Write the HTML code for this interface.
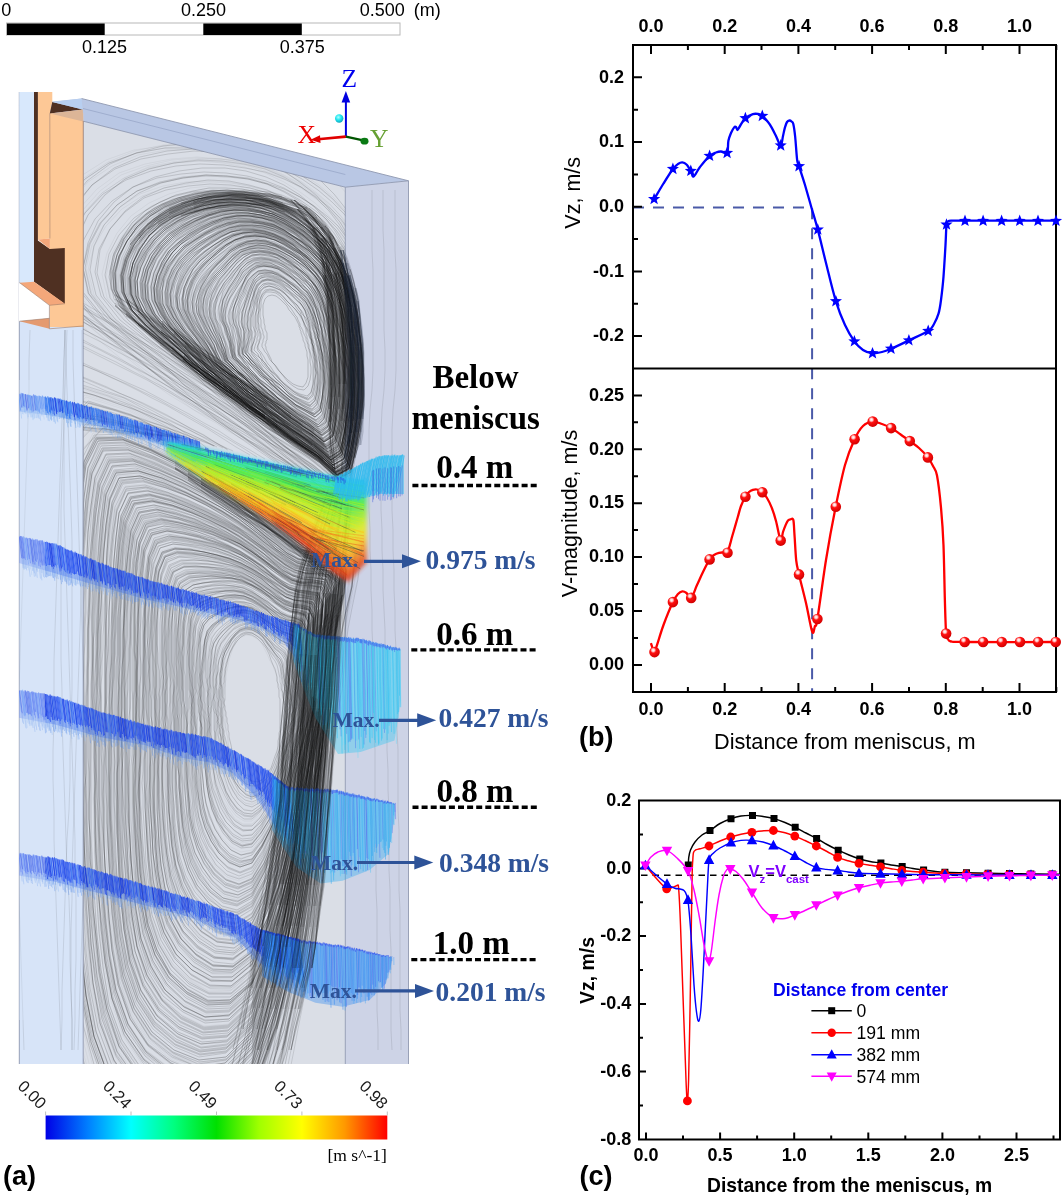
<!DOCTYPE html>
<html><head><meta charset="utf-8"><style>html,body{margin:0;padding:0;background:#fff;}svg{display:block;}</style></head><body>
<svg width="1063" height="1196" viewBox="0 0 1063 1196">
<rect x="6.5" y="23" width="393.5" height="12" fill="#fff" stroke="#b8b8b8" stroke-width="1"/>
<rect x="7" y="23.5" width="97.7" height="11.5" fill="#000"/>
<rect x="203.3" y="23.5" width="98.5" height="11.5" fill="#000"/>
<g font-family="Liberation Sans, Arial, sans-serif" font-size="18" fill="#000"><text x="1.2" y="16.3">0</text><text x="203.5" y="16.3" text-anchor="middle">0.250</text><text x="404.8" y="16.3" text-anchor="end">0.500</text><text x="413.8" y="16.3">(m)</text><text x="104.5" y="52.6" text-anchor="middle">0.125</text><text x="302.2" y="52.6" text-anchor="middle">0.375</text></g>
<rect x="19" y="300" width="64.5" height="764" fill="#d7e4f8"/>
<polygon points="83.2,121.2 345.3,187.2 345.3,1064 83.2,1064" fill="#dadee6"/>
<polygon points="345.3,187.2 408.5,180.8 408.5,1064 345.3,1064" fill="#cdd3e6"/>
<polygon points="18.5,104.9 81.5,98.5 408.5,180.8 345.3,187.2" fill="#b9c7e4"/>
<path d="M83,108.5 L345.3,174.5" stroke="#8d9cc0" stroke-width="0.6" fill="none"/>
<path d="M81.5,98.5 L408.5,180.8 L408.5,1064 M345.3,187.2 L408.5,180.8 M83.2,121.2 L345.3,187.2 L345.3,1064 M19.3,92 V1064 M83.2,121 V1064" fill="none" stroke="#9099b0" stroke-width="0.9"/>
<defs><clipPath id="cdom"><polygon points="19,328 83,328 83,121 345.3,187.2 408.5,180.8 408.5,1064 19,1064"/></clipPath><clipPath id="cface"><polygon points="83.6,121 345.3,187.2 345.3,1064 83.6,1064"/></clipPath><clipPath id="cfront"><polygon points="83.6,121 345.3,187.2 408.5,180.8 408.5,1064 83.6,1064"/></clipPath></defs>
<g clip-path="url(#cdom)">
<path d="M65,330l-1,30 -1,30 -1,30 -1,30 -1,30 -1,30 -1,30 -1,30 -1,30 -1,30 -1,30 0,30 0,30 -1,30 0,30 1,30 0,30 1,30 1,30 1,30 1,30 1,30 1,30 1,30M67,330l-1,30 -1,30 -1,30 -1,30 -1,30 -1,30 0,30 0,30 0,30 0,30 0,30 1,30 0,30 1,30 1,30 1,30 1,30 1,30 2,30 1,30 0,30 1,30 1,30 0,30M65,330l-1,30 0,30 0,30 0,30 0,30 0,30 1,30 1,30 1,30 1,30 1,30 1,30 1,30 1,30 1,30 1,30 1,30 0,30 1,30 0,30 0,30 -1,30 0,30 -1,30M73,330l0,30 1,30 1,30 1,30 1,30 1,30 1,30 1,30 1,30 1,30 1,30 1,30 0,30 0,30 1,30 -1,30 0,30 0,30 -1,30 -1,30 -1,30 -1,30 -1,30 -1,30M65,330l1,30 1,30 1,30 1,30 1,30 1,30 1,30 0,30 0,30 0,30 0,30 0,30 -1,30 -1,30 0,30 -1,30 -2,30 -1,30 -1,30 -1,30 -1,30 -1,30 0,30 -1,30M82,330l0,30 1,30 0,30 0,30 0,30 0,30 0,30 -1,30 -1,30 -1,30 -1,30 -1,30 -1,30 -1,30 -1,30 -1,30 -1,30 -1,30 0,30 -1,30 0,30 0,30 1,30 0,30M30,330l-1,30 0,30 -1,30 -1,30 -1,30 -1,30 -1,30 -1,30 -1,30 -1,30 -1,30 -1,30 -1,30 0,30 0,30 0,30 0,30 0,30 1,30 1,30 1,30 1,30 1,30 1,30M372,190l0,20 0,20 0,20 1,20 0,20 0,20 0,20 0,20 0,20 -1,20 -2,20 -1,20 0,20 0,20 0,20 0,20 1,20 0,20 1,20 0,20 1,20 0,20 1,20 0,20 0,20 1,20 0,20 1,20 0,20 0,20 0,20 1,20 0,20 0,20 0,20 1,20 0,20 0,20 0,20 0,20 0,20 1,20 0,20M383,190l0,20 0,20 1,20 0,20 0,20 0,20 0,20 1,20 0,20 -1,20 -2,20 -1,20 0,20 0,20 0,20 0,20 1,20 0,20 1,20 0,20 1,20 1,20 0,20 1,20 0,20 1,20 0,20 0,20 1,20 0,20 1,20 0,20 0,20 0,20 1,20 0,20 0,20 1,20 0,20 0,20 0,20 0,20 1,20M395,190l0,20 0,20 0,20 1,20 0,20 0,20 0,20 0,20 0,20 -1,20 -2,20 -1,20 0,20 0,20 0,20 0,20 1,20 0,20 1,20 0,20 1,20 0,20 1,20 0,20 0,20 1,20 0,20 1,20 0,20 0,20 0,20 1,20 0,20 0,20 0,20 1,20 0,20 0,20 0,20 0,20 0,20 1,20 0,20" fill="none" stroke="#222" stroke-opacity="0.22" stroke-width="0.5"/>
<path d="M83,363l15,7 15,6 15,7 16,7 15,8 15,8 15,8 15,9 15,8 15,10 16,9 15,9M83,388l12,4 13,4 12,5 13,5 12,5 13,5 12,5 13,6 12,6 13,6 12,6 13,6M83,315l19,11 20,11 19,12 19,11 20,13 19,13 19,13 20,14 19,15 19,15 20,15 19,16M83,333l18,9 17,10 18,9 17,10 18,11 17,11 18,11 18,12 17,12 18,13 17,13 18,13M83,377l12,5 12,5 12,6 12,5 12,5 12,6 12,6 12,7 13,7 12,6 12,8 12,7M83,329l18,10 17,9 18,10 17,10 18,11 17,11 18,12 17,12 18,13 18,13 17,13 18,14M83,424l8,1 9,1 8,1 9,1 8,1 9,1 8,2 9,1 8,2 9,1 8,1 9,2M83,322l19,10 19,11 20,11 19,11 19,12 19,12 20,13 19,13 19,14 19,15 20,15 19,14M83,319l19,10 19,11 20,11 19,12 19,12 19,12 20,14 19,13 19,15 19,14 20,15 19,15M83,317l18,11 19,10 18,11 18,12 19,11 18,13 19,13 18,14 18,14 19,14 18,15 18,15M83,418l8,1 8,1 9,2 8,1 8,2 8,2 8,1 8,2 9,2 8,2 8,2 8,2M83,329l19,10 19,10 18,10 19,11 19,11 19,11 18,13 19,12 19,13 19,14 18,14 19,14M83,418l8,1 9,2 8,1 8,2 8,1 9,2 8,2 8,1 9,2 8,2 8,2 8,2M83,430l7,0 8,1 7,0 8,1 7,0 8,1 7,0 8,1 7,1 7,0 8,1 7,0M83,392l11,3 11,4 11,4 11,4 11,4 10,4 11,5 11,5 11,5 11,5 11,5 11,6M83,427l8,1 8,1 8,0 8,1 8,1 8,1 8,1 8,1 8,1 8,1 8,1 8,1M83,430l8,1 8,1 8,0 8,1 8,0 8,1 8,0 8,1 8,1 8,0 8,1 8,1M83,340l17,9 16,8 17,9 16,9 17,10 16,10 17,10 16,11 17,12 16,12 17,11 16,13M83,322l18,10 18,11 18,10 18,11 18,11 18,12 18,13 18,13 19,13 18,14 18,14 18,15M83,309l20,11 19,12 20,12 20,12 20,13 19,14 20,14 20,15 20,15 19,16 20,16 20,16M83,381l12,5 11,5 12,4 12,5 11,5 12,6 11,6 12,6 12,6 11,6 12,7 12,6M83,392l11,3 11,4 11,4 12,4 11,4 11,5 11,5 11,4 11,6 11,5 11,5 12,6M83,342l17,8 17,9 17,9 18,9 17,10 17,10 17,10 17,11 17,12 17,11 18,12 17,12M83,365l14,6 14,6 14,7 14,7 13,7 14,7 14,8 14,8 14,8 14,9 14,9 14,8M83,365l15,6 14,7 15,6 14,7 15,7 14,8 15,8 14,8 15,9 14,8 15,9 14,9M83,308l21,12 21,12 21,12 21,13 21,13 21,14 21,15 21,15 21,16 21,16 21,16 21,17M83,303l21,12 21,13 21,12 21,13 21,14 22,14 21,16 21,15 21,16 21,17 21,17 21,17M83,414l8,2 8,1 9,2 8,2 8,2 8,2 9,2 8,2 8,2 8,3 9,2 8,2M83,406l10,3 9,2 10,3 9,2 10,3 10,3 9,3 10,3 10,3 9,4 10,3 9,4M83,378l12,5 12,5 12,5 12,5 12,6 12,6 12,6 12,6 12,7 12,6 12,7 12,7M83,306l20,12 20,12 19,12 20,12 20,14 20,13 20,15 19,15 20,16 20,16 20,16 20,17M83,429l7,0 7,1 7,0 7,1 7,0 7,1 7,0 7,1 7,0 7,1 7,1 7,0M83,402l11,3 11,3 11,3 11,4 11,3 11,4 11,3 11,4 11,4 11,5 11,4 11,4M83,427l7,1 8,0 7,1 8,1 7,0 7,1 8,1 7,1 8,1 7,1 7,0 8,1M83,348l16,8 16,8 16,8 16,8 16,9 16,9 16,10 16,10 16,11 16,11 16,11 16,11M83,405l9,2 10,3 9,2 9,3 10,3 9,3 10,3 9,3 9,3 10,4 9,3 9,4M83,401l11,3 11,3 11,3 11,4 10,3 11,4 11,4 11,4 11,4 11,4 11,4 11,5M83,416l8,2 8,1 8,2 8,1 8,2 8,2 8,1 8,2 8,2 8,3 9,2 8,2M83,428l7,0 7,1 7,0 7,1 7,0 7,1 6,1 7,0 7,1 7,1 7,0 7,1M83,346l16,8 17,8 16,9 16,8 17,9 16,10 17,10 16,10 16,11 17,11 16,12 16,11" fill="none" stroke="#222" stroke-opacity="0.25" stroke-width="0.5"/>
<g clip-path="url(#cfront)"><g fill="none" stroke="#111" stroke-linejoin="round"><path d="M285,708l0,2 0,3 -1,2 0,3 0,2 -1,3 0,3 -1,2 -1,3 0,4 -1,3 -1,4 -1,4 -1,5 -1,6 -2,6 -3,6 -4,7 -4,5 -5,3 -6,1 -6-3 -4-5 -4-6 -3-7 -3-6 -1-5 -2-6 -1-4 0-4 -1-4 0-3 -1-4 0-2 0-3 0-2 0-3 -1-2 0-2 0-2 0-2 -1-2 0-2 -1-2 0-3 0-2 -1-3 0-2 0-3 0-3 0-4 0-3 1-4 1-5 1-4 1-5 2-5 2-6 3-6 4-5 4-4 6-2 5,1 5,3 5,5 3,6 3,6 2,5 3,4 1,4 2,4 1,4 0,4 1,3 1,2 1,3 1,2 1,3 0,2 1,2 1,3 0,2 1,3zM283,708l0,2 0,3 -1,2 0,2 0,3 0,2 0,3 0,3 -1,3 0,4 -1,4 0,4 -1,5 -1,5 -2,5 -2,7 -3,6 -3,6 -5,5 -5,4 -6,0 -6-3 -5-5 -3-7 -3-7 -3-6 -1-6 -2-5 -1-4 0-4 -1-4 -1-3 0-3 -1-3 0-2 -1-3 0-2 -1-2 0-2 -1-3 0-2 0-2 0-2 0-2 1-3 0-2 0-2 1-3 0-2 0-3 1-3 0-3 1-3 0-5 1-4 1-5 1-6 2-6 2-6 4-7 4-5 5-3 6,0 5,2 5,4 5,5 3,5 3,5 3,4 3,4 2,4 1,5 1,4 0,4 1,4 0,3 0,3 0,3 0,3 0,3 0,3 0,2 0,3zM284,708l0,2 -1,3 -1,2 0,2 -1,2 0,3 0,2 -1,3 0,3 0,4 0,4 -1,4 0,6 -1,5 -1,7 -2,7 -2,8 -4,7 -5,7 -6,4 -6,2 -6-2 -6-5 -5-7 -3-8 -3-7 -2-7 -1-6 -1-6 0-5 0-4 -1-4 1-4 0-3 0-3 0-3 0-3 0-2 0-2 0-2 0-2 -1-2 0-2 0-2 -1-3 0-2 -1-3 0-3 0-3 -1-3 1-3 0-4 0-4 1-5 0-5 2-5 1-6 3-6 3-6 4-5 5-4 5-3 6,1 6,2 4,5 5,5 3,5 3,5 3,3 3,4 2,4 1,5 1,4 1,4 1,4 0,3 1,4 0,3 0,3 0,3 0,2 -1,3 0,3zM287,708l0,3 0,2 -1,3 0,3 0,2 0,3 0,3 -1,4 0,3 -1,4 0,4 -1,5 -1,5 -1,6 -2,7 -2,7 -3,8 -4,8 -5,7 -6,6 -7,4 -7-2 -6-6 -6-7 -4-8 -3-8 -2-8 -2-6 -1-7 -1-5 0-5 -1-5 0-4 0-3 -1-4 0-3 0-3 0-2 0-3 -1-3 0-2 0-3 0-3 0-2 0-3 0-3 1-3 0-3 0-3 0-3 0-4 1-4 0-4 1-5 1-6 1-6 2-5 3-6 4-5 4-5 5-4 6-2 6,1 6,3 5,4 4,5 4,5 3,5 3,3 4,3 2,5 0,6 1,5 0,4 1,4 0,3 0,4 1,3 0,3 0,2 0,3 1,3 0,2zM291,708l-1,3 0,3 0,3 -1,3 0,2 -1,4 0,3 -1,3 -1,3 -1,4 -1,4 -1,4 -1,5 -1,6 -2,6 -2,7 -3,8 -4,7 -5,8 -6,6 -7,4 -7-1 -7-5 -5-8 -4-8 -3-7 -3-8 -1-7 -1-6 -1-5 -1-5 -1-5 0-4 0-4 -1-3 0-3 1-3 0-3 0-3 0-3 0-2 1-3 0-2 0-3 1-2 0-3 0-2 1-3 0-3 0-3 0-4 0-4 0-5 0-5 1-6 1-6 2-6 2-6 4-5 4-6 5-4 6-3 6,1 6,3 5,4 5,5 4,4 3,5 4,3 3,3 3,5 1,6 0,5 1,5 0,4 1,3 1,4 0,3 0,3 1,3 0,3 0,3 1,3zM289,708l0,3 0,3 -1,2 0,3 -1,3 0,3 0,3 -1,3 -1,4 0,3 -1,5 -1,4 -1,6 -1,5 -1,7 -3,8 -2,8 -4,9 -5,8 -7,8 -7,5 -8-2 -6-5 -6-8 -5-8 -3-9 -2-8 -2-8 -1-6 -1-6 -1-6 0-5 0-4 0-4 -1-3 0-4 0-3 0-3 0-3 0-3 0-2 0-3 0-3 0-2 0-3 0-3 0-3 0-3 0-4 0-3 0-4 1-5 0-5 0-5 1-7 2-6 2-6 3-6 4-5 5-5 6-4 6-2 6,0 6,3 5,5 5,5 4,5 4,4 4,3 4,3 3,5 0,7 1,6 0,5 0,4 1,4 0,3 0,4 0,3 1,3 0,3 0,3 0,3zM291,708l0,3 0,3 0,3 0,3 0,3 -1,3 0,4 -1,3 -1,4 -1,4 -1,4 -1,5 -1,5 -2,6 -1,6 -3,8 -3,8 -4,9 -5,9 -6,7 -8,6 -8-1 -7-5 -6-8 -5-8 -3-9 -3-8 -2-8 -1-8 -1-6 -1-6 0-5 0-4 0-5 0-4 0-3 1-4 0-3 0-3 1-3 0-2 0-3 1-3 0-2 0-3 0-2 0-3 0-4 -1-3 0-4 -1-4 0-5 0-6 0-6 1-7 1-7 3-6 3-6 4-6 5-5 6-4 6-2 7,1 6,4 6,4 5,6 4,5 4,5 4,3 4,4 2,5 0,7 0,6 0,5 0,5 1,4 0,3 1,3 0,3 0,3 1,3 0,3 1,3zM293,708l0,3 -1,3 0,3 -1,3 -1,3 0,3 -1,3 -1,4 0,3 -1,4 -1,5 -1,5 -1,5 -1,6 -2,8 -2,8 -3,9 -4,9 -5,10 -7,9 -8,7 -8,0 -8-5 -7-9 -5-9 -4-9 -2-10 -2-8 -1-9 -1-7 0-6 0-5 0-5 0-5 0-4 0-4 0-3 0-3 0-3 0-3 0-3 0-3 0-3 -1-3 0-3 0-3 0-3 -1-4 0-4 0-4 0-5 0-5 1-5 0-6 1-7 2-7 3-6 4-5 5-5 5-4 6-3 7-1 6,1 6,3 6,5 4,5 5,5 4,4 4,3 4,2 3,6 0,6 1,6 0,6 1,4 1,4 0,3 1,4 0,3 1,4 0,3 0,3 0,3zM293,708l0,3 -1,3 0,3 -1,3 0,3 -1,4 0,3 -1,3 0,4 -1,4 -1,5 -1,5 -1,6 -1,6 -2,7 -2,8 -3,10 -5,9 -5,10 -7,10 -8,7 -9,0 -8-5 -6-9 -6-9 -4-10 -2-9 -2-9 -2-8 -1-7 0-7 -1-5 0-5 -1-5 0-4 0-4 -1-3 0-4 0-3 0-3 0-4 0-3 0-3 0-3 1-4 0-3 1-3 0-4 0-3 1-4 0-5 1-4 0-6 1-5 1-7 2-7 3-5 4-5 5-5 5-5 5-3 7-1 6,1 6,3 6,4 5,4 4,5 4,3 5,3 4,2 3,6 1,6 0,7 1,5 0,5 1,4 0,4 0,4 1,3 0,3 0,4 0,3 0,3zM292,708l0,3 -1,3 0,3 -1,3 0,3 -1,3 0,3 -1,4 0,3 -1,4 -1,5 -1,5 -1,5 -1,7 -1,7 -3,9 -3,9 -4,10 -5,10 -7,10 -8,8 -9,0 -8-5 -7-8 -5-10 -4-10 -3-9 -2-10 -1-8 -1-7 0-7 0-6 0-5 0-4 0-5 0-4 0-3 0-4 0-3 0-3 0-3 0-3 0-3 0-3 -1-3 0-4 0-3 0-4 0-4 0-4 0-5 0-5 0-6 1-7 0-7 2-7 4-7 4-5 5-5 5-5 6-3 7-1 7,1 7,3 5,5 6,5 4,5 5,4 5,3 4,2 3,6 0,8 1,6 0,6 0,5 0,5 1,4 0,3 0,4 0,3 0,4 0,3 -1,3zM292,708l0,3 -1,3 0,3 0,3 -1,3 0,3 0,4 -1,3 0,4 -1,4 -1,5 0,5 -1,6 -2,7 -1,8 -3,8 -3,10 -4,11 -5,10 -7,11 -9,8 -9,0 -9-5 -7-9 -5-9 -5-11 -3-10 -1-10 -2-8 0-8 -1-7 0-6 0-6 0-5 1-4 0-4 0-4 0-3 0-4 0-3 0-3 0-3 0-3 0-3 0-3 0-4 -1-3 0-4 0-4 0-5 0-5 0-5 0-6 1-7 1-7 2-7 3-6 5-5 5-5 5-4 7-3 6-1 7,1 6,4 6,5 5,5 5,5 4,4 5,3 4,2 3,6 0,7 0,7 0,5 1,5 0,4 1,4 0,4 0,3 0,4 0,3 0,3 0,3zM296,708l0,3 -1,3 -1,4 -1,3 -1,3 0,3 -1,3 -1,4 -1,3 -1,4 -1,5 -1,5 -1,6 -1,6 -2,8 -2,9 -3,10 -4,11 -5,12 -7,11 -9,10 -10,1 -8-5 -8-8 -6-10 -5-11 -3-10 -2-11 -1-9 -1-8 0-8 0-6 0-6 1-5 0-5 0-4 1-4 0-4 0-3 0-4 0-3 0-3 0-3 0-3 0-4 -1-3 0-4 0-4 -1-4 0-5 0-5 0-6 0-7 0-7 1-8 2-7 4-6 5-5 6-5 6-4 6-2 7-1 7,2 7,3 6,5 5,5 5,5 4,4 5,2 5,3 3,5 1,8 0,7 0,6 1,5 0,4 1,4 1,4 0,4 0,3 0,4 0,3 0,4zM294,708l-1,3 -1,3 0,3 0,3 -1,3 0,4 0,3 -1,4 0,4 -1,4 -1,5 -1,5 -1,6 -1,7 -2,8 -2,9 -3,10 -4,10 -6,12 -7,11 -9,10 -10,1 -8-5 -8-9 -6-11 -4-11 -3-10 -2-11 -1-9 -1-8 0-7 0-7 -1-5 0-5 0-5 0-4 0-4 0-4 0-3 0-3 0-4 -1-3 0-3 0-4 0-3 0-4 0-4 0-4 0-4 0-5 0-5 0-6 0-6 1-8 0-8 3-8 3-6 5-5 6-5 6-4 7-3 7-1 7,1 7,3 6,5 6,5 5,5 5,4 5,2 5,3 3,6 1,8 0,8 0,7 0,5 0,5 0,4 0,4 0,4 -1,4 0,3 0,4 0,3zM298,708l0,3 -1,4 -1,3 0,4 -1,3 -1,3 0,4 -1,4 -1,4 -1,4 -1,5 -1,5 -2,6 -1,7 -2,8 -2,9 -3,10 -5,12 -5,12 -8,12 -9,11 -10,2 -9-6 -8-9 -7-10 -5-11 -3-12 -2-11 -1-10 -1-9 0-8 0-7 1-6 0-6 1-5 1-4 1-4 0-4 1-4 0-3 0-3 0-3 0-3 0-3 -1-4 0-3 -1-4 -1-4 -1-5 0-5 -1-6 0-6 0-7 0-8 1-8 2-8 4-6 6-5 5-5 7-3 7-3 7,0 7,2 7,4 6,5 5,5 5,5 5,4 5,3 5,2 3,6 0,8 0,8 0,6 1,5 0,4 1,4 1,4 0,4 1,3 0,4 0,3 1,4zM300,708l0,4 0,3 -1,4 -1,3 0,4 -1,4 -1,4 -1,3 -1,4 -1,5 -2,4 -1,6 -1,6 -2,6 -2,8 -3,9 -3,11 -4,11 -6,13 -8,13 -9,12 -10,2 -10-5 -8-10 -7-11 -5-12 -3-12 -2-11 -1-11 0-9 -1-8 0-7 0-6 0-5 0-5 0-5 0-4 0-4 0-3 -1-4 0-3 -1-4 0-4 -1-3 0-4 0-5 -1-4 0-5 0-5 0-5 0-6 0-7 0-7 1-8 1-9 3-8 5-6 6-4 6-4 7-3 7-2 8,0 7,2 7,4 6,5 6,5 5,5 5,4 6,2 5,2 3,7 1,8 0,8 0,6 0,6 1,4 1,5 0,4 1,4 0,3 0,4 1,4 0,3zM299,708l0,3 -1,4 0,3 -1,4 -1,3 0,4 -1,4 -1,4 -1,4 0,5 -2,5 -1,5 -1,6 -2,7 -1,9 -3,9 -3,11 -5,12 -6,14 -7,13 -10,13 -11,2 -10-5 -9-9 -7-11 -5-12 -4-12 -2-12 -1-11 -1-9 0-9 -1-7 0-6 0-6 0-6 1-5 0-4 0-5 0-4 0-3 0-4 0-4 0-4 1-3 0-4 0-4 0-4 0-5 0-4 0-5 0-6 0-6 1-7 0-8 1-9 2-8 5-6 6-4 6-4 6-4 7-2 8,0 7,1 7,4 6,5 6,4 5,5 5,3 6,2 6,2 3,7 0,8 0,8 0,7 1,5 0,5 1,5 0,4 0,4 1,4 0,3 0,4 0,3zM300,708l-1,4 0,3 -1,4 -1,3 0,4 -1,3 0,4 -1,4 -1,4 -1,5 -1,5 -1,6 -1,6 -2,7 -2,9 -2,10 -4,11 -4,13 -6,14 -8,15 -10,13 -11,3 -11-4 -9-10 -7-11 -6-13 -4-13 -2-12 -1-12 -1-10 -1-8 0-8 0-7 0-6 0-6 1-5 0-5 0-4 0-4 0-4 1-4 0-4 0-4 0-4 0-4 0-4 0-4 0-5 0-5 0-5 -1-6 0-7 1-7 0-9 1-9 3-9 5-6 6-4 6-4 7-3 8-2 7,0 8,2 7,4 7,4 6,5 5,5 5,3 6,3 6,2 4,6 0,9 0,9 0,7 0,5 0,5 1,5 0,4 0,4 0,4 0,4 1,4 0,3zM300,708l0,4 -1,3 0,4 0,3 -1,4 0,4 -1,4 0,4 -1,5 -1,5 -1,5 -1,6 -2,7 -1,7 -2,9 -3,10 -3,12 -5,13 -6,15 -9,16 -10,14 -12,4 -11-5 -10-10 -7-12 -6-13 -4-14 -3-13 -1-12 -1-10 0-10 0-8 -1-7 0-6 1-6 0-5 0-5 0-5 0-4 0-5 0-4 0-4 0-4 0-4 0-4 0-5 1-4 0-5 0-5 0-6 0-6 0-7 0-8 1-8 1-10 3-9 5-6 7-3 7-4 7-2 8-2 7,0 8,2 7,4 7,5 6,5 5,5 6,3 6,2 6,2 3,7 0,9 0,9 0,7 0,5 0,5 1,5 0,4 0,5 0,3 0,4 1,4 0,3zM301,708l-1,4 0,3 -1,4 0,3 -1,4 -1,4 0,4 -1,4 -1,4 -1,5 -1,5 -1,6 -1,7 -2,8 -2,9 -2,10 -3,13 -5,13 -6,17 -8,17 -11,17 -12,4 -12-4 -10-10 -9-12 -6-14 -4-15 -3-14 -1-13 -1-11 0-9 0-9 0-7 0-7 0-6 0-6 0-5 0-5 0-5 0-4 -1-5 0-4 0-4 0-5 0-5 0-4 -1-5 0-6 0-6 0-6 0-7 0-8 0-8 1-10 1-11 4-9 6-6 7-4 8-3 8-2 8-1 9,0 8,3 8,4 7,5 6,6 6,5 6,3 7,2 6,2 3,7 1,11 -1,9 0,8 0,6 0,6 0,5 0,4 0,5 0,4 0,4 0,4 0,3zM302,708l-1,4 0,3 0,4 0,4 0,4 -1,4 0,5 -1,4 -1,5 -1,5 -1,5 -2,6 -1,7 -2,8 -2,9 -3,10 -3,13 -5,14 -6,16 -9,18 -11,17 -13,5 -12-4 -11-10 -8-13 -7-14 -4-15 -2-14 -2-14 -1-11 0-10 0-9 0-8 0-7 0-7 1-5 0-6 0-5 0-5 0-4 0-5 0-4 -1-4 0-5 0-5 0-5 0-5 -1-5 0-6 -1-7 0-7 0-8 0-9 1-10 1-11 4-11 6-6 8-3 8-3 9-2 8,0 9,0 8,4 8,5 7,5 6,6 6,5 6,4 6,2 6,3 3,7 0,10 -1,10 0,8 0,6 0,5 0,5 0,4 0,4 1,4 0,4 1,4 0,3zM302,708l0,4 -1,3 -1,4 0,4 -1,3 -1,4 0,4 -1,4 -1,5 -1,5 -1,5 -1,6 -1,7 -2,8 -2,10 -2,11 -3,12 -5,15 -6,17 -9,19 -11,18 -13,5 -12-4 -11-10 -9-13 -7-14 -4-15 -3-15 -1-14 -1-12 0-10 0-9 0-8 0-8 1-6 0-6 0-6 0-5 0-4 0-5 0-4 -1-5 0-5 0-4 0-5 -1-5 0-5 0-6 0-6 -1-7 0-7 1-8 0-9 1-10 1-11 4-10 6-5 8-3 8-3 9-2 8,0 9,1 8,3 8,4 7,5 6,6 6,4 6,4 7,1 7,2 3,8 0,10 0,9 -1,8 1,6 0,6 1,5 0,5 0,4 0,4 0,4 0,4 0,4zM303,708l-1,4 -1,3 0,4 -1,4 0,4 -1,4 0,4 -1,4 -1,5 0,5 -1,6 -1,7 -1,7 -2,8 -2,10 -2,12 -4,13 -5,16 -6,18 -9,20 -12,20 -14,6 -13-5 -12-10 -9-14 -7-15 -4-17 -3-16 -1-15 0-13 -1-10 0-10 0-8 0-8 1-6 -1-6 0-6 0-5 -1-5 -1-5 0-5 -1-5 -1-5 0-5 -1-6 0-5 0-6 -1-7 0-6 0-8 0-7 1-9 1-10 1-10 2-12 3-11 8-5 9-2 9-2 9-1 9,0 9,1 9,3 8,5 7,6 7,5 7,4 6,4 7,1 8,2 3,8 1,11 -1,10 -1,9 0,6 0,6 1,6 -1,5 0,5 0,4 0,4 -1,4 0,4zM304,708l0,4 -1,4 0,4 -1,3 0,5 -1,4 0,4 -1,5 -1,5 0,5 -1,6 -1,7 -2,7 -2,9 -2,10 -2,11 -4,14 -5,16 -7,18 -9,21 -12,20 -14,7 -14-4 -12-11 -9-14 -8-16 -4-16 -3-17 -1-15 -1-13 0-12 -1-9 0-9 0-8 1-7 0-6 0-6 -1-5 0-6 -1-5 0-5 0-5 0-5 -1-5 0-6 1-5 0-6 0-6 0-6 0-7 0-8 0-9 1-9 1-11 1-12 4-11 8-5 8-2 9-2 9-2 9,0 9,1 9,3 8,5 8,5 6,5 7,4 7,3 7,1 8,2 4,8 0,11 -1,11 0,8 0,7 0,6 0,6 0,5 0,5 -1,5 0,4 0,4 0,4zM305,708l0,4 -1,4 0,4 -1,4 0,4 -1,4 -1,5 -1,4 -1,5 -1,5 -1,6 -1,6 -2,7 -1,9 -2,9 -3,12 -3,14 -5,16 -7,19 -9,22 -12,21 -14,8 -14-4 -13-10 -10-13 -7-16 -6-17 -2-17 -2-15 -1-13 -1-12 0-10 0-9 0-8 0-7 0-7 0-6 0-6 -1-6 0-5 0-6 0-5 0-5 0-6 0-5 0-6 0-6 0-6 0-7 1-7 0-8 0-9 1-10 1-11 1-12 4-11 8-5 9-3 10-1 9-1 9,0 9,2 9,3 8,5 8,6 6,5 7,5 6,3 8,1 7,2 4,8 0,11 -1,11 0,8 0,7 0,6 0,5 0,5 0,5 0,5 0,4 0,4 0,4zM309,708l0,4 -1,4 -1,5 0,4 -1,4 -1,5 -1,4 -1,5 -1,5 -2,5 -1,6 -2,6 -1,7 -2,8 -2,10 -3,12 -4,14 -5,17 -6,19 -9,23 -13,23 -15,8 -14-4 -13-10 -11-14 -7-16 -6-17 -3-18 -1-16 -1-13 -1-12 0-11 -1-9 0-8 0-8 0-7 1-7 0-6 -1-5 0-6 0-6 0-5 0-5 0-6 0-6 1-5 0-6 0-7 0-7 0-7 0-8 1-9 0-10 1-12 1-13 4-11 9-5 9-2 10-1 10,0 9,0 9,2 9,3 8,5 8,6 7,5 6,5 7,2 8,2 7,1 4,8 0,12 0,10 -1,9 0,7 1,6 0,5 1,5 0,5 0,5 1,4 0,4 0,5zM306,708l-1,4 -1,4 -1,4 0,4 -1,4 -1,4 -1,4 -1,4 0,5 -1,5 -1,6 -1,7 -1,8 -2,8 -2,11 -2,12 -3,15 -5,17 -7,21 -9,23 -13,24 -15,9 -15-4 -13-10 -11-14 -8-17 -6-18 -3-18 -1-16 -1-14 0-13 -1-11 0-9 0-9 1-8 0-7 0-6 0-6 0-6 -1-6 0-5 0-6 -1-6 0-5 0-6 0-6 0-7 -1-6 0-8 1-7 0-9 0-9 1-11 1-11 2-13 4-11 9-5 10-2 10-1 10,0 10,1 9,2 9,4 8,5 8,6 7,5 7,4 6,3 8,1 8,2 4,8 0,11 -1,11 0,9 0,7 0,6 1,6 0,5 0,5 0,5 -1,4 0,5 0,4zM307,708l0,4 -1,4 -1,4 0,4 -1,5 0,4 -1,4 -1,5 -1,5 -1,5 -1,6 -2,7 -1,7 -2,9 -2,10 -2,13 -4,14 -5,18 -7,21 -9,24 -13,25 -16,9 -15-3 -13-10 -12-14 -8-17 -6-18 -3-18 -2-17 -1-14 -1-13 -1-11 0-10 -1-8 0-9 0-7 0-7 0-7 0-6 0-6 0-6 0-6 0-6 1-6 0-6 0-6 1-6 0-7 0-7 0-8 1-9 0-9 1-11 1-12 1-14 4-12 9-5 11-1 10-1 10,0 10,0 10,2 9,4 9,6 7,5 8,6 6,4 8,3 7,2 8,2 4,8 0,12 -1,12 -1,9 0,7 0,6 0,6 0,5 0,5 0,5 0,4 0,5 0,4zM306,708l0,4 0,4 -1,4 0,4 0,5 -1,4 0,5 -1,5 0,5 -1,6 -1,6 -2,7 -1,8 -2,9 -2,11 -3,13 -4,14 -5,18 -7,21 -10,25 -13,24 -16,9 -15-3 -14-11 -11-15 -9-17 -5-19 -3-19 -2-17 -1-15 0-13 -1-11 0-10 0-8 0-8 0-8 0-7 0-6 -1-6 0-6 0-6 -1-6 0-6 0-6 1-6 0-6 0-7 0-6 0-8 1-8 0-8 0-10 1-11 1-12 2-14 4-12 9-5 10-1 11-1 10,0 10,0 10,2 9,4 9,5 8,6 7,5 7,4 7,3 9,1 8,2 4,9 0,12 -2,12 0,9 -1,8 0,7 0,6 0,5 -1,5 0,5 0,4 0,5 0,4zM305,708l0,4 0,4 -1,4 0,4 -1,4 0,5 0,4 -1,5 -1,5 -1,6 -1,6 -1,7 -1,8 -2,9 -2,11 -2,13 -4,16 -5,18 -7,22 -9,26 -14,26 -16,10 -16-3 -14-11 -12-14 -9-18 -6-19 -4-19 -1-18 -1-16 -1-13 0-12 0-10 0-9 0-9 1-8 0-7 0-7 0-6 0-6 0-6 0-6 -1-6 0-6 0-6 0-7 0-6 -1-8 0-8 0-8 0-10 0-10 1-12 0-13 2-14 5-13 9-5 12-1 11-1 11,0 10,2 10,2 10,5 9,6 8,6 7,6 8,5 7,3 8,2 8,2 4,9 -1,13 -1,12 -2,10 0,7 0,7 -1,6 0,5 0,5 0,4 0,5 -1,4 0,4zM305,708l0,4 -1,4 0,4 0,4 0,5 0,4 0,5 -1,5 0,6 -1,5 -1,7 -1,7 -2,8 -1,9 -2,11 -3,13 -4,16 -5,19 -7,22 -10,27 -14,27 -17,10 -16-2 -15-11 -12-14 -9-18 -7-20 -3-20 -2-18 -1-16 -1-13 -1-12 0-11 0-10 0-9 0-8 0-7 0-7 0-7 0-6 0-7 0-6 0-6 0-7 1-6 0-7 0-7 0-7 0-8 0-8 0-10 1-10 0-12 1-14 2-14 5-13 9-5 12-1 11,0 11,0 11,1 10,3 10,5 9,6 8,6 8,6 7,5 7,3 8,2 8,2 4,10 -1,13 -2,12 -1,10 -1,8 0,6 0,6 -1,5 0,5 -1,5 0,4 0,4 0,4zM310,708l-1,4 0,5 0,4 0,4 -1,5 -1,5 -1,4 -1,5 -1,5 -1,6 -2,6 -2,6 -1,8 -2,9 -2,10 -3,13 -4,16 -5,19 -6,23 -10,27 -14,28 -17,11 -16-2 -15-10 -13-14 -9-18 -7-20 -3-20 -3-18 -1-16 -1-13 -1-12 0-11 -1-10 0-9 1-8 0-8 0-7 0-7 0-7 0-7 1-6 0-6 0-7 0-6 1-7 0-7 0-8 0-8 0-8 0-10 0-11 0-12 1-14 2-15 5-13 10-5 12-1 12,0 11,1 11,2 10,3 10,5 9,7 8,6 8,6 7,5 7,4 8,1 8,3 4,9 -1,13 -1,12 -2,10 0,7 0,6 0,6 0,5 1,5 0,5 0,4 1,4 0,5zM311,708l0,4 -1,5 0,4 0,5 0,5 -1,5 0,5 -1,5 -1,6 -2,6 -1,6 -2,7 -1,8 -3,9 -2,11 -3,13 -4,16 -5,19 -8,23 -10,27 -14,29 -17,11 -17-3 -15-11 -13-15 -9-19 -6-20 -4-21 -1-19 -1-16 -1-14 -1-12 0-11 0-10 0-9 -1-8 0-7 0-7 0-7 -1-7 0-6 0-7 0-7 0-6 0-7 0-7 1-7 0-7 0-9 1-8 0-10 0-11 1-12 1-13 2-15 5-13 10-5 12,0 12,0 11,1 11,2 10,3 10,4 9,6 8,6 8,5 7,5 8,3 9,1 8,2 5,8 -1,14 -1,12 -1,10 0,8 0,7 0,6 -1,6 0,5 0,5 0,5 1,4 0,5zM313,708l0,5 -1,4 0,5 0,4 -1,5 -1,5 -1,5 -1,5 -1,6 -2,5 -1,7 -2,7 -2,8 -2,9 -2,12 -3,13 -3,17 -6,20 -7,25 -10,29 -15,31 -18,13 -18-2 -16-10 -14-15 -10-19 -7-22 -4-21 -2-20 -1-18 -1-15 -1-13 0-12 0-11 1-9 0-9 1-9 0-7 0-7 0-7 0-7 0-7 0-7 0-7 0-6 0-8 0-7 0-8 0-9 0-10 0-10 0-12 0-13 1-14 2-16 5-14 12-5 13,0 12,1 12,2 12,3 11,4 10,6 9,6 9,7 7,6 8,6 7,3 9,1 8,2 4,9 0,14 -2,13 -1,10 -1,7 0,7 1,6 0,5 0,5 1,5 0,4 1,5 0,4zM310,708l0,4 -1,5 0,4 -1,4 -1,5 0,4 -1,5 -1,5 0,6 -1,6 -1,6 -2,8 -1,8 -2,10 -2,12 -3,14 -3,16 -5,21 -8,25 -10,30 -15,31 -18,12 -18-2 -16-10 -14-15 -10-20 -7-21 -4-22 -2-20 -1-18 -1-15 -1-13 0-11 0-11 0-10 0-8 0-9 -1-7 0-8 0-7 0-7 0-7 0-7 0-7 1-7 0-7 0-8 1-8 0-9 0-9 1-10 0-11 1-13 1-14 2-16 5-14 12-4 13,0 12,1 12,2 11,2 11,4 10,5 9,6 9,6 8,5 7,5 8,2 9,1 9,2 5,9 0,14 -2,13 -1,10 0,9 -1,7 0,6 0,6 0,5 0,6 -1,4 0,5 0,5zM310,708l0,4 -1,5 -1,4 0,4 -1,5 -1,4 0,5 -1,5 -1,5 -1,6 -1,7 -2,7 -1,8 -1,10 -2,12 -3,14 -3,17 -5,21 -8,26 -10,30 -15,32 -18,14 -19-2 -16-10 -14-15 -11-20 -7-22 -4-22 -2-21 -1-18 -1-15 0-14 0-12 0-10 0-10 0-9 0-9 0-7 0-8 0-7 0-7 -1-7 0-7 0-7 0-7 0-8 0-8 0-8 -1-10 0-9 1-11 0-12 1-14 1-15 2-16 6-14 11-5 14,0 13,2 12,2 12,2 11,5 11,5 10,7 8,6 8,6 8,5 8,3 9,2 9,2 5,9 -1,15 -2,13 -1,10 0,9 -1,7 0,6 0,6 0,6 0,5 -1,4 0,5 0,5zM313,708l0,5 -1,4 0,5 -1,4 -1,5 -1,4 -1,5 -1,5 -2,6 -1,5 -1,7 -2,7 -1,8 -2,9 -2,12 -3,14 -3,17 -5,21 -8,25 -10,31 -15,32 -18,14 -19-1 -16-11 -14-15 -11-19 -7-22 -4-22 -3-21 -1-17 -1-16 0-13 0-13 0-11 0-10 0-9 1-8 0-8 0-8 0-7 0-7 0-7 0-7 0-7 0-7 0-8 0-8 -1-8 0-9 0-10 0-11 0-12 1-13 1-15 2-17 6-14 12-5 13,1 13,1 13,3 11,3 12,4 10,6 9,7 9,6 8,7 7,5 8,3 9,1 9,2 4,10 -1,14 -1,13 -2,10 0,8 0,7 1,6 0,5 0,5 0,5 1,5 0,5 0,4zM313,708l0,5 0,4 0,5 0,5 -1,5 0,5 -1,5 -1,5 -1,6 -2,6 -1,7 -2,8 -2,8 -1,10 -3,12 -3,15 -3,18 -6,22 -7,27 -11,33 -16,35 -20,16 -19-1 -18-11 -15-15 -12-21 -8-23 -4-24 -3-22 -1-19 -1-17 -1-15 0-13 0-12 0-10 1-10 0-10 1-8 0-8 0-8 0-8 0-7 0-7 0-8 0-8 0-8 0-8 0-9 -1-10 0-11 0-11 0-13 1-15 1-16 2-18 6-15 13-4 15,1 14,2 14,4 12,4 12,5 11,6 10,8 9,7 8,7 7,6 8,3 9,1 9,3 4,10 -1,15 -2,13 -2,11 0,8 0,7 0,6 0,6 0,5 0,5 1,4 0,5 1,4zM314,708l0,5 -1,4 0,5 0,5 0,5 -1,5 0,5 -1,6 -1,6 -2,6 -1,7 -2,8 -2,8 -2,10 -2,12 -3,15 -4,18 -5,22 -8,29 -11,34 -16,36 -20,16 -20-1 -18-11 -16-15 -12-21 -8-24 -4-25 -2-23 -2-19 -1-17 -1-14 -1-14 0-11 0-11 -1-10 0-10 0-8 0-9 -1-8 0-8 0-8 1-8 0-8 0-8 1-9 0-8 0-10 0-9 1-11 0-12 0-13 1-15 1-17 2-18 7-16 13-4 15,1 15,3 14,3 13,4 12,5 11,6 10,7 10,7 8,7 8,5 9,3 10,1 9,3 5,10 -1,16 -3,14 -1,12 -1,9 -1,8 0,6 0,6 -1,6 0,5 0,5 0,5 0,4zM313,708l-1,5 0,4 0,5 0,4 0,5 -1,6 0,5 -1,6 0,6 -1,7 -2,7 -1,8 -2,9 -2,10 -2,13 -3,15 -4,18 -5,23 -8,28 -12,35 -16,36 -20,16 -21,0 -18-12 -16-16 -12-21 -8-25 -4-25 -3-23 -1-20 -1-17 -1-15 0-13 -1-12 0-11 -1-10 0-9 0-9 -1-8 0-9 0-8 0-8 0-8 0-8 0-9 1-8 0-9 0-9 1-10 0-11 1-12 1-13 1-14 1-17 2-18 7-16 13-4 16,2 14,3 14,3 13,4 12,5 11,7 10,7 9,6 9,6 8,5 9,3 10,1 10,2 4,10 -1,16 -2,15 -2,11 -1,9 0,8 -1,7 0,6 -1,6 0,5 0,5 0,5 0,4zM312,708l-1,4 0,5 -1,4 -1,5 -1,4 0,5 -1,5 0,5 -1,6 0,7 -1,7 -1,8 -1,10 -1,11 -2,13 -3,16 -4,19 -5,24 -8,30 -11,36 -17,38 -21,17 -21-1 -19-11 -16-16 -13-22 -8-26 -4-26 -2-24 -2-21 0-17 -1-16 0-14 0-12 0-11 0-11 0-9 0-9 0-8 -1-9 -1-8 0-8 0-8 -1-9 0-8 0-9 0-9 0-10 0-10 1-12 0-12 1-13 1-15 2-17 2-19 7-15 14-4 16,2 15,4 14,4 14,4 12,6 11,6 10,8 10,6 8,6 9,5 9,3 10,0 10,2 5,10 -1,16 -2,15 -2,11 0,10 -1,7 0,7 0,7 -1,6 -1,5 0,6 -1,5 -1,4zM315,708l-1,5 -1,4 -1,5 -1,4 0,5 -1,5 -1,5 -1,5 -1,6 -1,6 -1,7 -2,7 -1,10 -1,10 -2,13 -3,16 -3,20 -5,24 -8,31 -11,37 -17,39 -21,18 -22,1 -19-11 -17-16 -13-21 -9-26 -5-26 -2-24 -2-21 -1-18 -1-17 0-14 0-13 1-12 0-11 1-10 0-9 0-9 0-8 0-9 1-8 0-8 0-8 0-9 0-9 0-9 0-10 0-10 0-11 0-13 1-14 0-15 2-18 2-19 7-16 14-4 16,3 15,3 15,4 13,5 13,6 11,7 10,7 10,7 8,6 9,6 9,2 10,1 10,2 5,10 -1,16 -2,15 -2,11 0,10 0,7 0,7 -1,7 0,5 0,6 0,5 -1,5 0,5zM316,708l0,5 0,5 -1,4 0,5 -1,5 0,6 -1,5 -1,6 -1,6 -2,6 -1,7 -2,8 -1,9 -2,11 -3,12 -3,16 -3,19 -6,24 -8,29 -11,37 -17,39 -21,18 -21-1 -20-10 -16-17 -13-21 -9-26 -4-26 -3-24 -2-21 -1-18 -1-15 0-14 0-13 0-12 0-10 0-10 0-10 0-9 0-8 0-9 1-8 0-8 0-9 1-8 0-9 0-9 0-9 1-11 0-11 0-12 0-14 1-15 1-18 2-19 7-16 14-4 16,2 15,3 15,4 13,4 13,6 11,6 10,8 10,7 9,6 8,5 9,3 10,1 10,2 5,10 -1,17 -2,15 -2,12 0,9 -1,8 0,7 0,6 -1,6 0,5 0,5 0,5 0,5zM315,708l0,5 0,4 -1,5 0,5 0,5 -1,5 -1,6 -1,5 -1,6 -1,7 -2,7 -1,8 -2,9 -2,10 -2,13 -3,15 -3,20 -6,23 -8,31 -11,37 -17,39 -21,18 -22,1 -19-11 -17-16 -13-22 -9-25 -5-27 -2-24 -2-21 -1-18 -1-16 -1-14 0-13 0-12 0-11 0-10 0-9 0-9 0-9 0-9 1-8 0-8 0-9 1-8 0-9 0-10 0-9 0-11 0-11 1-13 0-14 1-16 1-18 2-19 7-17 14-4 17,2 15,4 15,4 14,5 12,5 12,7 11,8 9,7 9,7 8,5 9,4 10,1 10,2 5,11 -1,16 -3,15 -2,12 -1,10 0,7 0,7 -1,6 0,6 0,6 0,5 0,4 0,5zM319,708l0,5 -1,5 0,5 0,5 -1,6 0,5 -1,6 -1,6 -1,6 -2,7 -1,7 -2,8 -2,10 -2,11 -2,13 -3,17 -4,20 -6,26 -8,33 -12,40 -18,44 -23,21 -23,1 -22-11 -18-16 -15-24 -9-28 -5-29 -3-26 -2-23 -1-19 -1-18 -1-15 0-14 -1-13 0-11 0-11 0-11 0-10 -1-9 0-10 1-9 0-9 0-10 0-9 1-10 0-10 0-11 1-12 0-12 0-14 1-15 1-18 1-19 3-21 8-18 16-3 18,3 18,5 16,6 14,6 14,7 12,8 11,8 10,8 9,7 9,5 10,4 11,0 10,2 5,12 -1,18 -3,16 -2,12 -1,10 -1,8 0,7 0,7 0,6 0,5 0,6 0,5 0,5zM320,708l0,5 -1,5 0,5 -1,5 -1,6 -1,5 -1,5 -1,6 -1,6 -2,7 -1,7 -2,8 -2,9 -2,11 -2,14 -3,16 -3,21 -6,26 -8,34 -12,41 -18,44 -23,22 -24,1 -21-10 -19-17 -15-23 -9-28 -6-29 -3-27 -1-23 -2-20 -1-17 0-16 0-14 0-13 0-12 1-12 0-10 0-10 1-10 0-9 0-9 1-9 0-9 0-10 0-9 0-10 0-11 0-12 0-12 0-14 0-16 1-17 1-20 3-22 7-18 16-3 19,3 17,5 16,6 15,6 14,7 12,8 11,8 10,8 10,7 9,5 9,3 11,1 11,2 5,12 -1,17 -3,16 -2,13 -1,10 0,8 0,7 0,7 0,6 0,6 0,5 0,6 0,5zM318,708l-1,5 -1,5 -1,4 -1,5 0,5 -1,5 -1,6 -1,5 0,7 -1,7 -1,7 -1,9 -2,10 -1,11 -2,15 -3,17 -3,22 -6,27 -8,34 -12,42 -19,46 -24,22 -24,2 -22-11 -20-17 -14-24 -10-29 -6-30 -3-27 -1-24 -1-21 -1-18 0-16 0-15 0-13 0-12 0-12 0-10 0-10 0-10 0-10 0-9 0-9 0-10 0-10 1-10 0-10 0-11 0-12 0-13 0-14 1-16 1-18 2-19 3-22 7-18 17-3 19,4 18,6 16,6 15,7 14,7 12,8 11,9 10,7 10,7 9,5 9,3 11,0 11,2 6,12 -2,17 -2,16 -2,13 -1,10 0,8 -1,8 0,7 0,6 -1,6 0,6 -1,5 -1,5zM321,708l-1,5 0,5 -1,5 0,6 -1,5 -1,5 -1,6 -1,6 -1,6 -2,7 -1,8 -2,8 -1,10 -2,11 -2,14 -3,17 -4,22 -5,27 -9,36 -12,43 -19,48 -24,23 -25,2 -23-10 -20-17 -15-24 -11-30 -5-30 -4-28 -2-25 -1-21 -1-18 -1-17 0-15 0-14 0-12 0-12 0-11 0-11 0-10 0-10 0-10 1-10 0-10 0-10 1-10 0-11 0-12 0-12 0-13 1-15 0-16 1-19 2-20 3-23 8-18 17-3 20,4 19,6 17,7 15,7 14,8 13,9 11,9 11,8 9,8 9,5 10,3 11,1 11,2 5,12 -1,18 -3,17 -2,13 -1,10 -1,8 0,7 0,7 0,6 0,6 0,5 0,6 0,5zM319,708l0,5 0,5 0,5 0,6 0,5 -1,6 0,6 -1,6 -1,7 -1,7 -2,8 -1,9 -2,10 -2,12 -3,14 -3,17 -4,22 -5,28 -9,35 -13,44 -19,48 -25,24 -25,2 -23-11 -20-17 -16-25 -10-30 -6-31 -3-29 -2-25 -2-21 -1-19 0-17 -1-15 0-14 0-13 0-12 0-11 0-11 0-10 1-10 0-10 0-10 0-10 0-10 1-11 0-11 0-12 0-12 0-14 0-15 1-17 1-18 2-21 3-23 8-19 18-3 20,5 19,6 17,7 16,8 14,8 13,9 12,9 10,9 9,7 10,6 9,4 11,1 11,2 5,12 -2,19 -3,17 -3,13 -1,10 -1,8 0,8 -1,6 0,6 0,6 0,5 0,5 0,5zM319,708l-1,5 -1,5 -1,5 -1,5 0,5 -1,5 0,6 -1,6 -1,6 0,7 -1,9 -1,9 -1,11 -1,12 -2,15 -3,19 -4,23 -6,29 -8,37 -13,45 -20,50 -25,24 -26,2 -24-11 -21-18 -16-25 -11-32 -5-32 -3-30 -1-26 -1-22 -1-20 0-17 1-16 0-14 0-13 1-12 0-11 -1-11 0-10 0-10 -1-10 0-10 -1-10 0-11 0-11 -1-11 0-12 0-13 0-15 1-15 0-17 1-19 2-21 4-23 8-19 19-3 21,5 19,7 18,8 16,8 14,8 13,9 12,10 10,8 10,7 9,5 11,3 11,1 12,2 5,12 -1,18 -3,17 -2,14 -1,10 -1,9 -1,8 0,7 -1,6 -1,7 0,5 -1,6 -1,5zM320,708l0,5 -1,5 0,5 0,6 -1,5 0,6 -1,6 -1,6 0,7 -1,7 -2,8 -1,9 -2,11 -1,12 -3,15 -3,18 -4,23 -5,29 -9,37 -13,46 -20,51 -26,24 -26,3 -24-10 -21-18 -17-26 -11-31 -5-33 -3-30 -2-26 -2-23 0-20 -1-17 0-16 0-14 0-14 0-12 0-11 0-11 0-11 0-11 -1-10 0-10 0-11 0-11 0-11 0-11 0-13 0-13 0-14 1-16 1-18 1-19 1-22 4-24 8-19 20-3 21,6 20,7 18,8 16,8 15,9 13,10 12,9 11,9 9,7 10,6 10,3 12,1 11,2 5,13 -2,19 -3,17 -2,14 -2,10 0,9 -1,8 0,7 -1,6 0,6 0,5 -1,6 0,5zM321,708l0,5 -1,5 -1,5 0,6 -1,5 0,6 -1,6 0,6 -1,7 -1,8 -1,8 -1,9 -2,11 -1,13 -2,15 -3,19 -4,24 -6,30 -9,38 -13,48 -21,52 -26,26 -28,3 -25-10 -22-19 -17-26 -11-33 -6-34 -3-31 -1-27 -1-24 -1-20 0-18 0-17 0-15 0-13 1-13 -1-12 0-11 0-11 0-10 -1-11 0-11 0-10 0-11 -1-12 0-12 0-13 0-13 0-15 1-16 0-18 1-20 2-23 4-24 9-20 20-3 22,7 20,8 19,8 17,9 15,9 13,10 12,10 11,8 10,8 10,6 10,3 12,0 12,2 5,13 -2,19 -3,18 -2,14 -1,10 -1,9 -1,8 0,7 -1,7 0,6 -1,6 0,5 -1,6zM322,708l-1,5 -1,5 -1,5 -1,5 -1,6 -1,5 0,6 -1,6 -1,7 -1,7 0,8 -1,10 -2,11 -1,12 -2,16 -3,19 -3,24 -6,30 -9,39 -13,49 -21,53 -27,27 -27,3 -25-11 -23-18 -17-26 -11-33 -6-34 -3-32 -2-27 -1-24 -1-20 0-19 0-16 0-15 -1-14 0-13 0-12 0-11 -1-11 0-11 -1-11 0-11 0-11 0-11 0-12 0-12 0-13 0-14 1-15 1-16 1-18 1-20 3-22 3-24 10-20 20-2 22,7 21,8 18,10 17,9 15,9 13,10 12,9 11,9 10,7 10,5 10,3 12,0 12,1 6,12 -1,20 -3,17 -2,14 -1,11 -1,9 0,8 -1,7 0,7 -1,6 -1,7 0,5 -1,6zM323,708l0,5 -1,6 0,5 -1,5 0,6 -1,6 -1,6 -1,6 -1,7 -1,7 -1,9 -2,9 -2,10 -2,12 -2,15 -3,19 -4,24 -6,29 -8,39 -14,48 -20,53 -26,27 -28,4 -25-11 -22-18 -18-26 -11-32 -6-34 -4-31 -2-27 -1-23 -2-21 0-18 -1-17 0-15 0-14 0-13 0-12 0-12 0-11 0-11 0-11 0-11 1-11 0-11 0-12 1-12 0-12 0-14 1-15 0-16 1-18 1-20 2-22 3-25 9-21 20-2 22,6 21,8 19,9 16,9 15,9 14,9 12,10 11,8 10,8 10,6 11,3 12,0 12,2 5,13 -1,20 -4,18 -2,14 -2,11 0,9 -1,8 0,7 -1,7 0,6 0,6 -1,5 0,6zM322,708l-1,5 0,5 -1,6 -1,5 0,5 -1,6 0,6 -1,6 -1,7 -1,8 -1,8 -1,9 -2,11 -1,13 -2,15 -3,20 -4,24 -6,30 -9,40 -13,49 -21,54 -27,27 -28,4 -25-11 -23-18 -18-27 -11-33 -7-34 -3-32 -2-28 -1-23 -1-21 -1-19 0-17 0-15 0-14 0-13 0-13 0-11 0-12 0-11 0-11 0-11 0-11 0-11 0-12 1-12 0-13 0-14 1-15 0-17 1-18 1-20 2-23 3-25 10-20 20-2 23,6 20,9 19,9 17,9 15,9 14,10 12,10 11,8 10,8 10,6 11,2 12,1 12,2 6,13 -2,19 -3,18 -3,14 -1,11 -1,9 0,9 -1,7 -1,7 0,6 -1,6 0,5 -1,6zM325,708l0,5 -1,6 0,5 -1,6 0,6 -1,6 -1,6 -2,6 -1,7 -1,7 -2,8 -2,9 -2,10 -2,12 -2,15 -3,19 -4,23 -5,30 -9,40 -13,49 -21,54 -27,27 -27,5 -26-11 -23-18 -17-26 -12-33 -6-34 -3-32 -2-27 -2-24 -1-21 0-18 -1-17 0-15 0-14 0-13 0-13 0-11 0-12 0-11 0-11 0-11 0-11 0-12 0-11 0-13 0-13 0-14 0-15 0-17 0-19 1-21 2-23 4-26 9-21 21-2 23,7 21,8 19,9 18,10 15,9 14,11 12,10 11,9 11,8 10,6 10,4 12,1 12,2 5,13 -2,20 -3,18 -3,14 -1,11 -1,9 0,8 0,7 0,7 0,6 0,5 0,6 0,6zM322,708l0,5 -1,5 -1,6 0,5 -1,5 0,6 -1,6 0,7 -1,7 -1,7 -1,9 -1,9 -2,11 -2,13 -2,16 -3,19 -3,25 -6,31 -9,40 -14,51 -21,55 -27,28 -29,5 -26-11 -24-18 -18-27 -11-34 -7-36 -3-32 -2-29 -2-24 0-21 -1-19 0-18 0-15 0-15 0-13 0-13 0-12 0-11 0-12 -1-11 0-11 0-12 0-11 0-13 0-12 0-14 0-14 0-16 1-17 1-19 1-21 2-23 3-26 10-21 21-2 24,7 21,9 20,9 17,10 16,10 14,10 12,10 12,9 10,8 10,6 11,3 12,1 13,2 5,13 -2,21 -3,18 -3,15 -2,11 0,9 -1,8 -1,8 0,7 -1,6 -1,6 0,5 0,6zM323,708l0,5 0,6 -1,5 0,6 -1,5 0,6 -1,6 -1,7 -1,7 -1,7 -1,9 -1,9 -2,11 -2,13 -2,16 -3,19 -4,25 -6,31 -9,41 -14,51 -21,57 -28,29 -29,4 -26-10 -24-18 -18-28 -12-34 -7-35 -4-33 -2-29 -2-24 -1-22 -1-19 0-18 -1-16 0-14 0-14 0-13 0-13 0-12 -1-11 0-12 0-12 1-11 0-12 0-13 0-13 1-13 0-15 1-16 0-17 2-19 1-21 2-23 4-26 10-21 22-1 23,7 22,10 20,10 18,10 15,11 14,11 12,10 11,9 10,8 10,6 11,4 12,0 12,2 5,13 -2,20 -3,18 -3,14 -1,11 -1,9 0,8 -1,7 0,7 0,6 0,6 0,5 -1,6zM324,708l0,5 -1,6 -1,5 0,5 -1,6 -1,6 0,6 -1,6 -1,7 -2,8 -1,8 -1,9 -2,11 -2,13 -2,16 -3,19 -3,25 -6,31 -9,41 -14,51 -21,57 -28,29 -28,5 -27-10 -24-19 -18-27 -12-34 -7-36 -3-33 -3-28 -2-25 -1-21 -1-19 -1-18 0-15 -1-15 0-14 -1-13 0-12 -1-12 0-12 0-12 0-12 0-12 1-12 0-12 0-13 1-14 1-15 0-15 1-18 1-19 2-21 2-24 4-26 10-21 21-2 24,8 23,9 19,10 18,10 16,10 14,11 13,10 11,9 11,7 10,6 11,3 13,0 12,2 6,14 -2,20 -3,19 -3,15 -1,11 -1,10 -1,8 -1,8 0,7 -1,6 0,6 -1,6 0,6zM326,708l-1,6 0,5 -1,6 0,5 -1,6 0,6 -1,6 -1,7 -1,7 -1,8 -2,8 -1,10 -2,11 -2,13 -2,16 -3,20 -4,26 -6,31 -9,42 -14,53 -22,58 -28,30 -30,5 -28-10 -24-19 -19-28 -12-35 -7-37 -4-33 -2-30 -2-25 -1-22 -1-20 0-18 -1-16 0-15 0-15 0-13 -1-13 0-12 0-12 0-12 0-12 1-12 0-12 0-13 1-13 0-14 1-15 1-16 0-17 2-19 1-22 2-24 4-26 10-22 22-1 25,8 22,10 20,11 18,11 16,10 14,11 12,10 12,10 10,7 10,6 11,3 13,0 12,2 6,13 -2,20 -3,19 -3,14 -1,12 -1,9 0,8 0,8 -1,6 0,7 0,6 -1,6 0,5zM326,708l-1,5 0,6 -1,5 -1,6 -1,5 -1,6 -1,6 -1,6 -2,7 -1,8 -1,8 -2,9 -1,11 -2,13 -2,16 -2,20 -4,25 -6,33 -8,42 -14,54 -22,60 -29,31 -29,6 -28-10 -25-17 -20-28 -13-35 -7-37 -4-34 -3-29 -2-26 -1-23 -1-20 0-18 0-17 0-16 0-15 1-13 0-13 1-13 1-12 0-12 1-12 0-12 1-12 0-12 0-13 1-14 0-15 0-16 0-18 1-20 1-22 1-25 4-28 10-22 22-2 25,8 23,10 20,10 18,11 16,10 15,11 13,11 12,9 10,9 11,6 11,3 13,1 12,2 6,14 -2,21 -4,19 -3,15 -1,11 -1,10 -1,8 0,7 -1,7 0,7 0,6 0,6 -1,5zM325,708l-1,5 0,6 -1,5 -1,6 -1,5 0,6 -1,6 -1,7 -1,7 -1,7 -1,9 -1,10 -2,11 -1,13 -2,16 -3,21 -4,25 -6,33 -9,43 -14,53 -22,60 -29,30 -30,5 -28-10 -24-19 -19-28 -13-36 -6-37 -4-35 -2-30 -1-25 -1-23 -1-20 0-18 0-17 0-15 0-14 0-13 0-13 -1-12 0-12 0-12 -1-12 0-12 -1-13 0-13 0-13 0-15 0-15 0-17 1-18 1-20 1-22 2-25 4-27 11-23 23-1 25,9 23,10 21,11 18,11 16,11 15,11 13,11 11,10 11,8 11,6 11,3 13,1 12,2 6,13 -2,22 -4,19 -3,14 -1,12 -1,9 0,9 -1,7 0,7 -1,7 0,6 -1,6 0,5zM325,708l-1,5 -1,6 0,5 -1,6 -1,5 0,6 -1,6 -1,7 -1,7 -1,8 -1,8 -1,10 -1,11 -2,14 -2,16 -3,20 -4,26 -6,32 -9,43 -14,54 -22,60 -29,30 -30,6 -28-10 -25-19 -19-28 -13-35 -7-38 -4-34 -2-30 -2-26 -1-23 0-20 -1-18 0-17 0-15 0-15 0-13 0-13 0-13 0-12 0-12 0-12 0-12 0-13 1-12 0-14 0-14 0-15 1-16 0-18 1-20 2-23 2-24 3-28 11-22 22-2 25,9 23,10 21,11 18,10 16,11 15,11 13,10 12,10 10,8 11,6 11,3 13,0 13,2 6,14 -2,21 -4,20 -3,15 -1,11 -1,10 -1,9 -1,7 0,7 -1,7 -1,6 0,6 -1,6zM323,708l0,5 -1,6 0,5 0,5 -1,6 0,6 0,7 -1,6 -1,8 -1,8 -1,8 -1,10 -2,12 -1,13 -3,16 -2,21 -4,26 -6,32 -9,44 -15,54 -22,61 -29,31 -31,6 -28-10 -25-18 -20-29 -13-36 -7-38 -4-35 -3-30 -1-26 -2-23 -1-20 -1-19 0-16 -1-16 0-15 -1-14 0-13 0-13 0-12 0-13 0-12 1-13 0-13 1-13 0-14 1-14 0-15 1-17 1-18 1-20 2-23 2-25 4-28 10-23 23-1 26,9 23,10 21,11 19,11 16,11 15,11 13,11 12,9 11,8 11,6 11,3 13,1 13,2 6,14 -2,22 -4,20 -3,15 -2,12 -1,10 -2,9 -1,8 -1,7 0,6 -1,6 -1,6 0,6zM322,708l-1,5 0,5 -1,6 0,5 0,6 -1,5 0,7 0,6 -1,8 0,8 -1,9 -1,10 -2,12 -1,13 -2,17 -3,21 -4,26 -6,34 -9,43 -14,55 -23,61 -30,32 -30,6 -29-11 -25-18 -20-29 -13-37 -7-38 -4-35 -3-31 -1-26 -2-23 -1-21 0-18 0-17 -1-16 0-15 0-14 0-13 0-13 0-13 0-12 0-12 0-13 1-13 0-13 1-13 0-15 1-15 1-17 0-18 1-20 2-23 2-25 4-28 10-22 23-2 26,9 23,10 21,12 19,10 16,11 15,11 13,10 12,10 11,8 11,5 12,3 13,1 13,2 6,14 -2,22 -4,20 -3,15 -2,12 -1,10 -2,9 -1,8 -1,8 -1,6 -1,6 -1,6 -1,6zM327,708l-1,6 0,5 -1,6 -1,5 -1,6 0,6 -1,6 -1,7 -1,7 -1,8 -1,9 -2,10 -1,11 -2,14 -2,17 -3,20 -4,27 -5,34 -10,44 -14,56 -23,62 -30,32 -31,7 -29-10 -26-19 -20-29 -13-37 -8-38 -4-36 -2-31 -2-27 -1-24 -1-21 0-19 0-18 0-16 1-15 0-14 0-13 0-13 0-13 0-12 1-12 0-13 0-13 0-13 0-14 0-14 1-16 0-17 1-18 1-21 1-23 2-25 4-28 11-23 23-1 26,9 24,11 21,12 19,11 16,12 15,12 13,11 12,9 10,9 11,6 11,3 13,0 13,2 6,13 -2,22 -4,19 -2,15 -2,12 0,9 -1,9 0,8 -1,7 0,6 -1,7 0,6 0,5zM326,708l-1,6 0,5 -1,5 -1,6 0,6 -1,6 -1,6 -1,6 -1,7 -1,8 -1,9 -2,10 -1,11 -2,13 -2,17 -2,20 -4,27 -6,33 -9,44 -14,56 -23,63 -30,32 -31,6 -29-10 -25-18 -20-29 -13-37 -8-38 -4-36 -2-31 -2-26 -1-24 -1-20 -1-19 -1-17 0-16 -1-15 0-14 -1-13 0-13 0-13 -1-13 0-13 0-13 0-13 0-14 1-14 0-15 1-16 0-17 1-19 2-20 1-24 3-25 4-28 11-23 24-1 27,9 24,12 21,12 19,11 17,12 15,12 13,11 12,10 11,8 11,7 11,3 13,0 13,2 6,14 -2,22 -4,19 -3,16 -1,11 -1,10 -1,9 -1,8 0,7 -1,6 0,7 -1,6 0,5zM327,708l-1,6 -1,5 0,6 -1,5 -1,6 0,6 -1,6 -1,7 -1,8 0,8 -2,9 -1,10 -1,11 -2,14 -2,17 -3,21 -4,26 -6,34 -9,45 -15,56 -23,62 -30,33 -31,6 -30-10 -26-19 -20-30 -13-37 -7-39 -4-36 -2-32 -2-27 -1-23 0-21 -1-19 0-17 0-16 -1-15 0-14 0-14 0-13 0-12 -1-13 0-13 0-12 0-14 0-13 1-14 0-15 0-16 1-17 1-19 1-20 1-23 3-26 4-29 11-23 23-1 27,10 24,11 21,12 19,11 17,12 15,12 13,10 12,10 11,8 11,6 12,3 13,0 13,2 6,14 -2,22 -3,20 -3,15 -2,12 0,10 -1,9 -1,8 -1,7 0,7 -1,6 -1,7 0,5zM325,708l0,5 -1,6 -1,5 0,6 -1,6 0,6 -1,6 -1,7 0,7 -1,8 -1,9 -1,10 -2,12 -1,14 -2,17 -3,21 -4,27 -6,34 -9,45 -15,57 -23,64 -30,33 -32,6 -30-9 -26-19 -21-30 -13-37 -8-40 -4-36 -2-32 -2-27 -1-24 -1-21 -1-19 0-18 -1-16 0-16 0-14 0-14 -1-13 0-13 0-13 0-13 0-13 1-13 0-14 0-14 1-15 1-16 0-18 1-19 1-20 2-24 3-26 4-28 11-24 24,0 27,10 24,11 22,12 19,12 17,12 15,12 13,11 12,10 11,8 11,6 12,3 13,0 13,3 6,14 -2,22 -4,20 -3,15 -2,12 -1,10 -1,9 -1,8 0,7 -1,7 -1,6 -1,6 0,5zM326,708l-1,5 -1,6 -1,5 -1,6 -1,5 0,6 -1,6 -1,7 0,7 -1,8 -1,10 0,10 -2,12 -1,14 -2,18 -2,22 -4,27 -6,35 -10,46 -15,57 -23,65 -31,33 -32,7 -30-10 -27-20 -20-30 -14-38 -7-40 -4-37 -2-32 -2-28 -1-25 0-21 0-20 0-18 0-16 0-15 -1-14 0-14 0-13 0-13 -1-13 0-13 -1-13 0-13 0-14 0-15 0-15 1-17 0-17 1-19 1-22 2-23 2-27 5-28 11-24 25,0 27,10 25,12 22,13 19,12 17,12 15,13 13,11 12,10 11,8 11,6 12,3 13,0 14,2 6,14 -2,22 -4,20 -3,15 -1,12 -1,10 -1,9 -1,8 -1,7 -1,7 0,7 -1,6 -1,5zM329,708l0,6 -1,5 -1,6 0,6 -1,6 -1,6 -1,6 -1,7 -2,7 -1,8 -1,9 -2,10 -2,11 -1,14 -3,16 -2,21 -4,27 -6,34 -9,45 -15,58 -23,64 -30,34 -32,7 -30-10 -27-19 -20-29 -14-38 -7-39 -4-37 -3-31 -2-28 -2-24 -1-21 0-19 -1-18 0-17 -1-15 0-14 0-14 0-14 0-13 0-13 0-13 0-13 0-14 1-13 0-15 1-15 0-16 1-18 1-19 1-21 1-24 3-26 4-29 11-24 25,0 27,10 24,12 22,12 20,12 17,12 15,12 13,12 12,9 12,9 11,6 11,3 14,0 13,2 6,14 -2,22 -4,20 -3,16 -1,12 -1,10 -1,9 0,8 -1,7 0,7 0,6 -1,6 0,6zM328,708l-1,6 -1,5 -1,6 -1,5 -1,6 -1,6 -1,6 -1,7 -1,7 -1,7 -1,9 -1,10 -1,12 -2,14 -2,17 -2,22 -4,27 -6,35 -9,47 -15,59 -23,65 -31,35 -32,7 -31-9 -27-18 -21-30 -15-38 -7-40 -5-37 -3-33 -2-28 -1-24 -1-22 -1-20 0-19 0-17 0-15 0-15 0-15 0-13 0-14 0-13 0-13 0-14 0-13 1-14 0-15 0-16 1-16 1-18 1-19 1-22 2-24 2-26 5-29 11-24 25,0 28,11 25,12 22,13 20,13 17,13 15,12 13,12 12,10 11,9 11,6 11,3 14,0 13,2 6,14 -2,22 -4,20 -3,15 -2,12 0,10 -1,8 0,8 0,7 -1,7 0,6 -1,6 0,6zM326,708l-1,5 -1,6 0,5 -1,6 -1,6 -1,5 0,7 -1,7 0,7 -1,8 -1,10 0,10 -1,13 -2,14 -2,18 -2,22 -4,28 -6,36 -10,47 -15,59 -24,66 -31,34 -33,8 -31-10 -28-20 -21-30 -14-39 -8-41 -4-38 -2-33 -1-29 -1-25 -1-23 0-20 1-18 0-17 0-16 0-14 1-14 0-14 0-13 -1-13 0-13 0-13 0-14 -1-14 0-15 0-15 0-17 1-18 0-19 1-22 2-25 2-26 5-30 11-24 25,0 28,10 25,13 23,13 19,13 18,12 15,13 13,12 12,10 12,8 11,7 11,3 14,0 13,2 6,14 -2,23 -4,20 -3,15 -2,12 -1,10 -1,9 0,8 -1,7 -1,7 -1,7 0,6 -1,5zM327,708l0,6 -1,5 0,6 -1,6 0,6 -1,6 -1,6 -1,7 -1,7 -1,8 -1,9 -1,10 -2,12 -2,14 -2,17 -3,21 -3,28 -6,35 -10,46 -14,59 -24,66 -31,35 -33,7 -30-9 -28-19 -21-29 -14-39 -8-40 -4-38 -3-32 -2-28 -2-25 -1-22 -1-20 0-18 -1-17 0-16 0-15 0-14 0-14 0-14 0-13 0-13 0-14 0-14 0-14 1-15 0-16 0-17 1-18 1-19 1-22 2-25 2-27 5-30 11-24 26,0 28,10 25,13 23,13 20,13 18,13 15,13 14,12 12,11 11,9 11,6 11,4 13,1 13,2 6,15 -3,22 -4,21 -3,15 -2,12 -1,10 -1,9 -1,7 0,7 0,7 -1,6 0,6 0,5zM327,708l-1,6 0,5 -1,6 -1,5 0,6 -1,6 -1,7 0,6 -1,8 -1,8 -1,9 -1,11 -2,12 -1,14 -2,17 -3,22 -4,28 -6,36 -9,47 -15,60 -24,67 -32,35 -33,8 -31-9 -28-19 -21-30 -15-39 -8-41 -4-39 -3-33 -2-28 -2-25 -1-22 -1-21 0-18 -1-17 0-17 0-15 0-14 0-15 0-13 0-14 0-14 1-13 0-14 1-15 0-14 1-16 1-17 1-18 1-20 1-21 2-25 2-27 4-30 12-25 25,0 29,11 25,12 23,14 20,12 17,13 16,12 14,12 12,10 12,8 11,6 12,3 14,0 14,3 6,14 -3,23 -4,21 -3,16 -2,12 -1,11 -1,9 -1,8 -1,8 -1,7 0,6 -1,6 -1,6zM330,708l-1,6 0,6 -1,5 -1,6 -1,6 -1,6 -2,6 -1,7 -1,7 -2,8 -1,8 -1,10 -2,11 -2,14 -2,18 -2,21 -4,28 -5,36 -9,48 -15,61 -24,69 -32,36 -33,9 -32-9 -28-18 -22-30 -15-39 -8-42 -5-38 -3-33 -2-29 -2-25 -1-23 -1-21 0-19 0-17 0-17 0-15 0-15 0-14 0-14 0-14 0-14 1-14 0-14 0-14 1-16 0-16 0-17 1-18 1-21 1-22 1-26 3-28 4-31 12-24 26-1 29,12 26,13 24,13 20,14 18,13 16,13 14,12 12,11 12,9 11,7 12,3 14,1 13,2 6,15 -2,23 -4,21 -4,16 -1,12 -1,10 -1,9 0,8 -1,7 0,7 0,7 -1,6 0,6z" stroke-opacity="0.12" stroke-width="0.35"/><path d="M286,708l1,3 0,2 0,3 0,3 -1,3 0,2 0,3 -1,3 -1,4 -1,3 -1,3 -1,4 -1,4 -2,5 -2,5 -2,6 -3,7 -3,6 -5,5 -5,3 -6,1 -6-2 -5-5 -4-7 -3-6 -2-6 -2-6 -2-5 -1-4 -1-4 -1-4 -1-3 0-3 -1-3 0-3 0-3 0-2 0-3 0-2 0-3 0-2 0-2 1-2 0-2 0-2 1-2 0-3 0-2 0-3 0-3 0-3 0-3 0-4 0-5 1-5 0-5 2-6 2-6 3-6 3-6 5-5 5-2 6,0 5,3 5,4 4,6 3,5 3,6 3,4 2,4 1,4 1,5 1,4 0,4 1,3 0,3 1,3 1,2 0,3 1,2 0,3 1,2 1,2zM290,708l0,3 -1,3 0,2 0,3 -1,3 0,3 -1,3 -1,3 -1,4 -1,3 -1,4 -1,4 -1,5 -1,5 -2,6 -2,7 -3,7 -4,7 -5,7 -5,6 -7,3 -7-2 -6-5 -4-8 -4-7 -3-8 -2-7 -2-6 -1-6 -1-5 0-4 -1-4 -1-4 0-3 0-3 -1-3 0-3 0-3 0-2 0-3 -1-2 0-3 0-3 0-2 1-3 0-2 0-3 0-3 0-3 0-3 1-4 0-4 0-4 1-5 1-5 1-6 2-6 3-5 3-6 4-5 5-4 6-2 6,0 6,3 5,5 4,5 4,5 3,4 3,4 3,3 2,4 1,6 1,5 0,4 1,4 1,3 1,3 0,3 1,3 0,3 1,3 0,2 1,3zM290,708l0,3 0,3 -1,3 0,2 0,3 -1,3 0,4 -1,3 -1,3 -1,4 -1,4 -1,4 -1,5 -1,6 -2,6 -2,7 -3,7 -4,8 -5,7 -6,6 -7,3 -7-2 -6-5 -5-7 -4-8 -3-8 -2-7 -2-7 -1-6 -1-6 0-4 0-5 -1-4 0-3 0-4 1-3 0-3 0-2 0-3 0-2 0-3 0-2 0-2 0-3 0-2 0-2 0-3 0-3 0-3 0-3 -1-4 0-4 0-5 1-5 0-6 1-6 2-6 3-6 4-6 4-5 5-5 6-2 6,1 6,3 5,5 4,5 4,5 4,5 3,3 3,4 2,4 1,6 0,5 1,5 0,3 1,4 1,3 0,3 1,3 0,3 1,3 0,2 1,3zM290,708l0,3 -1,3 0,2 0,3 -1,3 0,3 0,4 -1,3 0,4 -1,4 -1,4 0,5 -2,5 -1,6 -2,7 -2,8 -3,8 -4,8 -5,8 -7,7 -7,5 -8-1 -6-6 -6-8 -4-9 -3-9 -3-8 -1-8 -1-7 -1-6 0-5 0-5 -1-4 0-4 0-3 0-3 -1-3 0-3 0-3 -1-3 0-2 0-3 0-3 0-2 0-3 0-3 0-3 0-3 0-4 1-3 0-4 0-4 1-5 0-5 1-6 2-6 2-6 3-5 4-6 5-5 5-4 6-2 6,1 6,3 5,4 5,5 4,4 4,4 4,3 4,3 2,5 1,6 1,5 0,5 1,5 1,3 0,4 0,4 0,3 0,3 0,3 0,3 0,3zM292,708l0,3 0,3 -1,3 0,3 0,3 -1,3 0,4 -1,3 -1,4 -1,4 -1,4 -1,5 -1,5 -1,6 -2,7 -3,7 -3,9 -4,9 -5,9 -6,8 -8,6 -8-1 -7-6 -6-8 -5-9 -3-9 -3-8 -2-9 -1-7 -1-6 0-6 -1-5 0-4 0-5 -1-3 0-4 0-3 0-3 0-3 0-3 0-3 -1-3 0-3 0-3 0-3 1-3 0-3 0-3 0-4 0-4 0-4 0-5 1-5 0-6 1-6 2-7 3-6 4-5 4-5 5-5 5-3 7-2 6,1 6,4 5,4 5,5 4,5 4,4 4,3 4,3 3,5 0,7 1,6 0,5 1,4 0,4 1,3 0,4 1,3 0,3 0,3 1,3 0,3zM292,708l0,3 0,3 0,3 0,3 -1,3 0,4 -1,3 0,4 -1,3 -1,4 -1,5 -1,4 -2,6 -1,6 -2,6 -2,8 -3,9 -4,9 -6,9 -6,8 -8,6 -8-1 -8-5 -6-8 -4-9 -4-10 -3-8 -1-9 -1-7 -1-7 0-6 -1-5 0-5 0-4 0-4 0-3 0-3 0-4 0-2 0-3 -1-3 0-3 0-3 0-3 0-3 0-3 0-3 0-4 -1-3 0-4 0-5 0-5 0-6 1-6 1-7 1-6 3-7 4-5 5-5 5-5 6-3 6-2 7,1 6,4 6,5 5,5 4,5 4,4 4,4 4,3 2,5 1,7 0,6 0,6 0,4 1,4 0,3 1,4 0,3 1,3 0,3 0,3 1,3zM294,708l0,3 -1,3 0,3 0,4 -1,3 0,3 -1,4 -1,3 -1,4 -1,4 -1,4 -1,4 -2,6 -1,5 -2,7 -2,8 -3,8 -4,10 -6,9 -6,9 -8,7 -8,0 -8-6 -6-8 -5-9 -4-9 -3-9 -2-8 -1-7 -1-7 -1-6 -1-5 0-5 -1-4 0-4 0-4 0-4 0-3 0-4 0-3 0-3 0-3 1-3 0-3 1-3 0-3 0-3 0-4 0-3 0-4 0-5 1-5 0-5 0-7 1-7 1-7 3-6 4-5 5-6 5-4 6-4 6-1 7,1 6,3 6,4 5,6 4,4 5,5 4,3 4,3 3,5 0,7 0,7 0,5 1,5 0,4 1,4 0,3 0,4 1,3 0,3 1,3 0,3zM298,708l0,3 -1,4 -1,3 -1,3 -1,4 -1,3 -1,3 -1,4 -1,3 -1,4 -2,4 -1,5 -1,5 -1,7 -2,7 -2,9 -3,9 -4,11 -6,11 -7,11 -8,9 -9,1 -9-5 -7-8 -6-10 -4-10 -4-10 -2-10 -1-9 -1-8 0-7 0-6 0-5 0-5 0-5 0-4 1-4 0-4 0-3 0-4 1-3 0-3 0-3 0-3 0-3 0-4 0-3 0-4 -1-4 0-5 0-5 0-5 0-6 0-7 1-8 2-7 4-6 4-5 5-5 6-4 6-3 7-1 7,1 6,4 6,5 5,5 5,4 5,4 5,2 5,3 2,5 1,7 1,7 0,6 1,5 1,4 1,4 0,4 1,3 1,4 0,4 0,3 0,4zM295,708l0,3 -1,3 0,3 -1,4 -1,3 0,3 -1,4 -1,3 -1,4 0,4 -1,5 -1,5 -1,6 -1,7 -2,8 -2,9 -3,10 -4,11 -6,12 -7,12 -9,11 -10,1 -9-5 -8-9 -6-10 -5-11 -3-11 -2-10 -1-10 -1-9 0-7 0-7 0-6 0-5 0-5 1-5 0-4 0-4 0-3 1-3 0-4 0-3 -1-3 0-4 0-3 0-4 -1-3 0-5 0-4 -1-5 0-6 0-6 0-7 0-7 1-8 3-8 4-6 5-5 6-5 6-4 7-2 7-1 7,2 7,3 6,5 5,6 5,5 5,4 5,2 5,3 3,6 0,8 0,7 0,7 1,5 0,4 1,4 0,4 0,4 0,4 0,3 0,3 0,4zM296,708l-1,3 -1,3 0,4 -1,3 0,3 -1,3 0,4 -1,4 0,4 -1,4 0,5 -1,6 -1,6 -2,8 -1,8 -3,9 -3,11 -4,11 -6,13 -8,12 -9,11 -10,2 -10-6 -8-9 -6-11 -5-12 -3-12 -2-11 -1-10 0-9 -1-8 0-7 0-6 1-5 0-5 0-4 0-4 0-4 -1-4 0-3 -1-4 0-3 0-4 -1-3 0-4 0-4 0-4 -1-4 0-5 0-5 1-6 0-6 1-6 0-8 2-8 2-8 4-5 6-5 6-4 6-3 7-3 7,0 7,1 7,4 6,5 5,5 5,4 6,3 5,3 5,2 3,6 1,8 0,7 0,7 1,5 0,5 1,4 0,4 0,4 0,4 -1,4 0,3 0,4zM296,708l-1,3 0,3 0,4 -1,3 0,4 0,3 -1,4 0,4 -1,4 -1,5 -1,4 -1,6 -1,6 -1,7 -2,8 -3,9 -3,11 -4,11 -6,13 -8,13 -9,11 -10,2 -10-5 -8-10 -7-11 -4-12 -4-11 -2-12 -1-10 -1-8 0-8 -1-7 0-5 -1-6 0-4 -1-5 0-4 -1-4 -1-4 0-4 -1-4 0-4 0-4 0-4 0-4 0-4 1-5 0-4 0-5 1-5 0-6 1-6 1-6 0-8 2-8 2-8 5-6 6-4 6-4 6-4 7-2 8-1 7,2 7,4 6,4 6,5 5,5 5,3 6,2 5,3 4,6 0,9 0,8 0,6 0,6 0,5 0,4 0,5 0,4 0,3 0,4 0,3 0,4zM299,708l-1,3 0,4 0,3 -1,4 0,4 0,4 -1,3 -1,5 -1,4 -1,4 -1,5 -1,6 -1,6 -2,7 -2,8 -3,10 -3,11 -5,12 -5,14 -8,14 -10,13 -11,3 -10-5 -9-10 -7-11 -6-13 -3-12 -2-12 -1-11 -1-10 -1-8 0-8 0-6 0-6 0-6 0-5 1-4 -1-4 0-4 0-4 0-4 0-4 0-4 0-4 -1-4 0-4 0-4 0-5 0-5 -1-6 0-6 0-7 1-7 0-9 1-9 3-9 5-6 6-4 7-4 7-3 8-2 7,0 8,2 7,4 7,5 5,6 6,5 5,3 6,3 5,2 3,7 1,9 -1,9 0,6 0,6 0,5 1,4 0,4 0,4 0,4 1,4 0,3 0,4zM299,708l-1,3 -1,4 0,3 -1,3 -1,4 -1,3 -1,4 -1,3 -1,4 -1,5 -1,4 0,6 -1,6 -2,8 -1,8 -2,11 -3,11 -4,13 -6,15 -8,15 -10,14 -11,4 -11-5 -9-9 -8-11 -6-12 -4-13 -2-13 -1-11 -1-10 -1-9 0-8 0-7 1-7 0-5 1-6 0-5 1-4 0-4 0-4 0-4 1-4 0-4 -1-4 0-4 0-4 0-4 0-5 -1-5 0-6 0-6 0-7 0-7 0-9 2-9 2-9 5-6 7-4 6-3 7-3 8-2 7,0 8,2 7,4 6,5 6,6 6,4 5,4 6,2 5,2 4,6 0,9 0,9 0,6 0,6 1,5 1,4 0,4 0,4 0,4 0,4 0,4 0,3zM300,708l0,4 0,3 -1,4 0,3 0,4 -1,4 0,4 -1,5 -1,4 -1,5 -1,5 -1,6 -2,7 -1,7 -2,9 -3,10 -4,12 -4,12 -7,15 -8,15 -10,13 -12,3 -10-5 -10-10 -7-12 -6-13 -3-14 -2-13 -1-12 -1-10 0-9 0-8 1-7 0-6 0-6 1-5 0-4 0-5 0-4 0-3 -1-4 0-4 -1-4 0-4 0-4 -1-4 0-5 -1-5 0-5 0-6 0-6 0-7 0-8 1-9 1-9 3-9 5-6 7-3 7-4 7-2 8-2 7,0 8,2 7,5 7,5 5,5 6,4 5,4 6,2 6,2 3,7 1,9 -1,8 0,7 1,6 0,5 1,4 0,4 0,4 0,4 1,4 0,4 0,3zM301,708l-1,4 0,3 -1,4 0,3 0,4 -1,4 -1,4 0,4 -1,5 -1,5 -1,5 -2,6 -1,6 -2,7 -2,9 -2,10 -4,11 -5,13 -6,15 -8,15 -10,15 -12,3 -11-5 -9-10 -8-11 -5-13 -4-14 -3-13 -1-11 -1-10 0-9 -1-8 0-7 0-7 0-5 0-6 0-5 0-4 0-5 1-4 0-4 0-4 0-4 0-4 1-4 0-4 0-5 0-4 0-5 1-6 0-6 0-6 0-8 0-9 1-9 3-9 5-6 7-4 6-4 7-3 8-2 7,0 8,2 7,4 7,4 6,5 5,5 6,3 6,2 6,2 4,6 0,10 0,8 0,8 0,5 0,6 1,4 0,5 0,4 0,4 0,4 1,4 0,3zM298,708l0,3 0,4 0,4 0,3 0,4 0,4 -1,4 0,4 -1,5 -1,5 -1,5 -2,6 -1,6 -2,8 -2,8 -2,10 -4,12 -4,13 -6,15 -9,17 -10,15 -12,4 -11-5 -10-9 -8-12 -6-14 -4-13 -2-13 -2-13 -1-10 0-9 -1-8 0-8 0-6 0-6 0-6 1-5 0-5 0-4 0-5 0-4 0-4 0-4 0-4 0-5 0-4 -1-5 0-5 0-6 0-6 -1-7 0-7 1-9 0-9 1-11 3-9 6-7 7-3 8-4 7-2 9-2 8,0 8,3 8,5 6,5 7,6 5,5 6,4 6,3 6,3 3,7 -1,10 -1,9 0,8 -1,6 0,5 0,4 0,5 0,4 1,3 0,4 0,3 1,4zM302,708l0,4 0,3 -1,4 0,4 -1,4 0,4 -1,4 -1,4 -1,5 -1,4 -2,5 -1,6 -2,6 -2,7 -2,9 -3,10 -3,11 -5,13 -6,15 -8,17 -10,16 -12,4 -11-4 -10-10 -8-12 -6-13 -4-13 -3-13 -2-12 -1-11 -1-9 -1-8 0-7 -1-6 0-6 0-6 0-5 0-5 -1-5 0-5 1-4 0-5 0-4 1-5 1-4 0-5 1-4 0-5 0-6 1-5 0-7 0-7 0-8 1-9 1-10 3-10 5-6 7-4 8-3 7-3 8-1 8,0 8,2 8,4 6,5 7,5 5,4 6,3 7,2 6,3 4,7 0,10 -1,9 0,8 0,6 0,5 1,5 0,5 0,4 0,4 0,4 1,4 0,3zM303,708l0,4 -1,4 0,3 -1,4 0,4 -1,4 -1,4 -1,4 -1,5 -1,5 -1,5 -2,6 -1,6 -2,8 -2,9 -2,10 -4,13 -5,13 -6,16 -8,17 -11,16 -12,5 -12-5 -10-10 -8-13 -6-13 -5-15 -2-14 -1-13 -1-11 0-10 0-8 0-8 0-6 0-6 1-6 0-5 0-5 -1-4 0-4 -1-5 0-4 0-4 -1-5 0-5 0-4 -1-5 0-6 0-6 0-6 0-7 0-8 1-8 1-9 1-10 4-10 6-5 7-3 8-3 8-1 8-1 8,1 8,3 7,4 7,6 6,5 5,5 6,3 6,2 7,1 3,7 0,10 0,8 0,8 0,5 1,5 1,5 0,4 1,5 0,4 1,3 0,4 0,4zM300,708l0,4 -1,3 0,4 -1,3 0,4 0,4 -1,4 -1,4 0,5 -1,5 -1,5 -1,6 -2,7 -1,7 -2,10 -3,10 -3,13 -4,14 -7,16 -8,18 -11,17 -13,5 -12-5 -10-10 -9-12 -6-14 -4-14 -3-14 -1-13 -1-12 -1-9 0-9 -1-8 0-7 0-6 1-6 0-5 0-5 0-5 0-5 -1-4 1-5 0-5 0-4 0-5 0-5 0-5 0-5 0-6 0-6 0-7 0-8 1-8 0-10 2-10 3-10 6-6 7-3 8-3 8-2 8-2 9,1 8,3 8,4 7,5 6,6 6,4 6,4 6,2 7,2 3,7 0,10 -1,10 0,8 0,6 0,5 0,5 0,5 0,4 0,4 0,4 0,4 0,3zM303,708l-1,4 -1,3 -1,4 -1,4 -1,3 0,4 -1,4 -1,4 -1,4 -1,5 -1,5 -1,6 -1,7 -1,8 -2,10 -2,11 -4,12 -4,15 -6,17 -9,18 -11,18 -13,5 -12-4 -11-10 -8-13 -7-14 -4-15 -3-15 -1-14 -1-11 0-11 0-8 0-8 1-7 0-7 0-6 0-5 0-5 0-5 0-4 -1-5 0-4 -1-5 0-4 0-5 -1-5 0-5 0-6 -1-6 0-7 0-7 0-8 1-9 1-10 1-11 4-9 6-6 8-3 9-2 8-2 8-1 9,1 8,3 8,5 7,5 6,5 6,5 6,3 7,1 7,2 3,7 1,11 -1,9 0,8 0,6 1,5 0,5 0,5 1,5 0,4 -1,4 0,4 0,4zM301,708l0,4 0,3 0,4 0,4 0,4 0,5 0,4 -1,5 0,5 -1,5 -1,6 -2,7 -1,7 -2,8 -2,9 -3,11 -4,13 -5,14 -7,17 -9,18 -11,18 -13,5 -13-5 -11-10 -9-13 -6-15 -5-15 -2-16 -1-13 -1-12 -1-11 0-9 0-8 0-7 1-7 0-6 0-5 0-5 0-5 0-5 0-4 0-5 1-5 0-4 0-5 0-5 0-5 0-5 -1-6 0-6 0-8 0-7 0-9 1-11 1-11 3-10 6-6 8-3 8-3 9-2 8-1 9,0 8,3 8,5 7,5 6,5 6,5 7,3 6,3 7,2 3,8 0,10 -1,10 -1,8 0,7 0,5 0,5 0,5 0,4 0,4 0,4 0,4 0,3zM304,708l-1,4 -1,4 0,3 -1,4 -1,4 0,4 -1,4 -1,4 -1,5 -1,5 -1,5 -1,6 -2,7 -1,8 -2,10 -3,11 -3,13 -5,15 -6,17 -9,19 -11,19 -13,6 -13-5 -11-10 -9-12 -7-15 -5-15 -2-16 -2-14 0-12 -1-10 0-10 0-8 0-7 0-7 1-6 0-6 0-5 0-5 0-5 0-4 0-5 0-5 0-4 0-5 -1-5 0-6 0-5 0-6 0-7 0-7 0-9 0-9 1-10 1-11 4-11 6-5 9-3 8-3 8-1 9-1 9,1 8,3 8,4 7,5 7,6 6,4 6,4 7,1 7,2 3,8 1,10 -1,10 0,8 0,6 0,6 1,5 0,5 0,5 0,4 0,4 0,4 0,4zM304,708l-1,4 0,4 -1,4 0,3 -1,4 0,4 -1,5 -1,4 -1,4 -2,5 -1,5 -1,6 -2,7 -1,8 -2,9 -3,11 -3,13 -5,14 -6,18 -9,19 -11,19 -13,6 -13-4 -11-9 -9-13 -7-14 -5-15 -3-15 -2-14 -1-12 -1-10 0-10 0-8 0-7 0-7 0-7 0-6 0-5 1-5 0-5 0-5 1-5 0-5 0-4 1-5 0-5 0-5 0-6 0-6 0-6 0-8 0-8 0-9 0-10 1-12 4-10 6-6 8-4 9-2 8-2 9-1 8,0 9,3 8,5 7,5 7,5 6,5 7,3 6,2 7,2 4,8 0,11 -1,10 0,8 0,7 0,5 0,5 0,5 0,5 0,4 0,4 1,4 0,4zM307,708l-1,4 0,4 0,4 0,5 -1,4 0,4 -1,5 -1,5 -1,5 -2,5 -1,6 -2,6 -1,7 -2,8 -2,10 -3,12 -4,14 -5,16 -6,20 -9,23 -13,23 -15,8 -14-3 -13-11 -11-13 -8-16 -5-17 -3-18 -2-16 -1-13 -1-12 0-11 -1-9 0-9 0-8 1-7 0-6 0-7 0-5 0-6 1-6 0-5 0-5 0-6 0-5 0-6 0-6 0-7 0-7 0-7 0-9 0-9 0-11 1-12 1-13 4-12 8-5 10-2 10-2 10-1 9,1 10,2 9,4 8,5 8,6 7,6 7,5 6,3 8,2 7,2 4,8 0,13 -2,11 -1,8 0,7 0,6 0,6 1,5 0,4 0,5 0,4 1,4 0,4zM306,708l-1,4 0,4 0,4 0,4 -1,4 0,5 -1,4 -1,5 -1,5 -1,6 -1,5 -2,7 -1,7 -2,9 -2,10 -3,12 -3,15 -5,17 -7,20 -9,24 -13,24 -15,9 -15-3 -13-11 -12-13 -8-17 -6-17 -3-18 -2-17 -1-14 -1-12 0-11 0-10 0-9 0-8 0-8 1-6 0-7 0-6 0-6 1-5 0-6 0-6 1-5 0-6 0-5 0-7 0-6 0-7 0-8 0-9 -1-9 0-11 1-13 1-13 4-12 9-6 10-2 10-2 10-1 10,1 10,1 9,4 9,5 8,6 7,6 7,5 7,3 8,2 7,2 4,9 0,13 -1,11 -2,9 0,8 0,6 0,6 0,5 -1,5 0,5 0,4 0,4 1,4zM310,708l-1,4 -1,5 0,4 -1,4 -2,4 -1,4 -1,5 -1,4 -1,5 -2,5 -1,6 -1,6 -2,7 -2,9 -1,10 -3,13 -3,15 -5,18 -6,22 -10,25 -13,26 -16,10 -15-3 -14-10 -12-14 -9-16 -6-19 -3-19 -2-17 -1-15 -1-13 -1-11 0-10 0-10 1-8 0-8 0-7 1-7 0-6 0-6 0-6 0-6 0-6 0-6 0-6 1-6 0-6 -1-7 0-8 0-8 0-9 0-10 1-11 0-13 2-14 4-12 9-6 11-1 11-1 10,0 11,1 10,3 9,4 9,6 8,5 7,6 7,5 7,3 8,1 8,2 4,8 0,13 -1,11 0,9 0,8 0,6 1,6 0,5 0,5 0,5 0,5 0,4 0,5zM311,708l-1,4 -1,5 -1,4 -1,4 -1,4 -1,5 -1,4 -1,5 -2,4 -1,6 -1,5 -2,7 -1,8 -2,8 -1,11 -3,13 -3,16 -5,19 -7,23 -9,27 -14,27 -17,12 -16-3 -15-10 -12-14 -9-17 -7-20 -3-20 -2-18 -2-15 -1-14 0-12 0-11 0-9 0-9 0-9 0-7 1-7 0-7 0-6 0-7 0-6 1-6 0-6 0-7 0-6 0-7 0-7 0-8 0-9 0-9 0-11 1-12 0-13 2-15 5-13 10-5 11-1 11,0 11,0 11,2 10,2 10,5 9,6 8,5 8,6 7,5 8,3 8,1 9,2 4,8 0,14 -1,12 -1,9 0,8 0,7 0,6 0,5 0,6 0,5 0,4 0,5 0,5zM310,708l-1,4 0,5 -1,4 -1,4 -1,4 -1,5 -1,4 -1,5 -1,5 -1,5 -1,7 -1,6 -2,8 -1,9 -2,11 -3,14 -3,16 -5,19 -7,24 -10,28 -14,29 -17,12 -17-3 -15-10 -13-14 -10-18 -6-21 -4-20 -2-19 -1-16 -1-14 -1-13 0-11 0-10 0-9 0-8 0-8 0-7 0-7 0-7 0-6 0-7 0-7 0-6 1-7 0-7 0-7 0-7 0-9 0-8 0-10 1-11 0-12 1-14 2-15 5-13 10-5 12-1 12,0 12,1 11,2 10,3 10,5 9,6 9,5 7,6 8,5 8,3 8,1 9,2 4,9 0,13 -1,13 -1,10 0,7 0,7 0,7 0,5 -1,6 0,5 0,5 0,4 0,5zM311,708l-1,4 -1,5 0,4 -1,4 -1,5 0,4 -1,5 -1,5 -1,6 -1,6 -1,6 -1,7 -1,9 -2,9 -2,12 -3,13 -4,17 -5,20 -7,24 -11,28 -14,29 -17,11 -18-2 -15-11 -13-16 -10-19 -6-21 -3-21 -2-20 -1-17 0-14 0-13 0-11 0-10 1-9 0-8 0-8 0-7 -1-7 0-6 -1-7 0-6 -1-7 0-6 -1-7 0-7 -1-8 0-8 0-8 0-10 0-10 1-11 0-12 2-14 2-15 5-13 11-5 13,0 12,1 11,2 12,2 10,4 10,5 9,6 8,7 8,5 7,5 8,3 8,1 9,2 4,8 0,14 -2,12 -1,10 0,7 1,7 0,6 0,6 0,5 0,5 0,5 0,4 0,5zM309,708l0,4 -1,4 -1,5 0,4 -1,4 -1,5 0,4 -1,5 -1,5 -1,6 -1,7 -1,7 -2,8 -1,10 -2,11 -3,14 -3,17 -5,20 -7,25 -10,29 -15,30 -18,12 -17-2 -16-10 -13-15 -11-19 -7-21 -3-21 -3-20 -1-17 -1-14 0-14 0-11 0-11 0-9 1-9 1-8 0-8 0-7 0-7 1-6 0-7 0-7 0-6 1-7 0-7 0-7 0-8 0-8 0-9 0-10 0-11 0-13 1-14 2-15 4-14 11-5 12-1 12,1 12,1 11,2 11,3 10,5 9,6 9,6 8,6 7,5 8,3 9,1 8,2 5,9 -1,14 -1,12 -1,11 -1,8 0,7 0,6 0,6 0,5 0,5 -1,5 0,4 0,5zM313,708l0,5 -1,4 -1,5 0,4 -1,5 -1,4 -1,5 -1,6 -1,5 -1,6 -2,6 -1,8 -1,8 -2,10 -2,12 -3,14 -4,17 -5,21 -7,26 -11,30 -15,33 -19,13 -18-2 -17-11 -14-15 -10-20 -7-22 -4-23 -2-20 -1-18 -1-16 0-14 0-12 0-10 0-10 0-9 0-8 0-8 -1-8 0-7 -1-7 0-7 0-7 -1-7 0-8 0-8 0-8 0-8 0-10 0-9 0-11 1-12 1-13 1-15 3-17 5-13 12-5 14,1 13,2 13,3 12,3 11,4 10,6 9,7 9,7 8,6 7,5 8,2 9,1 9,2 4,9 0,14 -2,13 -1,10 0,8 0,7 0,6 1,6 0,5 0,5 0,5 0,5 0,4zM313,708l-1,5 0,4 -1,4 -1,5 0,5 -1,4 -1,5 -1,6 -1,5 -1,6 -1,7 -2,7 -1,9 -2,10 -2,12 -3,14 -3,17 -6,22 -7,26 -11,31 -15,33 -19,14 -19-2 -16-10 -15-16 -11-20 -7-23 -4-23 -2-21 -1-19 0-15 0-14 0-13 0-11 1-10 0-9 1-9 0-8 0-7 0-7 0-7 0-7 0-7 -1-7 0-7 0-8 0-8 -1-8 0-9 -1-10 0-12 0-12 1-14 1-15 2-17 5-15 12-5 14,1 13,1 13,2 12,3 11,4 11,6 10,7 9,6 8,7 8,5 8,3 9,1 9,2 5,9 -1,15 -2,14 -1,10 0,9 0,7 0,6 0,6 -1,6 0,5 0,5 0,5 0,4zM313,708l-1,5 -1,4 0,4 -1,5 -1,4 -1,5 -1,5 -1,5 -1,5 -1,6 -1,6 -2,8 -1,8 -2,10 -2,12 -2,15 -4,17 -5,22 -7,26 -11,32 -15,33 -19,15 -19-2 -17-11 -14-15 -11-20 -7-23 -4-23 -2-21 -1-19 -1-16 0-14 0-12 0-11 0-10 0-9 0-9 0-8 0-7 -1-8 0-7 -1-7 0-7 -1-8 0-7 0-8 -1-9 0-9 0-9 0-11 0-11 1-12 1-14 1-15 3-17 6-14 12-4 15,1 13,2 13,3 12,4 12,5 10,6 9,7 9,7 8,6 7,6 8,2 9,1 9,2 5,9 -1,15 -1,13 -1,10 -1,8 1,7 0,6 0,6 0,5 0,5 0,5 0,5 0,4zM314,708l-1,5 -1,4 -1,5 -1,4 -1,5 -1,4 -1,5 -1,5 -1,5 -2,6 -1,6 -1,7 -2,8 -1,10 -2,12 -3,14 -3,18 -5,21 -7,27 -11,32 -15,33 -19,15 -19-1 -17-10 -14-15 -11-20 -8-23 -4-23 -2-21 -2-18 -1-16 0-14 0-12 0-12 0-10 0-9 0-9 0-8 0-8 0-7 0-8 0-7 0-7 0-8 0-7 0-8 0-8 0-9 0-9 0-10 0-12 0-12 1-14 1-15 2-17 6-15 12-4 14,1 14,1 13,3 12,3 11,5 11,6 10,7 8,7 9,6 7,5 8,3 10,1 9,2 4,9 0,15 -2,13 -1,11 -1,8 1,7 0,6 0,6 0,6 0,5 0,5 0,5 0,4zM309,708l0,4 -1,4 0,5 0,4 0,5 -1,5 0,5 0,5 -1,6 -1,6 -1,7 -1,8 -1,9 -2,10 -2,12 -3,15 -4,18 -5,21 -7,27 -11,32 -16,34 -19,14 -19-2 -18-11 -14-15 -11-20 -8-23 -4-24 -2-22 -1-18 -1-16 -1-14 0-13 0-11 0-11 1-9 0-9 0-8 0-8 0-7 0-8 0-7 0-7 0-8 1-7 0-8 0-8 0-8 0-9 0-11 0-11 0-12 1-14 1-15 1-18 6-15 12-5 14,1 14,1 12,2 13,3 11,4 11,6 10,6 9,6 8,7 9,5 8,3 9,1 10,2 4,11 -1,15 -2,14 -2,11 -1,9 0,7 -1,7 0,6 -1,6 -1,5 0,5 0,4 -1,5zM312,708l-1,4 0,5 -1,4 0,5 -1,4 -1,5 0,5 -1,5 -1,6 -1,6 -1,7 -2,7 -1,9 -2,10 -2,12 -2,15 -4,18 -5,22 -7,27 -11,33 -16,35 -19,15 -20-1 -17-11 -15-16 -12-20 -7-23 -5-24 -2-22 -1-19 -1-16 0-15 -1-13 0-11 0-10 1-10 0-9 0-8 0-8 -1-8 0-8 0-7 0-7 0-8 0-8 0-8 0-8 0-9 0-10 0-10 0-12 0-12 1-15 1-15 3-18 6-15 12-4 15,1 14,2 13,3 12,3 12,5 11,6 10,7 9,6 8,7 8,5 9,3 9,1 9,2 5,10 -1,15 -2,14 -1,11 -1,8 0,8 0,6 -1,6 0,6 0,5 0,5 -1,5 0,4zM313,708l-1,5 0,4 -1,5 0,4 -1,5 -1,5 0,5 -1,5 -1,6 -1,6 -1,7 -1,8 -2,9 -2,10 -2,12 -2,15 -4,18 -5,22 -8,28 -11,33 -16,35 -20,15 -19-1 -18-11 -15-16 -12-21 -7-24 -4-24 -2-22 -2-19 0-17 -1-15 0-12 0-12 0-10 0-10 1-9 -1-8 0-8 0-8 -1-7 0-8 0-8 0-7 -1-8 0-8 0-9 0-9 0-10 0-10 1-12 0-13 1-14 1-16 3-17 6-15 13-4 15,1 14,3 13,3 12,4 12,5 11,6 10,7 9,6 8,7 8,5 8,2 10,1 9,2 5,10 -1,15 -2,14 -1,11 -1,8 0,8 0,6 0,6 0,6 0,5 0,5 -1,5 0,4zM314,708l0,5 -1,4 0,5 -1,5 0,4 -1,5 -1,6 -1,5 -1,6 -1,6 -1,7 -2,8 -1,8 -2,11 -2,12 -3,16 -3,18 -6,23 -7,30 -12,35 -16,37 -20,17 -21,0 -19-11 -16-15 -12-22 -9-24 -4-26 -3-23 -1-20 -1-18 -1-15 0-14 0-12 0-11 0-11 1-9 0-9 0-9 0-8 0-8 0-8 0-8 0-8 -1-8 0-9 0-9 0-9 0-11 0-11 0-12 0-14 1-15 2-17 2-19 7-15 13-5 16,2 15,3 14,4 13,5 13,6 11,7 10,7 9,8 9,6 8,6 8,3 10,1 9,2 5,10 -1,16 -3,14 -1,12 -1,8 0,8 0,6 0,6 0,6 0,5 0,5 0,5 0,4zM315,708l0,5 0,4 -1,5 0,5 -1,5 -1,5 -1,5 -1,6 -1,5 -1,7 -2,7 -1,7 -2,9 -2,11 -2,12 -2,16 -4,19 -5,24 -8,30 -11,36 -17,39 -21,18 -21,0 -20-10 -16-16 -13-22 -9-25 -5-26 -2-23 -2-21 -1-18 -1-16 -1-14 0-13 0-12 1-10 0-11 0-9 1-9 0-8 0-9 1-8 0-8 0-8 1-9 0-8 0-9 0-10 0-10 0-11 0-13 1-14 0-15 1-18 3-19 6-16 14-4 16,2 15,3 15,4 13,4 13,6 11,7 10,7 10,8 8,6 9,6 9,3 9,1 10,2 5,11 -1,16 -3,14 -1,12 -1,9 0,8 0,6 -1,7 0,5 0,5 0,6 0,4 0,5zM313,708l0,5 -1,4 -1,5 0,4 -1,5 0,5 -1,5 -1,6 0,6 -1,6 0,8 -1,8 -2,10 -1,11 -2,14 -2,17 -4,20 -6,25 -8,31 -12,38 -17,41 -22,18 -22,1 -20-11 -18-17 -13-23 -9-26 -5-28 -2-25 -2-22 0-19 -1-16 0-15 0-13 0-12 0-11 0-10 0-10 0-9 -1-9 0-8 0-9 0-9 -1-8 0-9 0-10 1-9 0-11 0-10 0-12 1-13 1-14 1-16 2-17 2-20 8-16 15-3 17,3 16,4 14,5 14,5 13,7 11,7 10,8 10,7 8,6 9,5 9,3 10,0 10,2 5,10 -1,17 -2,15 -2,11 0,10 -1,7 0,7 0,7 -1,6 0,5 -1,6 0,5 -1,4zM318,708l0,5 0,5 -1,5 0,5 -1,5 -1,5 -1,6 -1,6 -1,6 -2,6 -1,7 -2,8 -2,9 -1,11 -3,13 -2,17 -4,20 -6,24 -8,32 -11,39 -18,42 -22,19 -23,1 -20-11 -18-16 -14-23 -9-27 -5-27 -2-26 -2-22 -1-19 -1-16 0-16 0-13 0-12 0-12 1-10 0-10 0-10 0-9 0-8 0-9 1-9 0-8 0-9 0-10 0-9 0-11 -1-11 0-12 1-13 0-15 1-16 1-18 3-21 7-16 15-4 18,3 16,5 15,5 14,6 13,6 12,8 11,8 9,8 9,7 8,6 9,3 10,0 10,2 5,11 -1,17 -3,15 -2,11 0,9 0,8 0,7 0,6 0,5 0,6 1,5 0,5 0,5zM318,708l0,5 -1,5 -1,5 -1,5 -1,4 -1,6 -1,5 -1,5 -1,6 -1,7 -2,7 -1,8 -2,9 -1,11 -2,13 -3,16 -4,21 -5,25 -8,32 -11,39 -18,42 -22,20 -23,1 -20-11 -18-16 -14-23 -9-27 -5-28 -3-25 -1-23 -1-19 -1-17 0-15 0-13 1-13 0-11 0-11 0-9 0-10 0-9 0-8 0-9 0-9 0-8 0-9 0-10 0-10 -1-10 0-11 0-13 0-13 0-15 1-17 1-19 3-20 7-17 16-4 17,3 17,4 16,5 14,6 13,6 12,8 11,8 10,8 9,6 9,6 9,3 10,1 11,2 5,11 -1,17 -3,15 -1,12 -1,10 0,8 0,7 0,6 -1,7 0,5 0,6 0,5 0,5zM316,708l0,5 0,5 0,5 0,5 -1,5 0,5 -1,6 0,6 -2,6 -1,7 -1,7 -2,8 -2,10 -2,11 -2,13 -3,16 -4,20 -5,25 -8,32 -12,39 -18,42 -22,20 -23,1 -21-11 -18-17 -13-23 -10-27 -5-28 -2-25 -2-23 -1-19 -1-17 -1-14 0-14 0-12 0-12 0-10 0-10 0-10 0-9 0-9 0-9 0-9 1-9 0-9 0-9 0-10 0-11 0-11 0-13 0-13 0-15 1-17 1-19 3-21 7-18 15-4 18,3 17,4 16,5 14,6 14,6 12,8 11,8 10,8 9,7 9,6 10,3 10,1 10,3 5,12 -2,17 -3,16 -2,13 -1,9 -1,9 0,7 -1,6 0,6 0,5 0,5 0,5 0,5zM317,708l-1,5 0,5 -1,4 -1,5 0,5 -1,5 -1,6 -1,6 0,6 -1,6 -2,8 -1,8 -1,10 -2,11 -2,14 -3,17 -3,21 -6,25 -8,33 -12,40 -18,43 -23,20 -23,1 -21-11 -18-17 -14-23 -9-28 -5-29 -3-26 -1-23 -1-19 -1-18 0-15 0-14 0-12 0-12 1-11 0-10 0-9 -1-9 0-9 0-9 0-9 0-9 0-9 0-10 0-10 0-11 0-11 0-12 0-14 0-15 1-17 2-18 3-21 7-17 16-4 18,4 17,5 16,5 14,6 13,7 12,8 11,8 10,7 9,7 8,5 10,3 10,1 11,2 5,11 -1,17 -3,15 -2,13 0,9 -1,8 0,7 0,7 -1,6 0,6 0,5 0,5 -1,5zM317,708l-1,5 0,5 0,5 -1,4 -1,6 0,5 -1,5 -1,6 -1,6 -1,7 -2,7 -1,8 -2,9 -1,11 -3,14 -2,16 -4,21 -5,25 -8,33 -12,40 -18,43 -23,21 -23,1 -21-10 -18-17 -14-23 -10-27 -5-28 -3-26 -2-23 -1-19 -1-18 0-15 0-14 0-13 0-12 1-11 0-10 1-10 0-9 1-9 0-9 0-9 1-9 0-9 0-9 0-10 0-10 0-12 0-12 0-14 0-15 0-17 1-19 3-21 7-18 15-4 18,3 17,4 16,5 14,6 14,6 12,8 11,8 10,7 9,7 9,6 10,3 10,2 11,2 5,12 -2,17 -2,16 -3,13 -1,9 0,9 -1,7 0,6 -1,6 0,6 0,5 0,5 0,5zM318,708l-1,5 0,5 -1,5 -1,4 -1,5 -1,6 0,5 -1,6 -1,6 -1,6 -2,8 -1,8 -1,10 -2,11 -2,14 -3,16 -3,21 -6,26 -8,33 -12,40 -18,44 -23,20 -23,1 -21-11 -19-17 -14-23 -9-28 -5-29 -2-26 -2-23 -1-20 0-17 0-16 0-14 0-12 0-12 1-11 0-10 0-9 -1-9 0-9 0-9 0-9 -1-9 0-9 0-10 0-10 0-11 -1-12 0-12 1-14 0-15 1-17 1-20 3-20 8-18 16-3 18,3 17,5 16,6 14,6 14,6 12,8 11,8 10,8 9,7 9,5 10,3 10,1 11,2 5,11 -1,17 -2,16 -2,12 -1,10 0,8 0,7 -1,7 0,6 0,6 -1,6 0,5 0,5zM315,708l0,5 -1,4 -1,5 0,5 -1,5 0,5 -1,5 0,6 -1,6 -1,7 -1,8 -1,8 -1,10 -2,12 -2,14 -2,17 -4,21 -5,26 -9,33 -12,41 -18,44 -23,21 -24,1 -21-10 -19-17 -14-24 -10-28 -5-29 -3-27 -2-23 -1-20 -1-17 0-16 -1-14 0-12 0-12 0-11 0-11 -1-10 0-9 0-10 0-9 0-9 1-10 0-9 0-10 1-10 0-11 1-12 0-12 1-14 0-15 1-17 2-19 3-21 7-18 16-3 19,4 17,4 16,6 14,6 14,6 12,8 11,8 10,7 10,7 9,5 10,3 11,0 10,2 6,12 -1,17 -3,16 -2,13 -1,10 -1,9 -1,8 0,6 -1,7 -1,6 -1,5 0,5 -1,5zM318,708l-1,5 0,5 -1,5 0,5 -1,5 0,5 -1,6 -1,6 0,6 -1,7 -2,8 -1,9 -1,9 -2,12 -3,14 -2,17 -4,21 -6,26 -8,33 -13,42 -18,44 -23,21 -24,2 -22-11 -19-18 -14-24 -10-28 -5-30 -2-27 -2-23 -1-20 -1-18 -1-15 0-14 0-13 -1-12 0-11 -1-10 0-10 -1-10 0-9 -1-10 0-10 0-9 0-10 1-10 0-11 0-11 1-12 0-13 1-14 1-15 1-17 2-20 3-21 8-17 17-3 19,4 17,5 17,7 14,6 14,7 12,8 11,8 10,8 9,7 9,5 10,3 11,0 11,2 5,11 -1,18 -3,16 -2,13 -1,10 0,8 -1,8 0,6 -1,7 0,5 0,6 -1,5 0,5zM319,708l0,5 -1,5 0,5 -1,5 0,5 -1,6 -1,6 -1,5 -1,7 -1,7 -1,7 -2,9 -2,9 -2,12 -2,13 -3,17 -3,22 -6,27 -8,34 -12,42 -19,47 -24,22 -24,2 -22-11 -20-17 -15-24 -10-29 -5-30 -3-27 -2-24 -2-20 -1-18 0-17 -1-14 0-13 0-13 -1-11 0-11 0-10 0-10 0-10 0-10 0-10 0-10 0-10 1-10 0-11 1-11 0-12 0-13 1-14 1-16 1-18 2-20 3-21 8-19 17-3 19,5 18,6 17,6 15,7 14,8 12,8 11,9 10,7 10,7 9,6 10,3 11,0 10,2 5,12 -1,18 -3,16 -2,13 -1,10 0,8 0,7 -1,7 0,6 0,6 0,6 0,5 -1,5zM321,708l-1,5 0,5 -1,5 0,6 -1,5 -1,5 -1,6 -1,6 -1,6 -1,7 -2,8 -1,8 -2,10 -2,12 -2,14 -3,18 -3,22 -6,27 -8,36 -13,44 -19,48 -24,24 -26,2 -23-10 -20-17 -16-25 -10-30 -6-31 -3-28 -2-25 -1-22 -1-19 0-16 0-16 0-14 0-12 0-12 1-11 0-11 0-10 0-10 0-10 0-10 0-10 0-10 0-10 0-11 0-12 0-13 0-13 0-15 0-17 1-19 2-21 3-23 8-19 18-3 20,5 19,6 17,8 16,7 14,8 13,9 12,9 10,9 9,7 10,6 10,3 11,1 11,2 5,12 -2,19 -3,16 -2,13 -1,10 -1,9 0,7 0,7 0,6 0,6 0,5 0,6 0,5zM321,708l0,5 -1,5 -1,5 -1,5 0,6 -1,5 -1,6 -1,6 -1,7 -1,7 -1,8 -1,9 -2,10 -2,12 -2,15 -2,18 -4,23 -6,28 -8,37 -13,45 -20,50 -25,24 -26,3 -24-11 -21-17 -16-26 -10-31 -6-32 -3-30 -2-25 -1-22 -1-20 -1-17 0-15 -1-14 0-13 0-12 -1-12 0-10 -1-11 0-11 -1-10 0-10 0-11 0-11 0-11 1-12 0-12 0-13 1-14 1-15 1-17 2-19 2-20 4-23 8-19 19-2 21,6 20,7 17,8 16,8 14,9 13,9 11,9 11,8 9,7 10,5 10,3 12,0 11,2 6,11 -2,19 -2,17 -2,13 -1,10 -1,9 0,7 0,7 0,7 -1,6 0,6 -1,5 0,6zM319,708l-1,5 0,5 0,5 -1,5 0,5 -1,6 0,6 -1,6 -1,7 -1,7 -1,8 -1,9 -1,11 -2,12 -2,15 -3,18 -4,23 -5,29 -9,37 -13,46 -20,51 -26,24 -26,3 -24-10 -21-18 -17-25 -10-32 -6-32 -4-30 -1-26 -2-23 -1-19 0-18 0-16 0-14 0-14 1-12 0-12 0-11 0-10 0-11 0-10 0-10 0-11 0-10 0-11 0-12 0-12 0-13 0-14 1-16 0-17 1-19 2-22 3-24 9-19 18-3 21,5 20,7 18,8 16,8 15,9 13,9 12,9 10,9 10,8 10,5 10,4 11,0 12,3 5,12 -2,19 -3,18 -3,13 -1,11 -1,8 -1,8 0,7 -1,6 0,6 0,6 -1,5 0,5zM322,708l-1,5 -1,5 -1,5 0,6 -1,5 -1,5 -1,6 0,6 -1,7 -1,7 -2,8 -1,9 -1,11 -2,12 -2,15 -3,19 -4,23 -5,29 -9,38 -13,47 -20,52 -26,25 -27,4 -24-10 -22-18 -17-26 -11-31 -6-33 -4-31 -2-26 -1-23 -1-20 -1-18 -1-16 0-15 0-13 0-13 0-12 0-11 0-11 0-11 1-11 0-11 0-10 1-11 0-11 1-12 0-12 1-13 0-15 1-15 1-17 1-20 2-21 3-24 9-19 19-3 22,6 19,8 18,8 16,8 15,9 13,9 12,9 10,9 10,7 10,5 10,3 12,0 12,2 5,12 -1,19 -3,17 -2,14 -1,10 -1,9 0,8 -1,7 0,7 -1,6 0,6 0,5 -1,6zM322,708l-1,5 0,5 -1,6 0,5 -1,5 0,6 -1,6 -1,7 -1,6 -1,8 -1,8 -1,9 -2,11 -2,12 -2,16 -3,18 -4,24 -6,29 -8,38 -14,47 -20,52 -26,26 -27,3 -25-10 -22-18 -17-27 -11-32 -6-33 -3-31 -2-27 -1-23 -1-20 -1-18 0-16 0-15 0-14 0-12 0-12 0-12 0-11 0-10 0-11 0-11 0-10 0-11 1-12 0-11 0-13 0-13 1-15 0-15 1-18 1-19 2-22 3-25 9-19 20-3 21,6 20,8 19,8 16,9 15,8 13,10 12,9 11,8 10,7 10,6 10,3 12,0 12,2 5,13 -1,19 -4,18 -2,13 -1,11 -1,9 0,8 -1,7 0,7 -1,6 0,6 -1,5 0,6zM321,708l0,5 -1,5 -1,5 0,6 -1,5 0,6 -1,6 -1,6 -1,7 -1,7 -1,8 -1,9 -1,11 -2,13 -2,15 -3,19 -4,24 -5,30 -9,39 -13,49 -21,54 -27,26 -27,4 -26-10 -22-18 -17-27 -12-33 -6-34 -3-32 -2-27 -1-24 -1-20 0-19 0-16 0-16 0-13 0-13 0-12 -1-12 0-11 0-11 0-11 -1-11 0-11 0-11 0-12 0-12 0-13 0-14 0-16 0-16 1-19 1-20 2-23 3-25 10-21 20-2 23,6 21,8 19,9 17,9 15,9 14,10 12,10 11,9 11,8 10,6 11,3 12,1 11,2 6,13 -2,20 -3,18 -3,14 -1,11 -1,10 -1,8 -1,7 0,7 -1,6 0,6 -1,5 0,6zM325,708l-1,5 0,6 -1,5 0,6 -1,5 -1,6 -1,6 -1,7 -1,6 -2,8 -1,8 -2,9 -2,10 -2,13 -2,15 -3,19 -3,24 -6,30 -9,40 -13,50 -21,55 -27,28 -28,4 -26-10 -23-18 -18-26 -12-34 -6-34 -4-32 -2-28 -1-24 -1-21 -1-19 0-18 0-15 1-15 0-13 1-13 0-11 1-12 0-11 0-11 1-11 0-11 0-11 0-12 0-12 -1-13 0-14 0-16 0-16 0-19 1-21 1-24 4-26 9-21 20-3 23,7 22,8 19,9 17,9 16,10 14,10 13,10 11,9 10,8 10,7 11,3 12,1 12,2 5,13 -2,21 -3,18 -3,14 -1,11 -1,9 0,8 -1,8 0,6 0,6 0,6 0,6 0,6zM320,708l0,5 0,5 0,5 0,6 -1,5 0,6 0,7 -1,6 0,7 -1,8 -1,9 -1,9 -2,11 -2,13 -2,16 -3,19 -4,24 -6,30 -9,40 -14,49 -21,55 -27,27 -28,4 -26-11 -23-18 -18-27 -11-33 -7-35 -3-32 -2-28 -2-24 -1-21 -1-18 0-17 -1-16 0-14 0-13 -1-13 0-12 0-11 0-12 0-11 0-11 0-12 1-11 0-12 1-13 0-13 1-14 0-15 1-16 1-19 1-20 2-23 3-26 10-21 20-2 23,7 21,8 20,9 17,9 15,10 14,10 12,9 12,9 10,8 10,6 11,3 12,0 12,3 6,13 -2,20 -4,19 -3,14 -1,12 -2,9 -1,8 -1,8 0,6 -1,6 -1,6 0,6 -1,5zM320,708l0,5 -1,5 0,5 -1,5 0,6 0,6 -1,6 0,6 -1,7 -1,8 0,8 -2,10 -1,11 -2,13 -2,16 -2,20 -4,24 -6,31 -9,41 -14,51 -21,56 -28,28 -28,5 -27-10 -23-19 -18-27 -12-34 -7-35 -4-33 -2-28 -2-24 -1-22 -1-19 -1-17 -1-16 0-14 -1-14 0-13 -1-12 0-12 -1-12 0-12 0-12 1-12 0-12 1-12 1-13 0-13 1-15 1-15 1-17 2-19 1-20 3-24 3-25 10-21 21-2 24,8 22,9 19,10 18,9 15,10 14,10 12,10 12,9 10,7 10,6 11,3 13,0 12,2 6,13 -2,21 -4,19 -3,14 -1,12 -1,9 -1,8 -1,8 -1,7 -1,6 -1,6 -1,6 0,5zM326,708l-1,5 -1,6 -1,5 0,6 -1,5 -1,6 -1,6 -1,7 -1,6 -1,8 -2,8 -1,10 -2,11 -1,13 -2,15 -3,20 -4,25 -6,32 -9,41 -13,53 -22,57 -28,30 -29,5 -27-10 -24-18 -19-28 -13-34 -6-36 -4-34 -3-29 -1-25 -2-22 0-19 -1-18 0-16 0-15 0-14 0-14 0-12 0-12 0-12 1-12 0-12 0-11 1-12 0-13 1-13 0-13 1-15 0-15 1-17 1-19 1-22 2-23 4-27 9-21 22-2 24,8 22,10 20,10 17,10 16,10 14,10 13,10 11,9 10,7 11,6 11,3 13,0 12,2 6,13 -2,20 -3,19 -3,14 -1,12 0,9 -1,8 0,8 -1,7 0,7 -1,6 0,6 -1,5zM322,708l0,5 -1,5 -1,6 0,5 0,6 -1,5 0,7 -1,6 0,8 -1,7 -1,9 -1,10 -1,12 -2,13 -2,16 -3,21 -4,25 -6,32 -9,42 -14,52 -22,58 -28,29 -30,5 -27-10 -24-19 -19-28 -12-36 -7-36 -3-34 -3-30 -1-25 -1-22 -1-20 0-17 -1-16 0-15 0-14 -1-13 0-13 -1-12 0-12 0-12 -1-12 0-12 1-12 0-13 0-13 1-14 0-15 1-16 1-17 1-20 2-21 2-24 4-27 10-21 22-1 25,8 22,10 20,10 18,10 16,11 14,10 13,11 11,9 11,7 10,6 11,3 13,0 12,2 6,13 -2,21 -3,19 -3,15 -2,11 -1,10 0,8 -1,8 -1,7 -1,6 -1,7 -1,5 0,6zM326,708l-1,5 0,6 -1,5 -1,6 0,6 -1,6 -1,6 -1,6 -2,7 -1,7 -1,9 -2,9 -2,11 -1,12 -3,16 -2,20 -4,25 -6,32 -9,41 -13,53 -22,58 -28,30 -30,6 -27-10 -24-19 -19-27 -12-35 -7-37 -4-33 -2-29 -2-25 -1-22 -1-20 0-18 0-16 0-15 -1-14 0-13 0-13 0-12 0-12 -1-12 0-12 0-12 0-12 0-13 0-13 1-14 0-15 0-17 1-17 1-20 1-22 2-25 4-27 10-22 22-1 25,8 23,10 20,10 18,11 17,11 14,11 13,10 11,10 11,8 10,6 11,3 13,1 12,2 6,14 -2,21 -4,18 -2,15 -2,11 0,10 -1,8 0,8 -1,6 0,7 0,6 -1,6 0,5zM324,708l0,5 -1,6 -1,5 -1,5 0,6 -1,6 -1,6 -1,6 0,7 -1,8 -1,9 -1,9 -2,12 -1,13 -2,17 -3,20 -4,26 -6,32 -9,43 -14,54 -22,60 -29,31 -30,5 -28-10 -25-18 -19-28 -13-36 -7-37 -4-35 -2-30 -2-26 -1-23 -1-20 0-18 0-17 0-15 0-15 0-13 0-13 0-13 1-12 0-12 0-12 0-12 0-12 1-13 0-13 0-15 0-15 1-16 0-18 1-20 1-22 2-25 4-27 10-22 23-2 25,9 22,10 21,10 18,11 16,10 15,11 13,11 12,9 10,8 11,6 11,3 13,0 13,2 6,14 -2,21 -4,19 -3,15 -1,12 -1,10 -1,8 -1,8 0,7 -1,7 -1,6 0,6 -1,6zM326,708l0,6 0,5 -1,6 -1,5 0,6 -1,6 -1,6 -1,7 -1,7 -1,8 -2,8 -1,10 -2,11 -2,14 -2,16 -3,20 -4,26 -5,33 -9,43 -15,54 -22,61 -29,31 -31,6 -28-10 -25-19 -20-28 -12-36 -7-38 -4-35 -3-30 -1-26 -1-23 -1-21 -1-18 0-17 0-16 0-14 0-14 0-13 0-12 0-13 -1-12 0-12 0-13 0-12 0-14 0-13 0-15 0-15 1-17 0-19 1-20 2-23 2-25 4-27 11-23 23-1 26,9 23,11 21,11 19,12 16,11 15,12 13,11 11,10 11,8 10,7 12,3 12,0 13,3 5,13 -2,21 -4,20 -3,14 -1,12 -1,9 0,8 -1,8 0,7 0,6 0,6 0,6 0,5zM325,708l-1,5 0,6 0,5 -1,6 0,6 -1,6 0,6 -1,7 -1,7 -2,8 -1,8 -1,10 -2,11 -2,13 -2,16 -3,21 -4,26 -5,32 -9,44 -15,54 -22,61 -29,32 -31,6 -28-10 -25-18 -20-29 -13-35 -7-38 -4-35 -3-30 -2-26 -1-23 -1-21 -1-19 0-17 0-15 0-15 0-14 0-13 0-13 0-13 0-12 0-12 1-13 0-12 0-14 0-13 0-15 1-15 0-17 1-19 0-20 2-23 2-25 4-28 10-23 23-1 26,8 24,11 21,11 19,11 16,12 15,12 13,11 12,10 11,8 10,7 11,3 13,1 12,3 6,13 -3,22 -4,19 -3,15 -2,12 -1,10 0,8 -1,7 0,7 -1,6 0,6 0,6 0,6zM326,708l-1,5 0,6 -1,5 0,6 -1,6 -1,6 0,6 -1,7 -1,7 -1,8 -1,9 -2,10 -1,11 -2,13 -2,17 -3,20 -4,27 -6,33 -9,44 -14,55 -23,62 -30,31 -30,6 -29-10 -26-18 -20-29 -12-37 -8-38 -4-35 -2-31 -2-27 -1-23 -1-20 -1-19 0-17 0-16 -1-15 0-14 0-13 -1-13 0-12 0-13 0-13 0-12 0-13 0-14 1-14 0-14 1-16 0-17 1-19 1-20 2-23 2-26 4-27 11-23 24-1 26,9 23,11 22,12 19,11 16,12 15,12 13,10 12,10 11,8 10,7 12,3 13,0 12,2 6,14 -2,22 -4,19 -3,15 -1,12 -1,10 -1,8 0,8 -1,7 -1,7 0,6 0,6 -1,5zM328,708l0,6 0,5 -1,6 -1,6 0,6 -1,6 -1,6 -2,7 -1,7 -2,8 -1,8 -2,10 -2,11 -2,13 -2,16 -3,20 -3,26 -6,34 -9,44 -14,56 -23,62 -30,33 -31,6 -29-9 -25-19 -21-28 -13-37 -7-38 -5-35 -2-31 -2-27 -2-23 -1-21 -1-19 0-17 0-16 0-16 0-14 0-13 0-13 0-13 0-13 0-13 0-12 1-13 0-14 0-14 0-15 1-16 0-17 1-18 1-21 1-23 3-26 4-29 11-23 23-1 27,10 24,11 21,12 19,12 17,11 15,13 13,11 12,10 11,9 10,6 11,4 13,0 13,2 5,14 -2,22 -4,19 -3,15 -1,12 -1,9 0,9 -1,7 0,7 0,7 0,6 0,6 0,5zM326,708l-1,5 -1,6 -1,5 -1,5 -1,6 -1,6 -1,6 -1,6 -1,7 -1,8 -1,8 0,10 -2,12 -1,14 -2,17 -2,22 -4,27 -5,34 -9,45 -15,57 -23,64 -30,33 -32,7 -29-10 -27-19 -20-29 -13-38 -8-39 -3-37 -3-32 -1-27 -1-24 -1-21 0-20 0-17 0-16 0-15 0-14 0-14 -1-13 0-12 0-13 -1-13 0-13 -1-13 0-14 0-14 0-15 0-17 1-17 0-19 1-22 2-23 3-26 4-29 11-23 25,0 26,9 25,12 22,13 19,12 17,12 15,12 13,11 12,10 11,8 11,7 12,3 13,0 13,2 6,14 -2,21 -4,20 -2,15 -2,12 0,10 -1,9 -1,8 0,7 -1,7 -1,6 -1,7 -1,5zM328,708l0,6 -1,5 0,6 -1,6 -1,6 -1,6 -1,6 -1,7 -1,7 -1,8 -1,9 -2,10 -2,11 -1,14 -2,17 -3,21 -4,27 -6,35 -9,46 -15,59 -23,65 -31,35 -32,8 -31-10 -27-18 -21-30 -14-38 -8-40 -5-37 -2-32 -3-28 -1-24 -1-22 -1-20 0-19 0-17 0-15 0-15 0-15 0-13 1-14 0-13 1-13 0-13 0-14 1-14 0-14 0-16 1-16 0-18 1-19 1-22 1-24 2-27 4-30 12-24 24-1 28,10 25,12 22,13 20,12 18,13 15,12 14,12 12,10 11,9 11,6 12,4 13,0 13,3 6,14 -2,23 -5,20 -3,16 -1,12 -1,10 -1,8 -1,8 0,7 -1,7 0,6 0,6 -1,6zM326,708l-1,6 -1,5 0,5 -1,6 -1,5 -1,6 -1,6 -1,7 0,7 -1,8 -1,9 -1,11 -1,12 -1,14 -2,18 -2,22 -4,28 -6,36 -9,47 -15,60 -24,67 -31,35 -34,8 -31-9 -27-19 -22-30 -14-39 -8-41 -5-38 -2-33 -2-29 -2-25 -1-22 0-21 -1-18 0-17 0-16 0-15 0-15 0-14 0-13 -1-14 0-14 1-13 0-14 0-15 0-15 1-15 0-17 1-18 1-20 1-22 2-25 3-27 4-30 12-24 25,0 29,11 25,13 23,13 20,13 18,13 15,13 14,11 12,11 11,8 11,6 12,3 14,1 13,2 6,14 -2,23 -4,20 -3,16 -2,12 -1,11 -1,9 0,8 -1,7 -1,7 -1,6 -1,7 -1,5zM329,708l0,6 -1,6 0,5 -1,6 0,6 -1,7 0,7 -1,7 -1,7 -1,9 -1,9 -2,11 -1,12 -2,14 -2,18 -3,22 -4,28 -7,36 -9,48 -16,60 -24,68 -32,36 -34,8 -31-10 -29-19 -22-31 -14-40 -8-42 -4-39 -3-33 -2-29 -1-26 -1-23 -1-20 0-19 0-17 0-16 0-16 -1-14 0-14 0-14 0-14 1-14 0-13 0-15 0-14 0-15 1-16 0-17 1-19 1-20 1-22 1-25 3-28 4-31 12-24 26-1 29,12 26,13 23,14 21,13 17,13 16,13 14,12 12,10 12,9 11,6 12,4 14,0 13,2 6,15 -2,23 -5,21 -3,16 -2,12 -1,11 0,9 -1,8 -1,7 0,7 -1,6 0,6 -1,6z" stroke-opacity="0.21" stroke-width="0.65"/><path d="M289,708l-1,3 0,2 0,3 -1,3 0,3 -1,2 -1,3 -1,3 0,3 -1,3 -1,4 -1,4 -1,5 -2,5 -1,6 -2,6 -3,7 -4,7 -4,6 -6,5 -6,2 -6-2 -6-5 -4-7 -4-7 -2-7 -2-6 -2-6 -1-6 -1-4 0-5 -1-3 0-4 0-3 -1-3 0-3 0-2 0-3 -1-2 0-2 0-3 0-2 0-2 0-3 0-2 -1-3 0-2 0-3 0-3 1-3 0-4 0-4 1-4 0-4 1-5 1-6 2-5 3-6 3-6 4-5 5-4 5-2 6,1 5,3 5,4 4,6 4,5 3,4 3,4 2,3 2,5 1,4 1,5 1,4 0,3 1,3 1,3 1,3 1,2 0,3 1,3 0,3 1,2zM296,708l-1,3 0,3 -1,4 0,3 0,3 -1,4 0,4 0,4 -1,4 0,5 -1,5 -1,6 -1,6 -2,7 -1,9 -3,9 -3,11 -5,12 -6,13 -7,12 -10,12 -11,1 -9-5 -9-10 -6-11 -5-12 -3-12 -2-12 -1-10 -1-10 0-8 0-6 0-7 0-5 0-5 0-4 0-5 0-3 -1-4 -1-4 0-3 -1-4 0-4 -1-4 0-4 0-4 0-4 0-5 0-4 0-6 1-5 0-6 1-7 1-7 1-9 3-7 5-6 5-4 6-3 7-4 7-2 7,0 7,2 7,4 6,4 5,5 5,5 5,3 6,2 5,3 3,6 0,8 0,7 0,7 1,5 0,5 1,4 0,4 0,4 0,3 0,4 0,3 0,4zM301,708l0,4 -1,3 -1,4 0,3 -1,4 -1,4 -1,4 -1,4 -1,4 -1,4 -1,6 -1,5 -1,7 -2,7 -2,9 -2,10 -3,11 -5,14 -6,15 -8,16 -10,15 -12,4 -11-5 -10-9 -7-12 -6-13 -4-13 -3-14 -1-12 -1-10 -1-9 0-8 0-7 0-7 -1-5 1-6 0-5 -1-5 0-4 0-4 0-5 0-4 0-4 0-5 0-4 1-4 0-5 0-5 0-5 0-6 0-6 1-7 0-8 1-9 1-10 3-9 5-5 7-4 7-3 8-3 7-2 8,0 8,3 7,4 7,4 6,5 6,5 5,3 7,2 6,2 3,6 1,10 0,9 0,7 0,6 0,5 1,5 0,4 0,5 0,4 0,4 0,4 0,3zM302,708l-1,4 0,3 -1,4 -1,4 0,3 -1,4 -1,4 -1,4 -1,4 -1,5 -1,5 -2,5 -1,7 -2,7 -1,9 -3,10 -3,12 -5,13 -6,15 -8,17 -10,16 -12,4 -11-5 -10-9 -8-12 -6-13 -4-14 -2-13 -2-13 -1-10 0-9 -1-8 0-8 0-6 0-6 0-6 0-5 0-4 -1-5 0-4 0-5 0-4 0-4 0-5 -1-4 0-5 0-5 0-5 0-6 0-6 1-7 0-7 0-8 1-9 1-11 4-9 5-6 8-3 7-3 8-2 8-2 8,1 8,2 7,5 7,5 6,5 6,5 6,3 6,2 6,2 4,7 0,10 -1,9 0,7 1,6 0,5 1,5 0,5 0,4 0,4 0,4 1,4 0,3zM301,708l-1,4 0,3 0,4 -1,4 0,3 -1,4 0,4 -1,4 -1,5 -1,4 -2,6 -1,5 -1,7 -2,7 -2,9 -2,10 -4,12 -4,14 -6,16 -8,17 -11,17 -12,5 -12-5 -10-9 -9-12 -6-13 -4-14 -3-14 -1-13 -1-11 -1-9 -1-9 0-7 0-7 1-7 0-6 0-5 1-5 0-5 0-4 0-5 0-4 0-4 0-5 0-4 0-5 0-5 0-5 0-6 -1-6 0-7 0-8 0-9 0-10 1-10 3-10 7-7 7-3 8-4 8-2 8-1 9,0 8,3 8,5 7,5 6,6 6,5 5,4 7,3 6,2 3,8 0,10 -1,9 -1,8 0,6 0,5 1,5 0,5 0,4 0,3 0,4 1,4 0,3zM302,708l0,4 0,3 0,4 -1,4 0,4 0,5 -1,4 0,5 -1,4 -1,6 -1,5 -2,6 -1,7 -2,8 -2,10 -3,11 -3,13 -5,15 -7,18 -8,20 -12,19 -14,6 -13-4 -11-10 -10-12 -7-15 -5-16 -3-16 -1-14 -1-12 -1-11 0-10 0-8 0-8 0-7 0-6 1-6 0-6 0-5 0-5 0-5 1-5 0-5 0-5 0-5 0-5 0-5 0-6 0-6 0-7 0-7 -1-9 1-10 0-10 1-12 3-11 7-6 9-3 9-3 8-2 9-1 9,1 9,3 8,5 8,6 6,5 7,5 6,4 7,2 7,3 3,8 0,11 -1,10 -1,9 -1,7 0,5 0,6 0,4 0,5 0,4 0,4 0,4 1,3zM303,708l-1,4 0,3 -1,4 0,4 -1,4 0,4 -1,4 0,5 -1,5 -1,5 -1,6 -1,6 -1,7 -2,8 -2,10 -2,12 -4,13 -5,15 -6,19 -9,20 -12,19 -14,7 -13-5 -12-10 -9-13 -7-15 -5-16 -3-16 -1-15 -1-13 0-11 -1-9 0-9 0-7 1-7 0-7 0-5 0-6 0-5 -1-5 0-5 0-5 0-5 0-5 0-5 0-5 0-6 0-6 0-6 0-7 0-8 0-8 0-10 1-10 2-12 3-10 8-6 8-3 9-2 9-1 9-1 8,1 9,3 8,5 7,5 7,6 6,4 7,4 7,1 7,2 4,8 0,11 -1,10 -1,9 0,6 0,6 0,5 0,5 0,5 0,4 0,4 0,4 0,4zM304,708l-1,4 0,4 -1,3 -1,4 -1,4 0,4 -1,4 -1,4 -1,5 -1,5 -1,6 -1,6 -1,7 -1,9 -2,9 -3,12 -3,14 -5,16 -6,18 -9,22 -12,20 -14,7 -14-3 -12-11 -9-13 -8-15 -5-16 -3-17 -1-15 -1-13 -1-11 0-10 0-9 0-8 0-7 0-6 0-6 0-6 0-5 0-6 0-5 0-5 -1-5 0-5 0-6 0-5 0-6 0-6 0-7 0-7 1-8 0-8 0-10 1-11 2-11 4-11 7-6 9-2 9-2 9-1 9,0 9,1 9,4 8,4 7,6 7,5 7,4 6,3 7,2 8,2 4,7 0,12 -1,10 0,8 0,7 0,6 0,5 0,5 0,5 0,5 0,4 0,4 -1,4zM304,708l0,4 0,4 -1,4 0,4 -1,4 0,4 -1,4 -1,5 -1,5 -1,5 -1,5 -1,7 -2,7 -2,8 -2,9 -2,12 -4,14 -4,16 -7,19 -9,21 -12,21 -14,8 -14-4 -12-10 -10-13 -8-16 -5-16 -3-17 -2-15 -1-13 0-11 -1-10 0-9 0-8 1-8 0-7 0-6 1-6 0-5 0-6 0-5 0-5 1-5 0-5 0-5 0-6 0-5 0-6 -1-7 0-7 0-8 0-9 0-11 0-11 2-13 3-11 8-6 9-3 9-2 9-1 10,0 9,1 9,4 8,5 8,5 7,6 6,5 7,3 7,2 7,3 4,8 0,11 -1,11 -1,9 0,7 0,6 0,5 0,5 0,5 0,4 0,4 0,4 0,4zM305,708l0,4 -1,4 0,4 -1,4 0,4 -1,4 -1,5 -1,4 -1,5 -1,5 -1,6 -1,6 -2,7 -1,9 -2,10 -3,11 -3,15 -5,16 -6,20 -10,22 -12,23 -15,8 -14-4 -13-10 -10-13 -8-16 -5-17 -4-17 -1-16 -1-14 -1-11 0-11 0-9 0-9 0-7 0-7 1-7 0-6 0-6 0-5 0-6 0-5 0-5 0-6 0-5 0-6 0-6 0-6 0-7 -1-8 0-8 0-9 1-11 0-11 2-13 4-12 8-5 10-3 9-1 10-1 10,1 9,1 9,4 8,6 8,5 7,6 6,5 7,4 7,1 7,3 4,8 0,11 -1,11 -1,9 0,7 0,6 0,5 0,5 0,5 0,4 1,4 0,4 0,4zM306,708l0,4 -1,4 -1,4 -1,4 -1,4 -1,4 -1,4 -1,4 -1,5 -1,4 -1,6 -2,6 -1,7 -1,9 -2,10 -2,12 -4,14 -4,17 -7,20 -9,23 -12,23 -15,9 -14-4 -13-9 -11-14 -8-15 -5-18 -3-17 -2-16 -1-13 -1-12 0-11 -1-9 0-9 1-8 0-7 0-6 0-7 0-5 0-6 0-6 0-5 0-5 0-6 0-6 0-6 0-6 0-6 0-7 -1-8 1-9 0-9 0-10 1-12 2-13 4-11 8-6 10-1 10-2 10,0 10,1 9,2 9,4 8,5 8,6 7,5 6,5 7,3 7,2 8,2 4,8 0,11 -1,11 -1,9 0,6 1,6 0,6 0,5 1,5 0,4 0,4 0,5 0,4zM305,708l0,4 0,4 0,4 0,4 -1,5 0,4 0,5 -1,5 -1,5 -1,5 -1,6 -2,7 -1,8 -2,8 -2,11 -3,12 -4,15 -5,17 -6,21 -10,24 -13,24 -16,9 -15-3 -13-10 -11-14 -9-17 -6-19 -3-18 -1-17 -1-14 -1-13 0-11 0-10 0-9 0-8 1-8 0-7 0-6 0-6 0-6 0-5 0-6 0-6 0-5 0-6 0-6 0-6 0-7 -1-8 0-8 0-9 0-10 0-11 0-13 2-14 4-12 9-6 10-2 11-1 10,0 10,0 10,2 10,5 9,5 8,6 7,6 7,5 7,4 8,2 7,2 4,9 0,13 -2,12 -1,9 -1,8 0,6 0,5 0,6 0,4 -1,5 1,4 0,4 0,4zM306,708l0,4 0,4 -1,4 0,4 -1,4 0,5 -1,5 -1,4 -1,5 -1,6 -1,6 -1,6 -2,8 -2,9 -2,10 -2,12 -4,15 -5,17 -6,21 -10,25 -13,25 -16,9 -15-3 -13-11 -12-14 -8-17 -6-18 -3-18 -2-17 -1-15 -1-12 0-11 0-10 -1-9 1-8 0-8 0-7 0-6 0-6 0-6 0-6 0-6 0-6 0-6 0-5 1-7 0-6 0-7 0-7 0-8 0-9 0-10 0-11 1-12 1-14 4-13 9-5 11-2 10-1 10-1 11,1 9,2 10,4 9,5 8,6 7,5 7,5 8,3 8,2 8,2 4,9 -1,13 -1,11 -1,10 0,8 0,6 0,6 -1,5 0,5 0,5 0,5 0,4 -1,4zM308,708l-1,4 0,4 -1,4 0,5 -1,4 -1,4 0,5 -1,4 -1,6 -2,5 -1,6 -1,7 -1,8 -2,9 -2,10 -2,13 -4,16 -5,18 -7,22 -10,25 -13,26 -16,10 -16-3 -14-11 -12-14 -9-17 -6-19 -3-20 -2-17 0-16 -1-13 0-12 0-10 0-9 1-9 0-8 1-7 0-6 0-6 0-6 0-6 0-6 -1-6 0-6 0-6 0-6 -1-7 0-7 -1-8 0-8 0-10 0-10 0-12 1-13 2-14 5-12 9-5 11-1 11-1 11,1 10,1 10,3 10,4 9,6 8,7 7,6 7,5 7,3 8,1 7,2 4,9 0,12 -1,12 -1,9 0,7 0,7 0,5 0,5 0,5 0,5 0,4 1,5 0,4zM308,708l0,4 -1,4 0,4 -1,5 -1,4 0,4 -1,5 -1,5 0,5 -1,6 -1,6 -2,7 -1,9 -2,9 -2,11 -2,13 -4,15 -5,19 -7,22 -10,26 -14,27 -16,10 -17-4 -14-10 -12-15 -9-18 -6-20 -3-19 -2-19 0-15 -1-14 0-12 0-10 1-10 0-8 0-8 1-7 0-7 0-6 0-6 -1-6 0-6 0-6 0-6 0-6 0-6 -1-7 0-7 0-8 0-9 0-9 0-10 0-12 1-13 2-14 5-12 9-6 11-1 11,0 11,0 10,2 10,2 10,5 9,5 8,6 7,5 7,5 8,3 8,1 8,2 5,9 -1,12 -1,12 -1,10 0,7 0,7 0,6 0,5 0,6 0,4 0,5 0,4 0,5zM307,708l-1,4 -1,4 -1,4 0,4 -1,4 -1,4 0,5 -1,5 -1,5 0,5 -1,6 -1,7 -2,8 -1,9 -2,11 -2,13 -4,16 -5,19 -7,22 -9,27 -14,27 -16,10 -17-2 -14-11 -12-14 -9-18 -6-19 -4-20 -2-18 -1-16 -1-13 0-12 0-10 0-10 0-9 0-7 0-8 0-7 0-6 0-7 0-6 0-6 0-6 0-6 0-7 1-6 0-7 0-7 0-8 0-8 0-9 0-11 1-11 1-13 1-15 5-12 10-6 11-1 11,0 11,0 10,1 10,2 10,4 9,5 8,6 8,5 7,5 8,3 9,1 8,2 5,9 -1,13 -1,12 -1,10 0,8 0,7 0,6 -1,6 0,5 -1,5 -1,5 0,5 -1,4zM311,708l-1,4 -1,5 -1,4 -1,4 -1,4 -1,4 -1,5 -1,4 -2,5 -1,6 -1,6 -1,6 -2,8 -1,9 -2,11 -2,13 -4,16 -5,19 -6,24 -10,27 -14,28 -17,11 -16-2 -15-11 -13-14 -9-18 -6-19 -4-21 -2-18 -1-16 0-14 0-13 0-11 0-9 1-9 0-9 1-7 0-7 0-7 0-6 0-6 0-6 0-6 0-6 0-7 0-6 -1-7 0-8 -1-8 0-9 0-9 0-11 0-12 1-14 2-15 4-13 10-5 12-1 12,0 11,1 11,1 10,3 10,5 9,6 8,6 8,6 7,5 8,3 8,1 9,2 4,9 0,13 -2,12 0,10 0,7 0,7 0,6 0,5 1,6 0,5 0,4 -1,5 0,5zM307,708l0,4 0,4 0,5 0,4 -1,4 0,5 0,5 -1,5 -1,6 -1,5 -1,7 -1,7 -2,8 -2,9 -2,12 -3,13 -3,16 -5,20 -8,23 -10,29 -14,29 -17,12 -18-2 -15-11 -13-14 -10-19 -7-20 -4-21 -2-19 -1-17 -1-14 -1-12 -1-12 0-10 0-9 0-9 0-8 0-7 0-7 -1-7 1-7 0-7 0-7 0-7 1-6 0-7 1-8 0-7 0-9 0-9 1-10 0-11 1-12 1-14 2-15 5-14 10-5 13,0 12,0 11,1 11,2 11,3 10,5 9,6 9,7 7,6 8,5 7,3 9,1 8,3 4,9 0,14 -2,13 -2,10 0,8 -1,7 0,6 0,5 -1,5 0,5 0,4 0,5 0,4zM311,708l0,4 -1,5 0,4 0,5 -1,4 -1,5 -1,5 -1,5 -1,5 -1,6 -2,6 -1,7 -2,8 -2,9 -2,11 -3,14 -3,16 -5,20 -7,25 -11,28 -14,30 -18,13 -17-2 -16-10 -13-15 -10-18 -7-21 -4-22 -2-19 -2-17 0-15 -1-13 0-11 0-11 1-10 0-8 1-9 1-7 0-7 1-7 0-7 0-6 1-6 0-7 0-6 0-7 0-7 -1-8 0-9 -1-9 0-10 0-12 0-13 1-14 1-16 5-14 11-6 12,0 13,0 11,1 12,2 11,4 10,5 9,6 9,7 8,6 7,5 8,4 9,1 8,2 4,10 -1,14 -1,13 -2,10 0,8 0,7 0,6 0,5 0,5 0,5 0,5 1,4 0,5zM308,708l0,4 0,4 0,5 0,4 0,5 -1,5 0,5 0,5 -1,6 -1,6 -1,7 -2,7 -1,9 -2,9 -2,12 -3,14 -4,17 -5,20 -8,25 -10,30 -15,31 -18,13 -18-2 -17-11 -13-15 -11-19 -7-22 -4-22 -2-20 -1-17 -1-15 -1-14 0-12 -1-10 0-10 1-9 0-8 0-8 0-8 0-7 0-7 1-7 0-7 1-7 0-7 0-7 1-7 0-8 0-9 0-9 0-11 0-11 0-14 1-14 2-17 5-14 11-5 13-1 13,1 12,1 11,3 12,3 10,5 10,6 8,7 9,6 7,5 8,3 9,1 9,3 4,10 -1,14 -2,14 -1,11 -1,8 -1,7 0,7 -1,5 0,6 -1,5 0,4 0,5 0,4zM310,708l0,4 -1,5 0,4 -1,4 -1,5 0,4 -1,5 -1,5 -1,6 -1,6 -1,6 -1,7 -1,9 -2,10 -2,11 -3,15 -3,17 -5,20 -7,26 -11,31 -15,31 -18,14 -19-2 -16-10 -14-15 -11-20 -7-22 -4-22 -2-20 -1-18 -1-15 -1-14 0-12 0-11 0-10 0-9 1-8 0-8 0-8 0-7 0-7 0-7 0-7 0-7 1-7 0-7 0-8 0-8 0-9 0-10 0-10 0-12 1-13 1-15 2-16 5-14 12-5 13,0 13,1 12,2 12,2 11,4 10,6 10,6 8,6 8,6 8,5 8,3 9,1 9,2 4,10 0,14 -2,13 -1,11 -1,8 0,7 0,6 0,6 -1,6 0,5 0,5 0,4 0,5zM314,708l-1,5 -1,4 -1,4 -1,5 -1,4 -1,5 -1,5 -1,5 -1,5 -1,6 -1,7 -1,8 -1,9 -2,10 -2,12 -2,15 -4,19 -5,22 -7,27 -11,32 -16,35 -19,14 -20-1 -17-11 -15-15 -11-21 -8-23 -4-24 -2-22 -1-19 -1-17 0-14 0-13 1-12 0-10 1-10 0-8 0-8 0-8 0-7 -1-8 0-7 0-7 0-8 -1-7 0-8 0-9 0-8 -1-10 0-10 1-11 0-13 1-14 1-15 3-17 6-15 12-4 14,1 14,3 13,3 12,3 11,5 11,6 10,7 8,6 8,7 8,4 8,3 10,1 9,1 5,9 -1,15 -1,13 -1,11 0,8 0,7 0,7 0,6 0,5 0,6 0,5 -1,5 0,4zM314,708l0,5 0,4 -1,5 0,5 -1,5 0,5 -1,5 -1,5 -1,6 -2,6 -1,7 -2,8 -1,8 -2,10 -3,12 -3,15 -3,17 -6,22 -7,27 -11,32 -16,34 -19,15 -20-1 -17-11 -15-16 -11-20 -8-23 -4-24 -2-22 -1-19 -1-16 -1-14 0-13 1-12 0-10 0-10 1-9 0-8 0-8 1-7 0-8 0-7 0-7 0-7 0-8 0-8 0-8 -1-9 0-9 0-10 0-12 0-12 0-14 1-16 2-17 6-15 12-5 15,1 14,2 13,3 12,3 11,5 11,6 10,7 9,7 8,7 7,5 8,3 10,1 9,2 4,10 -1,15 -2,13 -1,11 -1,8 0,7 0,6 0,6 1,5 0,5 0,5 1,5 0,4zM311,708l0,4 -1,5 0,4 0,5 -1,5 0,4 0,6 -1,5 -1,6 -1,6 -1,7 -1,8 -2,9 -1,10 -3,12 -2,15 -4,18 -6,22 -7,27 -11,32 -16,34 -19,15 -20-1 -17-11 -15-16 -11-21 -8-23 -4-24 -2-22 -1-19 -1-17 0-14 0-13 0-11 0-11 1-9 0-9 0-8 0-8 -1-7 0-8 0-7 0-7 -1-8 0-8 0-8 0-8 0-9 -1-10 0-10 0-11 1-13 0-14 2-16 2-18 6-14 12-5 15,1 14,2 13,3 12,3 12,5 11,6 10,7 9,7 8,7 8,5 8,3 9,1 9,3 5,10 -1,15 -2,13 -2,11 -1,9 0,7 0,7 -1,5 0,6 0,5 0,5 0,4 0,5zM313,708l0,5 -1,4 -1,5 0,4 -1,5 -1,5 0,5 -1,5 -1,6 -1,6 -1,7 -2,7 -1,9 -2,11 -2,12 -2,15 -4,18 -5,23 -8,28 -11,34 -16,36 -20,15 -20,0 -18-11 -15-16 -12-21 -8-24 -4-25 -2-22 -1-20 -1-17 -1-15 0-13 0-11 0-11 0-10 0-9 0-9 0-8 0-8 -1-7 0-8 0-8 0-8 0-8 0-8 0-8 0-10 0-10 0-10 0-12 0-13 1-15 1-16 3-18 6-16 13-4 15,1 15,3 13,3 13,4 12,5 11,6 10,7 9,7 9,6 8,5 9,3 10,1 9,2 5,10 -1,16 -2,14 -1,11 -1,9 0,8 0,6 -1,7 0,5 0,6 -1,5 0,5 0,4zM314,708l0,5 0,4 0,5 -1,5 0,5 0,5 -1,6 -1,5 -1,6 -1,7 -1,7 -2,8 -2,9 -2,10 -2,13 -3,15 -4,19 -5,23 -8,30 -11,36 -17,38 -21,17 -21,0 -19-11 -16-16 -13-22 -8-25 -5-26 -3-23 -1-21 -1-17 -1-16 0-14 -1-12 1-12 0-10 0-10 0-9 0-9 0-9 1-8 0-8 0-8 1-8 0-8 0-9 0-9 0-9 0-11 0-11 0-12 0-14 1-15 1-18 2-19 6-16 14-5 16,2 15,3 15,3 13,4 12,6 12,6 11,8 9,7 9,7 8,5 9,3 10,2 10,2 4,11 -1,16 -2,15 -2,12 -1,9 -1,8 0,7 -1,6 0,6 0,5 0,5 0,5 0,4zM316,708l0,5 0,5 0,5 -1,4 0,6 -1,5 -1,5 -1,6 -1,6 -1,6 -2,8 -1,8 -2,9 -2,10 -2,13 -3,16 -4,19 -5,24 -8,31 -12,36 -17,40 -21,18 -22,0 -20-11 -17-16 -13-22 -8-25 -5-27 -3-24 -2-21 -1-19 0-16 -1-14 0-13 1-12 0-11 1-10 0-10 0-9 0-8 1-9 0-8 0-8 1-8 0-9 0-9 0-9 0-9 0-11 0-11 0-13 1-14 0-15 1-18 3-19 6-17 14-4 17,3 15,3 15,4 13,5 13,6 11,7 10,8 10,7 8,6 9,6 9,3 10,1 9,2 5,10 -1,16 -2,15 -2,12 -1,9 0,7 0,7 0,6 0,6 0,5 0,5 0,5 0,5zM315,708l-1,5 0,4 -1,5 0,5 -1,5 0,5 -1,5 0,6 -1,6 -1,7 -1,7 -1,8 -2,10 -2,11 -2,13 -3,16 -3,20 -6,24 -8,31 -12,38 -17,40 -22,18 -22,0 -20-11 -17-16 -13-23 -9-26 -4-27 -3-25 -1-22 -1-18 -1-16 0-15 0-13 1-12 0-11 0-10 0-10 0-9 0-8 0-9 0-8 0-8 0-9 0-8 1-9 0-10 -1-10 0-10 0-12 1-13 0-14 1-16 1-18 2-19 7-17 15-4 17,3 15,3 15,5 14,5 12,6 12,7 11,7 9,8 9,6 8,6 10,3 10,0 10,2 4,11 -1,17 -2,15 -2,12 -1,9 0,8 0,7 -1,6 0,6 -1,5 0,6 0,5 0,4zM314,708l-1,5 -1,4 -1,5 0,4 -1,5 0,5 -1,5 0,6 -1,6 -1,6 0,8 -1,8 -2,10 -1,11 -2,14 -2,16 -4,21 -6,25 -8,31 -12,38 -17,41 -22,18 -22,0 -20-11 -18-16 -13-23 -9-27 -4-27 -3-26 -1-22 -1-19 0-16 0-15 0-13 0-12 1-11 0-10 0-9 0-9 -1-9 0-9 0-8 0-8 0-9 -1-9 0-9 0-10 0-10 0-11 0-11 1-13 0-15 1-16 2-17 2-20 7-17 15-3 17,2 16,4 15,5 14,5 12,6 12,7 11,7 9,7 9,7 9,5 9,2 11,1 10,2 5,10 0,17 -3,15 -1,12 -1,10 -1,8 0,7 -1,7 0,6 -1,6 -1,5 0,5 -1,5zM318,708l-1,5 0,5 0,5 -1,5 0,5 -1,5 -1,6 -1,6 -1,6 -2,6 -1,7 -2,8 -1,10 -2,10 -3,13 -3,16 -3,20 -6,25 -8,31 -12,38 -17,41 -22,19 -22,1 -20-11 -18-16 -13-23 -9-26 -5-28 -3-25 -2-22 -1-18 0-17 -1-15 0-13 0-12 0-11 0-11 0-9 0-10 0-9 0-8 1-9 0-9 0-8 0-9 0-9 1-10 0-10 0-11 0-12 0-13 0-14 1-17 2-18 2-20 7-17 15-3 17,2 16,5 16,4 13,6 13,6 12,7 11,8 9,8 9,6 9,6 9,3 10,0 10,2 5,11 -1,17 -2,15 -2,12 -1,9 0,8 0,7 -1,6 0,6 0,6 0,5 1,5 0,5zM318,708l-1,5 0,5 -1,5 -1,5 0,5 -1,5 -1,5 -1,6 -1,6 -2,6 -1,8 -1,8 -2,9 -1,12 -2,13 -3,17 -3,21 -6,26 -8,34 -12,41 -18,44 -23,21 -24,2 -21-11 -19-16 -14-23 -10-28 -5-29 -3-27 -2-23 -1-20 -1-18 0-16 0-14 0-13 0-12 1-11 0-10 0-10 0-10 0-9 0-9 0-9 0-9 0-10 0-10 0-10 0-11 0-12 0-12 0-14 0-16 1-17 2-20 2-21 8-18 16-3 19,3 17,6 17,6 14,6 14,7 12,8 11,9 10,8 9,7 9,6 9,3 11,1 10,2 5,11 -1,18 -3,15 -2,13 -1,9 0,8 0,7 0,7 -1,6 0,6 0,5 0,5 0,5zM320,708l-1,5 0,5 0,5 -1,5 -1,6 -1,5 0,6 -2,6 -1,6 -1,6 -2,8 -1,8 -2,10 -2,11 -2,13 -3,17 -4,21 -5,27 -8,34 -13,42 -18,45 -23,22 -24,2 -22-11 -20-16 -15-24 -9-28 -6-30 -3-27 -2-24 -1-20 -1-18 -1-16 0-14 0-13 0-13 0-11 0-11 0-10 0-10 0-9 0-10 0-10 0-9 1-10 0-10 0-10 0-11 1-12 0-13 0-14 1-16 1-18 1-20 3-21 8-18 17-4 19,5 18,5 16,6 15,7 14,7 12,9 11,8 10,8 10,7 9,6 9,3 11,0 11,3 5,11 -2,18 -3,16 -2,13 0,9 -1,9 0,7 0,6 0,6 0,6 0,6 0,5 0,5zM318,708l-1,5 -1,5 0,5 -1,4 -1,5 0,6 -1,5 0,6 -1,7 -1,7 -1,8 -1,9 -1,10 -2,12 -2,14 -3,18 -3,22 -6,27 -8,34 -13,43 -19,45 -24,22 -24,2 -23-11 -19-18 -15-25 -10-29 -5-30 -3-28 -1-24 -1-21 -1-19 0-16 0-14 0-13 0-13 0-11 0-10 0-10 0-10 -1-9 0-10 0-10 -1-9 0-10 0-10 0-11 1-11 0-12 0-13 1-15 1-15 1-18 2-19 3-22 8-18 17-3 19,5 18,6 16,6 15,7 14,8 12,8 11,8 10,8 9,6 10,6 9,2 12,0 11,2 5,11 -1,18 -3,16 -2,13 -1,10 0,8 0,8 -1,7 0,6 -1,6 0,6 -1,5 -1,5zM318,708l-1,5 0,5 -1,5 -1,4 -1,5 0,6 -1,5 -1,6 -1,6 -1,7 -1,8 -1,8 -1,10 -2,12 -2,14 -2,18 -4,21 -6,27 -8,35 -12,43 -19,46 -24,22 -24,2 -23-11 -19-17 -15-24 -10-29 -5-31 -3-27 -2-24 -1-21 -1-18 0-17 0-14 0-14 0-12 0-11 0-11 0-10 0-10 -1-9 0-10 0-10 0-9 0-10 0-11 0-10 0-12 0-12 0-13 1-15 0-16 1-17 2-20 3-22 8-18 18-3 19,4 18,6 17,7 15,7 14,7 12,9 11,9 10,7 10,7 9,6 10,3 11,0 10,2 6,12 -2,17 -2,17 -2,12 -1,10 -1,9 0,7 0,7 -1,6 0,6 0,6 -1,5 0,5zM316,708l-1,5 0,5 0,4 0,5 0,6 0,5 -1,6 0,6 -1,7 -1,7 -1,8 -1,9 -1,10 -2,12 -3,14 -2,17 -4,22 -6,27 -8,34 -13,43 -19,46 -24,22 -24,2 -23-11 -19-18 -16-24 -9-29 -6-31 -3-27 -2-24 -1-21 -1-18 -1-16 0-15 -1-13 0-12 0-12 0-11 -1-10 0-10 0-10 0-10 0-10 0-10 1-10 0-10 1-11 0-11 0-12 1-13 1-15 0-15 1-18 2-20 3-22 8-19 17-3 20,5 18,5 16,7 16,6 13,8 13,8 11,8 11,8 9,7 10,5 9,3 12,1 11,2 5,12 -2,19 -3,16 -2,14 -2,10 -1,8 -1,8 0,7 -1,6 -1,6 0,5 -1,5 0,5zM319,708l-1,5 0,5 -1,5 0,5 -1,5 0,6 -1,5 -1,6 -1,7 -1,7 -1,8 -1,8 -2,10 -2,12 -2,14 -3,18 -3,22 -6,27 -8,35 -13,43 -19,47 -24,23 -25,2 -23-11 -20-17 -15-25 -10-29 -6-31 -3-28 -1-24 -2-21 -1-19 0-16 0-15 0-14 0-12 0-12 0-11 0-10 -1-10 0-10 1-10 0-10 0-10 0-10 0-10 1-11 0-11 0-12 0-14 1-14 0-16 1-19 2-20 3-22 8-19 17-3 20,5 18,6 17,6 15,7 14,8 13,8 11,9 11,8 9,7 10,5 10,3 11,1 11,2 5,12 -1,18 -3,17 -3,13 -1,10 0,9 -1,7 0,7 -1,6 0,6 -1,6 0,5 0,5zM321,708l-1,5 -1,5 0,5 -1,5 -1,6 -1,5 -1,5 -1,6 -1,6 -2,7 -1,8 -1,8 -2,10 -1,12 -2,14 -3,18 -4,22 -5,27 -8,36 -13,44 -19,48 -24,23 -25,2 -23-10 -21-17 -15-24 -11-30 -5-31 -3-28 -2-25 -1-21 -1-19 0-17 0-16 0-14 1-12 1-12 1-11 0-11 0-10 1-9 0-10 0-9 0-10 0-10 0-10 0-11 0-11 -1-13 0-13 0-15 0-17 1-18 1-21 3-23 8-19 17-3 20,4 18,6 17,7 16,7 14,8 13,9 12,8 10,9 9,7 10,6 10,3 11,1 11,2 5,12 -2,18 -3,17 -2,13 -1,10 0,8 0,8 -1,7 0,6 0,6 0,5 0,6 0,5zM318,708l-1,5 0,5 -1,5 0,5 -1,5 -1,5 0,6 -1,6 -1,6 -1,7 -1,8 -1,9 -1,10 -2,12 -2,15 -2,18 -4,22 -6,28 -8,35 -13,44 -19,48 -25,24 -25,2 -23-11 -20-17 -16-25 -10-29 -6-31 -3-29 -2-25 -1-21 -1-19 -1-17 0-15 0-14 0-13 0-12 0-11 0-11 0-10 0-10 0-10 0-10 0-10 0-10 0-11 1-11 0-12 0-12 0-14 1-14 1-17 1-18 2-21 3-22 8-18 18-3 20,5 19,6 17,7 15,8 14,8 13,9 11,9 11,8 9,7 9,6 10,3 11,0 11,2 5,12 -1,18 -3,17 -3,13 -1,10 0,8 -1,8 0,6 -1,7 0,5 0,6 -1,5 0,5zM318,708l0,5 0,5 0,5 0,5 -1,6 0,5 -1,6 -1,6 0,7 -2,7 -1,8 -1,8 -2,10 -2,12 -2,14 -3,18 -4,22 -6,28 -8,35 -13,45 -19,48 -25,24 -25,2 -23-10 -21-18 -15-24 -11-30 -6-31 -3-29 -2-25 -1-21 -1-19 -1-17 0-15 -1-14 0-13 1-12 0-12 0-10 0-11 0-10 0-10 1-10 0-10 0-10 1-11 0-11 0-12 0-12 0-14 1-15 0-17 1-18 1-21 3-24 8-19 18-3 20,4 19,6 18,7 16,8 14,7 13,9 12,9 10,9 10,7 10,6 10,3 11,1 11,3 5,12 -2,19 -3,17 -3,14 -1,10 -1,9 -1,8 0,6 -1,7 0,5 0,6 -1,5 0,5zM323,708l-1,5 -1,5 -1,5 -2,5 -1,6 -1,5 -1,5 -1,6 -1,7 -1,6 -2,8 -1,9 -1,10 -2,12 -2,15 -2,18 -4,22 -5,29 -9,36 -13,46 -19,49 -25,24 -26,3 -23-10 -21-18 -16-25 -11-30 -5-32 -3-30 -2-25 -1-22 -1-20 0-17 0-16 0-14 0-13 1-12 0-11 0-11 0-10 0-10 0-10 0-10 0-10 -1-10 0-11 0-11 0-12 0-13 0-14 1-15 0-17 1-19 2-21 3-23 9-19 18-2 21,5 19,7 17,7 16,8 14,8 13,9 12,9 10,8 10,7 9,6 10,2 12,1 11,1 6,12 -1,18 -3,17 -2,13 0,10 -1,9 0,8 0,7 0,6 0,7 -1,6 0,5 -1,6zM320,708l0,5 -1,5 -1,5 0,5 -1,6 -1,5 0,6 -1,6 -1,6 -1,7 -1,8 -2,9 -1,10 -2,12 -2,15 -3,18 -4,23 -5,28 -9,36 -12,45 -20,50 -25,24 -26,2 -23-10 -21-18 -16-25 -11-30 -6-32 -3-29 -2-26 -1-22 -1-19 0-17 0-16 0-14 0-13 0-12 0-11 0-11 0-11 0-10 0-10 0-10 0-10 0-11 0-11 1-11 0-12 0-12 0-14 1-15 0-17 1-19 2-21 3-23 8-19 19-3 20,5 19,7 18,7 16,8 14,8 13,9 12,9 10,8 10,7 9,6 10,3 12,1 11,2 5,12 -1,18 -3,17 -2,14 -1,10 -1,9 0,7 -1,7 0,7 -1,6 0,5 0,6 -1,5zM318,708l0,5 -1,5 0,5 -1,5 0,5 -1,6 0,5 -1,7 0,6 -1,8 -1,8 -1,9 -1,10 -2,13 -2,15 -3,18 -4,23 -6,28 -8,37 -13,45 -20,50 -25,24 -26,3 -24-11 -21-18 -16-25 -11-32 -5-32 -3-29 -2-26 -1-22 -1-20 0-17 0-16 0-14 0-13 0-12 0-11 0-11 0-11 -1-10 0-10 0-10 0-10 0-11 0-11 1-11 0-12 0-13 0-14 0-15 1-17 1-19 2-22 3-23 8-19 19-3 21,5 19,7 17,7 16,8 15,8 13,9 12,9 10,8 10,7 10,6 10,2 12,1 11,2 6,13 -2,19 -3,17 -2,13 -1,11 -1,9 -1,8 -1,7 -1,7 0,6 -1,5 0,6 -1,5zM320,708l-1,5 -1,5 0,5 -1,5 0,5 -1,6 -1,6 0,6 -1,6 -1,7 -1,8 -1,9 -2,11 -2,12 -2,15 -2,18 -4,23 -6,28 -8,38 -13,46 -20,50 -25,25 -27,3 -24-11 -21-17 -16-26 -11-31 -6-33 -3-29 -2-26 -1-23 -1-19 0-18 -1-15 0-15 0-13 0-12 0-12 0-10 0-11 0-11 0-10 0-10 0-11 0-11 0-11 0-11 0-12 0-14 0-14 1-15 0-18 1-19 2-22 3-24 9-19 19-3 21,5 20,7 18,8 16,8 15,8 13,9 12,9 11,9 10,7 10,6 10,3 12,0 12,2 5,13 -2,19 -3,18 -2,13 -1,11 -1,9 -1,8 -1,8 0,6 -1,6 -1,6 0,6 -1,5zM319,708l0,5 0,5 0,5 -1,5 0,6 0,6 -1,6 0,6 -1,7 -1,7 -1,8 -2,10 -1,10 -2,12 -3,15 -3,18 -3,23 -6,29 -9,38 -13,46 -20,52 -26,25 -26,3 -25-10 -21-18 -17-26 -11-31 -6-33 -4-30 -2-26 -1-23 -1-20 -1-17 -1-16 0-15 -1-13 0-13 0-12 0-11 0-11 0-11 0-11 0-11 1-10 0-11 1-12 0-11 0-13 1-13 0-14 1-16 0-18 1-19 2-22 3-25 9-20 19-2 22,5 20,8 18,8 17,8 15,8 13,9 12,10 11,8 10,7 10,6 11,3 11,1 12,3 5,12 -2,20 -3,18 -3,14 -1,11 -1,9 -1,8 -1,7 -1,7 0,6 -1,5 0,6 0,5zM322,708l-1,5 -1,5 -1,5 0,6 -1,5 -1,5 -1,6 -1,6 -1,7 -1,7 -1,8 -1,9 -1,11 -2,12 -2,15 -3,19 -3,24 -6,29 -8,39 -14,47 -20,53 -26,26 -27,3 -25-10 -22-18 -17-26 -11-32 -6-33 -4-31 -2-27 -1-23 -1-20 0-19 0-16 0-15 0-14 1-13 0-12 0-11 0-11 1-10 0-11 0-11 0-10 0-11 0-11 0-12 0-12 0-14 0-14 0-16 1-18 1-20 2-22 3-24 9-20 19-3 22,6 20,8 18,8 17,9 15,8 13,10 12,10 11,8 10,8 9,5 11,3 12,1 11,2 6,12 -2,19 -3,18 -2,14 -1,10 -1,9 0,8 -1,7 0,7 -1,6 0,6 -1,5 0,6zM320,708l0,5 0,5 0,6 0,5 0,6 -1,6 0,6 0,6 -1,7 -1,8 -1,8 -2,10 -2,10 -2,13 -2,15 -3,19 -4,23 -6,30 -9,38 -13,48 -21,52 -26,26 -28,4 -25-11 -22-18 -17-26 -11-32 -7-34 -3-31 -2-27 -2-23 -1-20 -1-19 0-16 -1-15 0-14 0-13 0-12 -1-12 0-11 0-11 0-11 1-11 0-11 0-11 1-12 1-12 0-12 1-14 0-14 1-16 1-18 1-20 2-22 3-24 9-20 20-3 22,7 21,8 18,8 17,9 15,9 13,10 12,9 11,9 10,8 9,5 11,3 12,1 11,2 5,13 -2,20 -3,17 -3,14 -1,11 -1,9 -1,8 -1,7 0,6 -1,6 0,5 0,6 0,5zM323,708l-1,5 -1,5 -1,6 -1,5 0,5 -1,6 -1,6 -1,6 -1,7 0,7 -1,8 -2,10 -1,10 -2,13 -2,15 -3,19 -4,24 -5,30 -9,39 -13,49 -21,54 -27,26 -27,4 -25-11 -23-18 -17-27 -11-32 -6-35 -4-31 -2-27 -1-24 -1-20 -1-19 0-16 0-15 0-14 -1-13 0-12 0-12 -1-11 0-11 0-11 0-11 0-11 0-12 0-11 0-13 1-12 0-14 1-15 0-16 1-18 2-20 2-23 3-25 10-20 20-2 22,7 21,8 19,9 16,8 15,10 14,9 12,9 11,9 11,7 10,5 11,3 12,0 12,2 6,13 -2,19 -3,18 -2,15 -1,11 -1,9 0,8 -1,8 -1,7 0,6 -1,6 -1,6 -1,6zM322,708l0,5 0,6 -1,5 0,5 -1,6 0,6 -1,6 -1,6 -1,7 -1,8 -1,8 -1,9 -2,11 -2,13 -2,15 -3,19 -4,25 -6,30 -8,40 -14,50 -21,55 -27,28 -28,4 -26-11 -23-18 -18-27 -12-34 -6-35 -3-32 -2-28 -2-24 -1-21 0-19 0-17 -1-15 0-14 0-13 0-13 -1-12 0-11 -1-12 0-11 0-11 -1-12 0-12 0-12 0-13 0-13 0-15 1-15 0-17 1-19 2-21 2-23 4-26 9-21 21-2 24,7 21,9 20,10 17,10 16,10 14,10 12,10 12,10 10,8 10,6 11,3 12,0 12,3 5,13 -2,20 -3,18 -3,15 -1,11 -1,9 -1,8 0,7 -1,7 0,6 -1,6 0,5 0,6zM324,708l0,5 -1,6 0,5 -1,6 -1,5 0,6 -1,6 -1,6 -2,7 -1,8 -1,8 -2,9 -1,11 -2,12 -2,16 -3,19 -4,24 -6,31 -8,41 -14,50 -21,57 -27,28 -29,5 -26-10 -24-18 -18-27 -12-34 -7-35 -3-32 -3-28 -2-25 -1-21 -1-19 0-18 0-15 0-15 0-14 0-13 0-12 0-12 0-12 0-11 1-11 0-12 0-12 1-12 0-12 0-14 1-14 0-15 0-17 1-19 1-21 2-24 4-26 9-21 21-2 24,7 21,9 20,10 17,9 16,10 14,11 12,10 12,9 10,8 10,6 11,3 12,1 12,2 6,13 -2,20 -4,19 -2,14 -2,11 -1,9 0,8 -1,8 0,6 0,7 0,5 -1,6 0,6zM323,708l0,5 0,6 -1,5 0,5 -1,6 -1,6 0,6 -1,6 -1,7 -1,8 -2,8 -1,10 -2,10 -2,13 -2,16 -3,19 -3,25 -6,31 -9,41 -14,51 -21,57 -28,28 -28,5 -27-10 -24-19 -18-27 -12-34 -6-36 -4-33 -2-28 -1-25 -1-21 -1-20 0-17 -1-16 0-14 0-14 0-13 0-12 -1-12 0-11 0-12 0-12 -1-11 0-12 0-13 0-13 0-14 0-14 1-16 0-18 1-19 1-22 2-24 4-26 10-21 22-2 24,7 22,9 20,11 18,10 16,10 14,11 13,10 11,10 11,8 10,6 11,3 12,1 12,2 5,14 -2,20 -3,19 -3,15 -2,11 0,9 -1,8 -1,8 0,6 -1,7 0,6 0,5 0,6zM325,708l0,5 -1,6 0,5 -1,6 -1,6 -1,5 -1,7 -1,6 -1,7 -1,7 -2,8 -1,9 -2,11 -2,13 -2,15 -3,20 -3,25 -6,31 -9,42 -14,52 -21,58 -28,29 -29,6 -27-10 -24-18 -19-27 -13-34 -7-36 -4-33 -2-29 -2-25 -1-22 -1-20 0-18 -1-16 1-15 0-14 0-14 0-12 1-12 0-12 0-12 1-12 0-11 1-12 0-13 0-12 0-14 1-15 0-15 0-18 1-19 1-22 2-24 3-27 10-22 22-1 24,7 22,9 20,11 18,10 16,10 14,11 13,10 11,10 11,8 10,6 11,3 12,1 12,2 5,14 -2,20 -3,19 -3,14 -1,12 -1,9 0,8 -1,7 0,7 0,6 0,6 0,6 -1,5zM324,708l0,5 0,6 0,5 -1,6 0,6 -1,6 0,6 -1,7 -1,7 -1,8 -1,9 -2,9 -2,11 -2,13 -2,16 -3,20 -4,25 -6,31 -9,41 -14,52 -22,58 -28,29 -29,5 -28-11 -23-18 -19-28 -12-35 -7-37 -3-33 -2-29 -2-25 -1-22 0-20 -1-18 0-16 0-14 0-14 0-13 0-13 0-12 -1-11 0-12 0-12 0-12 0-12 0-12 0-13 0-14 0-15 0-16 1-18 1-19 1-22 2-25 3-26 10-22 22-2 25,8 22,9 21,11 18,10 16,10 14,11 13,11 11,9 11,8 10,7 11,3 12,1 13,2 5,14 -2,21 -4,19 -3,14 -1,12 -1,9 -1,8 -1,8 0,6 0,7 -1,5 0,6 0,6zM325,708l-1,5 -1,6 -1,5 -1,5 -1,6 -1,5 -1,6 0,7 -1,7 -1,7 -1,9 -1,10 -1,11 -2,14 -2,16 -2,21 -4,26 -6,32 -9,43 -14,53 -22,59 -29,31 -30,5 -27-10 -25-19 -19-28 -13-36 -6-37 -4-35 -2-30 -1-26 -1-23 0-20 0-18 0-17 1-15 0-14 0-13 0-12 -1-12 0-12 0-12 -1-12 0-12 -1-12 0-13 0-14 -1-14 0-15 1-17 0-18 1-20 1-22 3-25 4-27 10-21 23-2 25,9 23,10 20,11 18,11 17,11 14,11 13,11 11,9 11,8 10,6 11,3 13,1 13,2 5,13 -1,21 -4,19 -2,14 -2,12 0,9 -1,8 0,8 -1,7 0,7 -1,6 -1,6 0,5zM325,708l0,5 0,6 0,6 -1,5 0,6 -1,6 -1,7 -1,6 -1,7 -1,8 -1,9 -2,9 -2,12 -2,13 -2,16 -3,20 -4,26 -5,32 -9,43 -15,54 -22,61 -29,30 -30,6 -29-10 -25-18 -19-28 -13-36 -7-37 -4-35 -3-30 -1-26 -2-23 0-21 -1-18 0-17 1-16 0-14 0-14 0-13 0-13 1-12 0-12 0-12 0-12 1-13 0-12 0-14 0-14 0-15 0-17 1-18 0-20 1-23 2-25 4-28 10-22 23-2 25,9 24,10 20,11 19,11 16,11 15,11 13,11 12,10 10,8 11,7 11,3 12,1 13,2 5,14 -2,22 -4,19 -3,15 -2,11 -1,10 0,8 -1,7 0,7 0,6 0,6 0,6 0,5zM324,708l0,5 -1,6 0,5 -1,6 -1,5 0,6 -1,6 0,7 -1,7 -1,8 -1,9 -1,10 -2,11 -2,14 -2,16 -2,21 -4,26 -6,33 -9,43 -15,54 -22,61 -29,31 -31,5 -28-10 -25-18 -20-29 -12-36 -8-38 -3-35 -3-30 -1-26 -2-23 0-20 -1-19 0-17 0-15 0-15 -1-14 0-13 0-12 0-13 0-12 0-12 0-13 0-12 1-13 0-14 0-14 1-16 0-16 1-18 1-20 1-23 3-25 4-27 10-23 23-1 26,9 23,10 21,12 18,11 16,11 15,11 13,11 12,9 10,8 11,6 11,3 13,0 13,3 5,13 -2,22 -3,19 -3,15 -2,12 -1,9 -1,9 0,8 -1,7 -1,6 0,6 -1,6 0,6zM326,708l-1,5 0,6 -1,5 -1,6 0,6 -1,6 0,6 -1,7 -1,7 -1,8 -1,9 -1,11 -1,11 -2,14 -2,17 -3,21 -4,27 -6,34 -9,45 -15,57 -23,64 -30,32 -32,7 -30-10 -26-19 -20-30 -14-37 -7-40 -4-36 -2-32 -2-27 -1-24 0-22 -1-19 0-18 0-16 0-15 0-14 0-13 0-13 -1-13 0-13 0-13 0-13 -1-13 0-14 0-14 0-15 0-17 1-17 0-19 1-21 2-24 2-26 5-29 11-24 24,0 27,9 25,12 21,12 20,12 17,12 15,13 13,11 12,10 11,9 11,6 12,3 13,1 13,2 5,14 -2,23 -4,19 -3,16 -2,12 -1,10 0,8 -1,8 -1,7 0,7 -1,6 0,6 -1,5zM328,708l0,6 -1,5 -1,6 -1,6 -1,5 -1,6 -1,7 -1,6 -1,7 -1,8 -1,9 -2,10 -1,11 -2,14 -2,16 -3,21 -4,27 -5,34 -9,45 -15,57 -23,64 -30,33 -32,7 -29-9 -27-19 -20-29 -14-38 -7-39 -4-36 -3-32 -2-27 -1-24 -1-21 -1-19 0-18 -1-16 0-16 0-14 0-14 0-13 -1-13 1-13 0-13 0-13 0-13 0-14 1-14 0-15 1-16 0-18 1-19 1-21 2-23 2-26 4-29 11-23 25-1 27,10 24,11 22,13 19,12 17,11 15,12 13,11 12,10 11,8 11,6 12,3 14,0 13,2 6,14 -2,22 -4,20 -3,16 -1,12 -1,10 0,9 -1,8 -1,7 0,7 -1,6 0,6 -1,6zM326,708l0,6 -1,5 -1,6 0,5 -1,6 0,6 -1,6 -1,7 0,8 -1,8 -1,9 -2,10 -1,12 -2,14 -2,17 -3,21 -4,27 -6,35 -9,45 -15,58 -23,65 -31,33 -32,7 -30-10 -26-19 -21-29 -14-38 -8-40 -4-37 -2-32 -2-28 -2-24 -1-21 0-20 -1-18 0-16 0-16 0-14 0-14 0-14 0-13 0-13 0-13 0-13 0-14 0-14 1-14 0-15 1-16 1-18 0-19 1-21 2-24 2-27 5-29 11-23 24-1 28,10 24,12 22,12 20,12 17,13 15,12 13,11 13,10 11,8 11,6 12,3 13,1 13,2 6,14 -2,22 -4,21 -3,15 -2,12 -1,11 -1,8 -1,8 -1,8 0,6 -1,7 -1,6 0,5zM326,708l-1,5 -1,6 0,5 -1,6 0,6 -1,6 0,6 -1,7 0,8 -1,8 -1,9 -1,11 -1,12 -2,14 -2,18 -3,22 -4,28 -6,35 -9,47 -15,59 -24,67 -31,34 -33,8 -31-10 -28-19 -21-30 -14-39 -8-41 -4-38 -3-33 -2-29 -1-25 -1-22 0-20 0-19 0-17 0-15 0-15 0-15 0-13 0-14 0-13 0-13 0-14 1-13 0-14 0-15 0-16 0-16 1-18 1-20 0-22 2-25 2-27 4-30 12-24 25-1 28,11 25,12 23,13 20,12 17,13 16,12 14,12 12,10 12,8 11,7 12,3 14,0 13,3 6,14 -3,23 -4,21 -3,16 -2,13 -1,10 -1,9 -1,8 -1,7 -1,7 -1,7 -1,6 -1,5zM329,708l0,6 -1,5 0,6 -1,6 -1,6 -1,6 0,7 -1,7 -1,7 -1,9 -2,9 -1,10 -2,12 -1,14 -3,18 -2,21 -4,28 -6,36 -10,47 -15,60 -24,68 -32,35 -33,8 -31-10 -28-19 -22-30 -14-40 -8-41 -4-38 -3-34 -2-28 -1-26 -1-22 -1-20 0-19 0-17 -1-16 0-15 0-15 0-14 0-13 0-14 0-14 0-13 1-14 0-15 0-15 1-15 0-17 1-18 1-20 1-22 1-25 3-28 4-30 12-24 26-1 28,12 26,12 23,14 20,13 17,13 16,12 14,12 12,10 11,9 12,6 12,3 14,0 13,3 6,14 -2,23 -4,20 -3,16 -2,13 -1,10 -1,9 0,8 -1,8 -1,6 0,7 -1,6 0,6zM330,708l-1,6 0,6 -1,5 -1,6 0,6 -1,7 -1,6 -1,7 -1,8 -1,8 -1,9 -1,11 -2,12 -2,14 -2,18 -3,22 -4,28 -6,36 -10,47 -15,60 -24,68 -32,36 -33,7 -32-9 -28-19 -22-31 -14-40 -8-41 -4-39 -3-33 -2-29 -1-26 -1-22 -1-21 0-18 -1-17 0-17 0-15 0-14 -1-14 0-14 0-14 0-14 1-14 0-14 0-14 0-15 1-16 1-17 1-18 0-20 2-22 1-25 3-28 5-30 11-24 26,0 29,11 26,13 23,14 20,13 18,13 15,13 14,12 12,10 11,9 11,6 12,3 14,0 14,2 6,15 -3,22 -4,21 -3,16 -1,12 -1,10 -1,9 -1,8 0,8 -1,7 0,6 0,6 -1,6z" stroke-opacity="0.29" stroke-width="0.55"/><path d="M280,708l0,2 0,2 0,2 0,3 0,2 0,3 0,2 0,3 0,3 -1,3 0,4 -1,4 0,5 -1,5 -2,5 -2,6 -2,6 -4,6 -4,5 -5,3 -6-1 -5-3 -5-5 -4-6 -2-6 -3-6 -1-5 -1-5 -1-4 -1-4 0-4 -1-3 0-3 0-2 -1-3 0-2 0-2 -1-2 0-2 0-2 -1-2 0-2 0-2 -1-2 0-2 0-3 -1-2 0-3 0-3 0-3 0-3 1-3 0-4 1-4 0-5 2-5 1-5 2-6 3-6 4-6 4-4 5-3 6,1 5,3 5,5 4,5 3,6 2,6 2,5 2,4 1,4 1,4 0,4 1,3 0,3 1,3 0,2 0,3 0,2 1,2 0,3 0,2 0,2zM285,708l0,2 1,3 0,3 0,2 0,3 0,3 0,4 0,3 -1,3 0,4 -1,4 -1,5 -1,5 -2,5 -1,6 -3,7 -3,7 -4,7 -5,6 -5,5 -7,2 -6-3 -6-5 -5-7 -3-8 -3-7 -2-7 -2-6 -1-6 0-5 -1-4 0-4 0-4 -1-3 0-3 0-3 0-2 0-3 0-2 0-3 0-2 0-2 0-2 0-2 0-3 0-2 0-3 0-2 0-3 0-4 -1-3 0-4 0-5 1-5 0-6 1-6 2-6 3-6 3-6 4-5 5-5 6-2 6,1 6,3 5,5 4,5 4,6 3,5 3,4 2,4 2,5 0,5 0,5 1,5 0,3 0,3 0,3 1,3 0,3 0,2 1,3 0,2 1,3zM288,708l-1,3 0,2 0,3 -1,3 0,2 0,3 -1,3 0,3 -1,4 -1,3 0,4 -1,4 -1,5 -2,5 -1,6 -2,7 -3,7 -4,8 -5,6 -6,5 -6,3 -6-2 -6-6 -5-7 -4-7 -2-8 -2-7 -2-6 -1-5 0-5 -1-5 -1-4 0-3 0-3 -1-3 0-3 0-3 0-2 -1-3 0-2 0-3 0-2 -1-2 0-3 0-2 0-3 0-3 0-3 0-3 1-3 0-4 0-4 0-4 1-5 1-5 1-6 2-6 3-5 3-6 4-5 5-5 6-2 6,1 6,3 5,4 4,6 4,5 3,4 3,4 3,3 2,5 1,5 0,5 1,4 1,4 0,3 1,4 0,3 0,2 1,3 0,3 0,3 0,2zM289,708l-1,3 0,2 -1,3 0,3 -1,3 0,2 0,4 -1,3 0,3 0,4 -1,4 -1,5 -1,6 -1,6 -1,6 -3,8 -3,8 -4,8 -5,8 -6,6 -7,4 -7-2 -7-6 -5-8 -4-8 -3-9 -2-8 -1-7 -1-7 -1-6 0-4 0-5 -1-4 0-3 -1-3 0-3 -1-3 0-2 -1-3 -1-3 0-2 -1-3 0-3 0-3 -1-3 0-3 1-3 0-3 0-3 1-4 0-4 1-4 1-4 0-5 1-6 2-5 3-6 3-5 4-5 4-5 5-4 6-2 6,0 6,3 5,4 5,5 4,4 3,4 4,3 4,3 3,5 1,6 0,5 1,5 1,4 0,4 1,3 0,4 0,3 0,3 0,3 -1,3 0,3zM293,708l0,3 -1,3 0,3 0,3 -1,3 -1,3 0,4 -1,3 -1,4 -1,3 -1,4 -1,5 -1,5 -2,6 -2,7 -2,8 -3,8 -4,9 -5,9 -6,7 -8,6 -8-1 -7-5 -6-8 -5-9 -3-9 -3-8 -1-8 -2-7 0-7 -1-5 0-6 0-4 0-5 1-4 0-3 0-3 1-3 0-3 0-3 0-2 0-3 0-3 0-2 0-3 -1-3 0-3 0-3 -1-4 0-4 0-4 0-5 0-5 0-6 1-6 2-7 2-6 4-5 4-5 5-5 6-3 6-2 6,2 6,3 5,5 5,5 4,6 3,4 4,3 3,3 3,5 0,6 1,6 0,4 1,4 1,4 0,3 1,3 1,3 1,3 0,3 1,3 0,3zM296,708l0,3 -1,3 -1,4 0,3 -1,3 -1,3 0,4 -1,3 -1,4 -1,4 -2,4 -1,5 -1,5 -2,6 -1,8 -3,8 -3,9 -4,10 -5,10 -7,11 -8,8 -9,0 -8-5 -7-8 -5-10 -4-10 -3-9 -2-10 -2-8 -1-7 0-7 -1-5 0-5 -1-5 0-4 0-4 0-4 0-4 0-3 0-3 -1-4 0-3 1-3 0-4 0-3 0-3 0-4 1-3 0-4 0-5 0-4 1-5 0-6 1-7 0-7 2-7 4-6 4-5 5-5 6-4 6-3 6-1 7,1 6,3 6,5 5,5 5,4 4,4 5,3 5,2 3,6 0,7 1,6 0,6 0,5 1,4 1,4 0,4 1,3 0,4 0,3 1,3 0,4zM293,708l0,3 -1,3 0,3 0,3 -1,3 0,4 0,4 0,3 -1,4 0,5 -1,5 -1,5 -1,6 -2,7 -2,7 -2,9 -3,9 -5,10 -5,11 -7,10 -9,8 -9,0 -9-6 -6-9 -6-10 -4-11 -3-10 -1-10 -1-9 -1-7 0-7 -1-5 0-5 0-5 -1-4 0-4 0-3 -1-4 0-3 -1-3 0-4 0-3 0-3 0-4 0-3 0-4 0-3 1-4 0-4 0-4 1-5 0-5 1-5 0-7 1-7 2-7 4-6 4-5 5-4 6-5 6-3 6-1 7,1 6,3 6,4 5,4 5,5 5,3 5,3 5,2 3,6 0,7 1,7 0,6 0,5 0,5 1,4 0,4 0,4 0,3 -1,4 0,3 0,3zM296,708l0,3 -1,4 0,3 0,3 -1,3 -1,4 0,4 -1,3 -1,4 -1,4 -1,5 -1,5 -1,6 -2,6 -2,8 -2,9 -3,10 -5,10 -5,12 -7,11 -9,10 -10,1 -8-6 -8-8 -6-10 -4-11 -4-11 -2-10 -1-9 -1-8 0-7 -1-7 0-5 0-5 0-5 0-4 0-4 0-4 0-4 0-3 0-4 0-3 0-3 0-4 0-3 1-4 0-3 0-4 -1-5 1-4 0-5 0-6 0-6 1-7 1-8 2-8 4-6 4-4 6-5 6-4 6-2 7-1 7,1 7,4 5,5 6,5 4,4 5,4 5,3 5,2 2,6 1,8 0,7 0,6 1,5 0,4 1,4 0,4 0,3 1,4 0,3 0,3 1,4zM294,708l-1,3 -1,3 0,3 0,3 -1,3 0,4 0,3 -1,4 0,4 -1,4 -1,5 0,6 -2,6 -1,7 -1,7 -3,10 -3,10 -4,11 -6,13 -7,12 -9,11 -10,1 -9-5 -8-9 -7-10 -4-11 -4-12 -2-10 -1-10 -1-9 0-7 -1-7 0-6 0-5 0-5 0-4 0-5 0-4 0-3 0-4 0-3 0-4 0-4 0-3 0-4 0-4 0-4 0-4 0-4 0-5 0-6 0-6 0-7 1-7 0-9 3-8 4-6 5-5 6-5 6-3 7-3 8-1 7,1 7,4 6,5 6,5 5,5 5,3 6,3 5,3 3,6 0,9 0,8 0,7 0,5 0,5 0,4 0,5 -1,3 0,4 0,3 0,4 0,3zM294,708l0,3 0,3 0,4 0,3 0,3 0,4 -1,4 0,4 -1,4 -1,5 0,5 -1,5 -2,6 -1,7 -2,8 -3,10 -3,10 -4,12 -6,12 -8,13 -9,11 -10,2 -10-5 -8-10 -7-10 -5-12 -3-12 -2-11 -1-10 -1-9 -1-8 0-7 0-6 0-5 0-5 0-5 0-4 0-4 0-4 0-4 0-3 -1-4 0-4 0-3 0-4 0-4 0-4 0-5 -1-5 0-5 0-6 1-6 0-7 1-8 1-8 2-8 5-6 6-5 6-4 6-3 7-3 8,0 7,2 7,4 6,5 6,6 4,5 5,4 5,3 5,2 3,7 0,8 0,8 -1,7 0,5 1,4 0,4 0,4 0,4 0,3 0,4 1,3 0,3zM297,708l-1,3 0,4 -1,3 0,3 0,4 0,4 0,4 -1,4 0,4 -1,5 -1,6 0,6 -2,6 -1,8 -2,8 -3,10 -3,11 -5,12 -6,14 -8,14 -10,12 -11,2 -10-5 -9-10 -7-11 -5-13 -4-13 -2-12 -1-11 -1-10 0-8 -1-7 0-7 0-5 0-6 0-4 0-5 0-4 -1-4 0-4 0-4 0-4 0-4 0-4 1-4 0-4 0-4 1-4 0-5 0-5 1-5 0-6 1-7 0-8 1-8 3-9 4-5 6-4 6-4 7-4 6-2 8-1 7,1 7,4 6,4 6,4 6,4 5,4 6,1 6,3 3,6 1,9 0,8 -1,7 1,6 0,5 0,4 0,5 0,4 -1,4 0,4 0,3 0,4zM299,708l0,3 -1,4 0,3 -1,4 0,4 0,4 -1,4 0,4 -1,4 -1,5 -1,6 -1,5 -1,7 -2,8 -2,8 -2,10 -4,12 -4,13 -7,14 -8,15 -10,14 -11,2 -11-5 -10-10 -7-12 -5-13 -4-13 -2-13 -1-12 0-11 -1-8 0-8 1-7 0-6 0-5 0-5 0-5 0-4 -1-4 0-4 -1-4 0-4 -1-4 0-4 0-4 -1-5 0-5 0-5 0-5 0-6 0-6 0-7 1-7 1-9 1-9 3-9 5-5 7-4 7-3 7-3 8-1 7,0 8,2 7,5 6,5 6,5 6,4 5,4 6,2 6,2 3,6 0,9 0,9 0,7 0,5 0,5 1,5 0,4 0,4 0,4 1,3 0,4 0,3zM303,708l-1,4 0,4 -1,3 0,4 -1,4 0,4 -1,4 -1,5 0,4 -1,5 -1,6 -2,6 -1,7 -2,8 -1,10 -3,11 -3,14 -5,15 -7,17 -8,20 -12,18 -13,6 -13-4 -12-10 -9-13 -7-14 -5-16 -3-15 -1-14 -1-13 0-11 0-9 0-9 1-8 0-7 1-6 1-6 0-5 0-5 1-5 0-4 0-5 0-5 0-4 -1-5 0-5 0-5 -1-6 0-6 -1-7 0-7 0-9 0-9 1-10 1-12 3-10 7-6 8-3 9-2 8-1 9-1 9,1 8,4 8,5 7,5 6,6 6,5 6,4 6,2 7,2 3,7 0,11 -1,9 -1,8 1,6 0,5 0,5 1,5 0,4 0,4 1,4 0,3 0,4zM303,708l0,4 0,4 -1,3 0,4 -1,4 -1,4 0,5 -1,4 -1,5 -1,5 -1,5 -1,6 -2,7 -2,8 -1,10 -3,11 -3,13 -5,15 -7,18 -8,20 -12,19 -14,6 -13-4 -11-10 -9-13 -7-15 -5-15 -3-16 -1-14 -1-12 -1-11 0-9 -1-9 1-7 0-7 0-7 0-6 0-5 0-5 0-5 0-5 0-5 0-5 0-5 0-5 0-5 0-5 0-6 0-6 0-7 0-8 1-8 0-9 1-10 1-12 4-10 7-5 8-3 9-2 8-2 9,0 9,1 8,3 8,5 7,5 6,5 6,5 7,3 7,2 6,2 4,7 0,11 -1,10 0,8 0,6 0,6 1,5 0,5 0,4 0,4 0,4 0,4 0,4zM303,708l0,4 -1,3 -1,4 -1,4 -1,4 0,3 -1,4 -1,5 -1,4 -1,5 -1,6 -1,6 -1,7 -1,9 -2,10 -2,11 -3,14 -5,16 -6,19 -9,21 -12,21 -14,7 -14-4 -11-10 -10-13 -8-15 -5-17 -2-16 -2-15 -1-14 0-11 0-10 0-9 1-8 0-7 0-6 0-6 0-6 0-5 0-5 -1-5 0-5 -1-5 -1-5 0-6 -1-5 0-6 0-7 -1-7 0-7 0-8 1-9 0-10 1-11 2-12 4-11 8-5 9-2 10-1 9-1 9,0 9,2 9,4 8,5 7,6 7,6 6,5 6,3 7,2 7,2 4,7 0,11 -1,10 0,8 0,7 0,5 1,5 0,5 0,5 0,4 0,4 0,4 0,4zM304,708l-1,4 0,4 -1,3 -1,4 0,4 -1,4 0,4 -1,5 -1,5 -1,5 -1,6 -1,6 -1,8 -1,9 -2,10 -3,12 -3,14 -5,17 -6,19 -10,22 -12,21 -15,8 -14-4 -12-10 -10-14 -8-16 -5-16 -3-17 -2-16 -1-13 0-12 -1-10 0-10 0-8 1-7 0-7 0-7 0-5 0-6 0-5 0-6 0-5 -1-5 0-6 0-5 1-6 0-6 0-6 0-7 0-7 0-8 1-8 0-10 1-11 2-12 4-11 8-5 9-2 9-1 9-1 9,0 9,2 9,4 8,5 7,5 7,5 6,5 7,3 7,1 7,2 4,7 0,12 -1,10 0,8 0,7 0,6 0,5 0,5 0,4 0,5 0,4 0,4 0,4zM308,708l-1,4 0,4 -1,4 -1,4 -1,5 -1,4 -1,4 -1,5 -1,4 -1,5 -2,6 -1,6 -2,7 -2,8 -2,10 -2,11 -4,14 -4,16 -7,20 -9,22 -12,22 -14,8 -15-3 -12-10 -11-13 -7-15 -6-17 -3-17 -2-15 -1-14 -1-12 0-10 0-9 0-9 0-7 0-7 1-7 0-6 0-6 0-5 1-6 0-5 0-5 1-5 0-6 0-5 0-6 0-6 0-7 0-7 -1-8 1-9 0-11 0-11 2-13 4-11 7-6 10-2 9-1 10-1 9,0 9,2 9,3 8,5 8,6 6,6 7,4 7,3 7,2 7,2 4,8 0,11 -1,11 0,8 0,7 0,6 1,5 0,5 0,5 1,4 0,4 0,5 0,4zM305,708l-1,4 0,4 0,4 -1,4 0,4 0,5 0,4 -1,5 -1,5 -1,6 -1,6 -1,7 -2,7 -1,9 -3,10 -2,12 -4,14 -5,17 -7,20 -9,23 -13,23 -15,9 -15-4 -13-11 -11-14 -8-16 -5-18 -3-18 -1-16 -1-14 -1-12 0-11 -1-9 0-9 0-7 0-8 0-6 0-6 0-6 0-6 -1-5 0-6 0-6 0-5 1-6 0-6 0-6 0-7 0-7 0-8 0-8 0-10 0-11 1-12 1-13 4-12 9-6 10-2 10-1 10-1 10,0 10,2 9,3 9,6 8,5 7,6 7,4 7,4 8,1 8,3 4,8 -1,13 -1,12 -1,9 -1,8 0,6 0,6 0,5 -1,5 0,5 0,4 0,4 0,4zM306,708l0,4 -1,4 0,4 0,4 -1,5 0,4 -1,5 0,5 -1,5 -1,5 -2,6 -1,7 -1,7 -2,9 -2,10 -3,12 -4,15 -5,17 -7,20 -9,24 -13,24 -15,9 -15-4 -14-10 -11-14 -8-17 -5-18 -4-18 -1-16 -1-15 -1-12 -1-11 0-9 0-9 0-8 0-7 0-7 0-7 0-6 0-5 0-6 0-6 0-6 0-5 0-6 1-6 0-7 0-6 0-7 0-8 0-9 0-9 1-11 1-12 1-14 4-11 9-6 10-2 10-1 10,0 10,0 10,2 9,4 9,5 7,6 8,5 7,5 7,3 7,2 8,2 4,8 0,13 -2,11 -1,9 0,8 0,6 0,6 0,5 0,5 0,4 0,5 0,4 0,4zM309,708l0,4 0,5 -1,4 0,4 0,5 -1,4 -1,5 -1,5 -1,5 -1,6 -2,6 -1,7 -2,7 -2,9 -2,10 -3,13 -4,15 -5,18 -7,22 -10,26 -13,26 -16,10 -16-3 -14-10 -12-14 -9-17 -7-19 -3-20 -2-17 -1-15 -1-14 -1-11 0-11 0-9 0-9 1-8 0-7 0-7 0-7 1-6 0-6 1-6 0-6 0-6 1-6 0-6 0-7 0-7 0-7 0-8 0-9 0-11 0-11 1-13 1-14 4-13 10-6 11-1 10-1 11,1 10,1 10,2 10,5 9,5 8,6 7,6 7,5 7,3 8,2 8,2 4,9 0,13 -2,11 -1,10 0,7 0,7 0,5 0,5 0,5 0,5 1,4 0,5 1,4zM310,708l-1,4 0,5 -1,4 -1,4 -1,4 0,5 -1,5 -1,5 -1,5 -1,6 -1,6 -1,7 -2,8 -1,9 -2,12 -3,13 -4,16 -5,19 -7,23 -10,28 -14,28 -17,11 -17-3 -15-11 -12-14 -10-19 -6-20 -3-21 -2-19 -1-16 -1-14 0-12 0-11 0-10 0-8 0-9 0-7 0-7 0-7 0-6 -1-7 0-6 0-6 0-7 0-6 0-7 1-7 0-8 0-8 0-8 0-10 1-10 0-12 2-13 1-15 5-12 10-5 12-1 12,1 11,1 10,1 10,3 10,5 9,5 8,6 8,5 7,5 8,2 8,1 9,2 4,8 0,13 -1,12 -1,10 0,8 0,6 1,7 0,5 -1,6 0,5 0,5 0,4 -1,5zM309,708l-1,4 0,4 0,5 -1,4 0,5 0,4 -1,5 -1,5 0,6 -1,6 -2,6 -1,7 -2,8 -2,10 -2,11 -3,13 -3,15 -6,19 -7,23 -10,27 -14,28 -17,11 -17-3 -14-11 -13-15 -9-18 -6-20 -4-21 -1-18 -2-16 0-14 -1-12 0-11 -1-9 0-9 0-8 0-8 -1-7 0-6 -1-7 0-6 0-7 0-7 0-6 0-7 1-7 0-7 0-7 1-8 0-9 0-9 1-11 1-12 1-13 2-15 5-13 10-4 12-1 11,0 11,1 11,2 10,2 10,5 9,6 8,5 8,6 7,4 8,3 9,1 8,2 4,9 0,13 -1,13 -1,10 -1,8 0,6 0,6 0,6 0,5 -1,5 0,5 0,4 0,5zM312,708l0,4 -1,5 0,4 -1,5 -1,5 0,4 -1,5 -1,5 -1,6 -2,6 -1,6 -1,7 -2,8 -2,10 -2,11 -3,14 -4,16 -5,20 -7,24 -10,29 -15,30 -18,12 -17-2 -16-11 -13-15 -10-19 -7-21 -4-21 -2-20 -1-17 0-15 -1-13 0-11 0-10 0-10 1-8 0-8 0-8 0-7 -1-7 0-6 0-7 0-7 0-6 0-7 1-7 0-8 0-8 0-8 0-9 0-10 0-12 1-12 1-14 2-16 5-13 11-5 12,0 12,1 12,2 11,2 11,3 10,5 9,6 9,7 7,5 8,5 7,3 9,1 9,2 4,9 0,13 -1,13 -1,10 -1,8 1,6 0,6 0,6 0,5 0,5 0,5 0,5 0,4zM311,708l0,4 -1,5 -1,4 0,4 -1,5 -1,5 0,4 -1,5 -2,6 -1,6 -1,6 -1,7 -2,9 -1,9 -2,12 -3,14 -3,17 -6,20 -7,25 -10,29 -15,31 -18,13 -18-2 -16-11 -13-15 -11-19 -6-22 -4-22 -2-20 -1-17 -1-15 0-13 0-12 0-11 0-9 1-9 0-8 0-8 0-7 0-7 0-6 0-7 0-7 0-6 0-7 0-8 0-7 -1-8 0-9 0-9 0-11 0-11 1-13 1-14 2-16 5-14 11-5 13,0 13,1 12,2 11,3 11,3 10,6 9,6 9,6 7,6 8,5 8,3 8,1 9,2 5,9 -1,14 -1,13 -2,10 0,8 0,7 0,6 0,5 0,6 0,5 0,4 0,5 0,5zM310,708l0,4 -1,5 0,4 -1,4 0,5 -1,5 0,5 -1,5 -1,5 -1,7 -1,6 -1,8 -1,8 -2,10 -2,12 -3,15 -3,17 -6,22 -7,26 -11,31 -15,33 -19,13 -18-1 -17-11 -15-15 -11-20 -7-23 -4-23 -2-21 -1-18 -1-16 0-14 0-12 0-11 0-10 0-9 0-9 0-8 0-7 0-8 0-7 0-7 0-7 0-7 0-8 0-7 0-8 0-9 0-9 0-10 0-11 0-12 1-14 1-15 2-16 6-15 12-4 13,0 14,2 12,2 12,3 11,4 11,6 10,6 8,7 8,6 8,5 8,3 9,2 9,2 5,9 -1,15 -2,13 -2,11 0,8 0,7 -1,7 0,6 0,5 0,5 -1,5 0,4 0,5zM314,708l-1,5 -1,4 0,5 -1,4 -1,5 -1,5 0,5 -1,5 -1,5 -2,7 -1,6 -1,8 -2,9 -1,10 -2,12 -3,15 -3,18 -6,22 -7,28 -11,34 -16,35 -20,15 -19,0 -18-11 -16-16 -11-20 -8-24 -4-24 -3-22 -1-19 -1-17 -1-15 0-12 0-12 0-11 0-10 0-9 0-8 -1-9 0-8 0-7 0-8 0-8 0-7 1-8 0-9 0-8 0-9 1-10 0-10 0-11 1-13 1-14 1-16 2-17 6-15 13-4 15,1 14,2 13,3 13,4 11,5 11,6 10,7 9,6 8,6 8,5 9,3 9,0 10,2 5,10 -1,15 -2,14 -1,11 -1,8 0,8 0,6 0,7 0,5 0,6 0,5 -1,5 0,4zM313,708l-1,4 -1,5 -1,4 -1,5 -1,4 0,5 -1,5 -1,5 -1,6 -1,6 0,7 -2,7 -1,9 -1,11 -2,12 -3,15 -3,19 -6,22 -7,28 -11,34 -16,35 -20,16 -20-1 -18-11 -15-16 -12-21 -7-23 -4-25 -3-22 -1-20 -1-16 0-15 -1-13 0-12 0-10 0-10 0-9 0-8 -1-9 0-7 -1-8 0-8 0-8 0-8 0-8 0-8 1-9 0-9 0-9 1-11 0-11 1-13 1-14 1-16 3-17 6-15 13-4 15,1 14,3 13,3 12,3 12,5 11,6 10,6 9,6 9,6 8,5 9,2 10,0 10,2 5,10 -1,15 -2,14 -1,12 0,9 0,7 -1,7 0,7 0,6 -1,5 -1,6 0,5 -1,4zM314,708l0,5 -1,4 -1,5 -1,4 0,5 -1,5 -1,5 -1,5 -1,6 -1,6 -1,7 -1,8 -2,9 -1,10 -2,13 -3,15 -4,19 -5,23 -8,28 -11,35 -16,36 -20,16 -20,0 -19-11 -16-16 -12-21 -8-25 -4-25 -2-23 -1-20 -1-17 0-16 0-13 1-12 0-11 1-10 1-10 0-8 0-8 0-8 -1-7 0-8 0-8 -1-7 0-8 -1-9 0-9 -1-9 0-10 -1-11 0-13 1-13 0-15 2-16 2-19 6-15 14-4 15,2 15,2 14,4 13,5 12,5 11,7 10,8 9,7 8,7 8,5 9,3 9,1 9,2 5,10 -1,15 -2,14 -1,11 -1,8 0,8 0,6 0,6 0,6 0,5 0,5 0,5 0,4zM313,708l-1,5 0,4 -1,4 -1,5 0,5 -1,5 0,5 -1,5 -1,6 -1,6 -1,7 -1,8 -1,9 -2,11 -2,12 -3,16 -3,18 -6,23 -7,29 -12,34 -16,36 -20,16 -20,0 -19-11 -16-16 -12-22 -7-24 -5-25 -2-23 -1-20 -1-17 -1-15 0-13 0-12 0-11 0-10 0-9 0-9 0-8 0-8 -1-8 0-8 0-8 0-8 0-8 0-8 0-9 0-9 0-10 1-11 0-12 1-13 1-14 1-17 2-17 7-16 13-4 15,2 15,3 13,3 13,4 12,5 11,7 10,7 9,6 9,6 8,5 8,3 10,1 10,1 5,10 -1,16 -2,14 -1,11 -1,9 0,7 0,7 -1,7 0,5 0,6 -1,5 0,5 -1,4zM312,708l0,4 -1,5 0,4 -1,5 0,5 -1,5 0,5 -1,5 -1,6 -1,6 -1,8 -1,8 -1,9 -2,10 -2,13 -2,15 -4,19 -5,24 -8,29 -12,34 -16,38 -20,16 -21,0 -19-11 -16-16 -12-22 -8-25 -4-25 -3-23 -1-20 -1-18 0-15 -1-14 1-12 0-11 0-10 0-10 0-9 0-8 0-8 0-8 -1-8 0-8 0-8 0-8 0-9 0-9 0-9 -1-11 0-11 1-12 0-13 1-15 1-17 3-18 6-16 14-4 16,2 15,3 14,3 13,5 12,5 11,7 10,7 9,7 9,7 8,5 9,3 9,2 10,2 4,10 -1,16 -2,14 -2,11 -1,9 0,8 0,6 -1,6 0,6 0,5 0,5 -1,5 0,4zM314,708l-1,5 0,4 -1,5 0,4 -1,5 0,5 -1,5 -1,6 -1,6 -1,6 -2,7 -1,7 -2,9 -1,10 -2,13 -3,15 -4,19 -5,23 -7,29 -12,35 -16,38 -20,17 -21-1 -19-10 -16-16 -12-21 -8-25 -5-25 -2-23 -2-20 -1-18 -1-15 0-13 -1-13 0-11 0-10 1-10 0-9 -1-8 0-9 0-8 0-8 0-8 0-8 0-9 0-8 0-9 0-10 0-10 0-11 1-13 0-13 1-16 1-17 2-19 7-15 14-5 16,2 15,3 14,4 13,4 13,5 11,7 10,8 10,7 8,7 9,5 8,3 10,2 10,2 4,10 -1,17 -2,14 -2,12 -1,9 0,7 -1,7 0,6 0,6 0,5 0,5 0,5 0,4zM312,708l0,4 -1,5 0,4 0,5 -1,5 0,5 0,5 -1,6 0,6 -1,7 -1,7 -1,9 -1,9 -2,11 -2,13 -3,16 -4,19 -6,23 -8,29 -11,36 -17,37 -21,17 -21-1 -19-11 -16-17 -12-22 -8-25 -5-26 -2-24 -1-20 -1-18 0-15 -1-14 0-12 0-11 0-10 0-10 0-9 -1-8 0-9 -1-8 0-8 0-8 0-8 0-9 0-9 0-9 1-9 0-10 0-11 1-12 0-14 1-15 2-17 2-18 7-16 14-4 16,2 15,3 14,4 13,4 12,6 11,6 10,7 10,7 8,6 9,5 9,2 10,1 10,2 5,10 -1,17 -2,14 -2,12 -1,9 0,8 -1,7 -1,6 0,6 -1,6 0,5 -1,5 0,4zM315,708l0,5 0,4 -1,5 0,5 0,5 -1,6 0,5 -1,6 -1,6 -1,7 -2,7 -1,8 -2,9 -2,11 -2,13 -3,16 -4,19 -5,24 -8,31 -12,37 -17,39 -21,18 -22,0 -20-10 -17-17 -13-22 -9-26 -4-27 -3-24 -1-21 -2-19 0-16 -1-14 0-13 0-12 1-11 0-10 0-9 0-9 0-9 -1-9 0-8 0-8 0-9 1-9 0-9 0-9 0-10 0-11 0-12 0-12 0-15 1-15 2-18 2-20 7-16 15-4 16,2 16,4 15,5 14,5 12,6 12,7 10,8 10,8 9,7 8,5 9,4 10,1 9,2 5,10 -1,17 -3,15 -2,12 -1,9 0,7 0,7 -1,6 0,6 0,5 0,5 0,5 1,4zM315,708l-1,5 -1,4 -1,5 0,4 -1,5 -1,5 -1,5 0,6 -1,6 -1,6 -1,8 -1,8 -1,10 -1,11 -2,14 -3,16 -3,21 -6,25 -8,31 -11,39 -18,41 -22,19 -22,0 -21-10 -17-17 -14-23 -9-27 -4-27 -3-26 -1-22 -1-19 -1-17 0-15 1-13 0-12 0-11 0-10 0-10 0-9 0-9 0-8 0-9 0-9 -1-8 0-9 0-9 0-10 0-10 0-11 1-12 0-13 1-14 0-16 2-18 3-20 7-16 15-4 17,3 16,4 15,5 14,5 12,6 12,8 11,7 9,7 9,7 9,4 9,3 11,0 10,2 5,11 -1,16 -2,15 -1,12 -1,10 0,8 0,7 -1,7 0,6 -1,6 -1,5 0,5 -1,5zM314,708l-1,5 0,4 0,5 -1,5 0,5 0,5 -1,5 0,6 -1,6 -1,7 -1,8 -1,8 -1,10 -2,11 -2,13 -3,16 -4,20 -6,25 -8,32 -11,38 -18,41 -22,19 -22,1 -21-11 -17-17 -14-23 -9-27 -4-27 -3-26 -1-22 -2-19 0-16 -1-15 0-13 0-12 0-11 0-11 0-9 0-10 0-9 0-8 0-9 0-9 1-8 0-9 0-9 0-10 0-10 1-11 0-12 0-13 0-15 1-16 1-18 2-21 7-17 15-4 18,2 16,4 15,5 14,4 13,6 12,7 11,8 10,7 9,6 9,5 10,3 11,1 10,3 5,11 -1,17 -3,16 -2,13 -1,10 -1,8 -1,8 0,6 -1,7 -1,5 -1,6 0,5 -1,4zM319,708l-1,5 0,5 -1,5 -1,5 -1,5 -1,5 -1,5 -1,6 -2,5 -1,7 -2,7 -1,8 -2,9 -1,11 -2,13 -3,16 -4,21 -5,25 -8,32 -11,39 -18,42 -22,20 -23,1 -20-11 -18-16 -14-23 -9-27 -5-27 -3-26 -2-22 -1-19 0-17 -1-15 0-14 1-12 0-12 0-10 0-10 0-9 0-9 0-9 0-9 0-9 0-9 0-9 0-9 0-10 -1-11 0-11 0-12 0-14 1-15 1-16 2-19 2-20 8-17 15-3 18,3 17,5 15,6 14,6 13,7 12,8 11,8 9,8 9,7 8,5 9,3 10,1 11,2 4,10 -1,17 -2,15 -2,11 0,9 0,8 0,7 0,6 0,6 1,5 0,6 0,5 0,5zM315,708l-1,5 0,4 -1,5 0,5 0,5 -1,5 0,5 -1,6 -1,6 -1,7 -1,8 -1,8 -1,10 -2,11 -2,14 -3,16 -4,21 -5,25 -8,33 -12,39 -18,42 -22,20 -23,1 -21-11 -18-17 -14-23 -9-27 -5-29 -3-26 -1-22 -1-20 -1-17 0-15 0-14 0-12 1-12 0-10 0-10 1-9 0-9 0-9 0-9 0-9 0-9 0-9 0-9 0-10 -1-10 0-11 0-13 0-13 0-15 1-17 1-19 3-21 7-17 15-4 18,3 17,4 15,5 15,6 13,6 12,8 11,8 10,7 9,7 9,6 9,3 11,1 10,2 5,11 -1,18 -3,15 -2,13 -1,10 -1,8 0,7 -1,7 0,6 -1,5 0,5 0,5 -1,5zM317,708l-1,5 -1,4 -1,5 -1,5 -1,5 -1,5 0,5 -1,5 -1,6 -1,7 -1,7 -1,9 -1,9 -2,12 -1,14 -3,17 -3,21 -6,27 -8,33 -12,41 -18,44 -23,21 -24,2 -21-10 -19-17 -14-24 -10-27 -5-29 -3-27 -2-23 -1-20 -1-18 0-16 0-14 0-13 0-12 0-11 0-10 0-10 0-10 0-9 1-9 0-9 0-9 0-10 0-10 0-10 0-11 1-11 0-13 0-13 1-15 1-17 2-19 2-21 8-17 16-4 18,4 18,5 15,6 15,6 13,7 12,8 11,8 10,8 9,6 9,6 9,2 11,1 11,1 5,11 -1,18 -3,15 -1,12 -1,10 -1,8 0,8 0,6 0,7 -1,5 0,6 -1,5 -1,5zM318,708l-1,5 -1,5 0,5 -1,4 -1,5 -1,6 0,5 -1,6 -1,6 -1,6 -1,8 -2,8 -1,10 -2,11 -2,14 -2,17 -4,22 -5,26 -8,34 -13,41 -18,45 -23,22 -24,1 -22-10 -19-17 -15-23 -9-29 -6-29 -3-27 -1-24 -2-20 0-18 -1-15 0-15 0-13 0-12 0-11 0-11 0-10 0-9 0-10 0-9 0-9 0-10 0-9 1-10 0-11 0-11 0-12 0-13 0-14 1-15 1-18 1-19 3-22 8-18 16-3 19,4 18,5 16,6 15,6 14,8 12,8 11,8 10,8 10,7 9,6 9,3 11,0 11,2 5,12 -2,18 -2,16 -2,12 -1,10 -1,8 0,8 0,6 -1,7 0,5 0,6 -1,5 0,5zM319,708l0,5 -1,5 -1,5 0,5 -1,5 -1,5 -1,6 -1,6 -1,6 -1,7 -1,8 -1,8 -2,10 -1,12 -2,14 -3,18 -4,22 -5,27 -9,35 -12,43 -19,47 -24,23 -25,2 -23-11 -19-17 -16-24 -10-29 -5-31 -3-28 -2-24 -2-21 0-19 -1-16 0-15 0-14 0-12 0-12 0-11 0-10 0-10 0-10 0-10 0-10 0-10 1-10 0-10 0-11 0-11 0-12 1-13 0-15 1-16 1-18 2-20 3-22 8-18 17-3 20,4 18,6 16,7 16,7 13,7 13,9 11,8 11,8 9,7 9,6 10,2 11,1 11,2 6,11 -2,18 -2,17 -2,13 -1,10 -1,8 0,8 0,6 -1,7 0,6 0,5 -1,6 0,5zM321,708l-1,5 0,5 -1,5 -1,5 0,6 -1,5 -1,6 -1,6 -1,6 -1,7 -2,8 -1,9 -2,10 -1,12 -2,14 -3,18 -4,22 -5,28 -9,37 -13,45 -19,49 -25,24 -25,2 -24-10 -21-17 -16-25 -10-31 -6-31 -3-29 -2-26 -1-21 -1-19 -1-18 0-15 0-14 0-13 1-12 0-12 0-10 0-11 0-10 0-10 0-10 1-10 0-10 0-11 0-11 0-12 0-13 0-13 1-16 0-16 1-19 2-21 3-23 8-19 18-3 21,5 19,7 17,7 16,8 14,8 13,9 12,9 10,8 10,7 9,6 10,3 11,0 12,2 5,12 -2,19 -3,17 -2,13 -1,10 0,9 0,7 -1,7 0,7 0,5 0,6 -1,6 0,5zM319,708l0,5 -1,5 -1,5 0,5 -1,5 0,6 0,6 -1,6 -1,7 -1,7 -1,8 -1,9 -1,11 -2,12 -2,15 -3,18 -4,23 -5,29 -9,37 -13,47 -20,50 -26,25 -26,3 -24-10 -22-18 -16-25 -11-32 -6-32 -3-30 -2-26 -2-23 -1-19 -1-18 0-16 0-14 0-13 0-13 0-12 -1-11 1-11 0-10 0-11 0-10 1-11 1-11 0-11 1-11 0-12 1-13 0-14 1-15 0-17 1-19 2-22 3-23 8-20 19-3 21,5 19,7 18,8 16,7 15,8 13,9 12,8 11,8 10,7 10,5 11,3 12,1 11,2 6,12 -1,20 -4,17 -2,14 -1,11 -1,10 -1,8 -1,7 -1,7 -1,6 -1,6 0,6 -1,5zM320,708l0,5 0,5 0,5 -1,6 0,5 -1,6 0,6 -1,6 -1,7 -1,8 -1,8 -1,9 -2,10 -2,13 -2,14 -3,19 -4,23 -6,28 -9,38 -13,46 -20,51 -26,25 -26,3 -25-10 -21-18 -17-26 -11-31 -6-33 -3-30 -2-26 -2-22 -1-20 -1-18 0-16 0-14 0-14 0-13 0-11 0-12 0-11 0-10 0-11 1-11 0-10 1-11 0-11 1-11 0-12 1-13 0-14 1-16 1-17 1-19 1-21 3-24 9-20 19-3 21,6 19,7 18,8 16,8 15,8 13,9 12,9 11,8 10,7 9,6 11,3 11,0 12,3 5,12 -1,19 -4,18 -2,13 -1,11 -1,9 -1,8 -1,7 0,7 -1,6 0,5 0,6 0,5zM321,708l0,5 -1,5 -1,5 0,6 -1,5 -1,6 0,5 -1,7 -1,6 -1,8 -1,8 -1,9 -2,10 -2,13 -2,15 -2,19 -4,24 -6,29 -8,39 -14,48 -20,53 -26,26 -27,3 -26-10 -22-18 -17-26 -11-32 -6-34 -3-31 -2-27 -2-23 -1-21 0-18 0-16 0-15 0-14 0-13 0-12 0-11 0-11 0-11 0-11 0-11 0-11 0-11 0-11 0-12 0-13 0-14 0-14 1-17 0-18 1-20 2-22 4-25 9-20 20-2 22,6 20,8 19,9 16,8 15,10 14,9 12,10 11,9 10,8 10,5 10,4 12,0 12,2 5,13 -2,19 -3,18 -3,14 -1,11 0,9 -1,7 -1,8 0,6 0,6 -1,6 0,5 0,6zM323,708l-1,5 -1,5 0,6 -1,5 -1,5 0,6 -1,6 -1,6 -1,7 -1,7 -1,8 -2,10 -1,10 -2,13 -2,15 -3,20 -3,24 -6,30 -9,40 -13,49 -21,55 -27,27 -28,5 -26-11 -23-17 -17-27 -12-33 -6-35 -4-31 -2-28 -2-24 -1-21 0-19 0-17 0-15 0-15 0-13 0-12 0-12 0-12 0-11 1-11 0-11 0-11 0-12 0-11 0-13 0-13 0-14 0-15 1-17 0-18 1-21 2-23 4-25 9-21 21-2 23,7 21,8 19,9 17,10 15,9 14,10 12,10 11,9 11,8 10,6 10,3 12,1 12,2 5,13 -1,20 -4,18 -2,14 -2,11 0,9 -1,8 0,7 -1,7 0,6 0,6 -1,5 0,6zM322,708l-1,5 -1,5 -1,5 -1,5 0,6 -1,5 -1,6 0,7 -1,6 0,8 -1,9 -1,9 -1,11 -2,14 -2,16 -2,20 -4,25 -6,31 -9,41 -14,50 -21,56 -28,28 -28,5 -27-11 -23-18 -18-28 -12-34 -6-35 -4-33 -2-29 -1-24 -1-22 0-19 -1-17 0-16 0-14 0-14 0-12 0-12 -1-12 0-12 0-11 0-11 -1-12 0-12 0-12 1-13 0-13 0-15 1-15 1-17 1-19 1-20 3-23 3-26 10-20 21-2 24,8 21,9 20,10 17,10 15,10 14,10 12,10 11,9 10,7 10,6 11,3 13,0 12,2 5,12 -1,20 -4,18 -2,14 -1,11 -1,10 0,8 -1,7 -1,7 0,7 -1,6 -1,5 -1,6zM322,708l0,5 0,5 -1,6 0,5 -1,6 0,6 -1,6 -1,6 -1,7 0,8 -2,8 -1,10 -1,11 -2,13 -2,16 -3,20 -4,25 -6,31 -9,41 -14,52 -21,57 -28,28 -29,5 -27-10 -23-19 -19-27 -12-35 -7-36 -3-33 -2-29 -2-25 -1-21 0-20 0-18 0-15 0-15 0-14 0-13 0-12 0-12 -1-11 0-12 0-12 0-11 0-12 0-13 0-12 0-14 0-15 0-16 1-17 0-20 2-21 2-24 3-26 10-22 22-2 24,8 22,9 20,10 18,10 16,10 14,11 13,10 11,10 11,8 10,6 11,3 12,1 12,2 6,14 -2,20 -4,19 -3,14 -1,12 -1,9 -1,8 -1,8 0,7 -1,6 0,6 -1,5 0,6zM328,708l-1,6 0,5 -1,6 -1,5 -1,6 -1,6 -1,6 -1,7 -1,7 -1,8 -2,8 -1,10 -2,11 -1,14 -3,16 -2,21 -4,26 -6,34 -9,43 -14,56 -23,61 -30,32 -30,7 -29-10 -26-19 -20-28 -13-37 -7-38 -4-35 -3-31 -2-27 -1-23 -1-21 0-19 0-17 -1-16 1-15 0-14 0-13 0-13 0-13 0-12 0-12 1-13 0-13 1-13 0-13 0-15 1-15 1-17 0-18 1-20 2-23 2-25 4-28 10-22 24-1 25,9 24,11 21,12 18,11 16,11 15,11 13,11 12,9 10,8 11,6 12,2 13,0 13,2 6,14 -2,21 -4,19 -2,15 -2,12 0,10 -1,8 0,8 0,7 -1,7 0,6 -1,6 0,6zM324,708l0,5 -1,6 0,5 0,6 -1,6 0,6 -1,6 0,7 -1,7 -1,9 -1,9 -1,10 -1,11 -2,14 -2,17 -3,21 -4,26 -6,34 -9,44 -15,56 -23,62 -30,33 -31,6 -29-10 -26-19 -20-29 -14-37 -7-39 -4-36 -2-31 -2-27 -2-23 -1-21 0-19 -1-17 0-16 -1-15 0-14 -1-14 0-13 0-13 0-13 0-13 0-13 0-13 1-14 0-14 1-15 0-15 1-17 1-19 2-20 1-23 3-26 4-28 11-23 24-1 26,10 24,11 22,12 18,11 17,12 15,12 13,11 12,9 11,8 11,6 11,3 13,1 13,2 6,14 -2,22 -4,20 -3,15 -2,12 -1,10 -1,9 -1,7 -1,7 0,7 -1,6 -1,6 0,6zM326,708l-1,5 0,6 -1,5 -1,6 0,6 -1,6 -1,6 0,7 -1,7 -1,8 -1,9 -1,11 -1,12 -2,14 -2,17 -2,22 -4,27 -6,35 -10,46 -15,58 -23,65 -31,34 -32,8 -31-10 -27-19 -21-30 -14-38 -7-40 -4-37 -3-33 -2-28 -1-24 -1-22 0-20 0-18 0-17 0-16 0-14 0-14 0-14 0-13 0-13 0-13 0-13 1-14 0-13 0-15 0-15 1-16 0-18 1-19 1-22 1-24 3-27 4-29 11-24 25-1 27,11 25,11 22,13 19,12 18,12 15,13 13,11 13,10 11,8 11,7 12,3 13,0 13,3 6,14 -2,22 -4,20 -3,16 -2,12 -1,10 -1,9 -1,8 -1,8 0,6 -1,7 -1,6 0,5zM328,708l-1,6 0,5 0,6 -1,6 -1,6 0,6 -1,6 -1,7 -1,8 -1,8 -1,9 -2,10 -1,12 -2,14 -2,17 -3,22 -4,27 -6,36 -9,46 -15,59 -24,66 -31,35 -33,7 -31-9 -27-19 -22-30 -14-38 -8-41 -4-37 -3-33 -2-28 -1-25 -1-23 0-20 0-19 0-17 1-16 0-15 1-14 0-14 1-13 0-13 1-13 0-13 0-13 1-14 0-15 0-15 0-16 0-18 0-20 1-22 1-24 2-28 4-29 11-25 25-1 28,11 25,12 22,12 20,13 18,12 15,13 14,12 12,10 11,9 11,6 12,4 13,0 13,3 6,14 -3,23 -4,20 -3,16 -2,12 -1,10 -1,9 0,8 -1,7 0,6 0,7 -1,5 0,6zM326,708l0,6 -1,5 0,6 0,5 -1,6 0,7 -1,6 0,7 -1,8 -1,8 -1,9 -1,10 -2,12 -2,15 -2,17 -3,22 -4,27 -6,35 -9,47 -15,59 -24,67 -31,35 -33,7 -31-9 -28-19 -21-31 -14-38 -8-41 -5-38 -2-33 -3-28 -1-25 -1-22 -1-20 -1-18 0-17 0-16 0-15 -1-15 0-14 0-13 1-14 0-13 0-14 1-14 0-14 1-15 0-16 1-16 1-18 1-20 1-22 1-24 3-27 4-30 12-24 25-1 28,11 26,12 22,14 20,12 18,13 15,12 14,12 12,10 11,9 11,6 12,3 14,1 13,2 6,15 -3,23 -4,20 -3,16 -2,13 -2,10 -1,9 -1,8 0,7 -1,7 -1,6 0,6 -1,5zM327,708l0,6 0,5 0,6 -1,6 0,6 0,6 -1,7 -1,7 0,8 -1,9 -2,9 -1,10 -2,12 -2,14 -2,17 -3,22 -4,27 -7,35 -9,47 -15,59 -24,67 -31,34 -33,8 -31-10 -28-19 -21-31 -14-39 -8-41 -4-38 -3-33 -2-28 -1-25 -1-22 -1-20 -1-18 0-17 -1-16 0-14 0-15 -1-14 0-13 0-14 0-14 1-13 0-14 0-14 1-15 1-16 0-17 1-18 1-19 1-22 2-25 2-27 4-30 12-25 25,0 28,10 26,13 23,13 20,12 17,13 16,12 14,12 12,10 12,8 11,7 12,3 14,0 13,3 6,15 -2,23 -4,21 -4,16 -2,12 -1,11 -1,9 -1,8 -1,7 -1,7 0,6 -1,7 0,5zM326,708l-1,5 -1,6 -1,5 -1,6 0,5 -1,6 -1,7 0,6 -1,8 0,8 -1,9 -1,11 -1,12 -1,15 -2,17 -3,23 -3,28 -6,36 -10,48 -15,60 -24,68 -32,36 -33,8 -32-10 -28-19 -22-31 -14-39 -8-42 -4-38 -3-33 -2-29 -2-25 -1-23 -1-20 0-19 -1-17 0-16 -1-15 0-15 -1-14 0-14 0-14 0-14 0-14 1-14 0-15 1-15 1-16 1-17 1-18 1-19 2-22 2-25 3-27 4-30 12-24 26,0 29,12 25,13 23,13 20,13 18,13 15,12 14,12 12,10 12,8 11,6 12,2 14,0 14,2 6,14 -2,23 -4,21 -3,16 -1,13 -1,10 -2,9 -1,9 -1,7 -1,8 -1,6 -1,6 -1,6z" stroke-opacity="0.38" stroke-width="0.45"/></g><g fill="none" stroke="#111" stroke-linejoin="round"><path d="M327,708l-1,7 -1,8 -1,7 -1,8 -1,8 0,9 -1,10 -1,11 -1,13 -2,16 -2,21 -3,27 -5,37 -9,52 -16,74 -30,89 -43,42 -44-1 -39-23 -29-42 -15-54 -7-54 -4-44 -3-37 -1-32 -1-28 0-24 -1-23 0-20 0-20 0-19 0-18 1-18 0-19 1-19 0-20 1-22 1-24 1-27 2-31 3-36 6-40 21-24 39,11 35,17 30,18 25,18 21,17 18,15 16,12 15,9 17,3 19,1 12,14 -3,31 -5,25 -4,19 -1,14 -2,12 -1,11 -2,9 -1,8 -1,8zM325,708l0,7 -1,7 0,8 0,8 0,9 0,9 0,11 -1,12 -1,14 -2,17 -3,20 -3,27 -6,37 -9,51 -16,73 -31,89 -43,41 -44-3 -38-23 -29-43 -15-56 -6-53 -4-44 -2-37 -2-31 -1-27 -2-24 -1-21 -2-21 -1-19 -1-19 -1-19 0-19 0-19 1-20 1-21 1-22 2-24 3-26 2-31 4-35 6-40 23-23 38,12 35,18 30,19 25,17 21,18 18,15 16,12 15,8 16,3 19,0 12,14 -3,31 -6,26 -3,18 -2,14 -2,12 -1,10 -2,10 -1,8 -2,8zM326,708l-1,7 -1,7 -1,8 0,7 0,9 -1,9 0,10 -1,12 -1,14 -1,17 -2,21 -3,28 -5,38 -9,52 -17,76 -31,91 -44,43 -45-3 -39-24 -29-44 -15-57 -6-55 -3-46 -1-38 -1-32 -1-27 0-24 -1-22 -1-21 -1-19 -1-18 -2-19 -1-19 -1-19 -1-21 -1-21 0-24 1-25 1-28 2-33 4-37 6-42 23-24 41,12 36,18 32,20 26,18 22,19 19,16 16,13 16,10 17,4 19,1 12,14 -4,32 -5,26 -4,19 -2,15 -2,12 -2,11 -1,9 -2,9 -2,8zM332,708l-2,8 -2,7 -2,8 -1,7 -1,8 -1,9 -1,10 -1,12 -1,13 -2,17 -2,21 -3,28 -4,38 -9,54 -17,76 -31,92 -44,44 -45-2 -40-24 -29-43 -16-57 -7-56 -3-46 -2-38 0-33 -1-28 0-25 0-22 -1-21 0-20 -1-18 -1-19 -1-19 0-19 -1-20 0-22 0-22 1-26 2-28 2-31 3-37 7-41 23-24 39,12 37,19 31,20 25,19 22,18 18,16 16,12 16,9 17,3 19,0 13,13 -3,31 -5,26 -2,18 -1,15 -1,12 -1,11 -2,9 -1,10 -2,8zM331,708l-1,8 -2,7 -1,8 -2,7 -1,8 -1,9 -2,10 -1,11 -2,13 -1,16 -2,20 -3,28 -4,38 -9,53 -16,78 -31,94 -45,44 -45,0 -40-23 -30-43 -16-56 -8-55 -4-45 -3-39 -3-32 -1-29 -1-25 -1-24 0-21 0-21 0-20 0-19 0-19 0-20 1-20 1-22 1-23 2-25 1-28 2-32 4-37 6-41 23-24 40,12 37,19 31,20 26,18 22,19 18,16 17,13 15,9 17,3 20,0 12,14 -3,31 -6,27 -3,18 -1,15 -1,12 -1,10 -1,10 -1,9 -2,8zM328,708l-1,7 -1,8 0,7 0,9 0,8 0,10 -1,11 -1,12 -1,14 -2,17 -3,21 -3,28 -5,38 -10,53 -17,76 -31,93 -45,43 -45-2 -40-24 -30-44 -15-57 -7-55 -4-46 -3-38 -2-32 -2-28 -1-25 -1-23 0-22 -1-20 0-20 0-19 1-19 1-20 1-20 1-20 2-23 1-24 2-28 2-31 3-37 6-42 22-24 39,11 36,18 31,19 26,17 22,17 19,15 17,12 16,8 17,3 20,1 13,14 -3,33 -6,27 -4,20 -2,15 -3,13 -2,11 -2,10 -2,8 -1,8zM336,708l-1,8 -2,8 -1,8 -2,8 -2,9 -1,9 -2,10 -1,12 -2,13 -2,17 -2,21 -3,28 -5,39 -9,54 -17,78 -32,95 -45,45 -47-2 -40-23 -30-45 -17-58 -6-56 -4-48 -2-39 0-34 -1-29 1-26 0-23 0-21 0-20 0-19 0-19 0-19 -1-19 0-20 0-22 0-23 1-25 0-28 2-33 3-38 6-42 23-24 41,12 37,20 31,20 26,19 22,19 18,16 17,13 15,9 17,2 20,0 13,14 -3,31 -5,26 -2,18 -1,15 -1,12 0,11 -1,10 0,9 -1,9zM331,708l-2,8 -1,7 -1,8 -1,8 -1,8 0,10 -1,10 -1,12 -1,14 -1,18 -3,21 -3,29 -5,39 -9,54 -17,79 -32,96 -46,46 -47-2 -41-24 -30-45 -16-59 -8-56 -4-48 -3-38 -2-33 -2-29 -1-26 -2-23 -2-22 -2-21 -1-21 -1-20 -1-21 1-20 0-22 2-22 2-24 2-26 3-28 4-32 4-37 8-42 24-23 42,14 37,20 32,22 26,20 22,19 18,16 16,13 16,8 17,3 20-2 13,14 -3,32 -6,27 -3,18 -1,15 -1,12 -2,11 -1,10 -1,9 -2,8zM333,708l0,8 0,8 0,9 0,8 -1,10 0,10 -1,12 -1,13 -2,15 -2,17 -3,22 -4,29 -6,39 -10,54 -18,79 -33,96 -47,45 -47-2 -41-26 -31-46 -16-60 -7-58 -3-48 -2-40 -2-33 -1-30 0-25 -1-24 -1-22 -1-20 -1-20 -1-20 -1-20 0-20 0-22 1-22 1-24 1-25 2-29 3-33 4-38 7-42 24-24 42,14 38,20 32,22 26,20 22,20 18,16 16,14 16,9 17,3 20-1 12,14 -4,32 -6,27 -3,19 -2,14 -1,11 0,11 -1,9 0,9 -1,8zM331,708l-2,8 -1,7 -2,8 -1,7 0,9 -1,9 0,11 -1,12 0,15 -1,18 -2,23 -3,30 -5,42 -9,57 -18,83 -33,100 -48,48 -49,0 -43-25 -32-46 -18-61 -7-60 -4-50 -3-41 -1-36 0-31 0-28 1-24 0-23 0-21 0-21 0-20 1-20 0-20 0-22 0-22 1-24 0-27 2-29 2-34 3-40 7-44 24-25 42,14 39,20 33,22 27,20 23,20 19,17 17,13 16,9 18,3 20,0 13,14 -3,34 -6,27 -4,20 -2,15 -1,13 -2,11 -2,10 -1,9 -2,8zM333,708l0,8 -1,8 0,8 -1,9 0,9 -1,10 -1,11 -2,12 -2,14 -2,17 -3,22 -3,29 -5,39 -10,56 -17,82 -33,100 -47,48 -49-1 -42-25 -32-46 -17-60 -8-58 -4-49 -4-40 -2-35 -1-30 -1-27 -1-25 -1-23 0-21 0-21 0-21 0-21 1-20 1-22 1-22 1-25 1-26 2-30 2-34 3-40 7-45 24-26 43,14 39,20 33,22 28,20 23,20 20,16 17,14 16,10 18,3 21,0 12,16 -4,34 -6,28 -4,21 -3,15 -1,12 -2,11 -1,10 -1,9 0,8zM336,708l-1,8 -2,8 -1,8 -2,8 -1,9 -2,9 -1,11 -2,11 -1,14 -2,17 -2,22 -3,29 -5,41 -9,57 -17,84 -33,102 -48,49 -49,0 -43-24 -32-47 -18-60 -8-60 -4-49 -4-41 -2-36 -1-30 -1-28 -1-25 0-23 -1-22 0-21 0-21 0-21 1-21 0-22 1-23 1-25 2-27 1-30 2-35 4-40 7-45 25-26 43,14 40,21 34,22 28,21 23,20 20,17 17,13 17,10 18,3 22-1 13,15 -4,34 -6,29 -3,20 -2,15 -1,13 -1,12 -2,10 -1,10 -1,9zM332,708l0,8 0,8 0,8 0,9 0,10 0,10 -1,12 -1,13 -2,15 -2,18 -3,22 -4,30 -5,40 -10,58 -18,83 -34,103 -49,48 -49-1 -44-25 -32-48 -18-62 -8-60 -4-51 -2-42 -2-35 -1-31 -1-28 0-25 -1-23 0-22 0-21 0-21 0-21 0-21 1-22 0-23 1-25 1-27 1-31 2-35 3-41 7-46 25-27 44,14 40,21 34,22 28,21 24,21 20,18 17,14 17,10 18,4 21,1 12,16 -5,35 -7,29 -5,21 -2,15 -2,12 -2,11 -1,9 -1,9 0,8zM339,708l-1,8 0,9 -1,9 -1,9 -1,10 -1,10 -1,11 -2,13 -2,15 -3,17 -3,22 -4,29 -5,41 -10,57 -18,84 -34,102 -49,48 -49-1 -44-25 -32-48 -17-62 -8-60 -4-50 -3-42 -2-35 -2-31 -1-27 -1-25 -1-24 0-22 0-21 0-21 1-21 1-21 1-22 1-22 2-25 2-26 1-30 3-34 3-40 6-46 25-26 43,14 40,21 33,22 28,20 23,20 20,16 17,13 17,9 19,2 22-1 13,15 -3,35 -7,29 -3,20 -2,16 -1,13 -2,12 -1,10 -1,9 0,9zM339,708l-1,8 -2,9 -1,8 -2,8 -2,9 -2,9 -2,11 -2,11 -1,14 -2,17 -2,22 -3,30 -5,42 -9,59 -17,86 -34,105 -49,51 -50,1 -45-25 -33-47 -19-62 -8-61 -4-51 -3-43 -2-36 -1-32 0-29 1-26 0-23 0-23 1-21 0-21 0-21 1-21 0-22 0-24 0-25 1-28 1-31 1-36 4-41 7-46 25-27 45,15 40,21 35,24 28,22 24,21 20,18 17,14 17,10 18,4 21-1 13,15 -4,35 -6,28 -3,20 -2,15 -1,13 0,11 -1,10 0,9 -1,9zM339,708l-1,8 -2,9 -1,8 -2,9 -1,9 -2,9 -2,10 -2,12 -2,14 -2,17 -2,22 -3,30 -5,41 -9,59 -17,87 -34,105 -49,51 -51,1 -45-24 -33-47 -18-63 -9-60 -5-51 -3-43 -2-36 -2-32 -1-29 0-26 0-24 0-23 0-22 1-21 0-21 1-22 1-22 0-24 1-25 2-28 1-31 2-36 4-41 7-47 25-26 45,15 41,22 35,23 28,22 24,22 20,18 17,14 17,10 18,3 21-1 14,16 -5,34 -6,29 -3,20 -2,15 -1,13 -1,11 0,10 -1,9 0,9z" stroke-opacity="0.12" stroke-width="0.30"/><path d="M328,708l-1,7 -1,8 0,7 -1,8 -1,8 -1,9 -1,10 -2,11 -1,13 -2,16 -2,20 -3,27 -5,37 -9,51 -16,73 -30,89 -43,42 -43-1 -39-22 -29-42 -15-54 -7-53 -4-44 -3-37 -1-32 -1-28 0-24 1-23 0-20 1-20 0-18 0-18 1-18 0-18 0-19 1-20 0-22 0-24 1-27 1-31 3-36 5-41 22-24 38,11 35,17 29,18 26,17 21,18 18,15 16,13 15,10 16,4 19,1 11,14 -3,30 -6,26 -3,18 -2,14 -1,11 -1,10 -1,9 -1,9 0,7zM327,708l-1,7 -1,8 -1,7 -1,8 0,8 -1,9 -1,9 -1,12 -1,13 -2,17 -2,20 -2,28 -5,38 -9,53 -16,76 -31,93 -44,43 -45,0 -40-23 -30-42 -17-56 -7-54 -4-46 -3-38 -2-33 0-29 0-25 0-24 1-21 0-20 1-19 0-19 1-19 0-19 1-19 0-21 0-22 1-25 1-28 1-32 3-36 6-42 23-24 39,11 36,19 31,19 25,18 22,19 18,16 16,14 15,10 16,4 18,1 12,14 -4,31 -6,26 -3,18 -2,14 -1,11 -2,10 0,9 -1,8 -1,8zM336,708l-2,8 -3,8 -1,8 -2,7 -2,9 -1,9 -2,10 -1,11 -1,14 -2,16 -2,22 -3,28 -5,39 -9,54 -16,79 -32,95 -46,45 -46-1 -41-24 -30-44 -16-58 -7-57 -4-47 -2-39 -1-33 -1-29 0-26 0-24 0-21 0-20 -1-20 0-19 0-19 0-20 1-20 0-21 1-23 1-25 2-28 2-32 3-38 6-42 23-24 40,13 37,19 31,20 26,19 22,18 19,15 16,12 16,8 18,2 20-1 13,14 -2,32 -5,26 -2,19 -1,15 -1,12 -1,12 -1,10 -2,10 -2,9zM335,708l-2,8 -1,8 -2,8 -1,8 -2,8 -1,9 -2,10 -1,12 -2,13 -2,17 -2,21 -3,28 -5,38 -9,55 -16,79 -32,96 -46,46 -46-1 -41-23 -31-44 -17-58 -8-56 -4-47 -3-39 -2-34 -1-29 0-27 0-24 0-22 1-21 1-20 1-19 1-19 1-20 1-20 1-21 1-22 1-25 1-28 1-33 3-38 5-43 23-25 40,12 37,19 31,19 27,18 22,18 19,15 17,13 16,8 18,3 20,0 13,15 -3,32 -5,27 -3,20 -2,15 -1,12 -1,12 -1,10 -2,9 -1,9zM333,708l-1,8 -2,8 -1,7 -1,8 -1,9 -1,9 -1,11 -2,11 -1,15 -1,17 -2,22 -3,29 -5,41 -9,57 -17,81 -33,100 -47,47 -48,0 -43-24 -32-46 -17-60 -8-58 -4-50 -2-41 -1-35 0-31 1-27 0-25 1-22 1-21 1-20 0-20 0-19 0-20 0-21 0-22 0-24 0-26 0-30 2-34 2-40 6-45 24-26 42,13 39,20 33,21 27,20 23,20 19,17 17,13 16,10 18,4 20,0 13,15 -4,33 -6,28 -3,19 -2,15 -1,13 -2,11 -1,9 -1,9 -1,9zM332,708l1,8 0,8 0,9 0,9 0,9 -1,11 -1,11 -2,12 -2,15 -2,17 -4,21 -4,28 -5,38 -10,55 -17,80 -33,98 -47,46 -47-1 -42-25 -31-45 -17-60 -8-57 -4-48 -3-40 -2-34 -2-30 -1-26 -1-24 0-23 0-21 0-21 1-20 1-20 0-20 2-21 1-22 1-23 1-26 1-30 2-33 3-40 5-44 24-26 42,12 38,19 33,21 27,19 23,19 20,16 17,13 16,10 18,4 21,1 12,16 -4,34 -7,28 -4,20 -3,16 -2,12 -2,11 -1,9 0,9 -1,8zM332,708l0,8 0,8 0,8 -1,9 0,9 -1,10 -1,11 -2,12 -2,14 -2,17 -3,22 -3,28 -5,40 -10,57 -17,82 -33,101 -48,47 -48,0 -43-25 -32-46 -17-60 -8-59 -4-49 -3-41 -3-34 -1-31 -1-27 -1-25 0-23 0-21 0-21 0-21 0-21 1-20 0-22 1-23 1-24 1-27 1-31 1-35 3-40 7-46 24-27 44,13 39,21 34,21 28,20 24,21 20,17 18,14 16,11 18,4 21,1 12,16 -5,35 -7,29 -4,20 -3,15 -2,13 -2,11 -1,9 0,9 -1,8zM339,708l-1,8 -2,9 -1,8 -2,9 -1,9 -2,9 -2,11 -1,12 -2,14 -2,17 -3,22 -3,30 -4,42 -10,59 -17,86 -34,105 -49,51 -51,0 -44-25 -34-47 -18-63 -8-61 -4-52 -3-42 -2-37 0-31 -1-29 0-25 0-24 0-22 0-22 0-21 1-21 0-21 0-23 1-23 0-25 1-28 1-31 2-36 3-42 6-47 26-27 45,14 41,22 34,22 29,22 24,20 20,18 18,14 17,10 19,3 22-1 14,16 -4,35 -6,29 -4,21 -2,16 -1,13 -1,12 -1,10 -1,10 -2,9z" stroke-opacity="0.25" stroke-width="0.50"/></g></g>
<g fill="none" stroke="#111" stroke-linejoin="round"><path d="M313,338l0,3 1,3 1,3 1,3 0,4 1,5 1,5 0,5 1,7 -1,8 -1,8 -2,9 -5,5 -8-4 -7-4 -6-4 -5-5 -4-4 -4-4 -3-3 -3-3 -3-3 -3-2 -2-3 -2-3 -2-2 -2-3 -2-2 -3-3 -2-3 1-3 1-4 0-3 1-3 0-3 1-3 -2-3 0-4 0-3 0-4 1-4 1-4 1-5 1-5 1-7 3-5 4-4 5-2 6,1 5,2 5,4 4,3 4,3 3,3 3,3 3,3 2,3 2,3 1,3 2,4 1,2 0,3 1,3 1,3 0,2 1,3 0,2zM320,338l1,3 0,4 1,4 1,4 1,5 1,5 0,6 1,7 0,8 -1,9 -1,10 -2,11 -6,6 -11-6 -8-5 -7-5 -6-5 -5-4 -5-4 -4-3 -4-4 -4-3 -3-3 -3-3 -3-3 -3-3 -2-4 -3-3 -3-3 -3-4 -1-4 1-5 0-4 0-4 -1-4 -1-5 -2-5 0-5 0-5 1-6 2-5 2-5 3-5 2-6 3-7 4-5 6-4 6-2 7,1 7,2 6,4 5,4 5,4 4,3 4,4 4,4 2,4 3,4 1,4 2,4 1,4 1,3 1,4 1,3 0,3 1,4 0,3zM323,338l1,4 1,4 0,4 1,4 0,5 0,5 1,6 0,7 -1,8 0,8 -1,10 -3,12 -6,5 -11-7 -8-5 -7-4 -6-5 -5-4 -5-4 -4-3 -4-4 -4-2 -3-3 -3-4 -3-3 -3-3 -3-3 -3-3 -2-4 -3-3 -1-5 0-4 0-5 0-4 -1-4 -1-5 -2-5 -1-6 0-5 1-6 2-5 2-6 3-5 3-6 3-7 4-5 6-4 7-2 7,1 7,3 6,3 6,5 4,4 5,4 3,3 4,4 3,4 2,4 2,4 2,4 1,3 2,4 1,4 1,3 1,3 1,4 1,3zM323,338l1,4 1,4 0,4 1,4 0,5 1,6 0,6 1,7 0,8 -1,9 -1,10 -3,12 -6,6 -11-7 -8-5 -8-5 -6-5 -5-5 -5-3 -5-4 -4-3 -3-3 -4-3 -3-3 -3-3 -4-4 -3-3 -3-3 -3-4 -3-3 -1-5 0-5 0-4 -1-5 -1-5 -1-5 -2-5 -1-6 1-6 2-5 2-6 2-5 4-6 3-6 3-6 5-6 6-4 6-1 8,0 7,2 6,4 6,4 5,4 5,3 4,4 4,4 3,4 2,4 2,5 2,4 2,4 1,4 1,4 0,3 1,4 1,4 0,3zM323,338l1,4 1,4 1,4 1,4 0,6 1,5 1,7 0,7 0,8 -1,10 -1,11 -2,12 -7,5 -11-7 -9-5 -8-5 -6-5 -6-5 -5-4 -4-3 -4-4 -4-3 -4-3 -3-3 -4-3 -3-3 -3-4 -3-3 -4-4 -4-3 -1-5 0-5 0-5 -1-5 -1-5 -1-5 -3-6 0-7 1-6 1-6 3-5 3-6 3-5 4-6 4-6 5-6 6-4 7-1 7,1 7,2 7,4 6,4 5,4 5,4 4,3 4,4 3,5 2,4 2,5 2,4 1,4 1,4 1,4 1,4 0,3 1,4 1,3zM324,338l1,4 0,4 1,4 1,5 1,5 1,6 1,7 0,7 0,9 -1,9 -1,11 -3,12 -7,6 -11-8 -9-5 -7-6 -7-5 -6-5 -4-4 -5-4 -4-3 -4-4 -3-3 -4-3 -3-3 -3-3 -3-3 -4-3 -3-4 -4-4 -2-4 0-5 -1-5 -1-5 -1-5 -1-5 -3-7 0-6 1-6 2-6 2-5 4-6 3-5 4-6 4-7 5-5 6-4 7-2 7,1 7,2 7,3 6,4 5,4 5,4 5,3 4,4 3,5 3,5 2,4 1,5 2,4 0,4 1,4 1,4 0,4 1,4 0,3zM327,338l1,4 0,4 1,5 1,5 0,5 1,6 0,7 0,7 0,9 -1,9 -1,12 -3,12 -7,5 -12-8 -9-5 -7-6 -7-5 -6-5 -5-4 -4-4 -4-3 -4-4 -4-3 -3-3 -3-3 -4-4 -3-3 -4-3 -3-3 -4-4 -2-5 -1-5 -1-5 -1-5 -2-5 -1-6 -3-7 -1-6 1-7 2-6 3-6 3-6 4-6 4-6 5-6 5-6 6-3 8-2 8,1 7,2 7,4 6,4 6,4 5,4 5,3 4,5 3,4 3,5 2,4 2,5 2,4 1,5 1,4 1,4 1,4 0,4 1,4zM328,338l0,4 1,4 1,5 0,5 1,5 1,7 0,6 0,8 0,9 -1,10 -1,11 -3,13 -7,5 -12-8 -9-6 -8-6 -7-5 -6-5 -5-4 -4-4 -5-3 -4-4 -3-3 -4-3 -4-3 -3-3 -4-4 -3-3 -4-3 -4-4 -2-5 -1-5 -1-6 -2-5 -2-6 -2-6 -2-7 -1-7 1-6 3-7 3-6 4-6 4-5 4-6 5-6 5-5 7-4 8-2 7,1 8,2 7,4 6,4 6,4 5,4 5,4 4,4 4,4 2,5 3,5 2,4 2,5 1,4 1,5 1,4 0,4 1,4 0,4zM329,338l1,4 1,5 0,4 1,5 0,6 0,6 1,7 0,7 -1,9 -1,9 -1,12 -3,12 -8,5 -11-8 -10-6 -7-6 -7-5 -6-5 -5-4 -4-3 -5-3 -4-3 -4-3 -3-3 -4-3 -4-4 -4-3 -3-3 -4-4 -4-4 -2-5 -1-5 -1-6 -2-5 -2-6 -1-6 -3-7 -1-7 2-7 2-6 3-6 4-6 4-6 5-6 4-6 6-5 7-4 7-2 8,1 8,3 7,3 6,4 6,4 5,5 5,4 4,4 4,4 2,5 3,5 2,4 2,5 1,4 1,4 1,5 1,4 1,4 1,4zM329,338l0,4 1,5 1,4 1,5 0,6 1,6 1,8 0,8 0,9 0,11 -2,11 -3,14 -8,6 -12-9 -10-6 -8-6 -7-5 -6-5 -5-5 -5-4 -4-4 -4-4 -4-3 -4-4 -3-4 -3-3 -4-3 -3-4 -4-3 -5-4 -2-5 -1-5 -2-6 -2-5 -2-6 -2-6 -3-7 -1-8 1-7 3-6 3-7 4-6 5-5 5-6 5-6 6-5 6-4 8-1 8,1 8,2 7,4 6,4 6,4 6,3 4,4 5,4 3,5 3,5 3,5 2,4 2,5 1,5 1,4 1,4 0,5 1,4 0,4zM330,338l1,4 1,5 1,5 1,5 1,6 1,7 0,7 0,8 -1,9 -1,10 -2,12 -3,12 -8,6 -12-10 -10-6 -8-6 -7-5 -6-5 -5-5 -5-4 -4-3 -4-4 -4-3 -4-3 -3-3 -4-4 -3-3 -4-3 -4-4 -4-4 -2-5 -1-5 -2-6 -1-5 -3-6 -2-6 -3-7 -1-8 1-7 2-7 3-6 4-7 5-6 4-6 5-6 6-6 7-4 8-1 9,1 8,2 7,4 7,4 6,5 5,5 4,4 4,5 4,5 2,5 2,5 2,5 2,5 1,4 1,4 1,4 1,4 1,4 2,4zM329,338l1,4 0,5 1,4 1,5 0,6 1,6 1,7 0,9 0,9 -1,10 -1,12 -3,14 -8,5 -12-9 -10-5 -8-6 -7-6 -6-5 -5-4 -5-4 -5-4 -4-4 -4-3 -3-3 -4-4 -3-3 -4-3 -4-4 -4-3 -5-4 -2-6 -2-5 -1-5 -2-6 -3-6 -2-7 -3-7 -1-8 2-7 3-7 3-6 5-6 5-5 5-6 5-6 6-5 7-4 8-1 8,0 8,2 7,3 7,4 6,4 5,4 5,3 5,5 4,4 3,5 3,5 2,5 2,5 1,5 1,5 1,5 0,4 0,5 0,4zM330,338l1,4 1,5 0,5 1,5 1,6 0,6 1,7 0,8 -1,9 0,11 -2,12 -3,13 -7,6 -13-9 -10-6 -8-6 -7-5 -6-5 -6-4 -5-4 -4-4 -4-3 -5-3 -3-4 -4-3 -4-4 -3-3 -4-4 -4-4 -4-4 -3-5 -1-6 -2-5 -2-6 -3-6 -3-7 -4-8 0-8 1-7 2-8 4-7 4-6 5-6 6-6 5-7 7-5 7-4 9-1 8,1 8,2 8,4 7,5 6,4 6,5 4,4 5,5 4,5 2,5 3,6 2,4 2,5 1,5 1,5 1,4 1,4 0,5 1,4zM331,338l1,4 1,5 1,5 1,6 1,6 0,6 1,8 0,9 0,9 -1,11 -2,13 -2,14 -9,6 -13-10 -10-6 -9-6 -7-6 -6-5 -6-5 -5-4 -5-4 -4-3 -4-4 -4-4 -4-3 -4-4 -3-4 -4-3 -5-4 -4-4 -3-6 -2-5 -2-6 -3-6 -4-7 -3-7 -4-8 -1-9 2-8 2-8 4-7 5-7 6-6 6-6 6-7 7-5 8-4 9-1 8,2 9,2 8,4 7,5 6,5 6,5 5,5 5,5 3,5 3,6 2,5 2,5 2,5 1,5 1,5 1,4 1,4 0,5 1,4zM332,338l1,5 1,4 1,5 1,6 1,6 1,7 0,8 1,9 -1,10 -1,11 -1,12 -3,15 -9,6 -13-10 -11-7 -8-6 -8-6 -6-5 -6-5 -5-4 -5-4 -4-4 -5-4 -3-3 -4-4 -4-4 -4-3 -4-4 -5-4 -4-4 -3-5 -2-6 -3-6 -3-6 -3-7 -4-7 -3-9 -1-8 2-9 2-7 5-8 5-6 6-6 5-7 7-6 7-5 8-4 8-1 9,1 9,2 8,4 7,4 7,5 6,4 5,5 5,5 4,5 3,6 2,6 2,5 2,6 1,5 1,5 1,4 0,5 1,4 0,5zM334,338l1,5 0,5 1,5 0,5 1,6 0,7 1,7 0,9 -1,10 -1,10 -1,13 -3,14 -8,6 -14-10 -10-7 -9-6 -7-5 -6-6 -6-4 -5-4 -5-4 -4-4 -4-3 -4-4 -4-3 -4-4 -4-3 -4-4 -5-4 -5-4 -2-5 -3-6 -3-6 -3-6 -4-7 -3-8 -4-8 -1-9 2-8 3-8 4-8 6-6 6-6 6-6 6-7 7-5 8-3 9-2 9,1 9,2 8,4 7,4 7,4 6,4 6,5 5,5 4,5 4,6 3,5 2,6 2,5 1,6 1,5 1,5 0,5 1,5 0,4zM335,338l1,5 0,5 1,5 0,6 1,6 0,6 0,8 0,8 0,10 -1,11 -2,13 -3,14 -8,6 -14-10 -10-6 -9-6 -7-5 -7-5 -5-5 -6-4 -5-3 -4-4 -5-3 -4-4 -4-4 -4-4 -4-4 -4-4 -4-4 -5-4 -2-6 -3-6 -2-6 -4-6 -4-7 -4-8 -4-9 -1-9 2-8 3-9 4-7 5-7 6-7 7-6 6-6 8-6 8-3 9-1 10,1 9,2 8,5 7,4 7,5 6,5 6,5 5,5 4,5 3,6 3,5 2,6 2,5 1,5 2,5 1,5 1,5 0,5 1,4zM336,338l0,5 1,5 0,5 1,6 0,6 0,7 0,7 0,8 0,10 -1,11 -2,12 -3,15 -8,6 -14-11 -10-6 -9-5 -7-6 -7-4 -5-5 -6-4 -5-3 -5-3 -4-4 -5-4 -4-3 -4-4 -4-4 -4-4 -5-4 -4-5 -3-6 -2-5 -3-7 -3-6 -4-7 -4-8 -4-9 0-9 1-9 4-8 4-7 5-7 7-7 6-6 7-6 7-5 9-4 9-1 9,1 9,3 8,4 7,4 7,5 6,5 6,4 5,5 4,6 3,5 3,6 3,5 2,6 1,5 2,5 1,5 0,5 1,4 1,5zM335,338l1,5 1,5 1,5 1,6 0,7 1,7 0,8 0,8 0,10 -1,12 -2,12 -3,15 -9,6 -14-11 -10-7 -9-6 -8-5 -7-6 -5-4 -6-4 -5-4 -5-4 -4-3 -4-4 -5-4 -4-3 -4-4 -4-4 -5-4 -5-5 -3-5 -2-6 -3-6 -4-7 -4-7 -4-9 -4-9 -1-9 2-9 3-8 5-8 5-7 7-7 6-6 7-6 8-6 8-3 10-1 9,0 9,3 9,4 8,5 7,4 6,5 5,6 5,5 4,6 4,6 2,6 2,6 2,5 1,5 1,5 1,5 1,5 1,5 0,4zM337,338l0,5 1,5 0,5 1,6 0,6 0,7 1,8 0,9 0,10 -1,11 -2,14 -3,15 -9,6 -14-11 -10-6 -9-6 -8-5 -7-5 -6-5 -6-4 -5-4 -5-4 -4-4 -4-4 -4-4 -4-4 -4-4 -4-4 -5-4 -5-5 -3-5 -3-6 -3-6 -4-7 -6-8 -4-8 -5-10 -1-10 1-9 4-9 4-8 6-8 7-7 7-6 8-6 8-5 9-3 10-1 10,1 9,3 9,5 8,4 7,6 6,5 6,5 5,5 4,6 4,6 3,5 2,6 2,5 2,6 1,5 1,5 1,5 0,5 1,5zM338,338l1,5 0,5 0,6 1,6 0,6 1,7 0,8 0,9 -1,10 -1,11 -2,13 -3,15 -8,7 -15-12 -10-6 -9-6 -8-6 -7-5 -6-4 -5-4 -6-4 -5-4 -4-3 -5-4 -4-4 -4-4 -5-4 -4-4 -5-4 -5-5 -4-5 -3-7 -3-6 -5-7 -5-8 -5-9 -5-10 -1-10 2-10 4-9 5-8 6-8 8-6 7-6 8-6 9-5 9-3 10-1 10,1 9,3 9,5 8,4 7,6 6,5 6,5 5,5 5,6 3,6 3,6 3,5 2,6 1,5 2,6 1,5 0,5 1,5 1,5zM338,338l0,5 1,5 0,6 1,6 0,6 1,7 0,8 0,9 0,10 -1,12 -2,13 -3,15 -9,6 -15-12 -10-6 -9-7 -8-6 -7-5 -6-5 -5-4 -5-4 -5-4 -4-3 -4-4 -5-3 -4-4 -5-3 -5-4 -5-4 -6-5 -4-5 -3-6 -4-7 -5-7 -5-8 -5-9 -4-10 -1-10 3-10 4-9 5-8 7-7 7-7 8-6 8-5 8-5 9-3 10-1 10,1 9,2 9,4 8,5 7,4 7,5 6,5 5,5 5,6 4,6 3,6 2,6 2,6 2,6 1,5 0,6 1,5 0,5 1,5zM341,338l0,5 0,6 0,5 0,6 0,7 1,7 0,7 -1,9 0,10 -1,12 -2,13 -3,15 -9,6 -14-11 -11-6 -9-6 -8-6 -7-5 -6-5 -6-4 -5-4 -4-4 -5-4 -4-4 -4-4 -4-4 -5-4 -4-4 -4-4 -5-4 -4-6 -3-6 -4-6 -5-7 -5-8 -5-9 -5-10 -1-10 2-9 3-10 5-8 7-7 7-7 8-6 7-6 9-4 9-3 10-1 10,1 9,3 9,4 8,5 7,5 7,4 5,5 6,5 5,5 3,6 4,6 3,5 2,6 2,6 2,5 1,6 1,5 1,5 0,6zM340,338l1,5 1,6 1,6 1,6 0,7 1,8 0,8 0,9 -1,11 -2,11 -2,14 -3,15 -10,6 -15-12 -11-8 -9-6 -8-6 -7-6 -6-4 -6-4 -5-4 -5-4 -5-3 -5-4 -5-3 -5-4 -5-4 -5-4 -5-4 -5-5 -4-6 -4-7 -4-7 -4-7 -6-8 -6-10 -4-11 -1-10 3-10 4-10 6-8 6-8 8-7 8-6 8-7 9-5 10-3 10-1 11,1 10,2 9,4 9,5 7,5 7,5 6,6 6,6 4,7 4,6 3,7 2,6 2,6 1,6 1,6 1,5 1,6 1,5 0,5zM342,338l1,5 0,6 1,6 0,6 1,7 0,8 0,8 0,10 -1,10 -1,12 -2,14 -3,16 -10,6 -15-12 -11-7 -10-7 -8-5 -7-6 -7-5 -5-4 -6-4 -5-4 -4-5 -5-4 -4-4 -4-4 -4-4 -5-4 -5-5 -5-5 -4-5 -4-6 -4-7 -6-7 -7-8 -6-10 -6-11 -2-11 2-11 4-10 5-10 7-8 8-7 9-7 9-6 9-5 11-2 11-1 10,2 11,4 9,5 8,5 8,6 7,6 5,6 6,6 4,6 3,6 3,6 3,6 2,6 2,5 2,6 1,5 1,5 1,6 1,5zM341,338l0,5 1,6 1,6 0,6 1,7 0,7 1,9 -1,9 0,11 -1,12 -3,13 -3,16 -9,6 -15-12 -12-7 -9-7 -8-6 -7-5 -6-5 -6-4 -5-4 -5-4 -5-4 -5-3 -5-4 -4-4 -5-4 -5-4 -5-5 -5-5 -4-5 -4-7 -5-7 -5-7 -7-9 -6-10 -5-11 -1-11 2-10 4-10 6-9 7-8 8-7 9-7 8-6 10-5 10-2 11-1 10,1 11,3 9,5 9,5 7,5 7,6 6,6 5,6 5,6 3,7 3,6 3,6 2,6 1,6 2,6 1,5 1,5 0,6 1,5zM342,338l1,5 0,6 1,6 1,6 0,7 0,8 1,8 -1,10 0,11 -2,11 -2,14 -3,16 -10,6 -15-12 -11-8 -10-6 -8-6 -7-5 -6-5 -6-5 -5-4 -6-4 -4-3 -5-4 -5-4 -4-4 -5-4 -5-4 -5-5 -5-4 -5-6 -4-7 -4-6 -6-8 -7-9 -6-10 -6-11 0-11 2-11 4-10 6-9 7-8 8-7 9-7 9-6 10-4 10-3 11-1 10,2 11,2 9,5 9,5 7,6 7,5 6,6 6,6 5,6 3,7 3,6 3,6 2,7 2,5 1,6 1,6 1,5 1,5 0,6zM342,338l1,5 1,6 0,6 1,6 0,7 0,8 0,8 0,9 -1,11 -1,12 -2,14 -3,16 -10,6 -15-12 -11-7 -10-6 -8-6 -7-5 -7-5 -6-4 -5-4 -5-4 -5-4 -5-4 -4-4 -5-5 -4-4 -5-4 -5-5 -5-5 -4-5 -5-7 -5-6 -6-8 -7-9 -7-10 -6-12 -1-11 2-11 4-11 5-10 8-8 8-8 9-6 10-6 10-5 11-3 11,0 11,2 10,4 10,5 9,5 7,6 7,6 6,7 5,6 5,6 3,7 3,6 3,6 2,6 2,6 2,5 1,6 1,5 1,5 1,6zM343,338l1,6 1,5 0,6 1,7 1,7 0,8 0,9 0,10 0,11 -2,12 -2,14 -3,17 -10,6 -16-13 -12-7 -10-7 -8-6 -7-6 -7-6 -5-5 -6-4 -5-5 -4-4 -5-4 -4-4 -4-4 -5-4 -5-4 -5-4 -6-5 -5-5 -5-6 -6-7 -6-8 -8-9 -8-11 -5-12 -1-12 2-11 4-10 7-10 8-8 9-7 9-6 10-6 10-4 11-2 11,0 11,2 10,3 10,5 9,5 7,6 7,5 6,6 6,6 5,6 4,6 3,7 3,6 2,6 2,6 1,5 1,6 1,6 1,5 1,6zM345,338l1,6 0,6 1,6 1,7 0,7 0,8 0,8 0,10 -1,11 -2,12 -2,14 -4,16 -10,6 -16-14 -11-7 -10-7 -8-6 -7-5 -7-5 -6-4 -5-4 -5-4 -6-3 -5-4 -5-4 -4-4 -5-4 -6-4 -5-5 -6-5 -4-6 -5-7 -5-7 -6-8 -7-9 -7-11 -6-12 -1-12 3-11 4-11 7-9 7-9 9-7 9-6 10-6 10-5 11-3 11,0 12,1 10,3 10,5 9,6 8,6 7,6 6,6 6,6 4,7 4,7 3,6 3,7 2,6 2,6 1,6 1,5 2,6 1,5 1,5zM345,338l1,6 0,6 1,6 0,7 1,7 0,8 0,8 0,10 -1,11 -1,13 -2,14 -4,17 -10,6 -16-13 -12-7 -9-7 -9-6 -7-6 -7-5 -6-5 -6-4 -5-4 -4-5 -5-4 -5-4 -4-4 -5-4 -5-5 -5-4 -6-5 -5-6 -5-6 -6-7 -7-8 -8-9 -8-11 -6-13 -1-12 3-11 4-11 7-10 8-9 10-6 10-7 10-5 10-4 12-2 11,1 11,2 10,3 10,5 9,6 7,5 7,6 7,6 5,6 5,6 4,6 3,6 3,6 3,6 2,6 2,6 1,6 1,5 1,6 1,5zM345,338l2,6 1,6 1,6 0,7 1,8 0,8 0,9 -1,10 -1,10 -2,13 -2,13 -4,16 -10,6 -16-14 -12-8 -10-7 -8-6 -7-6 -7-5 -5-4 -6-4 -5-4 -5-3 -5-4 -5-3 -5-4 -5-4 -6-4 -5-5 -6-5 -5-6 -5-7 -5-7 -7-8 -7-9 -8-11 -5-13 -1-12 2-11 5-11 6-10 8-9 9-7 10-7 10-6 10-4 11-3 12-1 11,2 11,3 10,5 9,6 8,6 8,6 6,6 5,7 5,7 3,7 3,7 3,7 2,6 1,6 2,6 1,5 2,6 1,5 1,5zM346,338l1,6 0,6 1,6 0,7 1,7 0,8 0,9 0,10 -1,11 -2,12 -2,15 -4,16 -10,7 -16-14 -12-8 -10-6 -8-7 -7-5 -7-5 -6-5 -5-4 -6-5 -5-4 -4-4 -5-4 -5-4 -5-4 -5-4 -5-5 -6-5 -5-5 -5-7 -6-7 -7-8 -9-10 -8-11 -7-13 -1-12 2-12 5-11 7-11 8-9 9-7 10-7 11-6 11-4 11-3 12,0 12,1 11,4 10,4 9,6 9,6 7,6 7,6 6,7 5,7 4,7 3,7 3,7 2,6 2,7 1,6 1,6 1,6 1,6 1,5zM346,338l1,6 1,6 1,6 1,7 0,8 1,8 0,10 -1,10 -1,11 -1,12 -3,15 -4,16 -10,6 -17-14 -11-8 -10-7 -9-7 -7-5 -7-6 -6-4 -5-4 -6-4 -5-4 -5-4 -5-3 -5-4 -6-4 -5-5 -6-4 -6-5 -5-6 -6-7 -6-8 -7-8 -9-10 -8-11 -6-13 0-13 3-12 5-11 7-10 8-9 10-8 10-6 11-6 11-4 11-3 12,0 12,2 11,3 10,5 9,5 9,6 7,7 7,6 5,7 5,7 4,7 3,7 2,7 2,7 2,6 1,6 2,6 1,5 1,6 1,5zM348,338l1,6 1,6 1,7 0,7 1,8 0,8 0,9 -1,10 -1,12 -2,12 -2,15 -4,17 -10,6 -17-14 -12-8 -10-8 -9-6 -7-6 -7-5 -6-5 -6-5 -5-4 -5-4 -5-4 -5-4 -5-4 -5-4 -6-4 -6-4 -6-5 -6-6 -6-7 -7-7 -8-9 -10-10 -9-12 -6-14 -2-13 3-13 5-12 8-11 9-9 10-8 11-6 12-6 11-4 13-2 12,1 12,2 11,3 11,5 10,6 8,6 8,7 6,6 6,7 5,7 4,7 4,7 2,7 3,7 2,6 1,6 2,6 1,6 1,6 1,6zM349,338l1,6 1,6 0,7 1,7 1,8 0,9 0,9 -1,10 -1,12 -1,13 -3,15 -4,17 -10,6 -17-14 -13-8 -10-7 -9-7 -8-6 -7-5 -6-5 -6-4 -5-4 -5-4 -5-5 -5-4 -5-4 -5-5 -6-4 -5-5 -6-5 -5-6 -6-7 -6-8 -8-8 -10-10 -10-12 -6-14 -1-13 2-13 5-12 7-10 9-10 10-8 11-7 11-6 12-4 12-3 12,0 12,1 12,4 11,4 10,6 9,6 8,7 7,7 6,7 5,8 4,7 3,8 3,7 2,7 2,7 1,6 1,6 1,6 1,6 1,6zM349,338l0,6 1,6 0,7 0,7 1,7 0,8 0,10 0,10 -1,11 -2,13 -2,15 -4,17 -10,7 -17-15 -12-8 -10-6 -9-7 -8-5 -7-5 -6-5 -6-4 -5-4 -6-4 -5-4 -5-4 -5-4 -6-5 -5-4 -6-5 -7-5 -6-6 -6-7 -7-8 -9-9 -10-11 -10-12 -6-14 -1-14 3-13 5-13 8-11 9-9 11-8 12-6 12-6 12-4 12-2 13,0 12,2 12,4 11,5 10,6 9,6 8,6 7,7 6,7 5,7 4,8 4,7 3,7 2,7 2,7 1,6 1,7 1,6 1,6 0,6zM349,338l1,6 0,6 1,7 0,7 0,7 0,9 0,9 0,10 -1,11 -2,13 -2,15 -3,18 -11,6 -17-15 -12-8 -10-7 -9-6 -8-5 -7-5 -6-5 -6-4 -5-4 -6-4 -5-4 -6-4 -5-4 -6-4 -5-5 -6-5 -7-5 -6-6 -6-7 -7-8 -8-9 -11-11 -10-12 -6-15 -1-14 3-13 5-12 8-11 10-10 11-8 11-6 12-6 12-4 13-2 13,0 12,2 12,4 11,5 10,6 9,6 8,7 7,6 6,8 5,7 4,8 4,7 3,7 2,7 2,7 1,6 1,7 1,6 1,6 1,6zM350,338l0,6 1,7 0,6 1,7 0,8 0,8 0,10 0,10 -1,11 -2,14 -2,15 -4,17 -10,7 -17-15 -13-8 -10-7 -9-7 -8-5 -7-6 -6-4 -6-5 -6-4 -5-4 -5-4 -5-4 -6-4 -5-4 -6-5 -6-5 -6-5 -6-6 -7-7 -7-8 -9-9 -10-11 -10-13 -7-14 -1-14 3-13 6-13 7-11 10-9 11-8 12-7 12-5 12-4 13-2 13,0 12,2 12,3 11,5 10,6 9,6 8,7 7,7 6,7 6,7 4,8 3,7 3,8 3,7 1,7 2,6 1,7 1,6 1,6 0,6zM351,338l1,6 0,7 1,6 0,8 0,7 0,9 0,9 0,11 -1,11 -2,14 -2,15 -4,18 -11,6 -17-15 -13-8 -10-7 -9-6 -8-6 -7-5 -6-5 -6-5 -6-4 -5-4 -5-4 -6-5 -5-4 -5-4 -6-5 -6-5 -6-5 -7-6 -6-7 -8-8 -9-9 -11-11 -10-13 -7-14 -1-15 3-13 5-13 8-11 10-10 11-8 13-7 12-5 12-4 13-1 13,0 13,2 12,3 11,6 10,6 9,6 8,6 7,7 7,7 5,8 4,7 4,8 3,7 2,7 2,7 2,7 1,6 1,6 1,7 1,6zM351,338l1,6 1,7 0,7 1,7 1,8 0,9 0,10 0,10 -1,12 -2,14 -3,15 -4,18 -11,7 -17-16 -13-8 -11-7 -9-7 -8-6 -7-5 -7-5 -6-5 -5-4 -6-4 -5-5 -5-4 -6-4 -5-5 -6-4 -6-5 -6-6 -6-6 -7-7 -8-8 -9-9 -11-11 -11-13 -7-15 -1-15 3-13 6-13 8-11 10-10 11-8 13-7 12-5 13-3 13-2 13,0 13,3 12,4 11,5 10,6 9,7 8,7 7,7 6,7 5,8 4,7 3,8 3,7 2,7 2,6 2,7 1,6 1,6 2,6 1,6zM353,338l2,7 1,6 0,8 1,7 0,8 0,9 0,10 -1,11 -1,12 -2,13 -3,15 -5,17 -11,7 -18-16 -12-9 -11-7 -9-7 -8-6 -7-5 -6-5 -6-5 -6-4 -6-4 -5-4 -5-4 -6-4 -6-4 -5-5 -6-5 -7-5 -6-7 -7-7 -7-8 -10-9 -11-11 -11-13 -7-15 -1-15 3-14 6-12 8-12 10-10 12-8 12-7 12-5 13-4 13-2 14,0 13,3 12,3 11,6 10,6 9,6 8,7 8,8 6,7 5,8 4,8 3,7 3,8 3,7 2,6 2,7 1,6 2,6 1,6 1,7zM353,338l0,6 1,7 0,7 0,7 1,8 0,9 0,9 -1,11 -1,12 -1,13 -3,16 -4,18 -11,7 -17-15 -13-9 -11-7 -9-6 -8-5 -7-5 -7-5 -6-5 -6-4 -6-4 -6-4 -5-5 -6-4 -5-5 -6-5 -6-5 -7-6 -6-6 -7-7 -8-9 -10-9 -12-11 -11-14 -7-16 -1-15 3-14 6-13 9-12 10-10 12-8 13-7 13-5 13-3 14-2 13,1 13,2 13,4 11,5 10,6 10,7 8,6 7,8 7,7 5,8 5,8 3,7 3,8 3,7 2,7 2,7 1,7 1,6 1,6 0,7zM353,338l1,6 1,7 1,7 1,8 0,8 0,10 0,9 0,11 -2,12 -2,14 -3,15 -4,18 -11,6 -18-16 -13-9 -11-7 -9-7 -8-6 -7-6 -7-4 -6-5 -5-4 -6-4 -6-4 -5-4 -6-4 -6-4 -6-5 -7-5 -6-5 -7-7 -7-7 -8-8 -10-10 -12-12 -11-13 -7-16 -1-15 4-14 6-13 9-12 10-10 12-8 13-6 13-6 13-4 13-2 14,1 13,1 12,4 12,5 11,6 9,7 9,7 7,7 6,8 6,8 4,8 3,8 3,8 2,7 2,7 2,7 1,7 1,6 1,6 1,7zM354,338l1,7 1,6 1,8 0,7 0,8 0,9 0,10 -1,11 -1,11 -3,14 -2,15 -4,18 -12,6 -17-16 -13-8 -11-7 -9-7 -8-5 -7-5 -7-5 -6-4 -6-4 -6-4 -6-4 -6-4 -5-5 -6-4 -6-5 -6-6 -7-5 -6-7 -7-7 -7-9 -10-9 -12-12 -12-13 -7-16 -1-15 3-14 6-13 9-12 10-11 12-8 13-7 13-5 13-4 14-2 14,1 13,2 12,4 12,5 10,7 10,7 8,7 7,7 7,8 5,8 4,8 4,8 3,7 2,8 2,6 2,7 2,7 1,6 1,6 1,7zM355,338l0,7 1,6 0,8 1,7 0,8 0,9 0,10 0,11 -2,12 -1,14 -3,16 -4,18 -11,7 -19-16 -13-9 -11-7 -9-7 -8-6 -7-6 -7-5 -6-5 -6-4 -5-4 -6-4 -5-5 -6-4 -6-4 -6-5 -7-5 -7-5 -7-7 -8-7 -9-8 -10-10 -13-12 -13-15 -7-16 -1-15 3-15 7-14 9-12 11-10 13-8 14-7 13-4 14-4 15-1 13,1 14,2 12,4 12,5 11,6 9,7 9,7 7,7 7,8 6,7 4,8 4,8 3,8 3,7 2,8 2,7 1,7 1,6 1,7 0,6zM356,338l1,7 0,7 1,7 0,8 0,8 0,9 0,10 0,11 -1,13 -2,14 -3,16 -4,19 -11,7 -19-16 -13-9 -11-7 -10-7 -8-6 -8-5 -7-5 -7-5 -6-4 -6-5 -5-4 -6-5 -6-4 -6-5 -6-5 -6-6 -7-5 -7-7 -9-7 -9-9 -12-10 -14-13 -14-15 -8-17 -1-16 3-16 7-15 10-13 11-11 14-8 14-7 15-4 15-3 15-1 15,1 14,3 13,4 12,6 11,7 10,7 8,7 8,8 7,8 5,8 5,8 4,8 3,8 3,8 2,7 2,7 1,7 1,7 1,7 1,6zM357,338l1,7 0,7 1,7 0,8 0,9 0,9 0,10 0,11 -1,13 -2,14 -3,16 -4,19 -12,7 -19-17 -13-9 -11-8 -10-7 -8-6 -8-5 -7-6 -6-4 -6-5 -6-4 -5-5 -6-4 -6-4 -6-5 -6-5 -7-5 -7-5 -8-7 -8-7 -10-9 -12-10 -14-13 -14-15 -8-17 -1-17 4-15 7-15 10-13 11-10 14-9 15-6 14-5 15-3 15-1 15,1 14,3 13,4 12,5 11,6 10,7 9,7 8,8 7,8 6,8 5,8 4,9 3,8 2,8 3,7 1,8 1,7 1,7 1,7 1,6zM359,338l0,7 1,7 0,8 1,8 0,8 0,10 0,10 -1,11 -2,12 -2,14 -3,16 -4,19 -12,7 -19-18 -13-9 -12-8 -9-6 -8-6 -8-6 -7-4 -6-5 -6-4 -7-4 -6-4 -6-4 -6-4 -6-5 -7-5 -7-5 -7-6 -8-7 -8-8 -10-9 -12-10 -14-13 -14-16 -8-17 -1-17 5-15 7-15 10-13 12-11 14-8 14-7 15-5 15-3 15-1 15,1 14,2 14,4 12,6 11,6 10,7 10,8 8,7 7,9 5,8 5,9 4,8 3,8 3,8 2,8 2,7 1,8 1,6 1,7 1,7zM361,338l0,7 1,8 0,7 1,8 0,9 -1,10 0,10 -1,11 -2,12 -2,14 -3,16 -5,19 -12,7 -19-18 -13-9 -11-8 -10-7 -8-6 -8-5 -7-5 -6-4 -7-5 -6-4 -6-3 -6-5 -7-4 -6-4 -7-5 -7-6 -7-6 -8-7 -9-7 -10-9 -12-11 -15-13 -14-16 -9-18 0-17 4-16 8-15 10-13 12-11 14-9 16-6 15-5 16-2 15-1 15,1 14,3 14,4 12,5 11,7 10,7 10,8 8,8 6,8 6,8 5,9 4,8 4,8 2,8 3,7 2,8 1,7 1,7 2,7 1,7zM358,338l0,7 0,7 1,7 0,8 1,9 0,9 0,11 0,11 -1,13 -2,15 -3,17 -4,19 -12,8 -19-17 -14-9 -11-8 -10-7 -9-6 -8-6 -7-5 -6-5 -6-5 -6-4 -6-5 -6-5 -6-4 -6-5 -7-5 -7-5 -7-6 -8-7 -9-8 -10-8 -13-11 -15-13 -15-16 -8-18 -1-17 4-17 8-15 10-13 12-11 15-9 15-6 16-4 15-3 16,0 15,1 14,3 14,4 12,5 11,7 11,7 9,7 8,7 7,9 6,8 5,8 4,9 3,8 3,8 2,8 2,8 1,7 0,7 1,7 0,7zM359,338l1,7 0,7 1,8 0,8 0,8 0,10 0,10 -1,12 -1,12 -2,15 -3,16 -4,19 -12,7 -19-17 -14-9 -11-8 -10-7 -9-6 -7-6 -7-5 -7-4 -6-5 -6-4 -6-5 -6-4 -6-4 -6-5 -7-5 -7-5 -7-6 -8-7 -9-8 -10-8 -13-11 -15-13 -15-16 -9-18 -1-18 5-16 7-15 10-13 13-12 14-8 15-7 16-4 16-3 15-1 15,2 15,2 13,4 13,6 11,7 11,7 9,8 8,8 7,8 6,8 5,9 4,8 3,8 3,8 2,8 2,8 1,7 1,7 1,7 1,7zM360,338l1,7 0,7 1,8 0,8 1,9 0,10 0,10 -1,12 -1,13 -2,15 -4,16 -4,20 -12,7 -20-18 -14-9 -11-8 -10-7 -9-7 -7-6 -7-5 -7-6 -6-4 -5-5 -6-5 -6-4 -6-5 -6-4 -6-5 -7-5 -8-6 -8-6 -9-8 -11-8 -14-11 -15-13 -16-17 -9-18 -1-17 4-17 8-15 10-14 13-11 15-9 16-6 16-4 16-2 15-1 16,2 14,3 14,4 12,6 11,7 10,8 9,7 8,8 7,8 6,9 5,8 4,8 3,8 3,8 3,8 1,7 2,7 1,7 1,7 1,7zM360,338l1,7 0,7 1,8 0,8 0,9 0,9 0,11 -1,11 -1,13 -2,14 -3,17 -5,19 -12,7 -19-17 -14-10 -11-8 -10-7 -9-6 -7-6 -7-5 -7-5 -6-4 -6-5 -6-4 -6-4 -6-5 -6-4 -6-5 -7-5 -8-6 -8-7 -9-7 -11-9 -13-11 -16-13 -15-17 -9-18 -1-17 4-17 8-15 10-14 13-11 14-9 16-7 16-4 16-3 16,0 15,1 15,3 13,4 13,6 12,7 10,7 9,8 8,8 7,8 6,9 5,8 4,9 4,8 2,8 3,8 1,7 2,8 1,7 1,7 1,7zM359,338l1,7 0,7 1,8 0,8 1,9 0,9 0,11 -1,11 -1,14 -2,14 -3,17 -4,20 -12,7 -20-17 -13-10 -12-7 -10-7 -9-6 -8-6 -7-5 -6-5 -7-5 -6-5 -6-4 -6-5 -6-5 -6-4 -6-6 -7-5 -8-6 -8-7 -9-7 -10-9 -13-11 -16-13 -15-17 -9-18 -1-17 4-17 8-15 10-14 13-11 14-9 16-6 16-5 16-3 16,0 15,1 15,2 13,4 13,6 12,6 10,8 10,7 8,8 7,8 6,9 5,9 4,9 4,8 2,8 2,8 2,8 1,8 1,7 0,7 1,7z" stroke-opacity="0.20" stroke-width="0.35"/><path d="M303,338l0,2 1,2 1,2 0,2 1,3 1,3 0,4 1,4 0,5 0,5 0,7 -2,6 -3,4 -5-1 -5-2 -5-4 -4-4 -3-3 -3-4 -2-3 -2-2 -2-2 -1-3 -1-2 -1-2 -1-2 -1-2 -1-2 0-2 -1-2 1-2 0-2 1-1 0-2 0-2 0-1 0-2 -1-2 -1-2 0-3 -1-3 0-3 -1-5 0-5 0-5 2-6 3-3 4-1 4,1 4,3 4,4 3,3 2,4 2,2 2,3 2,2 1,2 1,2 1,2 1,2 0,2 1,1 0,2 1,1 0,2 1,2 0,1zM306,338l0,2 1,2 1,3 0,2 1,3 1,4 0,4 0,4 1,5 0,6 -1,7 -2,6 -4,4 -6-1 -5-3 -5-4 -4-5 -3-4 -3-3 -2-3 -2-3 -2-2 -2-2 -1-2 -1-2 -1-2 -2-2 -1-2 -1-2 -1-1 0-3 1-2 0-2 1-2 0-2 -1-2 0-2 -1-3 -1-2 0-3 0-4 -1-3 0-5 1-5 0-6 2-5 3-4 5,0 5,1 4,3 4,4 3,4 3,3 2,3 2,3 1,2 2,2 1,3 1,2 1,2 0,2 1,1 1,2 1,2 0,1 1,2 1,2zM307,338l1,2 0,3 1,2 0,3 1,3 1,4 1,4 1,5 0,6 0,7 0,7 -2,8 -4,4 -7-2 -6-3 -5-4 -5-4 -4-4 -3-4 -3-3 -2-3 -2-3 -2-2 -2-3 -1-2 -1-2 -2-3 -1-2 -2-2 -1-2 0-3 1-2 0-3 1-2 0-2 0-2 -1-3 -1-3 0-3 0-3 0-3 0-4 1-5 0-5 1-5 2-5 4-4 4-1 5,1 5,3 4,4 3,3 3,3 3,3 2,2 2,2 2,3 2,2 1,2 1,3 1,2 0,2 1,2 1,3 0,2 0,2 1,2zM310,338l1,2 0,3 1,3 0,3 1,3 0,4 1,4 0,5 0,6 0,7 -1,7 -2,8 -4,5 -7-3 -6-3 -5-4 -5-4 -4-4 -3-3 -3-3 -3-3 -2-2 -2-3 -2-3 -2-2 -1-3 -1-2 -1-3 -2-2 -1-3 1-3 1-2 1-3 1-2 0-2 0-2 -1-3 -1-3 0-3 -1-3 0-3 0-4 1-5 0-5 1-6 2-5 3-4 5-1 5,1 5,3 4,4 3,4 3,3 3,3 2,2 2,3 2,2 1,2 2,3 1,2 1,2 1,2 1,2 1,2 1,2 1,2 1,3zM315,338l1,3 1,3 1,4 0,3 1,4 0,5 1,5 0,6 0,6 -1,8 -1,8 -2,10 -5,4 -9-4 -7-4 -6-5 -5-5 -4-4 -4-3 -4-4 -3-2 -2-3 -3-2 -3-3 -2-3 -2-2 -2-3 -3-2 -2-3 -2-3 0-4 0-3 1-4 0-3 1-3 0-3 -2-4 0-4 0-4 0-4 1-4 1-5 2-4 1-6 2-6 3-6 4-3 6-2 5,1 6,3 5,4 4,3 4,4 3,3 3,3 3,3 2,3 2,3 2,3 1,3 1,3 1,3 1,2 1,3 1,3 1,2 1,3zM318,338l1,3 0,4 0,3 1,4 0,4 0,4 0,6 1,5 0,7 -1,8 -1,9 -2,10 -5,5 -9-5 -7-4 -7-5 -5-4 -5-4 -4-4 -3-3 -4-3 -3-2 -3-3 -2-3 -3-3 -2-3 -2-2 -3-3 -2-3 -2-3 0-4 1-4 1-4 0-3 0-3 1-4 -2-3 0-4 0-5 0-4 1-4 2-4 1-5 2-6 1-6 3-6 5-4 5-1 6,0 6,2 5,4 5,3 4,3 3,3 4,3 3,3 3,3 2,3 2,3 2,4 1,3 1,3 1,3 1,3 1,4 0,3 1,3zM318,338l1,3 1,4 0,3 1,4 1,5 0,5 1,5 0,7 0,7 0,9 -1,9 -2,10 -6,5 -10-5 -8-4 -6-5 -6-5 -5-4 -4-4 -4-3 -3-3 -4-3 -3-3 -2-3 -3-3 -3-3 -2-3 -2-3 -3-3 -3-3 0-4 1-4 0-4 0-4 0-4 0-3 -1-5 -1-4 0-5 1-4 1-5 2-5 2-5 2-5 2-7 3-5 5-4 6-2 6,1 6,2 6,4 5,4 4,3 4,3 3,4 3,3 3,3 2,4 2,4 1,3 2,3 1,4 1,3 0,3 1,3 1,3 0,3zM320,338l0,3 1,4 0,4 1,4 0,4 1,5 0,6 1,6 0,8 -1,8 -1,10 -2,10 -6,5 -10-6 -8-4 -6-5 -6-5 -5-5 -4-4 -4-3 -3-3 -3-3 -3-3 -3-3 -2-3 -3-3 -3-2 -2-3 -3-3 -3-3 -1-4 0-4 0-4 0-4 -1-4 0-4 -2-5 -1-5 0-5 1-5 1-5 2-5 3-5 2-6 3-6 4-6 5-4 6-1 7,1 6,2 6,4 5,4 5,3 4,4 3,3 4,3 3,4 2,4 2,4 1,3 2,4 1,3 1,4 1,3 0,3 1,3 0,4zM322,338l0,4 1,3 0,4 1,4 0,5 1,5 0,6 0,6 0,8 -1,8 -1,10 -2,11 -6,5 -10-6 -8-4 -7-5 -6-4 -5-4 -5-4 -4-3 -4-3 -4-3 -3-2 -3-4 -3-3 -3-3 -3-3 -3-4 -2-3 -3-4 0-4 0-5 1-4 0-4 -1-4 0-4 -2-5 -1-5 1-6 1-5 1-5 2-5 3-5 2-6 3-6 4-6 5-4 7-1 7,1 6,2 6,4 5,4 5,4 4,4 3,3 4,4 2,3 3,4 1,4 2,3 2,4 1,3 1,3 1,4 1,3 1,3 1,4zM321,338l1,3 1,4 1,4 1,5 0,5 1,5 1,6 0,7 0,8 -1,9 -1,10 -2,12 -7,5 -10-7 -9-5 -7-5 -6-5 -5-4 -5-4 -4-3 -4-3 -4-3 -3-3 -4-3 -3-3 -3-3 -2-4 -3-3 -3-4 -3-3 0-5 0-4 0-5 0-4 -1-4 -1-5 -2-5 -1-6 0-5 1-6 2-6 2-5 2-6 3-6 3-7 4-7 6-4 7-2 7,1 7,2 7,4 6,5 5,4 4,4 4,5 4,4 2,4 2,5 2,4 1,5 1,4 1,3 1,4 0,3 1,3 1,3 1,4zM324,338l1,4 1,4 1,4 0,5 1,5 1,6 0,6 0,7 0,8 -1,9 -2,10 -2,11 -7,5 -11-7 -9-5 -7-6 -6-5 -5-4 -5-4 -4-4 -4-3 -4-3 -3-2 -3-3 -4-3 -3-3 -3-3 -3-3 -4-4 -3-3 -1-5 0-5 0-4 -1-5 -1-5 0-5 -3-5 0-6 0-6 2-5 2-6 3-5 3-5 3-6 3-7 5-6 6-4 6-1 8,1 7,2 6,4 6,4 5,4 4,4 4,4 4,3 3,5 2,4 2,4 2,4 1,4 1,4 1,3 1,4 1,3 1,4 1,3zM326,338l1,4 0,4 1,4 0,5 1,5 0,6 1,6 0,8 0,8 -1,10 -1,11 -3,12 -7,6 -11-8 -9-5 -7-5 -7-6 -6-4 -5-5 -4-4 -4-3 -4-4 -3-3 -3-4 -3-3 -3-3 -3-3 -3-3 -4-4 -3-3 -2-5 0-5 -1-4 -1-5 -2-5 -2-5 -3-7 0-6 0-6 2-6 3-6 3-6 3-5 4-6 4-6 5-6 6-4 8-1 7,0 7,3 7,3 6,4 5,4 5,3 5,4 4,4 3,4 3,5 3,4 2,4 1,5 2,4 1,4 0,4 1,4 0,4 1,4zM325,338l1,4 0,4 1,4 1,5 0,5 1,6 1,6 0,8 0,8 -1,10 -1,11 -2,13 -7,5 -12-8 -9-5 -7-5 -7-5 -6-5 -5-4 -4-4 -4-4 -4-3 -4-3 -3-3 -3-3 -4-4 -3-3 -4-3 -3-4 -4-3 -1-5 -1-5 -1-5 -1-5 -2-5 -1-6 -3-6 0-7 1-6 2-6 2-6 4-6 4-5 3-6 4-7 6-5 6-4 7-2 8,1 7,2 7,3 6,4 6,4 5,4 5,3 4,4 3,5 3,5 2,4 2,5 2,5 1,4 1,4 0,4 0,4 1,4 0,4zM327,338l1,4 0,4 1,5 1,5 1,5 0,6 0,7 0,7 0,9 -1,9 -1,12 -3,12 -7,6 -11-8 -9-5 -8-6 -7-5 -6-4 -5-4 -5-4 -4-3 -4-4 -4-3 -3-4 -3-3 -3-4 -3-4 -3-3 -4-4 -3-4 -1-4 -1-5 -1-5 -1-5 -2-5 -2-6 -3-6 -1-7 0-7 1-7 3-6 3-6 4-6 4-6 4-7 6-6 7-3 7-1 8,1 8,3 7,4 6,5 5,5 5,4 4,5 4,4 3,5 2,4 2,5 2,4 2,4 1,4 1,3 2,4 1,4 1,3 1,4zM325,338l0,4 1,4 1,4 1,5 1,5 1,7 1,7 1,8 0,9 0,10 -2,12 -2,13 -8,6 -12-8 -9-6 -8-5 -7-6 -6-5 -5-4 -5-5 -4-4 -4-3 -3-4 -4-4 -3-3 -3-3 -3-4 -3-3 -4-4 -4-3 -2-5 -1-5 -1-5 -2-5 -2-5 -1-6 -3-7 -1-7 1-6 2-7 3-6 4-6 4-5 4-6 4-6 6-6 6-4 8-1 7,0 8,2 7,3 6,4 6,4 5,4 5,4 4,4 4,4 3,5 2,5 2,5 1,5 1,5 1,4 0,4 0,5 0,3 1,4zM329,338l0,4 0,4 1,5 0,5 0,5 1,6 0,7 1,8 0,8 -1,11 -1,11 -2,14 -8,6 -12-9 -9-5 -8-6 -7-5 -6-4 -5-5 -5-4 -4-3 -4-4 -4-3 -4-4 -3-4 -3-3 -4-4 -3-3 -4-4 -4-4 -2-4 -1-6 -2-5 -2-5 -2-6 -2-6 -4-7 -1-8 1-7 2-7 4-6 3-6 5-6 5-6 5-6 6-6 7-3 8-1 8,1 8,2 7,4 6,4 6,4 6,4 4,4 5,4 3,5 3,5 3,4 2,5 2,5 1,4 2,5 0,4 1,5 0,4 0,4zM330,338l1,4 1,5 1,5 0,5 1,6 1,6 0,7 0,9 0,9 -1,10 -2,12 -3,13 -8,6 -12-10 -10-6 -8-6 -7-5 -6-5 -5-4 -5-4 -5-4 -4-3 -4-3 -4-4 -3-3 -4-3 -4-4 -4-4 -4-3 -4-4 -2-6 -1-5 -2-5 -2-6 -3-6 -3-7 -3-8 -1-7 1-8 3-7 3-7 4-6 5-6 5-7 5-6 7-6 7-4 9-1 8,1 8,2 8,4 7,5 6,4 6,5 5,4 4,5 3,5 3,6 3,5 2,5 1,5 1,4 1,5 1,4 1,4 1,5 1,4zM334,338l1,5 0,5 1,5 0,5 0,6 0,6 0,7 0,8 -1,9 -1,11 -1,12 -3,13 -8,6 -13-10 -10-5 -8-6 -7-5 -6-5 -6-4 -5-4 -5-3 -4-4 -4-3 -4-4 -4-4 -3-4 -4-3 -3-4 -4-4 -4-4 -2-6 -1-5 -2-5 -2-6 -4-6 -3-7 -4-8 -1-8 1-8 2-7 4-8 4-7 5-6 5-6 6-7 6-5 8-4 9-1 9,1 8,2 8,5 7,4 6,5 6,5 5,4 4,5 4,5 3,5 3,6 2,4 2,5 2,5 1,4 2,5 1,4 1,5 1,4zM333,338l1,5 1,4 0,6 1,5 0,6 1,7 0,7 0,8 -1,9 -1,11 -1,12 -3,14 -8,6 -13-10 -10-6 -9-6 -7-5 -6-5 -6-5 -5-4 -5-3 -4-4 -4-3 -4-4 -3-4 -4-4 -4-3 -4-4 -4-4 -4-4 -2-5 -2-6 -2-5 -3-6 -4-6 -3-8 -4-8 -1-8 1-8 3-8 3-7 5-7 6-6 5-7 6-6 7-5 8-4 9,0 9,1 8,3 8,4 7,5 6,5 6,4 5,5 4,5 4,5 3,5 2,5 2,5 2,5 2,4 1,5 2,4 1,5 1,4 0,5zM331,338l1,4 1,5 1,5 1,6 1,6 0,6 1,8 0,8 0,10 -1,11 -2,12 -3,14 -8,6 -13-10 -10-6 -9-6 -7-5 -6-5 -6-5 -5-4 -5-4 -4-4 -4-3 -4-4 -3-4 -4-4 -4-3 -4-4 -4-4 -4-4 -2-5 -2-6 -3-5 -3-6 -3-7 -4-7 -4-8 -1-9 1-8 3-8 3-7 5-7 6-6 5-7 6-6 7-6 8-3 9-1 9,1 9,2 8,5 7,4 7,5 5,5 5,5 5,5 3,6 3,5 3,6 1,5 2,5 1,5 1,4 1,5 1,4 1,4 1,5zM332,338l1,5 1,4 1,5 0,6 1,6 0,6 1,8 0,8 -1,10 0,10 -2,12 -3,14 -8,6 -13-10 -10-6 -9-6 -7-5 -6-5 -6-5 -5-4 -4-4 -5-3 -4-3 -4-4 -4-3 -4-4 -4-4 -4-3 -4-4 -5-4 -2-6 -2-5 -3-6 -3-6 -4-7 -3-7 -4-9 -1-8 1-9 3-8 4-7 5-7 6-6 6-7 6-6 7-5 8-4 9-1 9,1 9,2 8,5 7,4 7,5 6,5 5,5 5,5 3,5 3,6 3,5 2,6 2,5 1,5 1,5 1,4 1,5 0,4 1,5zM334,338l0,5 1,4 0,6 1,5 0,6 1,7 0,7 0,8 0,10 -1,11 -2,12 -3,14 -8,6 -13-10 -10-6 -9-5 -7-6 -6-5 -6-4 -5-4 -5-4 -4-4 -5-3 -4-4 -3-4 -4-4 -4-3 -4-4 -4-4 -4-4 -3-6 -2-5 -3-6 -3-6 -4-7 -3-7 -4-9 -1-8 1-9 3-8 4-7 5-7 6-6 6-6 6-6 7-6 9-3 8-1 9,1 9,3 8,4 7,5 7,4 5,5 6,5 4,4 4,5 3,6 3,5 3,5 1,5 2,5 1,5 1,5 1,4 1,5 0,4zM338,338l1,5 0,5 1,6 0,6 1,6 0,7 0,8 -1,8 0,10 -2,11 -2,12 -3,15 -9,5 -13-11 -11-7 -9-6 -7-5 -6-5 -6-5 -5-4 -5-3 -5-3 -5-4 -4-3 -4-4 -5-3 -4-4 -5-4 -5-4 -5-4 -3-6 -2-6 -3-6 -4-7 -5-7 -4-9 -4-9 -1-10 2-9 4-8 4-8 6-7 7-7 7-6 7-6 8-5 8-3 10-1 9,1 10,2 8,5 8,4 7,5 6,5 5,5 5,6 4,5 4,6 2,5 3,6 2,5 2,5 1,6 1,4 1,5 1,5 1,5zM336,338l1,5 0,5 1,5 0,6 1,6 1,7 0,8 0,9 0,10 -1,12 -2,13 -3,15 -9,6 -14-11 -10-7 -9-6 -8-5 -7-6 -6-4 -5-4 -5-4 -5-4 -4-4 -5-3 -4-4 -4-4 -5-4 -4-4 -5-4 -5-4 -3-6 -3-6 -3-6 -4-7 -5-8 -4-8 -4-10 -1-9 2-9 4-9 5-8 6-7 6-6 7-6 7-7 8-5 9-3 10-1 9,1 9,2 9,4 8,4 7,5 6,5 6,5 5,5 5,6 3,6 3,6 2,6 2,5 2,6 1,5 0,5 1,6 0,4 1,5zM339,338l0,5 1,5 0,6 1,6 0,6 0,7 0,8 0,9 -1,10 -1,11 -2,13 -3,14 -9,6 -14-11 -11-7 -8-6 -8-6 -7-5 -6-4 -5-4 -5-4 -5-3 -4-4 -5-3 -4-4 -5-3 -4-4 -5-4 -4-5 -5-4 -4-6 -3-6 -3-6 -5-7 -5-8 -5-9 -4-10 -1-9 2-10 3-9 5-8 6-8 7-7 7-6 8-6 8-6 10-3 10-1 10,2 9,2 9,5 8,5 7,5 7,5 5,6 5,5 4,6 4,6 3,6 2,6 2,5 2,6 1,5 1,5 1,5 1,5 1,5zM339,338l1,5 1,6 1,5 0,7 1,6 0,7 0,8 -1,9 0,10 -2,12 -2,13 -3,15 -9,6 -14-12 -11-7 -9-6 -8-5 -7-5 -6-5 -6-4 -5-3 -5-4 -5-3 -5-4 -4-4 -5-4 -4-4 -5-4 -4-4 -5-5 -4-6 -3-6 -4-7 -4-7 -6-8 -5-9 -5-10 0-11 1-10 4-9 5-9 6-8 8-6 7-7 8-6 9-5 10-4 10,0 10,1 10,3 9,5 8,5 7,5 7,6 6,6 5,6 4,6 3,6 3,6 2,6 2,6 1,5 2,5 1,5 1,5 1,5 1,5zM338,338l1,5 1,5 1,6 0,6 1,7 1,7 0,9 0,9 0,11 -1,11 -2,14 -4,15 -9,6 -15-12 -11-7 -9-7 -8-6 -7-5 -6-5 -5-5 -5-4 -5-4 -5-3 -4-4 -5-3 -4-4 -5-3 -5-4 -5-4 -6-5 -4-6 -3-6 -5-7 -4-7 -6-8 -5-10 -5-10 0-10 2-10 4-9 6-9 7-7 7-7 8-6 8-6 9-5 9-3 10-1 10,1 10,2 9,4 8,5 8,5 7,5 6,5 5,6 5,6 3,6 3,6 3,7 1,6 2,6 1,5 0,6 1,5 0,5 1,5zM340,338l1,5 1,6 1,6 0,6 1,7 0,7 0,8 0,10 -1,10 -1,11 -3,13 -3,15 -9,6 -15-12 -11-7 -9-6 -8-6 -7-5 -6-5 -6-4 -5-4 -5-3 -5-3 -5-4 -4-4 -5-3 -4-4 -5-5 -5-4 -5-5 -3-6 -3-6 -4-7 -4-7 -6-8 -5-9 -4-10 -1-11 2-9 4-10 5-8 6-8 7-7 8-6 7-7 9-5 10-4 10-1 10,1 10,2 9,4 8,5 8,6 7,5 6,6 5,6 4,6 3,7 3,6 2,7 2,6 2,5 1,6 1,5 1,5 1,5 1,5zM344,338l1,6 1,6 1,6 0,7 1,7 0,8 0,8 -1,10 -1,10 -1,12 -3,14 -3,16 -10,6 -16-13 -11-8 -10-6 -8-6 -7-6 -7-4 -5-5 -6-4 -5-3 -5-4 -5-4 -5-4 -5-4 -5-4 -5-4 -5-5 -5-5 -4-6 -4-6 -5-7 -5-8 -7-9 -6-10 -5-11 -1-12 2-10 5-10 5-9 8-9 8-7 9-6 9-6 9-5 10-3 11-1 11,1 10,3 10,4 9,5 8,6 7,6 6,5 6,7 4,6 4,7 3,7 2,6 3,6 1,6 2,6 1,5 1,6 1,5 1,6zM345,338l0,6 1,6 0,6 0,6 1,7 0,8 0,8 -1,10 0,10 -2,13 -2,13 -4,16 -9,7 -16-13 -11-8 -10-6 -8-6 -7-6 -6-5 -6-4 -6-4 -5-4 -5-4 -4-4 -5-4 -4-4 -5-4 -5-4 -5-5 -5-4 -5-6 -4-7 -5-6 -6-8 -8-9 -7-10 -5-12 -1-11 2-11 4-11 6-9 7-9 9-7 9-6 9-6 10-5 11-3 11,0 11,1 10,3 10,5 9,5 8,5 7,6 6,6 6,6 5,6 4,7 3,6 3,7 2,6 2,6 1,6 2,6 1,5 0,6 1,5zM344,338l0,6 1,5 1,7 0,6 1,7 0,8 0,9 0,9 -1,11 -1,12 -3,14 -3,16 -10,7 -16-13 -11-8 -10-7 -8-6 -7-5 -7-5 -5-5 -6-4 -5-4 -5-3 -5-4 -5-4 -5-4 -5-4 -5-4 -5-5 -6-4 -5-6 -4-7 -6-7 -6-8 -8-9 -7-11 -5-12 -1-12 3-11 4-10 7-10 8-8 9-7 9-7 10-6 10-4 11-3 11,0 11,1 10,3 10,5 9,5 8,5 7,6 7,6 5,6 5,7 4,6 3,7 3,7 2,6 2,6 1,6 1,6 1,6 1,5 0,6zM346,338l1,6 0,6 1,6 0,7 1,7 0,8 0,9 0,10 -1,11 -2,12 -2,14 -4,16 -10,7 -16-14 -12-7 -10-7 -8-6 -7-6 -7-5 -6-5 -5-4 -5-4 -5-4 -5-4 -4-4 -5-4 -5-4 -5-4 -5-5 -6-5 -5-6 -5-6 -5-7 -7-8 -8-9 -7-11 -6-12 -1-12 2-12 5-10 6-10 8-9 9-7 10-6 10-6 10-4 11-3 11,0 11,1 11,3 10,5 9,5 8,6 7,5 7,6 6,7 4,6 4,7 4,6 3,7 2,6 2,6 1,6 2,6 1,6 0,6 1,5zM344,338l1,6 1,6 1,6 0,7 1,7 1,8 0,9 -1,10 0,11 -2,12 -2,14 -4,17 -10,6 -16-14 -12-7 -10-7 -8-6 -7-6 -7-5 -6-5 -5-4 -6-4 -5-3 -5-4 -4-4 -5-4 -5-4 -5-5 -6-4 -5-5 -5-6 -5-7 -5-7 -6-8 -8-9 -7-11 -6-12 -1-12 3-11 4-11 6-10 8-9 9-7 9-7 10-6 10-5 11-2 12-1 11,1 11,3 10,4 9,6 8,6 8,6 6,6 6,7 5,7 3,7 3,7 3,7 2,6 1,7 1,5 1,6 1,6 1,5 1,6zM346,338l1,6 0,6 1,6 0,7 1,7 0,8 0,9 0,10 -1,11 -1,13 -2,15 -4,17 -10,7 -16-13 -12-8 -10-6 -9-7 -8-5 -7-5 -6-5 -5-5 -6-4 -5-5 -4-4 -5-5 -4-4 -5-5 -4-4 -6-5 -5-5 -5-6 -5-6 -6-7 -7-8 -9-9 -9-12 -6-12 -1-13 2-12 4-11 7-11 8-9 9-7 10-7 11-5 11-5 11-2 12,0 12,2 11,3 10,5 9,6 8,6 8,6 6,6 6,6 5,7 4,7 3,7 3,6 3,7 1,6 2,6 1,6 1,6 1,6 1,5zM346,338l1,6 1,6 0,6 1,7 0,8 1,8 0,9 -1,10 -1,11 -1,12 -3,14 -3,17 -10,6 -17-14 -12-8 -10-7 -8-6 -7-6 -7-5 -6-4 -6-4 -5-4 -5-3 -6-4 -5-4 -5-4 -5-4 -6-4 -5-5 -6-5 -5-6 -5-7 -6-8 -7-8 -8-10 -7-11 -6-13 -1-12 3-12 5-11 7-10 8-8 10-8 10-6 10-6 10-5 12-2 11-1 12,1 11,3 10,4 9,6 9,5 8,6 6,7 6,6 5,7 4,8 3,7 3,7 2,7 1,6 2,6 1,6 0,6 1,6 1,5zM346,338l1,6 1,6 0,6 1,7 0,7 0,8 0,9 0,10 -1,11 -2,12 -2,15 -4,16 -10,7 -16-14 -12-8 -10-6 -8-6 -7-6 -7-5 -6-4 -6-4 -5-4 -6-4 -5-4 -5-4 -5-4 -5-4 -5-4 -6-5 -6-5 -5-7 -5-6 -6-8 -8-8 -8-10 -9-11 -6-13 -1-13 2-13 5-11 7-11 8-9 10-7 11-7 10-6 12-4 11-3 12,0 12,2 12,3 10,5 9,6 9,6 7,7 7,6 6,7 5,7 4,7 3,7 2,7 3,7 1,6 2,6 1,6 1,6 1,6 0,5zM348,338l1,6 1,6 0,7 0,7 1,7 0,8 0,9 -1,10 -1,11 -2,13 -2,15 -4,16 -10,7 -16-14 -12-8 -10-7 -9-7 -7-5 -7-5 -6-5 -6-4 -5-4 -5-4 -5-4 -5-4 -5-4 -5-4 -6-5 -5-4 -6-6 -6-6 -5-6 -6-8 -8-8 -9-10 -8-12 -6-12 -1-13 3-12 5-12 7-10 8-9 10-7 11-7 10-5 12-4 11-3 12,0 12,2 11,3 10,5 9,6 9,6 7,6 7,6 6,6 5,7 4,7 3,7 3,6 3,7 2,6 1,6 2,6 1,6 1,6 1,6zM347,338l1,6 1,6 1,7 0,7 0,7 0,8 0,9 0,10 -1,11 -2,13 -2,14 -4,17 -10,7 -16-14 -12-8 -10-6 -9-6 -8-5 -7-5 -6-4 -6-4 -6-4 -5-4 -6-4 -5-5 -5-4 -5-4 -5-5 -6-5 -6-6 -5-6 -5-7 -6-7 -8-9 -10-10 -9-12 -7-14 -1-13 3-13 5-12 7-11 8-10 11-8 10-6 12-6 11-5 13-2 12,0 13,2 11,4 11,6 10,6 8,6 8,7 6,7 6,8 5,7 4,7 3,7 2,7 3,7 1,6 2,6 1,6 2,6 1,5 1,6zM349,338l1,6 1,7 1,6 0,7 0,8 0,8 0,9 0,11 -2,11 -2,12 -2,15 -4,16 -11,6 -16-14 -12-9 -10-7 -9-6 -7-6 -7-5 -6-4 -6-4 -5-4 -6-4 -5-3 -5-4 -6-4 -5-4 -6-4 -6-5 -7-5 -5-7 -6-7 -7-7 -8-9 -9-10 -9-13 -6-13 -1-14 3-12 6-12 7-11 9-9 11-7 11-7 11-6 11-4 13-2 12,0 12,1 11,4 11,5 10,5 8,6 8,7 7,6 6,7 5,7 4,8 4,7 3,7 2,7 2,7 1,6 2,6 1,6 1,6 1,6zM351,338l1,6 1,7 0,7 1,7 0,8 0,8 -1,9 -1,10 -1,11 -2,13 -3,15 -4,16 -10,7 -17-15 -12-8 -10-7 -9-6 -8-5 -7-5 -6-5 -6-4 -6-4 -5-3 -5-5 -6-4 -5-4 -5-4 -6-5 -5-5 -6-5 -5-7 -6-7 -6-7 -8-9 -10-10 -9-12 -6-14 -1-13 3-13 5-12 7-11 9-9 10-8 11-6 12-6 11-4 13-2 12,1 12,2 11,3 11,6 9,6 9,6 7,7 7,6 6,7 5,7 4,7 3,7 3,7 3,6 2,6 2,6 2,6 1,6 2,6 1,6zM348,338l1,6 0,6 1,7 1,7 0,7 1,9 0,9 0,11 -1,11 -2,13 -2,15 -4,17 -11,7 -17-15 -12-8 -10-7 -9-7 -8-5 -6-6 -7-5 -5-4 -6-4 -5-4 -5-4 -5-4 -5-4 -6-5 -5-4 -6-5 -7-5 -5-6 -6-7 -7-7 -9-9 -10-10 -9-13 -7-14 -1-13 3-13 6-12 7-11 9-9 11-8 11-7 12-5 12-4 12-2 12,0 13,1 11,4 11,5 10,5 9,6 8,7 7,6 6,7 5,8 4,7 3,8 3,7 2,7 2,7 1,6 1,6 1,6 1,6 0,6zM348,338l1,6 1,6 1,7 1,8 1,7 1,9 0,10 0,10 -1,12 -2,13 -3,15 -4,18 -11,6 -17-15 -13-8 -10-7 -9-7 -8-6 -7-5 -6-5 -6-5 -6-4 -5-4 -5-4 -5-4 -6-4 -5-4 -6-5 -6-5 -6-5 -6-6 -5-7 -7-8 -8-9 -10-10 -9-13 -7-14 -1-13 3-13 6-12 7-11 10-9 10-8 11-6 12-6 12-4 12-3 12,0 13,2 11,3 11,5 10,6 9,7 7,6 7,7 6,7 5,8 4,8 3,7 2,7 2,7 2,7 1,6 1,6 2,6 1,5 1,6zM351,338l0,6 1,7 1,7 0,7 0,7 0,9 0,9 -1,10 -1,12 -2,13 -2,14 -4,17 -11,7 -17-15 -12-8 -10-7 -9-6 -8-6 -7-5 -6-4 -6-4 -6-4 -5-4 -6-4 -5-4 -5-4 -6-5 -5-4 -6-6 -6-5 -6-6 -6-7 -6-8 -9-9 -10-11 -9-12 -7-14 -1-14 3-13 6-12 7-11 10-9 10-8 12-6 11-6 12-4 13-2 12,0 13,2 11,3 11,5 10,6 9,7 7,6 7,7 6,7 5,7 4,8 4,7 3,7 2,7 2,6 2,7 1,6 2,6 1,6 1,6zM351,338l1,6 1,7 0,7 1,7 0,8 0,8 0,10 -1,10 -1,11 -2,13 -3,15 -4,17 -10,6 -18-15 -12-8 -10-7 -9-7 -8-6 -6-5 -7-4 -6-4 -5-4 -6-4 -5-4 -5-4 -6-4 -5-4 -6-5 -6-5 -6-5 -6-6 -6-7 -7-8 -9-9 -10-11 -10-12 -7-15 -1-14 3-13 5-12 8-12 9-9 11-8 12-7 11-6 13-4 13-2 12,0 13,2 12,3 11,5 10,6 9,6 8,7 7,7 7,7 5,8 4,8 4,7 2,8 3,7 2,6 1,7 2,6 1,7 1,6 1,6zM352,338l1,6 1,7 0,7 1,7 0,8 0,9 0,9 -1,11 -1,11 -2,13 -3,15 -4,17 -11,7 -17-16 -13-9 -10-7 -9-7 -8-5 -7-5 -6-5 -6-4 -6-4 -5-3 -6-4 -5-4 -6-4 -6-4 -6-5 -6-5 -6-5 -7-7 -6-7 -8-8 -9-9 -11-11 -11-13 -7-15 -1-15 3-14 6-12 8-12 10-10 11-8 12-7 13-6 13-4 13-2 13,0 13,2 13,3 11,6 10,6 10,7 8,7 7,7 6,8 6,8 4,8 3,8 3,7 2,7 2,7 1,7 2,6 1,7 1,6 1,6zM353,338l0,6 1,7 0,7 1,7 0,8 0,9 -1,9 0,11 -1,11 -2,13 -3,16 -4,17 -10,7 -18-15 -13-9 -10-7 -9-6 -8-6 -7-5 -7-4 -6-4 -6-4 -5-5 -6-4 -5-4 -6-4 -5-5 -6-5 -6-5 -6-5 -6-7 -7-7 -7-8 -9-9 -12-11 -10-13 -8-15 -1-15 3-14 6-12 8-12 10-10 11-8 13-7 12-5 13-4 13-2 14,0 13,2 12,4 11,5 10,7 9,6 9,7 7,7 6,8 5,8 4,7 4,8 3,7 3,7 2,7 1,6 2,7 1,6 1,6 1,7zM354,338l0,7 1,6 0,7 0,8 0,7 0,9 0,10 0,10 -1,12 -2,14 -3,16 -3,18 -11,7 -18-15 -13-9 -11-7 -9-6 -8-6 -8-5 -6-5 -6-4 -6-5 -6-4 -5-5 -6-4 -5-5 -5-5 -6-4 -6-6 -7-5 -6-6 -7-8 -8-8 -10-9 -12-11 -12-14 -7-15 -1-15 3-15 6-13 9-11 10-10 13-8 12-7 14-4 13-4 13-1 14,1 13,2 12,4 11,6 10,6 9,6 8,7 8,6 6,7 6,8 4,7 4,7 4,7 3,8 2,7 2,6 1,7 1,7 1,6 0,7zM354,338l1,7 0,6 0,7 0,8 1,8 -1,8 0,10 0,10 -1,12 -2,14 -3,15 -4,18 -11,7 -18-16 -12-8 -11-8 -9-6 -8-6 -7-5 -7-4 -6-5 -6-4 -6-4 -5-4 -6-4 -6-4 -5-5 -7-5 -6-5 -7-5 -6-7 -8-7 -8-8 -10-10 -13-12 -11-14 -8-15 -1-16 4-14 6-14 9-12 11-10 12-8 13-6 14-5 13-4 14-1 14,1 13,2 12,4 12,5 10,6 10,7 8,7 8,7 6,7 6,8 4,8 4,7 3,8 3,7 2,7 2,7 1,7 1,7 1,6 1,7zM354,338l1,7 0,6 1,7 0,8 1,8 0,9 0,10 0,11 -1,13 -2,13 -3,16 -4,19 -11,6 -19-16 -13-8 -11-8 -9-7 -8-6 -7-6 -7-5 -6-5 -6-4 -5-5 -6-4 -5-4 -6-4 -5-5 -6-4 -7-5 -7-6 -7-6 -7-7 -9-8 -10-10 -13-12 -11-14 -8-15 -1-16 4-14 7-13 9-12 10-10 13-8 13-7 13-4 14-4 14-1 13,0 13,3 13,3 11,5 10,6 10,6 8,7 8,7 7,7 5,8 5,8 4,8 3,7 2,8 2,7 2,7 1,7 1,7 1,6 0,7zM354,338l1,7 0,6 0,7 0,8 1,8 0,8 -1,10 0,11 -1,12 -2,13 -3,16 -3,18 -11,7 -18-16 -13-8 -11-7 -9-7 -8-5 -7-6 -7-4 -6-5 -6-4 -6-4 -6-5 -5-4 -6-4 -5-5 -6-5 -6-5 -7-6 -7-6 -7-7 -8-8 -10-10 -13-12 -12-14 -7-15 -2-16 4-14 6-14 9-12 10-10 13-9 13-6 13-5 14-4 14-1 13,0 14,2 12,4 12,5 11,6 9,7 9,7 7,7 7,7 6,8 4,8 4,8 4,8 2,7 2,8 2,7 1,7 1,6 1,7 0,7zM355,338l1,7 0,7 1,7 0,7 0,8 0,9 -1,10 0,10 -1,12 -2,14 -3,15 -4,19 -11,6 -18-16 -13-8 -11-7 -9-7 -8-5 -7-6 -7-4 -6-5 -6-4 -6-4 -6-5 -5-4 -5-5 -6-4 -6-5 -6-5 -6-6 -7-6 -7-7 -9-8 -10-10 -13-12 -12-14 -8-15 -1-16 3-15 6-13 9-13 10-10 13-9 13-7 13-5 14-3 14-2 14,1 14,2 12,5 12,5 11,7 9,7 8,7 8,8 6,7 6,8 4,8 4,8 3,7 3,8 2,7 2,6 1,7 1,7 1,6 1,6zM354,338l0,6 1,7 0,7 1,8 0,8 0,9 0,10 0,11 -1,12 -2,14 -2,16 -4,18 -11,7 -19-16 -13-9 -11-7 -9-7 -8-6 -8-5 -6-5 -7-4 -6-4 -5-5 -6-4 -6-4 -6-4 -6-5 -6-5 -6-5 -7-6 -7-6 -8-8 -8-8 -11-10 -13-12 -13-15 -7-16 -1-16 3-15 7-13 9-13 11-10 13-9 13-6 14-5 14-4 15-1 14,0 13,2 13,4 12,5 11,7 10,7 8,7 8,7 7,8 5,8 5,9 4,8 2,8 3,8 2,7 1,7 1,7 1,7 0,6 1,7zM355,338l1,7 0,6 0,8 1,7 0,8 0,9 0,10 0,11 -1,13 -2,14 -3,16 -4,18 -11,7 -18-16 -14-9 -11-8 -9-6 -8-7 -7-5 -7-5 -6-5 -6-5 -6-4 -5-4 -6-4 -5-5 -6-4 -7-5 -6-4 -8-6 -7-6 -8-8 -9-8 -12-10 -13-12 -13-15 -7-16 -1-16 4-15 7-14 9-12 12-11 13-8 14-6 14-4 14-3 14-1 14,1 14,2 12,4 12,5 11,6 9,6 9,7 8,7 7,7 5,8 5,8 4,8 4,8 2,7 2,8 2,7 1,7 1,7 0,7 1,6zM355,338l0,7 0,6 1,7 0,8 0,8 0,9 1,10 -1,11 -1,12 -1,14 -3,16 -4,19 -11,7 -19-16 -13-9 -11-7 -9-7 -8-6 -8-6 -6-5 -6-5 -6-4 -6-5 -5-4 -6-4 -5-5 -6-4 -7-5 -6-4 -8-6 -7-6 -8-8 -9-8 -11-10 -14-12 -12-15 -8-16 -1-16 4-15 7-14 9-12 12-10 13-8 14-7 14-4 14-3 14-1 14,0 14,3 12,3 12,5 11,6 9,6 9,7 8,7 7,7 6,8 5,8 4,8 4,8 2,8 2,7 2,8 1,7 0,7 1,7 0,6zM357,338l0,7 1,7 0,7 1,8 0,8 0,9 0,10 -1,12 -1,12 -2,14 -3,15 -4,19 -12,6 -18-16 -14-9 -11-8 -9-7 -8-6 -7-6 -7-5 -6-5 -6-4 -5-4 -6-4 -6-5 -5-4 -6-4 -6-5 -7-5 -7-5 -7-7 -8-7 -9-8 -11-10 -14-12 -12-15 -8-16 -1-16 3-15 7-14 9-12 11-11 13-8 14-7 14-5 14-3 14-2 15,1 13,2 13,4 12,5 11,6 10,7 9,7 7,8 7,7 6,9 5,8 3,8 4,8 2,7 2,8 2,7 1,7 1,7 1,7 1,6zM354,338l1,7 1,6 0,8 1,7 0,8 1,10 0,10 -1,11 -1,12 -1,15 -3,16 -4,18 -12,7 -18-16 -13-9 -11-7 -10-7 -8-6 -8-6 -7-5 -6-5 -6-4 -5-5 -6-4 -5-5 -6-4 -5-5 -6-5 -7-5 -7-5 -7-7 -8-7 -9-8 -12-10 -14-12 -13-15 -8-17 -1-16 3-15 7-14 9-13 11-11 13-9 14-6 14-5 15-3 15-2 14,1 14,3 13,4 12,5 11,7 10,7 9,7 7,8 7,8 5,8 5,9 4,8 3,8 2,7 2,8 1,7 1,7 1,7 1,6 1,7zM356,338l1,7 0,7 1,7 0,8 0,8 1,9 -1,10 0,11 -1,13 -2,14 -3,16 -4,19 -12,6 -18-16 -13-9 -11-7 -10-6 -8-6 -8-5 -7-5 -6-5 -7-4 -6-5 -6-4 -5-4 -6-5 -6-5 -6-5 -7-5 -7-6 -7-7 -8-7 -9-9 -11-10 -13-12 -13-15 -8-17 -1-16 4-15 6-14 10-13 11-11 14-8 14-7 14-4 15-3 14-1 14,1 14,2 13,4 12,6 11,6 10,7 8,7 8,8 7,8 5,8 5,8 4,8 3,7 3,8 2,7 1,7 2,7 1,7 1,7 1,6zM357,338l1,7 1,7 0,7 1,8 0,9 0,9 -1,10 0,11 -2,13 -2,13 -3,17 -4,18 -11,7 -19-16 -13-9 -11-7 -10-7 -8-6 -8-5 -7-5 -7-5 -6-4 -6-5 -5-4 -6-5 -6-5 -5-4 -6-6 -6-5 -7-6 -7-7 -7-7 -9-8 -12-10 -13-12 -14-15 -8-17 -1-16 3-15 6-15 9-12 11-12 13-8 14-7 15-5 15-4 14-1 15,1 14,3 13,4 12,6 11,7 10,7 8,8 8,7 7,9 5,8 4,8 4,8 3,8 3,7 2,8 2,7 2,6 1,7 1,7 1,6zM355,338l1,7 1,7 0,7 1,8 0,8 1,9 0,11 -1,11 -1,12 -2,14 -3,16 -4,19 -11,7 -19-17 -13-9 -12-8 -9-7 -8-6 -8-6 -6-5 -7-4 -6-5 -5-4 -6-4 -6-4 -6-4 -6-5 -6-4 -7-6 -7-5 -8-7 -8-7 -10-9 -11-10 -14-13 -13-15 -8-16 -1-17 4-15 7-15 9-12 12-11 13-9 15-6 14-5 15-3 14-1 15,0 14,3 13,4 12,5 11,6 10,7 9,8 8,7 7,8 5,9 5,8 4,9 3,8 2,8 2,7 1,8 1,7 1,6 1,7 0,6zM358,338l0,7 1,7 0,7 0,8 0,8 0,9 -1,10 0,11 -2,12 -2,14 -3,16 -3,19 -12,7 -18-17 -14-9 -11-7 -9-6 -8-6 -8-5 -7-5 -6-5 -6-4 -6-4 -6-5 -5-4 -6-5 -6-5 -5-5 -7-5 -6-6 -7-7 -8-7 -10-8 -11-10 -14-12 -14-15 -9-17 -1-17 3-15 6-15 9-13 11-11 14-9 14-7 14-6 15-3 15-1 15,1 14,2 14,5 12,6 11,6 10,8 9,8 8,8 6,8 6,8 4,9 4,8 4,8 2,8 2,7 2,7 2,7 1,7 1,7 1,6zM356,338l1,7 1,7 1,7 1,8 1,9 0,10 0,10 -1,12 -1,12 -2,15 -3,16 -5,18 -12,7 -19-17 -13-10 -11-8 -10-7 -8-7 -8-6 -6-5 -6-5 -6-4 -6-4 -6-5 -5-4 -6-4 -7-4 -6-5 -7-5 -7-5 -8-7 -9-7 -9-9 -12-10 -14-13 -14-15 -8-17 -1-16 4-16 7-14 10-13 12-11 13-9 15-6 14-5 15-3 15-1 15,0 13,3 14,3 12,6 11,6 10,7 9,8 8,8 7,8 5,9 5,8 3,9 3,8 3,8 1,8 2,7 1,7 1,6 1,7 1,6zM357,338l1,7 0,7 1,7 0,8 0,8 0,10 0,10 -1,11 -1,12 -2,15 -2,16 -4,19 -12,7 -19-17 -13-8 -11-8 -10-7 -8-6 -8-5 -7-5 -7-5 -6-4 -6-5 -5-4 -6-5 -6-4 -6-5 -6-5 -7-5 -7-6 -8-7 -8-7 -10-9 -12-10 -15-13 -14-15 -8-17 -1-17 4-16 7-15 10-13 12-11 14-8 15-6 15-5 15-2 15-1 15,1 14,3 13,4 12,6 11,7 10,7 8,7 8,8 7,8 6,8 4,8 4,8 4,8 2,7 3,8 1,7 2,7 1,7 1,7 0,6zM357,338l0,7 1,7 0,7 0,8 0,8 0,9 0,10 0,11 -1,13 -2,14 -3,17 -3,19 -12,7 -19-16 -13-9 -11-8 -10-6 -9-6 -7-5 -7-6 -7-4 -6-5 -6-4 -6-5 -6-4 -6-5 -6-4 -6-5 -7-6 -7-6 -8-6 -8-8 -10-9 -12-10 -15-13 -14-16 -8-17 -1-17 4-16 8-14 10-13 12-11 14-8 15-6 15-4 15-3 15-1 15,1 14,3 13,4 12,5 11,7 10,6 9,7 8,8 7,7 6,8 5,9 4,8 4,8 3,8 2,7 1,8 2,7 0,7 1,7 0,7zM359,338l1,7 0,7 1,8 0,8 1,9 0,9 0,11 -1,11 -2,13 -2,14 -3,16 -4,19 -12,7 -19-17 -14-10 -11-7 -10-7 -8-6 -8-6 -7-5 -7-5 -6-4 -6-4 -6-5 -6-4 -6-4 -6-5 -6-5 -7-6 -7-6 -8-6 -8-8 -10-9 -12-10 -14-13 -14-15 -8-18 -1-16 4-16 7-15 10-13 12-11 14-9 14-6 15-5 15-3 16-1 14,1 14,3 14,4 12,5 11,7 10,7 9,8 8,8 7,8 6,8 4,9 4,8 3,8 3,8 2,8 2,7 1,7 1,7 2,6 1,7zM357,338l1,7 0,7 0,7 1,8 0,8 0,9 0,10 -1,12 -1,12 -2,14 -2,17 -4,19 -12,7 -19-17 -13-8 -11-8 -10-6 -9-6 -7-5 -7-5 -7-5 -6-4 -6-5 -6-4 -6-5 -6-4 -6-5 -6-5 -7-6 -7-6 -8-6 -8-8 -10-9 -13-10 -15-13 -14-16 -9-17 -1-17 4-17 7-15 10-13 12-11 14-9 15-7 16-4 15-3 16-1 15,1 14,3 14,5 12,6 11,6 10,8 9,7 8,8 7,9 6,8 5,8 4,9 3,8 3,7 2,8 1,7 2,8 1,7 0,6 1,7zM358,338l1,7 1,7 0,8 1,8 0,8 0,10 0,10 0,12 -1,13 -2,15 -3,16 -4,20 -12,7 -20-18 -14-9 -11-8 -10-7 -9-6 -7-6 -7-6 -7-4 -6-5 -6-5 -6-4 -6-4 -6-4 -6-5 -7-5 -7-5 -8-6 -8-7 -10-7 -10-9 -14-11 -15-13 -15-17 -9-18 -1-18 5-16 8-15 10-14 13-11 15-9 16-6 16-4 16-2 15-1 15,1 15,3 13,4 13,6 11,6 11,7 9,8 8,8 7,8 6,8 5,9 4,9 4,8 2,8 2,8 2,8 1,7 1,7 0,7 1,7zM360,338l1,7 0,7 1,8 0,8 0,9 0,9 0,11 -1,11 -1,13 -2,14 -3,17 -5,19 -12,7 -19-17 -14-9 -11-8 -10-6 -9-6 -8-6 -7-5 -6-4 -7-5 -6-4 -6-5 -6-5 -6-4 -6-5 -6-6 -7-5 -7-6 -7-7 -9-8 -11-8 -13-11 -15-13 -16-17 -9-17 -1-18 4-17 7-15 10-14 12-12 14-9 16-7 16-5 16-3 16-1 15,2 15,2 14,5 13,6 12,7 10,8 9,8 8,8 7,9 6,9 5,9 4,8 3,8 3,8 2,8 2,8 1,7 2,7 1,7 0,7zM360,338l1,7 1,8 0,7 1,8 0,9 0,10 0,11 -1,11 -1,14 -2,14 -3,17 -4,20 -13,7 -19-18 -14-9 -12-8 -10-7 -9-7 -8-5 -7-6 -6-5 -7-5 -6-4 -6-5 -5-4 -7-5 -6-5 -6-5 -7-5 -8-6 -8-7 -10-7 -11-9 -13-11 -16-14 -15-16 -9-18 -1-18 4-17 8-15 11-14 13-11 15-9 16-6 16-4 16-3 16,0 15,1 15,3 13,5 13,5 11,7 11,7 9,8 8,8 7,8 6,9 5,8 4,9 4,8 3,8 2,8 1,7 2,8 1,7 1,7 1,7zM360,338l0,7 0,7 1,8 0,8 0,8 0,10 0,10 -1,12 -1,12 -2,15 -2,17 -4,20 -12,7 -20-17 -14-9 -11-7 -10-7 -9-6 -8-5 -7-5 -7-5 -7-4 -6-5 -6-5 -6-4 -6-5 -6-5 -7-6 -7-5 -7-7 -8-6 -9-8 -11-9 -13-11 -16-14 -16-16 -8-18 -2-18 5-17 7-16 11-14 13-11 14-9 16-7 17-4 16-3 16,0 16,1 14,3 14,5 13,6 12,7 10,7 9,8 8,8 7,9 6,9 5,8 4,9 4,8 2,8 3,8 1,8 2,7 1,7 0,7 1,7zM361,338l1,7 1,8 0,8 1,8 0,9 0,9 -1,11 -1,11 -2,13 -2,14 -3,16 -4,20 -13,6 -19-17 -14-10 -11-8 -10-6 -9-6 -7-6 -7-4 -7-5 -7-4 -6-4 -6-5 -6-4 -7-5 -6-5 -7-5 -7-5 -7-6 -8-7 -10-8 -11-9 -13-11 -16-14 -16-17 -10-18 -1-18 4-18 8-15 10-15 13-12 15-9 16-7 17-4 16-3 17,0 16,1 15,3 14,5 13,7 12,7 10,9 9,8 8,9 7,9 6,9 4,9 4,8 3,8 3,8 2,8 2,7 2,7 2,7 1,7 1,7z" stroke-opacity="0.30" stroke-width="0.65"/><path d="M310,338l1,2 1,3 1,3 0,3 1,4 1,4 0,5 0,5 1,6 -1,6 -1,8 -2,8 -4,4 -8-3 -6-4 -5-4 -5-4 -4-4 -3-4 -3-3 -3-2 -2-3 -2-2 -2-3 -2-2 -2-2 -2-2 -1-3 -2-2 -2-2 1-4 1-3 1-2 0-3 1-2 0-3 -1-3 -1-3 0-3 0-3 0-4 0-4 1-5 0-6 1-6 2-5 4-4 5-1 5,1 6,3 4,3 4,4 3,4 3,3 2,3 2,3 2,2 1,3 1,3 1,2 1,3 1,2 1,2 1,2 0,2 1,2 1,3zM311,338l1,3 0,2 1,3 0,3 1,4 0,4 1,4 0,6 1,6 -1,7 0,7 -2,9 -5,4 -7-3 -7-3 -5-4 -5-4 -4-4 -4-3 -3-3 -3-3 -2-2 -3-3 -2-2 -2-3 -2-2 -2-3 -2-2 -2-3 -2-2 1-4 1-3 1-3 1-3 1-3 0-2 -1-3 0-3 0-4 0-3 0-4 1-4 1-4 0-5 2-6 2-6 3-3 5-2 6,2 5,2 4,3 4,4 3,3 3,3 3,2 2,3 2,2 2,3 1,3 2,2 1,3 1,2 1,3 0,2 1,3 1,2 0,2zM311,338l1,3 0,2 1,3 1,4 0,3 1,4 1,5 0,5 1,7 0,7 -1,9 -2,9 -5,4 -7-3 -7-3 -6-4 -5-4 -4-4 -4-3 -4-3 -3-3 -3-3 -2-2 -2-3 -2-3 -2-3 -2-3 -2-2 -2-3 -1-3 0-4 2-3 1-3 0-3 1-3 0-2 -1-4 -1-3 0-3 0-4 0-4 1-4 1-5 1-5 1-6 3-6 4-4 5-1 5,1 5,3 5,4 4,4 3,3 3,3 3,3 2,3 2,3 1,3 2,2 1,3 1,3 1,2 1,2 0,3 1,2 1,2 0,3zM311,338l1,3 0,2 1,3 1,4 1,3 1,5 1,5 0,6 1,6 0,8 -1,8 -2,9 -5,5 -8-4 -7-4 -6-5 -5-5 -4-4 -4-4 -3-4 -2-3 -3-3 -2-2 -2-3 -2-2 -1-3 -2-2 -3-2 -2-2 -2-2 0-4 0-3 0-3 0-3 0-3 0-3 -1-3 0-4 0-4 0-3 1-4 1-5 1-4 1-5 2-6 2-6 4-4 5-1 6,1 5,2 5,4 4,3 4,3 3,3 3,3 3,2 2,3 2,4 1,3 1,3 1,3 1,3 1,2 0,3 0,3 0,2 1,3zM312,338l1,3 1,3 0,3 1,3 1,4 1,4 0,5 1,6 0,7 0,7 -1,9 -2,9 -5,5 -8-4 -7-4 -6-4 -5-5 -4-4 -4-3 -4-3 -3-3 -3-2 -3-3 -2-2 -2-3 -3-3 -2-2 -2-3 -2-3 -3-3 1-4 1-3 1-4 1-3 0-3 0-3 -1-4 0-3 0-4 0-4 1-4 0-5 2-4 1-6 1-6 3-6 4-5 5-1 6,1 6,2 5,4 4,3 4,4 4,3 3,3 2,4 2,3 2,3 1,4 1,3 1,3 1,3 0,2 1,3 0,3 1,2 0,2zM316,338l1,3 0,3 1,4 1,4 1,4 1,5 0,5 1,6 0,7 -1,8 -1,10 -2,10 -6,4 -9-5 -7-4 -6-5 -6-4 -5-5 -4-3 -3-4 -4-3 -3-3 -2-2 -3-3 -2-3 -3-3 -2-2 -3-3 -2-3 -3-3 0-4 1-4 0-4 1-3 0-3 0-4 -2-4 0-4 0-5 0-4 1-4 2-5 1-5 2-6 2-6 3-6 5-4 6-1 6,1 6,2 5,4 5,3 4,4 3,3 4,3 3,4 2,3 2,4 1,3 2,4 1,3 1,3 1,3 0,3 1,3 0,2 1,3zM318,338l1,3 1,4 1,4 1,4 0,4 1,5 0,6 1,6 0,8 -1,8 -1,9 -2,11 -6,5 -10-6 -8-4 -6-5 -6-4 -5-5 -4-3 -4-3 -4-3 -3-3 -4-3 -3-3 -3-3 -2-3 -3-3 -2-3 -3-3 -2-4 0-4 1-4 0-4 1-4 0-4 0-3 -2-5 0-4 0-5 0-5 2-5 1-4 2-6 2-6 2-6 3-6 5-5 6-1 7,0 6,3 6,3 5,4 5,4 4,3 3,4 3,4 3,3 2,4 1,4 2,4 1,3 1,4 1,3 0,3 1,3 1,3 1,3zM318,338l1,3 1,4 1,4 1,4 1,5 1,5 1,6 0,7 0,7 0,9 -1,10 -3,10 -6,5 -10-6 -8-5 -7-5 -6-5 -5-5 -4-4 -4-4 -3-3 -4-3 -3-2 -3-3 -2-3 -3-2 -3-3 -3-3 -3-3 -4-3 0-4 0-5 1-4 0-4 0-4 0-4 -2-5 0-5 0-4 1-5 2-5 2-4 2-5 2-6 3-6 3-6 5-5 6-1 7,0 6,2 6,3 5,3 5,4 4,3 4,4 3,3 3,4 2,4 2,4 1,4 1,4 1,4 1,3 0,4 1,3 0,3 1,3zM319,338l1,3 1,4 0,4 1,4 1,4 0,5 1,6 0,7 1,7 -1,9 -1,10 -2,11 -6,5 -10-6 -8-4 -7-5 -6-5 -5-5 -4-4 -4-4 -3-4 -4-3 -2-3 -3-3 -2-3 -3-3 -3-2 -2-3 -3-3 -4-3 0-4 -1-4 0-4 -1-4 -1-4 -1-5 -2-5 -1-5 0-5 1-6 2-5 2-5 3-5 2-6 3-6 5-6 5-4 7-1 7,1 6,3 6,4 5,4 5,4 4,3 4,4 3,3 3,4 2,4 2,3 2,4 1,4 1,3 1,4 1,3 0,3 1,4 0,3zM322,338l1,4 0,3 1,4 0,5 1,4 1,6 0,6 0,7 0,8 0,9 -1,10 -3,11 -6,5 -11-6 -8-5 -7-6 -6-5 -5-5 -5-4 -4-4 -3-3 -3-3 -4-3 -2-3 -3-3 -3-3 -3-3 -3-2 -3-3 -4-4 -1-4 0-4 -1-5 -1-4 -1-5 -1-4 -2-6 0-5 0-6 2-5 2-5 3-5 3-5 3-6 3-6 5-5 5-4 7-1 6,1 7,2 6,4 5,4 5,3 4,3 4,4 4,3 3,3 3,4 2,4 2,4 1,4 1,4 1,3 1,4 1,4 0,3 1,4zM323,338l1,4 1,4 1,4 1,5 0,5 1,5 1,7 0,7 0,8 -1,10 -1,10 -3,12 -6,6 -11-8 -9-5 -8-5 -6-5 -6-4 -4-4 -5-4 -4-3 -4-3 -3-3 -4-3 -3-4 -3-3 -3-3 -4-4 -3-3 -3-4 -1-5 0-5 -1-4 0-5 -1-5 -1-5 -2-6 -1-6 1-5 2-6 2-5 3-6 3-5 4-6 3-6 5-6 6-4 6-1 8,1 7,2 6,3 6,4 5,4 4,4 4,4 4,4 3,4 3,4 2,5 1,4 2,4 1,4 1,3 0,4 1,3 1,4 0,3zM326,338l1,4 1,4 1,5 1,5 0,5 1,6 0,7 0,7 0,8 -1,10 -2,11 -2,12 -8,5 -11-8 -9-5 -8-6 -6-5 -6-5 -4-4 -5-4 -4-4 -4-3 -3-3 -3-3 -4-3 -3-3 -3-4 -3-3 -4-3 -4-4 -1-4 -1-5 -1-5 -1-5 -2-5 -2-6 -2-6 -1-7 1-6 1-6 3-6 3-6 4-6 4-5 4-7 6-5 6-4 7-1 8,1 7,3 7,4 6,4 5,4 5,4 4,4 4,4 3,4 3,5 2,4 2,4 1,4 2,4 1,4 1,4 1,4 1,3 1,4zM330,338l1,4 1,5 1,5 0,5 1,6 0,6 0,7 0,7 -1,9 -1,10 -1,11 -3,13 -8,5 -12-8 -9-6 -8-6 -7-5 -6-5 -5-4 -5-4 -4-3 -4-3 -4-4 -3-3 -4-4 -3-3 -3-4 -3-4 -3-3 -4-4 -1-5 -1-5 -1-5 -2-5 -2-5 -2-6 -4-7 -1-7 0-7 2-7 2-7 4-6 4-6 4-7 5-7 5-6 7-4 8-1 9,1 8,2 7,5 7,4 5,5 5,5 5,4 4,5 3,5 3,5 2,5 2,4 1,5 2,4 1,4 2,4 1,4 1,4 1,4zM330,338l1,4 1,5 1,5 0,5 1,6 0,6 0,7 0,8 0,9 -1,10 -2,11 -3,13 -7,6 -13-9 -9-6 -8-6 -7-5 -6-5 -5-4 -5-4 -5-3 -4-3 -4-3 -4-4 -3-3 -4-4 -3-3 -4-4 -4-4 -4-4 -2-5 -1-5 -1-6 -2-5 -3-6 -2-6 -3-8 -1-7 1-7 2-8 3-6 4-7 5-6 5-6 5-6 6-6 7-4 8-1 9,1 8,3 7,4 7,4 6,5 5,4 5,5 4,4 3,5 3,5 2,5 2,5 2,4 2,5 1,4 1,4 1,4 1,5 1,4zM331,338l1,4 1,5 1,5 0,5 1,6 0,7 0,7 0,8 0,9 -1,10 -2,12 -3,13 -7,6 -13-9 -10-6 -8-6 -7-5 -6-5 -6-4 -5-3 -4-4 -5-3 -4-3 -4-3 -4-4 -4-3 -4-4 -4-4 -4-4 -4-4 -2-6 -2-5 -1-6 -2-6 -3-6 -2-7 -3-8 -1-8 1-7 3-7 3-7 5-7 5-6 5-6 5-6 7-6 7-4 9-1 8,1 8,2 8,4 7,5 6,4 5,5 5,5 5,4 3,5 3,6 2,5 2,5 2,5 1,4 2,5 1,4 1,4 0,5 1,4zM332,338l0,4 1,5 1,5 0,5 1,6 0,7 0,7 0,8 0,9 -1,10 -2,12 -2,14 -8,5 -13-9 -10-6 -8-6 -7-5 -6-5 -6-4 -5-4 -4-3 -5-3 -4-4 -4-3 -4-4 -3-3 -4-4 -4-4 -4-4 -4-4 -2-5 -2-6 -2-5 -2-6 -3-6 -3-7 -3-8 -1-8 1-8 2-7 4-7 4-7 5-6 6-7 5-6 7-6 8-3 8-1 9,1 8,2 8,4 7,5 6,5 6,4 5,5 4,5 4,5 3,5 2,5 2,5 2,5 1,5 1,4 1,5 1,4 1,4 1,5zM336,338l1,5 1,5 0,5 1,6 0,7 1,6 0,8 -1,8 -1,10 -1,10 -2,13 -3,14 -8,5 -14-10 -10-7 -9-6 -7-5 -6-5 -6-5 -5-3 -5-4 -5-3 -4-4 -4-3 -5-4 -4-3 -4-4 -4-4 -4-4 -5-4 -2-6 -3-6 -2-6 -4-6 -4-7 -4-8 -5-9 -1-9 1-9 3-9 4-8 5-7 6-7 7-7 6-7 8-5 9-4 9-1 10,1 9,3 9,5 8,5 7,5 6,5 5,6 5,6 3,5 3,7 3,5 2,6 2,5 1,5 2,5 1,4 1,5 1,5 1,4zM336,338l1,5 0,5 1,5 1,6 0,6 0,7 0,8 0,8 0,10 -1,11 -2,13 -3,14 -9,6 -14-11 -10-7 -9-6 -7-5 -6-5 -6-4 -6-4 -5-4 -4-3 -5-3 -4-4 -5-3 -4-4 -4-4 -4-4 -5-4 -5-5 -2-5 -3-6 -2-6 -4-7 -4-7 -3-8 -4-9 -1-9 2-9 3-8 4-8 6-7 6-7 6-6 7-6 7-6 9-3 9-1 9,0 10,3 8,4 8,4 7,5 6,5 5,5 5,6 4,5 3,6 3,6 2,6 2,5 2,5 1,5 1,5 1,5 0,5 1,4zM337,338l1,5 1,5 1,6 1,6 1,7 0,7 0,8 0,9 -1,10 -1,11 -2,13 -3,14 -9,6 -15-11 -10-7 -9-7 -8-5 -7-6 -5-5 -6-4 -5-4 -4-3 -5-4 -4-3 -4-4 -5-3 -4-4 -4-4 -5-4 -5-4 -4-6 -3-6 -3-6 -4-7 -5-8 -5-8 -4-10 -1-10 2-9 3-9 5-8 6-7 7-7 7-6 7-6 8-5 10-4 9-1 10,1 9,3 9,4 8,5 7,5 6,5 6,6 5,5 4,6 3,6 3,6 2,6 2,5 1,6 2,5 1,5 1,5 1,4 1,5zM341,338l1,5 0,6 1,6 0,6 0,7 1,7 0,8 -1,9 0,10 -2,12 -2,13 -3,15 -9,7 -15-13 -11-7 -9-6 -8-6 -7-5 -6-4 -6-4 -5-4 -5-4 -5-3 -4-4 -5-4 -4-4 -5-4 -4-4 -5-4 -6-5 -3-6 -4-6 -4-7 -5-7 -7-8 -5-10 -6-11 -1-10 2-11 4-9 5-9 7-9 8-6 8-7 9-6 9-5 10-3 10,0 11,1 10,3 9,5 8,5 8,6 6,6 6,5 5,6 5,6 3,7 3,6 2,6 3,5 1,6 2,5 1,5 1,6 1,5 1,5zM342,338l1,5 1,6 1,6 0,7 1,7 0,7 0,9 -1,9 -1,10 -1,12 -3,13 -3,15 -10,6 -15-13 -11-7 -9-7 -8-6 -7-5 -6-4 -6-5 -5-3 -5-4 -5-3 -5-4 -5-3 -4-4 -5-4 -5-4 -5-5 -5-5 -4-5 -4-7 -4-7 -5-7 -6-8 -6-10 -5-11 0-11 2-10 4-10 5-9 7-8 8-7 8-6 8-7 9-5 10-3 11-1 11,2 10,3 9,4 8,6 8,5 7,6 6,6 5,6 4,6 3,7 3,6 3,6 2,6 1,6 2,5 1,5 1,6 2,5 1,5zM342,338l1,5 0,6 1,6 1,6 0,7 0,8 1,8 -1,10 0,11 -1,12 -3,14 -3,16 -9,6 -16-12 -11-7 -10-7 -8-5 -7-6 -7-5 -6-4 -5-5 -5-4 -5-4 -4-4 -5-4 -4-4 -4-5 -5-4 -5-4 -5-5 -4-6 -4-6 -5-7 -6-7 -8-9 -7-10 -5-11 -2-12 2-11 4-10 6-10 7-8 8-8 9-6 9-6 10-5 11-3 11,0 11,2 10,3 10,5 9,6 7,6 7,6 6,6 5,6 5,6 3,7 3,6 3,6 2,6 2,6 1,6 1,5 1,5 1,5 1,6zM344,338l0,6 1,5 0,6 1,7 0,7 0,8 1,8 -1,10 0,11 -1,12 -3,14 -3,17 -10,6 -15-13 -12-7 -10-6 -8-7 -7-5 -7-5 -6-5 -5-4 -5-4 -5-4 -5-4 -5-4 -5-4 -4-4 -6-4 -5-5 -6-4 -5-6 -5-7 -5-7 -7-8 -8-9 -7-11 -5-12 -1-12 3-12 4-10 7-9 8-9 10-6 9-6 10-6 10-4 11-2 11,0 11,2 10,3 10,5 9,5 7,6 7,5 7,6 5,5 5,7 4,6 3,6 3,6 3,6 2,6 1,6 1,6 1,5 1,6 0,5zM346,338l1,6 0,6 1,6 0,7 1,7 0,8 0,9 0,10 -1,11 -2,13 -2,14 -4,16 -10,7 -16-14 -12-7 -9-7 -9-6 -7-6 -7-5 -6-4 -6-5 -5-4 -5-4 -5-4 -5-4 -4-4 -5-4 -5-5 -6-4 -6-5 -4-6 -5-7 -6-7 -7-8 -8-9 -8-11 -5-13 -1-12 2-12 5-10 7-10 8-9 9-7 10-6 10-6 11-4 11-3 11,0 11,2 11,3 10,4 9,6 8,5 7,6 7,6 6,6 5,7 4,7 3,6 3,7 2,6 2,6 2,6 1,6 1,6 1,6 0,5zM346,338l1,6 1,6 1,7 1,7 0,7 1,8 0,10 0,10 -1,11 -2,12 -3,15 -4,16 -10,7 -16-15 -12-8 -10-7 -9-6 -7-6 -7-5 -6-5 -6-4 -5-3 -6-4 -5-4 -5-3 -6-4 -5-4 -6-4 -6-5 -6-5 -6-7 -5-7 -7-7 -7-9 -9-10 -8-12 -6-13 0-13 3-12 5-12 8-10 8-9 11-7 10-6 11-6 11-4 12-2 12,0 12,2 11,3 10,5 9,5 9,6 7,6 7,7 6,6 4,7 4,8 3,7 3,7 2,6 2,6 1,7 1,5 1,6 1,6 1,5zM347,338l0,6 1,6 0,6 1,7 0,8 1,8 0,9 0,10 0,12 -2,13 -2,15 -4,17 -10,7 -17-14 -12-8 -10-7 -9-7 -8-6 -6-5 -6-5 -6-5 -5-4 -5-4 -5-4 -5-4 -5-4 -6-4 -5-4 -6-5 -7-5 -5-6 -6-7 -7-7 -8-9 -9-10 -9-12 -6-14 -1-13 3-12 5-12 8-10 9-9 11-7 10-6 11-6 12-4 12-2 12,0 11,2 12,3 10,4 9,6 9,5 8,6 7,6 6,7 5,7 4,7 4,7 3,7 2,7 2,7 1,6 1,6 0,7 1,5 0,6zM347,338l1,6 1,6 1,7 0,7 1,7 0,8 0,10 0,10 -1,11 -2,13 -2,15 -4,17 -10,6 -17-14 -12-8 -10-7 -9-7 -8-6 -6-5 -6-4 -6-4 -6-4 -5-4 -5-4 -6-4 -5-4 -5-4 -6-4 -6-5 -7-5 -5-7 -6-7 -7-7 -8-9 -9-10 -9-13 -7-13 0-14 3-12 5-12 8-11 9-9 11-7 11-7 11-5 12-4 12-2 12,0 12,1 11,4 11,5 10,5 8,6 8,7 7,6 6,7 5,7 4,8 3,7 3,7 2,7 2,6 1,7 1,6 1,6 1,5 1,6zM349,338l1,6 1,6 0,7 0,7 1,8 0,8 -1,9 0,10 -1,11 -2,13 -2,15 -4,17 -10,6 -17-14 -12-8 -10-7 -9-6 -8-5 -7-5 -6-4 -6-4 -6-4 -6-4 -5-4 -5-4 -6-4 -5-5 -5-4 -6-6 -6-5 -6-7 -5-7 -7-7 -8-9 -10-10 -9-13 -7-14 -1-13 3-13 5-13 7-11 10-9 10-8 11-7 12-5 12-4 13-3 12,1 13,2 11,3 11,6 10,6 8,6 8,7 7,7 6,7 5,8 4,7 3,7 3,7 2,7 2,6 2,6 1,6 1,6 1,6 1,6zM350,338l0,6 1,7 1,6 0,7 1,8 0,9 0,9 0,11 -1,11 -2,14 -2,15 -4,17 -11,7 -17-14 -12-8 -11-7 -9-6 -8-6 -7-5 -7-5 -6-5 -5-4 -6-5 -5-4 -5-4 -5-5 -5-4 -5-5 -6-5 -6-6 -5-6 -6-7 -7-7 -9-9 -10-10 -10-13 -6-14 -1-14 3-12 5-13 7-11 10-9 10-8 12-7 11-5 12-4 13-2 12-1 12,2 12,3 11,5 10,6 9,6 8,6 7,7 6,7 6,7 4,8 3,7 3,8 3,7 2,7 1,6 1,7 1,6 1,6 0,6zM351,338l0,6 1,7 0,6 0,7 1,8 0,9 0,9 0,11 -1,11 -2,14 -2,15 -4,18 -11,6 -17-14 -12-8 -11-7 -9-7 -8-5 -7-6 -7-4 -6-5 -5-4 -6-5 -5-4 -5-4 -5-5 -5-4 -6-5 -6-5 -6-5 -5-7 -7-6 -7-8 -8-9 -11-11 -10-12 -7-15 -1-13 3-14 6-12 7-11 10-10 11-7 11-7 12-5 13-4 12-2 13,0 12,1 12,4 11,4 10,6 9,6 8,6 7,7 7,7 5,7 5,8 3,7 3,8 3,7 2,7 1,7 1,6 1,6 1,7 0,6zM355,338l1,7 1,7 0,7 1,8 0,8 0,9 -1,9 0,11 -2,12 -2,13 -3,15 -5,17 -11,7 -18-16 -12-9 -11-8 -9-7 -8-6 -7-5 -6-5 -6-4 -6-4 -5-4 -6-4 -5-4 -6-4 -5-4 -6-5 -7-5 -6-5 -7-7 -6-7 -8-8 -10-9 -11-11 -11-14 -7-15 -1-14 3-14 6-13 8-12 10-10 12-8 12-6 13-6 13-3 13-2 14,0 13,2 12,4 11,5 10,7 9,6 9,7 7,7 6,8 5,7 4,8 4,8 3,7 3,7 2,7 2,6 1,7 2,6 1,6 2,7zM352,338l1,6 1,7 0,7 1,7 0,8 0,9 0,10 0,11 -1,12 -2,13 -2,16 -4,18 -11,7 -18-16 -13-8 -11-7 -9-7 -8-6 -7-6 -7-5 -6-4 -5-5 -6-4 -5-4 -6-5 -5-4 -5-4 -6-5 -6-5 -7-5 -6-7 -7-7 -8-8 -10-9 -12-11 -11-14 -8-15 -1-15 4-14 6-13 8-12 10-10 12-8 13-6 13-5 13-4 13-1 14,0 12,2 13,4 11,5 10,6 10,6 8,7 7,7 7,7 5,8 5,8 3,7 3,8 3,7 2,7 1,7 1,7 1,6 1,6 1,7zM352,338l1,6 0,7 1,7 0,7 0,8 0,9 0,9 0,11 -1,12 -1,14 -3,15 -4,18 -10,8 -18-16 -13-8 -11-7 -9-6 -8-6 -7-5 -7-5 -6-5 -6-4 -6-5 -5-5 -5-4 -5-5 -5-4 -6-5 -6-5 -6-6 -6-6 -7-7 -8-8 -10-9 -12-11 -11-14 -8-15 -1-15 3-14 6-13 8-12 10-10 12-8 12-7 13-5 13-4 14-2 13,0 13,3 13,3 11,6 10,6 10,6 8,7 8,7 6,8 5,7 5,8 4,8 3,7 2,8 2,7 2,7 1,6 1,7 0,6 1,7zM353,338l0,6 1,7 0,7 1,7 0,8 0,9 0,10 0,11 -1,12 -2,13 -3,16 -3,18 -12,6 -17-15 -13-9 -11-7 -9-7 -8-6 -7-5 -7-5 -6-4 -6-5 -5-4 -6-4 -5-4 -6-4 -6-4 -6-5 -6-5 -7-6 -7-6 -7-7 -8-8 -10-10 -12-12 -11-13 -7-16 -1-15 4-14 6-13 9-11 10-11 12-8 13-6 13-5 13-4 14-1 13,0 13,2 13,3 11,5 10,6 10,7 8,6 8,7 7,8 5,7 5,8 3,8 3,8 3,7 2,8 1,7 1,6 1,7 1,6 0,7zM353,338l1,6 0,7 1,7 0,8 1,8 0,9 0,10 0,11 -1,12 -1,14 -3,16 -4,19 -11,7 -18-16 -13-8 -12-8 -9-6 -8-7 -8-5 -6-6 -6-5 -6-4 -6-5 -5-4 -5-5 -6-4 -5-5 -6-4 -7-5 -7-6 -7-6 -8-7 -9-8 -11-10 -13-12 -12-14 -7-16 -1-16 3-15 7-13 9-12 11-10 13-8 14-6 13-5 14-3 14-1 14,0 13,3 12,4 12,5 11,6 9,6 9,7 7,7 7,7 6,8 4,7 4,8 3,8 3,7 2,8 1,7 1,7 1,7 0,6 1,7zM355,338l1,7 1,7 1,7 0,8 1,8 0,9 -1,10 0,11 -2,12 -2,14 -3,15 -4,18 -12,6 -18-16 -13-9 -11-8 -9-7 -8-6 -7-5 -7-5 -6-4 -6-4 -6-4 -5-4 -6-4 -6-4 -6-4 -7-5 -6-5 -7-6 -7-6 -8-8 -8-8 -10-10 -13-12 -12-14 -7-16 -1-16 4-14 7-14 8-12 11-10 13-9 13-6 14-5 13-4 14-2 14,1 13,2 13,4 12,5 11,6 9,7 9,7 7,8 7,8 5,8 4,9 4,8 3,7 2,8 2,7 1,7 2,6 1,7 1,6 1,7zM354,338l1,7 0,6 1,7 0,8 0,8 1,9 0,10 -1,11 -1,12 -2,14 -2,16 -4,18 -12,7 -18-16 -13-9 -11-7 -9-6 -8-6 -8-5 -6-5 -7-5 -6-4 -6-4 -6-4 -5-5 -6-4 -6-5 -6-5 -7-5 -7-6 -7-6 -7-8 -9-8 -10-10 -13-12 -12-15 -7-16 -1-15 3-15 7-14 9-12 11-10 13-8 14-7 14-4 14-4 14-1 13,1 14,2 12,4 12,6 11,6 9,7 8,7 8,7 6,8 6,8 4,8 4,7 3,8 3,7 2,8 1,6 2,7 1,7 0,6 1,7zM356,338l1,7 1,7 0,7 1,8 0,9 1,9 0,10 -1,11 -1,13 -2,14 -3,16 -4,19 -12,7 -19-17 -13-9 -11-7 -10-7 -8-7 -8-5 -7-6 -6-4 -6-5 -5-5 -6-4 -6-4 -5-5 -6-4 -6-5 -6-5 -7-6 -8-6 -8-8 -9-8 -11-10 -14-12 -13-15 -8-17 -1-16 3-15 7-14 9-13 12-11 13-8 14-6 14-5 15-3 14-1 14,1 14,2 13,4 12,6 11,6 10,7 8,7 8,8 6,8 6,8 5,8 3,8 4,8 2,7 2,8 2,7 1,7 1,6 1,7 1,6zM357,338l1,7 1,7 0,7 1,8 0,9 0,9 0,10 -1,11 -1,13 -3,14 -3,16 -4,18 -11,7 -19-17 -13-9 -12-8 -9-7 -8-6 -8-5 -7-5 -6-4 -6-4 -6-4 -6-5 -6-4 -6-4 -6-5 -7-5 -6-5 -8-6 -7-6 -9-8 -9-9 -12-10 -15-13 -14-15 -8-17 -1-17 4-16 7-15 9-13 12-11 14-9 15-7 15-5 15-3 15-1 15,1 14,3 14,4 12,6 11,7 10,8 9,7 8,9 6,8 6,9 4,8 4,9 3,8 2,7 2,8 2,7 1,7 2,6 1,7 1,6zM356,338l1,7 0,7 0,7 1,8 0,8 0,9 0,10 0,12 -1,12 -2,14 -2,17 -4,19 -12,7 -19-17 -13-9 -11-8 -10-6 -8-6 -8-6 -7-5 -6-4 -6-5 -6-4 -6-4 -6-4 -6-5 -7-4 -6-5 -7-6 -7-6 -8-6 -8-8 -10-9 -12-10 -14-13 -14-15 -8-17 0-17 4-16 7-14 10-13 12-11 14-8 14-6 15-5 15-3 15-1 15,1 14,2 13,4 12,5 11,6 10,7 9,7 9,7 7,8 6,9 4,8 5,9 3,8 2,8 2,8 1,7 1,8 1,7 0,7 1,6zM357,338l1,7 1,7 1,7 0,8 0,9 0,9 0,11 -1,11 -1,12 -2,14 -3,16 -4,19 -12,7 -19-18 -13-9 -12-8 -9-7 -8-6 -8-5 -6-5 -7-5 -6-4 -6-4 -6-4 -6-4 -6-5 -6-4 -6-5 -7-5 -7-6 -8-7 -8-7 -10-9 -12-10 -15-13 -14-15 -8-18 -2-17 4-16 7-14 10-14 12-11 13-9 15-7 15-5 15-3 16-1 15,1 14,2 13,4 13,6 11,7 11,7 9,8 8,8 6,9 6,8 5,9 3,9 3,8 3,8 2,8 1,7 2,7 1,7 1,7 0,6zM360,338l1,7 0,7 1,8 0,8 0,9 0,9 -1,10 -1,12 -1,12 -3,14 -3,16 -4,19 -12,6 -19-17 -13-9 -11-8 -10-7 -8-6 -8-5 -7-5 -6-5 -6-4 -6-4 -6-4 -6-4 -6-5 -7-4 -6-5 -7-6 -7-6 -8-6 -9-8 -10-9 -12-10 -15-13 -14-16 -8-17 -1-17 4-16 7-15 10-13 12-12 14-8 15-7 15-5 16-2 15-1 15,1 14,2 14,4 12,6 11,7 10,7 10,8 7,8 7,8 6,8 5,9 4,8 3,8 3,8 2,8 2,7 2,7 1,7 1,7 1,7zM360,338l0,7 1,7 0,8 0,8 0,8 0,10 0,10 -1,11 -1,13 -3,14 -3,16 -4,19 -12,7 -19-17 -13-10 -11-7 -10-7 -8-6 -8-5 -7-5 -7-5 -6-4 -6-4 -6-5 -6-4 -6-4 -6-5 -6-5 -7-6 -7-6 -8-6 -8-8 -10-9 -12-10 -15-13 -14-16 -9-17 -1-17 5-16 7-15 10-13 12-11 14-9 15-6 15-5 15-3 15-1 15,1 14,2 14,4 12,6 11,6 11,7 9,7 8,8 7,8 6,9 5,8 4,9 4,8 2,8 3,8 1,7 2,8 1,7 0,7 1,7zM359,338l0,7 1,7 0,8 1,8 0,8 0,9 -1,11 0,11 -2,13 -2,14 -2,16 -5,19 -11,7 -20-17 -13-10 -11-7 -10-7 -8-6 -8-6 -7-4 -6-5 -7-4 -6-4 -6-4 -6-5 -6-4 -7-4 -7-5 -7-6 -8-6 -8-6 -9-8 -10-9 -13-11 -16-13 -14-17 -9-18 -1-17 5-17 7-15 11-13 13-12 14-8 16-7 16-4 16-3 15,0 15,1 15,3 13,4 13,6 11,6 11,7 9,8 8,8 7,8 6,9 5,8 4,9 4,8 2,8 2,8 2,8 1,7 1,7 1,7 0,7zM359,338l1,7 1,7 0,8 1,8 0,9 0,10 0,10 0,12 -2,13 -2,14 -3,16 -4,20 -13,7 -19-18 -14-10 -11-8 -10-7 -9-6 -7-6 -7-5 -7-5 -6-4 -6-5 -6-4 -6-4 -6-4 -6-5 -7-5 -7-5 -8-6 -8-7 -9-7 -11-9 -13-11 -16-13 -15-17 -8-18 -1-18 4-16 8-15 10-14 13-11 14-9 16-7 16-4 16-3 16,0 15,1 15,2 13,5 13,5 12,7 10,7 9,8 8,8 7,9 6,8 5,9 4,9 3,8 3,8 2,8 1,8 2,7 1,7 1,7 0,7zM361,338l1,7 0,8 0,7 0,8 0,9 -1,9 0,10 -1,12 -1,12 -2,15 -3,17 -4,19 -12,8 -19-18 -14-9 -11-7 -10-7 -9-5 -8-5 -7-5 -7-5 -7-5 -6-4 -6-5 -6-5 -6-4 -6-6 -6-5 -7-6 -7-6 -8-7 -9-7 -11-9 -13-11 -16-13 -16-17 -9-18 -1-18 4-17 7-16 10-14 13-12 15-9 16-6 16-5 17-2 16-1 15,1 15,3 14,5 13,6 12,7 10,7 10,8 8,8 7,9 6,8 5,9 5,8 3,9 3,8 2,8 2,8 2,7 1,7 0,8 1,7z" stroke-opacity="0.40" stroke-width="0.55"/><path d="M315,338l1,3 0,3 1,3 1,4 0,4 1,5 1,5 0,6 0,7 0,8 -1,9 -2,9 -5,5 -9-4 -7-4 -7-4 -5-5 -5-4 -4-3 -3-4 -4-2 -3-3 -3-3 -2-3 -3-3 -2-3 -2-2 -2-3 -3-3 -2-3 0-4 1-4 1-4 1-3 0-3 0-3 -1-4 -1-4 1-4 0-4 1-5 1-4 1-5 2-5 2-7 2-5 5-4 5-2 6,1 6,2 5,4 4,4 4,3 4,3 3,3 3,3 2,3 2,4 2,3 1,3 1,3 1,3 1,3 1,3 0,3 1,2 0,3zM318,338l1,3 1,4 1,4 1,4 1,4 0,5 1,6 0,6 0,8 -1,8 -1,9 -3,9 -6,5 -9-6 -8-5 -7-5 -5-5 -5-5 -3-4 -4-3 -3-3 -3-3 -3-3 -2-2 -3-3 -2-2 -3-3 -3-2 -2-3 -3-3 -1-4 1-4 0-3 0-4 0-4 1-3 -2-4 0-5 0-4 1-4 1-5 1-4 2-5 2-6 2-6 3-6 5-4 5-2 7,1 5,2 6,3 5,3 4,4 4,3 4,3 3,3 2,4 2,4 2,4 1,3 1,3 1,4 1,3 1,3 1,3 1,3 0,3zM316,338l1,3 1,3 1,4 1,4 1,4 1,5 0,6 1,6 0,8 0,8 -1,10 -2,10 -6,5 -10-5 -8-4 -6-5 -6-5 -5-4 -4-4 -4-3 -3-4 -4-3 -3-2 -2-3 -3-3 -2-3 -3-3 -2-3 -3-3 -3-3 0-4 1-4 0-4 0-4 0-4 0-3 -2-5 -1-4 1-5 0-5 2-5 1-4 2-5 2-6 3-6 3-6 5-4 6-2 6,1 6,2 6,4 5,4 4,4 4,3 3,3 3,4 3,3 2,4 1,4 2,4 1,3 1,3 0,3 1,3 1,3 0,3 1,3zM323,338l1,4 0,4 1,4 1,4 1,5 0,6 1,6 0,7 0,8 0,10 -2,10 -2,12 -7,6 -11-7 -8-5 -8-5 -6-5 -6-4 -4-4 -5-4 -4-4 -3-3 -4-4 -2-3 -3-4 -3-3 -2-4 -3-3 -2-3 -3-4 -1-4 1-5 -1-4 0-4 -1-4 -1-5 -3-5 -1-6 0-5 1-6 2-6 2-5 3-6 2-6 4-6 4-6 6-4 7-2 7,1 7,2 6,4 6,4 5,4 4,4 4,4 4,3 3,4 2,5 2,4 2,4 1,4 1,4 1,3 1,4 1,4 1,3 0,3zM323,338l0,4 1,3 0,4 1,5 1,5 1,5 0,7 1,7 0,8 0,10 -1,11 -3,12 -6,6 -11-7 -9-5 -8-5 -6-5 -6-5 -5-4 -4-4 -4-3 -4-3 -3-4 -3-3 -3-3 -3-4 -4-3 -3-3 -3-3 -4-4 -1-5 -1-5 -1-4 -1-5 -1-5 -1-5 -3-7 -1-6 1-6 2-6 2-5 4-6 3-5 4-6 4-6 5-5 6-4 7-1 8,1 7,2 6,4 6,4 5,4 4,4 5,3 3,4 4,4 2,4 2,5 2,4 2,4 1,4 1,4 0,4 1,3 0,4 0,3zM329,338l1,4 1,5 0,4 1,6 0,5 1,6 0,7 0,8 -1,8 -1,10 -1,11 -3,13 -7,5 -12-8 -9-6 -8-5 -7-5 -6-5 -5-4 -5-3 -4-4 -4-3 -4-3 -4-4 -3-3 -4-4 -3-3 -3-4 -3-4 -4-4 -1-5 -1-5 0-5 -2-5 -1-5 -2-6 -3-7 -1-6 1-7 1-7 3-6 3-6 4-6 4-6 4-7 6-6 7-4 7-1 8,1 8,2 7,4 6,5 6,4 5,5 4,4 4,5 3,4 3,5 2,5 2,4 2,4 1,4 1,4 2,4 1,4 1,4 1,4zM329,338l1,4 0,5 1,4 0,5 1,6 0,6 1,7 0,8 0,9 -1,10 -1,12 -3,13 -7,6 -12-9 -10-5 -8-6 -7-5 -6-4 -6-4 -5-4 -4-3 -5-3 -4-4 -4-3 -4-4 -3-3 -4-4 -4-4 -3-4 -4-4 -2-5 -1-6 -2-5 -2-6 -2-6 -2-7 -3-7 -1-7 1-8 3-7 3-6 4-7 5-6 4-6 6-6 6-6 7-4 8-1 8,0 8,3 8,3 7,5 6,4 5,4 5,5 5,4 4,5 2,5 3,6 2,5 1,4 2,5 1,5 0,4 1,5 0,4 1,4zM332,338l1,5 1,4 0,5 1,6 0,6 1,6 0,7 0,8 -1,9 -1,11 -1,12 -3,13 -8,6 -13-10 -10-6 -8-6 -7-5 -6-5 -6-4 -4-4 -5-4 -4-3 -5-3 -3-4 -4-3 -4-4 -4-3 -4-4 -4-4 -5-4 -2-5 -2-5 -2-6 -3-6 -3-6 -3-8 -3-8 -1-8 1-8 3-7 4-7 4-7 6-6 5-6 6-6 7-6 8-3 8-1 9,1 8,2 8,4 7,4 6,5 6,5 5,4 4,5 4,5 3,5 3,5 2,6 2,4 1,5 2,5 0,4 1,5 1,4 1,5zM333,338l1,5 0,4 1,6 1,5 1,6 1,7 0,8 0,9 0,9 -1,11 -2,13 -3,14 -8,6 -14-10 -10-7 -9-6 -7-5 -6-6 -6-4 -5-5 -5-3 -4-4 -5-4 -3-3 -4-4 -4-4 -4-3 -4-4 -4-4 -5-4 -2-6 -3-5 -2-6 -3-6 -4-7 -4-7 -4-9 -1-9 2-8 2-8 4-8 5-7 6-6 6-7 6-6 7-6 9-3 9-2 9,1 9,3 8,4 7,4 7,5 6,5 6,5 4,5 4,6 3,6 3,6 2,5 1,5 1,6 1,4 1,5 1,5 0,4 1,5zM334,338l1,5 1,5 0,5 1,6 1,6 0,7 1,7 0,9 -1,10 -1,11 -1,12 -3,14 -9,6 -14-10 -10-7 -9-6 -7-6 -6-5 -6-5 -5-4 -5-4 -4-3 -4-4 -4-4 -4-3 -4-4 -4-3 -4-4 -5-4 -4-4 -3-5 -3-6 -2-6 -4-6 -4-7 -4-8 -4-9 0-8 1-9 3-8 4-7 6-7 6-6 6-7 6-6 8-5 8-4 9-1 9,1 9,2 8,4 7,4 7,5 6,4 6,5 5,5 4,5 3,6 3,6 2,5 2,6 2,5 1,5 0,5 1,5 1,5 0,4zM333,338l1,5 0,4 1,6 1,5 1,6 0,7 1,8 0,8 0,10 -1,11 -2,13 -2,15 -9,6 -13-11 -11-6 -8-6 -8-5 -7-6 -5-4 -5-5 -5-3 -5-4 -4-4 -4-4 -4-3 -4-4 -4-4 -4-3 -5-4 -4-5 -3-5 -3-6 -2-6 -4-6 -4-7 -4-8 -4-9 0-9 1-8 3-8 5-8 5-7 6-6 6-6 7-7 7-5 9-3 9-2 9,1 9,3 8,4 8,4 6,5 6,4 6,5 5,5 4,6 3,6 3,5 2,6 1,5 2,6 1,5 0,5 1,4 0,5 1,5zM337,338l1,5 0,5 1,6 0,5 1,7 0,7 0,7 0,9 -1,9 -1,11 -2,13 -3,14 -9,6 -14-11 -10-7 -9-6 -7-5 -6-5 -6-4 -6-4 -5-4 -4-3 -5-4 -4-3 -4-4 -4-3 -5-4 -4-4 -4-4 -5-5 -3-5 -3-6 -2-6 -4-7 -5-7 -4-8 -4-10 -1-9 2-9 3-8 5-8 5-8 6-6 7-6 7-7 8-5 8-3 10-1 9,1 9,2 9,4 8,5 7,5 6,5 5,5 5,5 4,6 4,6 2,6 3,5 2,5 1,6 2,5 1,5 1,5 1,4 0,5zM338,338l1,5 0,5 1,6 0,6 0,6 0,7 0,7 -1,9 0,9 -1,11 -2,13 -3,14 -9,6 -13-11 -11-6 -8-6 -8-5 -7-4 -6-4 -5-4 -5-4 -5-3 -5-3 -5-4 -4-4 -4-4 -4-4 -4-4 -4-5 -5-5 -2-5 -3-6 -2-6 -4-7 -4-7 -4-8 -5-10 -1-9 2-9 3-8 4-9 6-7 6-7 6-6 7-7 8-5 9-4 9-1 10,1 9,3 9,4 8,5 7,5 6,5 6,5 5,5 4,6 3,6 3,6 3,5 2,6 1,5 2,5 1,5 1,5 1,5 1,5zM338,338l1,5 1,5 1,6 1,6 1,7 0,8 0,8 0,9 -1,10 -1,11 -3,13 -3,14 -9,6 -15-12 -10-7 -9-6 -8-6 -7-6 -5-5 -6-4 -5-4 -4-3 -5-3 -4-4 -5-3 -4-4 -5-3 -5-4 -5-4 -5-5 -3-6 -3-6 -3-6 -4-7 -5-8 -4-8 -4-10 -1-10 2-9 4-8 5-8 6-8 7-6 7-6 7-7 8-5 9-3 9-2 10,1 9,3 9,4 8,4 7,5 7,5 5,5 5,6 5,6 3,6 3,6 2,6 1,6 2,5 1,6 1,5 1,4 1,5 1,5zM339,338l0,5 1,5 0,6 1,6 1,7 0,7 0,8 0,9 0,10 -2,12 -2,13 -3,15 -9,6 -14-12 -11-7 -9-6 -8-6 -7-5 -6-5 -5-4 -5-4 -5-4 -4-4 -5-4 -4-3 -4-4 -4-4 -5-4 -4-4 -5-4 -4-6 -3-6 -4-6 -5-7 -5-8 -6-9 -5-10 -1-10 2-10 3-9 5-9 6-7 8-7 7-7 8-6 8-6 10-3 10-1 10,1 10,3 9,4 8,5 8,5 6,5 6,6 6,5 4,7 4,6 2,6 3,6 2,6 1,6 1,5 1,6 1,5 1,5 0,5zM342,338l1,5 1,6 0,6 1,6 0,7 0,8 -1,8 0,8 -1,10 -2,12 -2,12 -4,15 -9,6 -14-12 -11-7 -9-7 -8-5 -7-5 -6-5 -5-4 -5-4 -5-3 -5-4 -5-3 -4-4 -4-4 -5-4 -4-4 -5-4 -5-5 -3-6 -3-6 -4-6 -5-7 -5-8 -6-9 -5-10 -1-10 2-10 3-10 5-8 6-8 8-7 7-7 8-6 9-5 10-3 10-1 10,1 10,3 9,5 8,5 7,6 7,6 5,5 5,6 4,6 4,6 3,6 2,6 2,5 2,5 2,6 2,5 1,5 2,5 1,5zM341,338l1,5 1,6 0,6 1,6 0,7 0,7 0,9 0,9 -1,10 -1,12 -2,13 -4,15 -9,6 -15-12 -11-7 -9-7 -8-5 -7-6 -6-5 -5-4 -6-4 -5-4 -4-3 -5-4 -4-4 -4-4 -5-4 -5-4 -4-4 -6-5 -3-5 -4-6 -4-7 -5-7 -6-8 -6-9 -4-11 -1-10 2-10 4-10 5-9 7-7 7-7 8-6 8-6 9-5 10-3 10-1 10,1 10,3 9,4 8,5 8,5 6,6 6,5 6,6 4,5 4,7 3,6 3,6 2,5 1,6 2,6 1,5 1,5 1,6 1,5zM342,338l0,5 1,6 0,6 0,6 0,7 1,7 0,8 -1,9 0,10 -2,12 -2,13 -3,15 -9,6 -15-12 -11-7 -9-6 -8-6 -7-5 -6-4 -6-5 -5-3 -5-4 -5-3 -4-4 -5-4 -5-3 -4-4 -5-5 -5-4 -6-5 -3-6 -4-6 -4-7 -5-7 -6-8 -6-10 -4-11 -1-10 2-10 4-10 6-8 7-8 7-7 8-6 9-6 9-5 10-3 10-1 10,1 10,3 9,4 8,5 8,5 7,5 6,6 5,5 5,6 4,7 3,6 2,6 3,6 1,6 2,5 1,6 1,5 1,5 0,6zM340,338l1,5 1,6 1,6 0,6 1,7 0,7 0,9 0,9 0,10 -2,12 -2,14 -3,16 -9,6 -15-12 -11-7 -10-7 -8-5 -7-6 -6-5 -6-4 -5-4 -5-4 -5-4 -4-4 -5-4 -4-4 -4-4 -5-4 -5-5 -5-5 -3-5 -4-6 -4-7 -6-7 -6-8 -6-10 -5-11 -1-10 1-11 4-9 5-10 7-8 8-7 8-7 8-6 9-5 10-3 11-1 11,2 10,3 9,4 8,5 8,6 7,6 6,6 5,6 4,6 4,6 3,7 2,6 2,6 2,6 1,5 1,5 1,6 1,5 1,5zM342,338l1,5 1,6 1,6 1,7 0,7 1,8 0,8 -1,10 -1,10 -1,12 -3,13 -3,16 -10,6 -15-13 -12-8 -9-7 -8-6 -7-5 -6-5 -6-4 -5-4 -5-3 -5-4 -5-3 -5-4 -5-4 -5-4 -5-4 -5-4 -5-5 -5-6 -3-7 -5-6 -5-8 -6-9 -6-10 -5-11 -1-11 3-10 4-10 6-9 7-8 8-7 8-6 9-6 9-5 10-3 11-1 10,1 11,3 9,4 9,5 7,6 7,6 6,6 5,6 5,6 3,7 3,7 2,6 2,6 2,5 1,6 1,5 2,5 1,6 1,5zM341,338l1,5 0,6 1,6 0,6 1,7 0,7 0,9 0,9 0,11 -1,12 -2,14 -3,15 -10,7 -15-12 -11-7 -10-7 -8-6 -7-5 -6-5 -6-5 -5-4 -5-4 -5-4 -5-4 -4-4 -5-4 -4-4 -5-4 -5-4 -6-5 -5-5 -4-7 -5-6 -6-8 -7-9 -7-10 -5-11 -1-12 3-11 4-10 6-9 7-8 9-7 9-6 9-5 10-5 10-2 11,0 11,1 10,3 9,5 8,5 8,5 7,6 6,5 6,6 4,6 4,6 3,6 3,6 2,6 2,6 1,6 1,6 1,5 1,5 0,6zM344,338l1,6 0,5 1,7 0,6 1,7 0,8 0,9 0,9 -1,11 -2,12 -2,13 -4,16 -9,6 -16-13 -11-7 -10-7 -8-6 -7-5 -6-5 -6-4 -6-5 -5-3 -5-4 -4-4 -5-4 -5-4 -4-4 -5-4 -5-4 -6-5 -4-6 -4-7 -4-6 -6-8 -7-9 -6-10 -6-11 -1-11 3-11 4-10 6-9 7-8 8-7 9-7 9-6 9-4 11-3 10-1 11,1 10,3 10,4 9,5 8,5 7,6 6,5 6,6 4,7 4,6 4,7 2,6 3,6 1,6 2,6 1,6 1,6 1,5 0,5zM344,338l1,6 1,6 1,6 0,6 1,8 0,8 0,8 0,10 -1,11 -2,12 -2,14 -4,16 -9,7 -16-13 -12-8 -10-7 -8-6 -7-5 -7-5 -6-5 -5-4 -5-4 -5-4 -5-4 -4-4 -5-4 -5-5 -5-4 -5-4 -6-5 -4-6 -5-6 -5-7 -6-8 -8-9 -7-11 -5-11 -1-12 2-11 5-11 6-9 8-8 8-7 10-7 9-5 10-5 11-2 11,0 11,1 10,3 10,5 9,5 7,6 7,6 7,5 5,6 5,7 4,6 3,6 3,7 2,6 2,6 2,5 1,6 1,6 1,5 1,5zM345,338l0,6 1,6 0,6 1,6 1,8 0,8 0,8 0,10 -1,11 -1,13 -2,14 -4,17 -10,6 -16-13 -12-8 -10-6 -8-7 -7-5 -7-5 -6-5 -5-5 -6-4 -5-4 -4-4 -5-4 -5-4 -5-4 -5-4 -6-4 -6-5 -5-6 -5-7 -6-7 -7-8 -8-10 -8-11 -5-12 -1-12 2-12 5-11 7-10 8-8 10-8 10-6 10-5 10-5 12-2 11,0 11,1 11,3 10,5 9,5 8,6 8,5 6,6 6,7 5,6 4,7 3,7 3,6 2,7 2,6 2,6 1,6 0,6 1,6 0,5zM347,338l0,6 1,6 1,6 0,7 0,8 0,8 0,8 0,10 -1,11 -2,12 -2,14 -4,16 -10,7 -16-14 -12-8 -10-7 -8-6 -7-6 -7-5 -6-4 -5-4 -6-4 -5-3 -5-4 -5-4 -5-4 -5-4 -5-4 -6-5 -6-5 -5-6 -5-7 -5-7 -7-8 -8-10 -8-11 -6-12 0-12 2-12 5-11 7-10 8-8 10-8 10-6 10-6 10-4 11-3 12,0 11,1 11,3 10,5 9,5 8,6 8,6 6,6 6,6 5,7 4,7 3,7 3,6 2,7 2,6 2,6 1,6 1,6 1,6 1,5zM343,338l1,6 1,5 0,6 1,7 1,7 1,8 0,9 0,11 0,11 -1,13 -3,15 -3,16 -10,7 -16-13 -12-8 -10-7 -9-6 -8-6 -6-5 -6-5 -6-5 -5-4 -5-4 -4-5 -5-4 -5-4 -5-4 -5-4 -6-4 -6-5 -5-6 -6-7 -6-7 -7-8 -9-10 -8-11 -6-13 0-12 2-12 5-11 7-10 9-9 10-7 10-6 10-5 11-5 11-2 12,0 11,1 11,3 10,5 9,5 8,6 8,5 7,6 5,7 5,6 4,7 4,7 2,7 2,7 2,6 1,7 1,6 0,5 1,6 0,6zM346,338l1,6 0,6 0,6 1,7 0,7 1,8 0,9 0,10 -1,12 -1,12 -2,15 -4,17 -10,7 -16-14 -12-8 -10-6 -9-7 -8-5 -6-6 -6-4 -6-5 -5-4 -6-4 -5-4 -4-4 -5-4 -6-4 -5-5 -6-4 -6-5 -5-6 -6-7 -6-8 -8-8 -9-10 -9-12 -6-13 -1-13 3-12 5-12 8-10 8-9 11-7 10-6 11-6 11-4 12-2 12,0 12,1 11,3 10,5 9,5 9,6 8,6 7,6 6,6 5,7 4,7 4,7 2,7 3,7 1,7 2,6 0,7 1,6 0,6 1,5zM348,338l1,6 0,6 0,7 0,6 0,8 0,8 0,8 0,10 -1,11 -2,13 -2,14 -3,17 -10,7 -17-14 -11-8 -10-6 -9-6 -8-5 -6-5 -7-4 -6-4 -5-4 -6-4 -5-4 -5-4 -5-4 -6-5 -5-4 -5-5 -6-6 -5-6 -5-7 -6-8 -7-8 -9-10 -8-12 -7-13 0-12 2-13 5-11 7-10 9-9 10-8 10-7 11-5 11-5 12-2 12,0 11,1 12,3 10,5 9,6 9,5 8,7 7,6 6,7 5,7 4,7 3,7 3,7 3,6 1,7 2,6 1,6 1,6 1,6 1,6zM347,338l1,6 1,6 0,7 1,6 0,8 0,8 0,9 0,10 -1,11 -2,13 -2,15 -3,17 -11,6 -16-14 -12-8 -10-7 -9-6 -8-5 -6-5 -7-5 -5-4 -6-4 -5-4 -5-4 -6-4 -5-4 -5-4 -5-5 -6-5 -6-5 -6-6 -5-7 -6-7 -8-9 -9-10 -9-12 -6-13 -1-13 3-13 5-11 7-11 9-9 10-8 11-6 11-6 11-4 12-2 12,0 12,2 12,3 10,5 9,6 9,6 8,6 6,7 6,6 5,7 4,8 4,7 2,6 3,7 1,6 2,7 1,6 1,6 1,5 1,6zM350,338l0,6 1,7 1,6 1,8 0,7 0,9 1,10 -1,10 -1,12 -1,13 -3,15 -4,18 -11,6 -17-15 -13-8 -10-8 -9-6 -8-6 -7-6 -6-5 -6-4 -5-4 -5-4 -6-5 -5-3 -5-4 -6-5 -6-4 -6-5 -7-5 -6-6 -7-7 -7-8 -9-9 -11-11 -11-13 -7-15 -1-14 4-13 5-13 8-11 10-10 12-8 12-6 12-6 13-3 13-2 12,0 13,2 12,4 11,5 10,6 9,6 8,7 7,7 6,7 6,7 4,8 3,8 3,7 2,7 2,7 1,6 2,7 0,6 1,6 1,6zM350,338l1,6 1,7 1,7 1,7 0,8 1,9 0,9 -1,11 -1,12 -2,13 -3,15 -4,17 -11,7 -17-16 -13-8 -10-8 -9-6 -8-6 -7-5 -6-5 -6-4 -6-4 -5-4 -6-4 -5-4 -6-4 -6-4 -6-5 -6-5 -6-5 -6-7 -7-7 -7-8 -9-9 -10-11 -11-13 -6-14 -1-15 3-13 6-13 8-11 10-9 11-8 12-7 12-5 13-4 12-2 13,0 13,2 12,3 11,5 10,6 9,6 8,7 7,7 7,7 5,8 4,8 3,8 3,7 2,7 2,7 1,6 2,7 1,6 1,6 1,6zM350,338l1,6 1,7 1,7 0,7 1,8 0,9 0,9 0,11 -1,12 -2,13 -2,16 -4,17 -11,7 -18-15 -12-8 -11-7 -9-7 -8-6 -7-5 -7-5 -6-5 -5-4 -6-4 -5-5 -5-4 -5-5 -6-4 -5-5 -6-5 -6-5 -6-6 -7-7 -7-8 -10-9 -11-11 -11-13 -7-15 -1-14 3-14 5-13 8-11 10-10 11-8 12-7 13-6 13-3 13-2 13,0 13,2 12,4 11,5 10,6 9,7 8,7 7,7 7,7 5,8 4,8 3,8 3,7 2,7 2,7 2,6 1,7 1,6 1,6 1,6zM351,338l1,6 0,7 1,7 1,7 0,8 1,9 0,10 0,11 -1,12 -2,13 -2,16 -4,18 -11,7 -18-15 -13-9 -11-7 -9-7 -8-7 -7-6 -6-5 -6-5 -5-5 -5-4 -5-5 -5-4 -5-4 -6-4 -5-5 -7-4 -6-5 -7-6 -7-7 -8-8 -10-9 -12-11 -11-13 -7-15 -1-15 3-14 6-12 9-12 10-9 12-8 12-6 12-5 13-4 13-2 13,1 13,2 12,3 11,5 10,6 9,6 8,6 8,7 6,7 6,7 4,8 4,8 3,7 3,7 1,7 2,7 1,7 0,6 1,7 1,6zM353,338l0,6 0,7 1,7 0,7 0,8 0,8 -1,9 0,11 -1,11 -2,14 -2,15 -4,17 -11,7 -17-16 -13-8 -10-7 -9-7 -8-5 -7-5 -6-5 -6-4 -6-4 -6-3 -5-4 -6-4 -6-4 -5-5 -7-4 -6-5 -7-6 -6-6 -7-7 -8-9 -10-9 -11-11 -11-14 -7-15 -1-15 4-14 6-13 9-11 10-10 12-8 12-6 13-5 13-4 14-2 13,1 13,2 12,3 11,5 10,6 10,7 8,6 7,7 7,7 5,8 5,8 3,7 4,8 2,7 2,7 2,7 1,6 1,7 1,6 0,7zM354,338l1,7 1,6 1,8 0,7 1,9 0,9 0,10 -1,11 -1,12 -2,14 -3,16 -4,18 -11,7 -19-17 -13-9 -11-8 -9-6 -8-7 -7-5 -7-5 -6-5 -6-4 -6-4 -5-4 -6-4 -6-4 -6-5 -6-4 -6-6 -7-5 -7-7 -8-7 -8-8 -11-10 -13-12 -12-14 -7-16 -1-16 3-15 7-13 9-12 10-11 13-8 13-7 14-5 14-4 14-2 14,0 13,2 13,4 12,5 11,6 10,7 9,7 7,8 7,8 5,8 5,9 4,8 2,8 3,8 1,7 2,7 1,7 1,7 0,6 1,7zM355,338l1,7 0,7 1,7 0,7 1,9 0,9 0,10 -1,11 -1,12 -1,15 -3,16 -4,18 -12,7 -18-16 -13-9 -11-7 -10-7 -8-6 -8-6 -6-5 -7-5 -5-5 -6-4 -5-5 -6-4 -5-5 -6-4 -6-5 -7-5 -7-5 -7-7 -8-7 -10-8 -11-10 -14-12 -13-15 -8-17 -1-16 3-15 7-14 9-13 12-11 13-8 14-6 14-5 15-3 14-1 15,1 13,3 13,4 12,5 11,7 9,7 9,7 8,7 6,8 6,8 5,8 3,8 4,8 2,7 2,8 2,7 1,7 1,6 1,7 1,6zM356,338l0,7 1,7 1,7 0,8 0,8 1,9 -1,10 0,11 -1,13 -3,13 -2,16 -4,19 -12,6 -18-16 -14-9 -11-8 -9-6 -8-6 -8-6 -6-4 -7-5 -6-4 -6-4 -5-5 -6-4 -6-4 -6-5 -6-4 -7-6 -7-5 -7-7 -8-7 -9-9 -12-10 -13-12 -13-15 -8-17 -1-16 4-15 7-14 9-13 12-10 13-9 14-6 14-5 15-3 14-2 14,1 14,2 13,4 12,6 11,6 10,7 8,8 8,7 7,8 5,9 5,8 4,8 3,8 2,7 2,8 2,7 1,7 1,6 1,7 1,6zM360,338l1,7 1,8 1,7 0,9 0,9 0,9 0,11 -1,11 -2,13 -2,14 -3,16 -5,19 -12,7 -19-18 -14-9 -11-8 -10-7 -9-6 -7-6 -7-5 -7-4 -6-5 -6-4 -6-5 -6-4 -6-5 -6-4 -6-6 -6-5 -8-6 -7-6 -9-8 -10-9 -12-10 -15-13 -15-16 -8-17 -1-17 4-16 7-15 10-14 12-11 13-9 16-6 15-5 15-3 16-1 15,1 14,3 14,4 12,6 11,7 10,7 9,8 8,8 7,8 6,9 4,9 4,8 4,8 2,8 3,7 2,7 1,7 2,7 1,7 1,7zM360,338l0,7 1,7 0,8 1,8 0,9 0,9 0,11 -1,11 -1,13 -2,15 -3,17 -4,19 -12,7 -20-17 -14-10 -11-8 -10-6 -9-7 -7-5 -7-5 -7-5 -6-5 -7-4 -6-5 -6-4 -6-4 -7-5 -6-5 -8-5 -7-6 -9-7 -9-8 -11-9 -14-11 -16-14 -16-17 -8-18 -1-18 4-17 8-15 11-14 13-11 16-9 16-6 16-4 16-3 16,0 16,2 15,2 13,5 13,6 12,6 10,8 9,7 8,8 8,8 6,9 5,9 4,8 3,8 3,9 2,7 2,8 1,8 1,7 1,7 0,7z" stroke-opacity="0.50" stroke-width="0.45"/></g><g clip-path="url(#cface)"><g fill="none" stroke="#111" stroke-linejoin="round"><path d="M358,338l1,8 1,9 1,10 2,11 1,12 0,14 0,16 -2,17 -4,21 -6,24 -20-4 -20-16 -16-11 -12-10 -10-9 -9-8 -8-7 -7-7 -7-5 -7-5 -7-5 -8-5 -9-5 -10-5 -11-7 -12-9 -14-11 -17-13 -20-18 -17-22 -5-22 5-21 11-19 14-16 18-12 20-8 21-4 19-2 20,0 18,2 17,5 15,6 14,7 12,8 12,9 9,9 8,11 6,10 5,11 3,11 3,10 1,10 0,9 1,9 0,9zM363,338l1,9 1,9 1,11 0,11 0,12 0,13 -1,16 -3,17 -3,21 -6,24 -20-4 -21-17 -15-10 -13-9 -11-8 -9-7 -9-6 -8-6 -7-5 -8-5 -8-6 -8-5 -9-7 -9-6 -11-8 -11-9 -13-11 -17-14 -21-18 -18-22 -5-24 5-21 10-20 14-17 18-13 20-9 21-6 21-2 20,0 19,2 18,5 16,7 15,8 13,9 11,10 9,11 8,11 6,11 5,11 3,11 3,10 2,10 1,9 1,9 1,9zM364,338l1,9 1,10 1,10 2,12 1,13 0,15 -1,16 -2,19 -4,21 -7,25 -21-4 -22-18 -16-12 -13-10 -11-10 -9-8 -8-7 -8-6 -7-6 -8-5 -8-5 -9-4 -10-6 -12-6 -12-7 -14-10 -15-11 -19-15 -23-20 -19-24 -6-25 6-24 12-20 16-18 20-13 23-8 23-4 22-1 21,1 20,4 18,5 17,7 15,9 13,10 11,9 10,11 8,11 6,11 5,11 3,11 3,11 2,10 1,9 1,9 1,9zM371,338l0,10 0,10 0,10 0,12 -1,12 0,14 -1,17 -3,18 -4,21 -6,25 -21-4 -22-19 -16-11 -13-11 -11-9 -9-8 -8-7 -8-6 -7-5 -8-5 -8-5 -9-5 -9-5 -11-6 -12-8 -14-9 -15-11 -19-15 -23-19 -19-24 -6-25 6-24 12-20 16-17 20-13 22-8 23-4 22-2 21,1 19,3 18,4 17,6 15,8 14,8 12,8 11,10 9,10 8,11 6,12 5,11 4,11 2,12 1,11 1,10 0,10zM375,338l0,10 -1,11 -1,10 -1,12 -1,12 -1,14 -1,16 -2,19 -4,22 -5,28 -22-5 -22-18 -16-10 -14-8 -12-7 -11-7 -9-6 -10-6 -8-7 -9-6 -8-7 -9-7 -9-7 -9-8 -11-8 -14-10 -15-12 -21-15 -25-20 -22-26 -8-28 4-25 10-24 16-20 21-16 24-10 25-6 25-2 24,2 22,4 20,6 19,9 16,10 15,11 12,11 11,12 9,13 7,11 6,12 5,12 4,11 2,11 3,11 1,10 0,11zM378,338l1,11 1,11 0,12 0,12 0,14 -1,15 -2,18 -3,19 -5,23 -7,28 -23-6 -24-20 -17-12 -14-10 -12-9 -10-8 -10-7 -9-6 -8-7 -9-5 -9-6 -9-6 -10-7 -11-7 -12-9 -15-10 -16-12 -21-16 -26-21 -22-27 -7-28 5-26 12-23 17-20 22-15 24-10 26-5 25-2 23,1 23,3 20,6 19,7 17,10 15,11 13,11 11,12 9,13 7,13 6,12 5,12 3,12 3,11 2,11 1,11 1,10zM379,338l1,11 1,11 0,12 0,13 0,14 -1,16 -2,17 -3,20 -4,24 -7,28 -24-5 -24-21 -18-12 -14-10 -12-8 -11-8 -10-7 -10-6 -9-6 -9-7 -9-6 -10-6 -10-8 -11-7 -12-9 -14-11 -16-13 -21-16 -26-21 -22-27 -7-29 5-26 12-24 18-20 21-16 25-9 26-6 25-2 24,1 23,4 21,5 19,8 17,9 15,11 13,12 12,13 9,13 7,13 6,12 4,13 4,12 2,11 2,11 2,11 1,10zM376,338l2,11 1,11 1,12 1,13 0,14 -1,16 -2,17 -3,20 -5,24 -6,28 -24-6 -24-20 -18-12 -14-9 -13-8 -11-6 -11-6 -10-5 -11-6 -10-5 -11-6 -10-7 -11-8 -11-9 -12-11 -13-11 -15-14 -19-17 -24-22 -21-27 -5-27 6-26 12-23 18-20 22-15 24-11 25-5 25-3 23,0 23,2 21,4 19,7 18,10 15,11 14,12 11,13 8,14 7,14 5,14 4,13 2,12 2,12 2,10 1,11 2,10zM382,338l0,11 0,11 0,12 -1,13 0,14 -1,16 -2,17 -2,21 -5,24 -6,29 -24-5 -24-20 -18-12 -15-10 -13-8 -11-8 -10-7 -10-7 -9-6 -9-7 -10-6 -9-7 -10-8 -12-8 -12-9 -14-11 -17-13 -21-16 -27-22 -22-27 -7-29 5-27 13-24 18-20 22-16 26-9 26-5 26-2 24,2 23,3 21,5 19,8 17,9 16,10 13,11 12,12 10,13 8,13 6,13 5,12 4,13 3,12 2,12 1,11 0,11zM384,338l0,11 0,12 -1,12 -1,12 -1,14 -2,15 -2,17 -3,20 -4,24 -6,30 -23-5 -25-20 -17-11 -15-8 -13-7 -12-6 -11-6 -11-6 -10-7 -10-7 -10-7 -10-8 -10-8 -11-9 -12-10 -14-11 -17-14 -22-17 -27-23 -24-28 -7-30 5-28 12-26 18-21 24-16 26-11 28-5 27-1 26,2 23,5 22,6 20,10 18,11 15,12 13,12 11,13 9,13 8,13 6,12 5,12 5,11 3,12 3,11 2,12 2,11zM385,338l1,12 1,12 1,12 0,14 0,15 -1,17 -2,19 -4,21 -5,25 -7,30 -25-6 -26-22 -19-13 -15-10 -13-8 -12-7 -11-7 -11-6 -11-6 -10-7 -11-6 -11-7 -11-8 -12-9 -14-11 -15-12 -17-14 -22-18 -27-23 -24-30 -7-31 7-28 13-25 20-22 24-16 27-10 28-5 28-2 25,2 24,3 23,6 20,8 18,10 16,12 14,12 12,14 10,14 7,14 6,14 5,13 3,13 3,12 2,11 2,12 2,11zM387,338l1,12 1,12 0,13 1,14 -1,15 -1,17 -2,19 -4,21 -5,25 -7,31 -26-7 -26-23 -19-13 -15-11 -13-9 -12-8 -11-6 -10-6 -11-6 -10-6 -11-6 -12-6 -13-8 -13-8 -14-10 -16-13 -19-14 -23-19 -28-24 -23-31 -7-31 7-29 15-26 21-21 25-16 28-10 29-4 28-1 26,2 24,4 23,5 20,8 18,10 17,11 14,12 12,13 10,14 8,14 7,14 5,14 3,13 3,12 2,12 2,12 1,11zM385,338l1,11 0,12 1,13 1,14 1,16 0,17 -2,20 -3,23 -5,26 -7,31 -26-6 -27-23 -19-13 -16-12 -13-9 -12-9 -11-8 -10-7 -10-7 -10-7 -10-6 -10-7 -12-8 -12-8 -14-10 -15-11 -18-14 -23-18 -28-23 -25-30 -7-31 6-29 14-25 20-22 24-16 27-11 28-6 27-3 26,0 24,2 22,3 22,6 20,9 18,10 16,12 13,14 11,15 9,16 6,16 4,16 3,14 1,14 0,14 0,12 0,12z" stroke-opacity="0.15" stroke-width="0.30"/><path d="M364,338l0,9 0,9 -1,10 0,10 -1,11 0,13 -2,14 -1,18 -3,20 -5,24 -19-2 -20-15 -15-9 -13-8 -11-6 -10-6 -9-6 -9-6 -8-6 -8-6 -7-6 -8-7 -7-6 -8-8 -9-8 -10-9 -13-11 -15-13 -20-17 -18-22 -5-22 4-21 10-19 14-16 17-13 19-9 21-5 20-2 19,0 18,3 17,5 16,6 14,8 12,9 11,9 10,9 8,10 6,10 6,10 4,10 4,10 2,10 2,9 1,10 0,9zM366,338l1,9 0,10 1,10 0,11 -1,12 0,14 -2,15 -2,18 -4,20 -6,24 -20-3 -21-17 -15-10 -13-8 -11-8 -10-7 -8-6 -9-6 -8-6 -7-5 -8-6 -8-6 -8-7 -9-7 -10-8 -11-9 -13-11 -16-13 -20-18 -18-22 -5-23 4-21 10-19 15-17 18-12 20-9 20-5 21-2 20,1 18,3 17,5 16,8 14,8 12,9 11,10 9,9 7,11 6,10 5,10 5,9 3,10 3,9 2,9 2,9 2,9zM363,338l0,9 0,9 0,10 1,10 1,13 0,14 0,16 -2,18 -3,22 -5,26 -21-3 -21-17 -16-10 -13-9 -11-9 -10-8 -8-7 -8-7 -7-7 -7-6 -7-6 -8-5 -9-6 -9-6 -11-8 -13-8 -15-11 -18-14 -23-18 -19-24 -6-24 4-23 11-20 15-17 19-14 22-8 22-4 22-2 21,1 19,3 18,5 16,7 15,8 13,9 11,9 10,10 9,10 7,11 5,11 4,11 3,11 2,10 1,10 0,10 0,9zM368,338l0,10 1,9 0,11 0,11 0,13 0,14 -1,16 -2,18 -4,22 -6,26 -21-3 -21-17 -16-10 -14-9 -12-8 -10-8 -9-8 -8-7 -7-7 -7-6 -7-7 -7-6 -8-7 -9-7 -9-7 -12-9 -14-11 -19-13 -22-18 -20-23 -7-24 3-23 10-21 15-18 18-14 21-9 22-5 22-3 21,1 20,4 18,5 17,8 15,9 13,9 11,10 10,11 8,11 7,10 5,11 4,10 4,11 2,10 2,10 2,9 0,10zM372,338l0,10 1,10 -1,11 0,11 -1,13 -1,14 -1,16 -3,17 -4,22 -6,25 -21-4 -22-18 -16-11 -13-8 -11-8 -10-6 -10-6 -9-6 -8-5 -8-6 -9-6 -8-6 -9-7 -10-8 -10-8 -12-10 -14-12 -18-14 -23-19 -19-24 -6-25 4-24 10-21 16-18 19-14 22-10 22-5 23-3 21,1 21,3 19,5 17,8 15,9 14,11 12,10 9,11 8,12 7,11 5,12 5,10 3,11 3,10 2,10 2,10 2,9zM371,338l0,10 0,10 0,11 1,11 0,13 0,15 -2,16 -2,19 -4,22 -6,26 -22-4 -22-19 -17-12 -13-11 -11-9 -10-8 -8-7 -8-7 -7-6 -7-5 -8-6 -9-5 -9-5 -11-7 -12-7 -14-9 -15-11 -20-15 -24-19 -20-25 -6-26 5-24 11-21 16-18 20-14 23-9 23-5 23-2 21,1 21,2 18,5 18,6 16,8 14,9 13,10 11,10 9,12 7,12 6,12 5,12 3,11 1,12 1,11 1,10 0,10zM371,338l0,10 0,10 0,11 0,11 0,13 -1,14 -1,16 -3,18 -4,21 -6,27 -21-5 -22-18 -16-11 -13-8 -11-8 -11-6 -9-5 -10-6 -9-5 -9-5 -9-6 -10-6 -10-7 -11-8 -11-9 -12-10 -15-13 -18-15 -22-20 -19-25 -5-25 6-24 11-21 17-18 20-14 23-8 23-5 23-2 22,1 20,2 19,5 17,7 16,9 13,9 13,10 10,11 8,12 7,11 6,12 4,11 4,11 2,11 2,10 1,10 1,10zM371,338l1,10 1,10 2,12 1,12 0,14 0,16 -1,17 -3,20 -4,22 -7,27 -23-5 -23-20 -17-12 -14-11 -12-10 -9-8 -9-8 -8-7 -8-6 -8-5 -9-5 -9-6 -10-5 -11-7 -13-8 -14-10 -16-12 -20-15 -24-20 -21-26 -5-26 5-25 12-22 17-18 21-14 24-9 24-4 23-2 22,1 21,3 19,5 18,7 16,9 14,9 12,11 11,11 9,12 6,12 6,12 4,12 2,11 2,11 2,11 1,10 1,9zM375,338l2,10 0,11 1,12 -1,12 -1,13 -1,14 -3,16 -3,19 -4,21 -6,27 -22-5 -23-18 -16-11 -14-8 -12-7 -11-6 -10-5 -10-5 -10-6 -9-6 -9-7 -9-7 -9-8 -10-8 -10-10 -11-11 -14-12 -18-15 -22-20 -21-24 -6-26 5-25 10-22 16-19 19-15 22-10 24-6 23-3 23,0 21,3 20,6 18,8 16,10 14,12 12,12 9,12 8,13 7,12 5,11 4,11 4,11 3,10 3,9 2,10 2,10zM370,338l2,10 1,10 1,12 1,12 1,14 0,15 -2,17 -2,20 -4,23 -7,28 -23-5 -23-20 -17-12 -14-10 -12-8 -10-8 -10-7 -9-7 -8-6 -9-6 -8-6 -9-6 -10-7 -11-7 -12-8 -13-10 -16-13 -21-15 -25-21 -21-26 -7-27 4-26 11-23 17-20 20-16 24-10 25-6 24-3 24,1 22,3 21,5 19,8 17,10 15,11 13,13 10,13 8,13 7,14 4,13 4,12 2,12 2,11 1,10 1,10 1,9zM371,338l1,10 1,10 1,12 1,12 2,14 0,16 -1,18 -2,21 -4,24 -6,29 -24-5 -24-20 -18-13 -14-10 -12-9 -11-9 -9-7 -9-7 -9-6 -9-6 -9-6 -10-5 -11-7 -12-7 -13-9 -15-11 -17-13 -20-16 -25-22 -21-26 -6-28 6-26 13-23 18-19 23-14 25-9 25-5 24-2 24,1 21,3 20,4 19,7 17,8 15,10 14,11 11,11 9,13 8,14 5,13 4,13 2,13 1,11 1,12 0,10 0,10zM385,338l1,12 1,11 0,13 -1,13 -1,15 -2,15 -2,18 -4,20 -5,23 -6,30 -25-6 -24-20 -18-12 -15-9 -13-8 -12-7 -11-6 -10-7 -10-6 -9-7 -10-7 -9-8 -9-8 -11-9 -11-10 -13-11 -17-13 -21-16 -27-22 -23-27 -9-30 4-27 12-25 17-22 22-17 26-11 27-6 26-2 26,2 23,4 22,7 20,9 17,12 16,13 12,13 11,13 8,14 7,13 6,12 5,12 4,11 4,11 3,10 3,11 3,11zM382,338l1,11 2,12 1,13 1,13 0,16 -1,17 -2,18 -3,22 -5,24 -8,29 -25-6 -26-23 -18-13 -15-11 -13-10 -11-8 -10-7 -9-7 -10-6 -9-6 -10-6 -11-6 -11-7 -12-8 -13-9 -15-11 -17-14 -22-17 -27-22 -23-29 -6-29 6-28 13-24 18-21 23-16 26-10 27-5 26-3 25,1 23,2 22,5 20,7 18,10 17,11 14,12 12,13 9,14 7,15 6,14 4,13 3,13 2,13 2,11 1,11 1,11zM387,338l-1,11 -1,12 -1,12 -1,12 -1,14 -2,16 -1,18 -3,21 -4,25 -5,30 -25-5 -25-20 -18-11 -15-10 -13-7 -12-8 -11-7 -10-7 -10-6 -10-7 -9-8 -10-7 -11-8 -11-8 -13-10 -15-11 -18-14 -23-17 -29-23 -24-29 -8-31 5-29 13-25 20-22 24-16 28-10 28-5 27,0 26,2 24,5 22,6 20,8 18,10 16,11 14,12 12,12 10,12 9,13 7,13 6,13 4,12 4,13 2,12 1,13 0,11zM383,338l2,11 2,12 1,13 1,14 0,16 -1,17 -3,18 -4,21 -5,24 -8,29 -25-7 -26-22 -18-14 -15-11 -13-8 -11-8 -10-7 -10-6 -10-6 -10-6 -10-6 -11-6 -11-8 -12-8 -13-10 -14-11 -17-14 -22-17 -27-23 -24-28 -7-30 5-28 12-26 18-22 23-17 26-11 27-7 27-3 26,0 24,2 23,4 21,8 19,11 17,12 14,14 12,15 9,16 7,15 5,15 4,14 3,13 2,12 1,11 2,11 2,11z" stroke-opacity="0.30" stroke-width="0.50"/></g></g>
<polygon points="19.0,393.5 55.0,398.0 100.0,409.4 145.5,424.0 168.0,431.3 190.0,438.5 190.6,438.7 200.0,441.5 200.0,458.7 190.6,456.3 190.0,456.1 168.0,447.1 145.5,440.1 100.0,426.4 55.0,415.9 19.0,411.4" fill="#1c68f0" fill-opacity="0.3"/>
<path d="M18.7,394.2l2.0,16.5M21.1,392.8l1.8,14.8M22.6,393.8l1.6,13.3M23.5,393.5l1.7,14.0M28.3,394.8l1.9,15.5M29.5,395.4l1.8,15.0M30.1,395.3l2.0,16.9M32.3,396.1l1.8,14.9M34.4,395.5l1.9,15.4M35.2,394.9l1.8,15.4M36.1,395.9l1.9,15.5M37.8,396.5l2.0,16.5M39.1,395.5l1.6,13.1M40.7,396.2l1.5,12.8M42.4,395.5l1.6,13.3M44.4,397.0l1.7,14.1M45.3,396.4l2.0,16.5M46.4,397.8l1.9,15.9M47.8,396.2l1.9,15.9M48.7,398.2l1.8,15.4M49.2,397.6l1.8,15.1M51.1,397.2l2.0,16.8M53.2,398.7l1.5,12.5M55.8,398.3l1.7,13.9M60.0,398.4l1.5,12.6M61.2,399.4l1.6,13.7M62.5,399.9l1.5,12.5M64.0,399.9l1.9,15.7M64.9,401.5l2.1,17.6M65.9,400.9l1.8,15.3M67.6,401.5l2.1,17.1M68.3,402.1l2.0,16.8M69.4,401.8l1.7,14.4M70.3,401.0l1.5,12.8M75.3,403.6l1.9,16.1M77.0,403.7l2.0,16.4M77.7,402.8l1.9,16.1M79.7,404.5l1.7,14.1M80.9,404.4l1.8,15.0M82.5,405.3l1.5,12.9M85.8,406.0l1.6,13.2M86.6,405.1l1.8,15.4M90.5,406.9l1.6,13.1M91.5,406.5l1.9,15.6M92.0,407.9l1.5,12.1M93.2,407.9l2.0,16.6M95.9,407.9l1.4,12.0M96.9,409.6l1.7,13.8M97.9,408.5l1.8,14.8M99.7,409.6l1.7,14.1M101.9,409.8l1.7,14.3M102.7,410.3l1.7,14.5M107.4,411.1l2.0,16.3M110.0,412.0l2.0,17.0M111.2,412.7l1.6,13.7M112.3,414.0l1.5,12.3M112.8,414.1l1.9,15.9M116.9,414.1l1.5,12.2M117.6,415.5l1.8,15.2M118.7,414.6l1.7,13.8M120.5,416.7l1.3,11.2M122.6,416.1l1.9,15.7M123.9,416.2l1.8,15.0M125.7,416.7l1.5,12.3M126.1,417.7l1.7,14.6M127.6,417.3l1.7,14.1M129.3,419.7l1.7,14.5M130.2,418.8l1.7,14.3M131.0,419.2l1.4,11.6M132.2,420.2l1.7,13.9M132.7,420.7l1.7,14.1M134.2,420.3l1.4,12.1M135.9,420.1l2.0,16.8M137.6,421.3l1.5,12.3M140.0,422.7l1.7,14.5M140.9,422.1l1.5,12.4M142.3,422.7l1.5,12.4M143.2,424.1l1.5,12.5M145.7,424.7l1.4,11.3M147.2,424.5l1.9,15.9M148.3,425.1l1.9,16.2M148.8,424.3l1.8,14.7M154.8,426.9l1.8,14.7M158.6,428.5l1.5,12.6M161.8,430.2l1.8,14.8M162.4,430.0l1.6,13.2M163.3,429.6l1.4,11.5M164.4,429.7l2.0,16.6M166.8,430.5l1.5,12.4M168.4,430.6l1.6,13.1M169.0,432.5l1.9,16.0M170.2,431.3l1.6,13.1M171.3,433.0l1.8,14.9M172.8,433.7l1.4,11.5M174.2,432.9l1.6,13.0M176.1,434.9l1.4,11.9M177.0,433.7l1.5,12.6M177.4,434.5l1.6,13.2M178.3,434.5l1.5,12.5M179.4,435.0l1.6,13.0M181.7,436.6l1.5,12.8M183.9,435.6l1.6,13.7M185.4,438.0l1.5,12.8M186.8,437.9l1.5,12.6M191.1,439.1l1.7,14.6M192.2,439.4l1.9,15.8M192.6,439.2l1.9,15.6M194.8,440.6l1.8,14.8M196.9,441.3l1.5,12.4M197.5,440.7l1.5,12.4" stroke="#1c68f0" stroke-opacity="0.85" stroke-width="0.8" fill="none"/><path d="M27.6,394.7l1.6,13.0M36.8,395.9l1.9,15.9M39.6,396.1l1.7,13.8M41.5,397.1l1.8,15.2M43.8,396.7l1.5,12.5M57.2,399.2l1.6,13.5M71.2,402.8l1.5,12.5M83.3,405.7l2.0,16.6M88.2,407.2l2.1,17.2M93.9,408.0l1.5,12.6M95.4,408.3l1.6,13.4M98.8,409.0l1.6,13.5M104.5,411.3l1.7,14.2M106.6,411.7l1.6,13.7M108.3,412.6l1.6,13.7M109.3,413.3l1.8,14.7M114.2,414.6l1.3,10.5M114.9,414.7l1.9,15.9M116.3,414.5l1.9,15.5M124.5,418.1l1.4,12.0M128.4,419.0l1.6,13.6M138.9,422.8l1.7,14.3M141.4,422.8l1.3,10.6M153.1,426.6l1.8,14.8M154.3,426.4l1.4,11.7M156.1,427.4l1.5,12.2M165.4,430.4l1.8,14.7M180.6,435.5l1.5,12.2M182.1,435.5l1.5,12.4M186.1,436.5l1.6,13.1M187.7,437.0l1.6,13.5M193.8,439.5l1.6,13.0M199.4,441.5l2.0,16.4" stroke="#3a78f4" stroke-opacity="0.8" stroke-width="0.8" fill="none"/><path d="M20.1,394.2l1.6,13.5M22.2,393.0l1.6,13.1M25.0,394.4l2.0,16.4M25.4,394.0l1.9,15.7M26.9,394.8l1.6,13.6M31.4,396.0l1.9,15.6M33.6,394.3l1.9,16.1M50.2,397.4l1.6,13.2M52.4,398.3l2.1,17.1M54.5,397.4l2.0,16.4M55.0,397.6l2.0,16.8M58.0,398.2l1.6,13.7M59.2,399.0l1.6,13.2M61.4,400.5l1.5,12.7M66.4,400.4l1.6,13.5M72.5,401.8l1.8,15.2M72.9,402.6l2.1,17.3M74.4,402.0l1.6,13.4M76.2,403.7l1.7,14.1M78.7,403.3l1.6,13.7M81.7,404.2l1.7,14.3M84.5,405.9l1.8,15.2M87.1,406.6l1.3,10.9M89.4,407.1l1.5,12.9M100.8,410.4l1.8,15.4M103.5,411.2l1.6,13.6M105.5,411.4l1.9,15.4M119.5,414.7l1.8,14.7M121.6,416.1l1.5,12.9M134.9,419.8l1.6,13.2M137.0,420.9l1.4,11.5M144.4,424.5l1.7,14.0M146.5,424.7l1.8,14.8M150.2,425.6l1.4,12.1M150.8,426.5l1.3,10.8M151.8,426.8l1.5,12.6M156.5,427.2l1.8,14.9M157.8,428.1l1.6,13.3M159.6,429.6l1.3,10.8M160.6,428.7l1.4,12.1M166.6,431.3l1.4,11.5M171.8,432.6l2.0,16.5M175.0,433.3l1.8,14.9M183.5,435.8l1.6,13.0M189.2,437.8l1.9,15.5M190.2,438.9l1.9,16.0M195.8,439.6l2.2,18.0M198.8,441.4l1.3,11.0" stroke="#0a30e0" stroke-opacity="0.85" stroke-width="0.8" fill="none"/><path d="M20.7,410.7l0.9,7.8M21.7,407.7l0.8,6.4M23.7,406.0l0.7,6.2M24.2,407.1l0.7,6.2M25.2,407.5l0.8,6.6M27.3,409.7l0.9,7.4M29.1,407.8l0.7,6.1M30.1,410.2l0.9,7.3M31.3,410.3l0.8,7.0M32.1,412.2l1.0,7.9M33.2,411.6l0.9,7.4M34.1,411.0l0.8,7.0M35.5,410.5l0.9,7.6M37.1,410.3l0.9,7.3M38.0,411.4l0.9,7.3M39.8,413.0l0.9,7.7M40.7,408.6l0.7,6.1M41.3,409.9l0.8,6.5M42.3,409.0l0.7,6.0M44.0,408.8l0.8,6.3M45.3,409.2l0.7,5.9M46.1,411.1l0.8,6.6M48.3,413.7l0.9,7.5M49.7,412.0l0.9,7.5M50.6,413.5l0.9,7.2M51.0,412.7l0.9,7.1M51.8,410.6l0.7,6.2M53.1,414.0l1.0,7.9M54.4,415.5l1.0,8.1M54.7,411.3l0.7,5.9M56.4,413.7l0.9,7.7M58.8,412.7l0.8,6.3M59.6,411.9l0.8,6.4M60.8,412.2l0.7,6.2M61.5,411.1l0.7,5.9M62.8,413.1l0.8,6.5M63.0,413.1l0.7,6.0M64.0,412.4l0.7,5.9M65.9,415.6l0.9,7.4M67.0,419.1l1.0,8.3M67.7,416.1l0.9,7.2M68.0,413.8l0.8,6.3M69.6,418.6l1.0,8.0M70.3,418.9l0.9,7.9M71.1,416.2l0.8,6.8M72.7,415.3l0.7,5.9M74.4,417.0l0.9,7.1M74.9,419.9l1.0,8.2M77.2,419.7l0.9,7.6M79.0,420.1l0.9,7.7M79.7,418.9l0.9,7.6M80.4,416.9l0.8,6.4M81.4,418.6l0.8,6.6M82.7,419.4l0.8,7.0M87.4,419.2l0.7,6.2M88.5,420.5l0.9,7.2M88.5,417.5l0.6,5.1M91.0,420.0l0.7,6.1M93.4,422.1l0.9,7.3M93.4,420.0l0.7,5.7M95.2,424.5l0.9,7.8M97.0,421.7l0.8,6.3M97.3,419.9l0.7,5.6M98.6,423.4l0.8,6.5M99.7,423.3l0.8,7.0M100.4,422.5l0.8,6.4M101.4,423.7l0.8,6.6M102.6,425.8l0.9,7.2M103.6,424.1l0.8,6.7M104.4,424.8l0.8,6.8M105.1,424.8l0.8,6.4M106.2,425.5l0.8,6.7M109.3,427.3l0.9,7.7M110.0,426.3l0.8,6.4M111.0,428.0l0.8,6.9M112.8,426.4l0.8,6.5M113.7,426.2l0.7,5.8M115.4,425.1l0.6,4.9M116.8,430.6l0.9,7.5M118.1,430.0l0.9,7.3M119.4,430.7l0.9,7.2M121.3,429.5l0.8,6.9M121.9,427.9l0.6,5.3M123.1,429.0l0.7,6.1M125.7,431.2l0.8,7.1M126.0,430.1l0.7,5.7M127.2,429.0l0.7,5.8M127.8,432.2l0.8,6.8M129.2,431.4l0.8,6.6M130.0,432.6l0.8,6.4M131.9,433.1l0.8,6.7M132.4,430.7l0.7,5.4M134.4,434.9l0.8,6.6M135.6,432.4l0.7,5.7M136.4,433.0l0.7,6.2M137.9,436.8l0.9,7.9M139.1,433.7l0.7,5.8M140.6,437.1l0.8,6.7M142.3,434.5l0.7,5.8M142.7,433.5l0.6,5.0M143.8,435.1l0.7,5.8M148.3,439.6l0.8,7.0M149.1,440.3l0.9,7.5M150.3,441.3l0.9,7.6M150.6,439.0l0.8,6.9M151.7,437.7l0.7,5.7M152.1,437.3l0.6,5.1M153.4,439.5l0.7,5.9M155.7,438.1l0.7,5.5M156.6,441.5l0.8,6.9M157.5,439.6l0.7,5.8M158.3,442.1l0.8,7.0M160.1,441.1l0.7,5.9M160.9,440.3l0.6,5.1M162.0,440.7l0.7,5.7M163.9,443.2l0.7,6.2M166.4,446.4l0.9,7.8M167.2,445.1l0.8,6.9M168.0,442.8l0.7,5.4M168.3,442.9l0.7,5.8M170.0,443.8l0.7,6.2M170.9,448.6l0.9,7.5M173.1,447.9l0.8,7.0M173.8,449.0l0.9,7.7M175.8,445.9l0.7,6.1M176.8,448.2l0.8,7.0M178.5,446.3l0.7,5.9M179.0,447.7l0.7,6.2M179.8,447.1l0.7,5.9M182.1,447.7l0.7,5.7M183.2,449.3l0.7,6.0M183.6,447.8l0.7,5.8M185.0,448.8l0.7,6.1M185.6,449.3l0.8,6.4M186.9,450.8l0.7,6.0M187.6,449.6l0.7,6.2M188.3,450.6l0.7,5.9M189.4,450.6l0.8,6.4M191.0,453.3l0.9,7.3M192.2,454.9l0.9,7.5M192.8,453.6l0.8,6.9M194.1,455.3l0.9,7.5M194.5,454.8l0.9,7.3M195.3,452.5l0.7,6.1M196.6,455.5l0.8,7.0M198.0,457.6l1.0,8.5M199.0,453.1l0.7,5.8M200.1,452.3l0.6,5.2M201.4,457.8l0.9,7.7" stroke="#5898ea" stroke-opacity="0.45" stroke-width="0.8" fill="none"/><path d="M22.9,407.5l0.8,7.0M26.9,410.8l0.9,7.7M28.5,408.4l0.8,6.4M36.3,410.9l0.9,7.3M38.7,411.8l0.9,7.5M43.3,412.3l0.9,7.2M47.2,412.9l0.9,7.8M57.0,414.4l0.9,7.9M57.4,412.2l0.8,6.5M71.9,413.9l0.7,6.0M76.0,415.4l0.8,6.3M77.9,417.8l0.8,6.6M83.4,418.5l0.8,6.7M84.0,418.1l0.7,6.1M85.3,422.3l0.9,7.8M86.3,421.0l0.9,7.1M90.2,424.4l1.0,8.1M92.1,420.0l0.7,6.2M95.4,420.6l0.7,5.9M107.4,426.9l0.9,7.3M108.3,425.5l0.8,6.5M112.0,429.0l1.0,8.0M114.7,430.0l0.9,7.5M118.3,426.2l0.7,5.7M120.4,428.4l0.8,6.5M124.5,431.8l0.9,7.4M131.0,434.2l0.8,6.8M133.9,434.2l0.8,6.6M138.4,432.3l0.6,5.4M141.8,437.2l0.8,6.8M144.7,436.6l0.7,5.9M146.1,438.5l0.8,6.6M147.0,435.9l0.6,5.3M154.9,441.4l0.8,7.0M159.4,441.4l0.8,6.3M163.6,444.9l0.8,6.9M164.7,441.2l0.7,5.4M171.8,444.4l0.7,6.2M174.2,445.2l0.6,5.4M177.5,446.8l0.7,5.6M181.0,448.0l0.7,6.1M198.4,453.7l0.7,5.8" stroke="#90b8f0" stroke-opacity="0.5" stroke-width="0.8" fill="none"/>
<polygon points="19.0,536.0 55.0,544.0 100.0,563.0 145.5,579.0 191.0,592.0 236.0,603.5 260.0,612.3 270.0,616.0 281.6,619.5 293.0,623.0 297.4,624.0 300.0,624.6 300.0,665.8 297.4,660.8 293.0,654.8 281.6,639.2 270.0,632.8 260.0,627.1 236.0,618.9 191.0,609.2 145.5,599.2 100.0,586.6 55.0,573.2 19.0,563.0" fill="#1a48f0" fill-opacity="0.3"/>
<path d="M20.1,535.9l2.8,23.1M21.8,536.2l2.7,22.3M22.7,537.6l2.7,22.3M26.6,537.7l2.6,21.4M27.4,538.6l3.0,24.8M30.4,538.6l2.8,23.6M34.0,540.1l2.6,21.8M34.9,539.9l2.4,19.6M35.7,539.2l3.2,26.8M37.0,539.1l3.4,28.1M38.1,540.7l2.6,22.0M39.9,540.1l3.1,25.6M41.1,540.2l3.0,25.1M42.1,540.7l3.0,25.0M42.5,540.3l2.8,23.3M43.7,542.5l2.8,23.5M45.5,542.0l2.8,23.1M46.7,541.6l2.8,23.6M47.5,542.3l2.7,22.7M48.8,543.1l2.8,23.5M51.9,543.2l2.9,24.0M52.9,543.1l2.7,22.4M56.9,544.7l3.2,26.9M58.3,546.0l2.9,24.6M60.1,545.3l2.6,21.9M61.6,546.2l2.9,24.3M62.4,547.2l3.0,24.9M65.0,548.8l3.0,24.9M65.6,549.2l2.6,21.3M67.6,549.7l2.8,22.9M68.3,550.0l3.0,24.8M69.5,550.9l2.7,22.1M70.5,550.7l2.8,23.3M71.5,550.3l2.9,24.1M71.9,551.4l2.8,23.2M72.9,552.5l2.6,21.5M74.2,552.6l2.6,21.5M75.1,551.5l2.4,20.0M76.7,552.9l2.8,23.0M78.3,553.6l2.7,22.9M81.0,554.2l2.8,23.4M81.9,555.6l2.6,21.5M82.5,556.5l2.2,18.1M83.5,555.2l2.8,23.0M85.2,556.2l2.3,19.6M86.7,556.8l2.7,22.6M89.1,558.7l2.7,22.1M90.6,558.7l2.3,19.5M93.8,559.8l2.4,19.8M94.8,560.3l2.6,21.8M98.2,562.0l2.4,19.6M99.7,562.7l2.6,21.6M100.4,564.0l2.3,18.8M101.9,562.7l2.3,18.8M102.7,563.1l2.6,22.0M103.4,564.1l2.5,21.1M105.2,564.8l2.2,18.7M107.5,565.7l2.7,22.6M108.4,565.4l2.4,19.7M109.2,566.8l2.4,20.2M110.8,566.9l2.2,18.4M112.2,567.8l2.4,19.8M113.3,568.3l2.5,20.5M119.0,570.1l2.4,20.0M119.7,569.4l2.1,17.4M121.7,570.9l2.4,19.6M122.8,570.6l1.8,15.2M123.4,570.7l2.4,20.3M124.7,570.7l2.5,20.4M128.0,572.3l1.9,15.8M129.1,573.1l2.5,20.8M129.9,573.0l2.1,17.5M131.2,573.1l2.4,19.8M132.8,573.6l2.3,19.4M134.0,575.2l2.0,17.0M134.6,575.5l2.2,18.1M138.1,576.4l2.6,21.3M142.8,577.3l2.3,19.4M144.4,578.7l1.8,15.4M145.3,578.7l2.3,19.3M146.3,580.1l2.1,17.5M148.3,579.3l2.0,17.0M149.9,581.0l2.2,18.5M150.9,581.0l1.8,14.9M155.5,582.2l2.1,17.2M157.0,582.1l2.2,18.3M157.9,583.3l1.9,16.2M159.4,583.6l1.9,15.9M160.9,583.3l1.8,15.3M163.3,584.7l1.8,15.3M165.1,585.2l2.1,17.4M166.5,585.2l2.0,16.6M168.8,586.2l1.7,14.5M169.7,586.7l1.7,14.0M171.3,585.7l2.0,16.4M173.1,586.5l1.5,12.5M173.6,587.2l1.9,15.9M175.9,588.4l1.5,12.2M177.7,587.9l2.0,17.0M179.3,589.1l2.0,16.7M181.3,589.9l1.6,13.2M183.2,589.0l1.7,14.0M184.6,589.8l2.0,16.7M185.6,590.8l1.4,11.9M188.1,590.8l1.9,15.5M188.8,590.8l1.7,14.4M189.8,591.8l1.7,14.3M191.3,592.7l1.6,13.1M192.5,593.0l1.7,13.8M195.9,592.8l1.8,14.9M196.3,592.4l1.9,16.0M197.9,593.8l1.7,13.8M204.6,594.6l2.0,16.8M205.5,596.0l1.7,14.3M206.5,595.9l1.7,14.0M207.0,595.6l1.6,13.3M207.9,596.6l1.4,11.5M212.1,596.5l1.5,12.4M214.3,597.5l1.6,13.1M216.7,598.1l1.7,13.9M217.8,598.3l1.4,11.9M219.7,600.2l2.0,16.5M221.7,599.7l1.8,15.1M223.0,599.6l1.5,12.8M224.1,600.1l1.4,11.6M224.8,601.5l1.3,11.1M226.4,601.6l1.3,10.8M230.5,601.3l1.6,13.2M231.9,603.1l1.7,14.2M233.0,602.3l1.6,13.7M233.6,603.6l1.6,13.2M235.6,603.7l1.3,11.2M237.6,604.8l1.2,9.9M242.1,606.3l1.3,10.8M243.1,606.2l1.8,15.4M243.9,605.9l1.6,13.6M245.1,606.8l1.7,13.9M246.1,607.5l1.4,12.0M247.3,607.0l1.3,11.2M249.7,608.7l1.7,14.3M251.8,609.7l1.6,12.9M255.4,611.1l1.8,15.0M257.8,611.2l1.2,10.4M259.4,612.1l1.5,12.7M260.2,613.4l1.5,12.7M262.5,613.9l1.2,10.0M264.9,614.4l1.8,15.1M265.8,615.2l1.3,11.2M267.0,615.4l1.6,13.3M267.6,614.9l1.5,12.2M269.2,616.1l1.6,13.5M271.1,616.2l1.5,12.2M271.8,617.3l2.0,16.8M272.5,616.2l2.0,16.7M273.4,618.0l1.5,12.7M274.9,616.6l1.9,15.6M275.8,617.2l1.8,14.7M276.7,617.7l2.2,18.0M277.4,617.6l2.1,17.7M281.1,619.6l1.8,14.8M282.3,620.6l1.9,15.6M283.9,620.4l2.2,18.6M285.2,619.7l2.8,23.0M285.9,620.5l2.4,19.8M288.0,620.9l2.5,20.5M288.6,622.0l2.7,22.6M289.8,622.1l3.3,27.4M290.5,622.9l2.8,23.1M292.5,623.8l3.0,25.0M293.6,622.2l3.3,27.4M299.2,624.9l3.7,31.0" stroke="#1a48f0" stroke-opacity="0.85" stroke-width="0.8" fill="none"/><path d="M23.6,536.3l2.6,21.5M25.0,537.9l2.7,22.2M25.5,538.4l3.1,26.1M28.7,538.1l2.7,22.4M32.6,538.4l3.2,26.8M44.5,541.8l2.8,23.3M53.9,543.9l2.9,24.0M54.8,543.2l2.6,21.6M56.2,543.6l3.0,24.6M60.5,545.5l2.9,24.4M63.8,547.2l3.1,26.1M80.0,554.2l2.6,21.8M87.3,558.4l2.7,22.8M88.5,558.7l2.5,21.0M95.6,560.4l2.7,22.7M96.9,562.4l2.2,18.1M104.3,565.3l2.5,20.6M110.4,567.6l2.0,16.6M114.9,567.8l2.0,16.8M116.2,568.8l2.2,18.5M125.3,571.0l2.2,17.9M127.1,572.9l2.3,19.5M132.1,574.3l2.3,19.0M136.5,576.4l1.8,15.3M139.7,577.2l2.1,17.1M140.3,577.3l2.2,18.5M143.1,578.0l2.1,17.9M148.9,580.5l2.1,17.8M152.0,580.9l1.8,15.2M154.9,582.2l2.1,17.5M158.6,582.0l2.3,19.4M162.7,584.2l2.0,17.0M168.2,586.1l1.7,14.2M175.0,586.7l1.7,14.1M182.4,588.7l2.1,17.4M187.4,591.4l1.5,12.4M200.5,594.9l1.8,15.4M203.1,594.7l1.7,14.1M210.1,596.8l1.8,15.0M213.1,598.5l1.3,10.9M213.7,597.3l1.8,14.9M218.3,598.2l1.9,15.5M222.1,600.2l1.4,11.4M229.1,601.8l1.7,13.8M230.1,601.6l1.9,15.5M240.2,605.4l1.5,12.1M247.7,607.2l1.4,11.6M249.0,608.1l1.8,14.9M250.6,609.1l1.4,11.7M252.5,609.1l1.8,14.8M254.8,611.2l1.4,11.6M258.6,611.3l1.5,12.6M263.7,614.3l1.8,14.6M269.5,615.9l1.9,15.8M278.1,618.0l2.0,16.3M280.3,619.0l1.9,15.7M283.1,619.7l2.1,17.3M287.0,620.6l2.6,21.4M294.7,622.6l3.3,27.7M295.8,624.1l3.2,26.9M296.5,624.3l3.7,30.9" stroke="#3a78f4" stroke-opacity="0.8" stroke-width="0.8" fill="none"/><path d="M19.3,537.0l2.5,21.2M20.8,536.2l2.6,22.1M29.8,537.9l3.2,26.4M31.4,539.6l3.0,25.0M33.0,539.9l2.5,20.9M39.2,541.0l2.9,24.4M49.3,542.8l2.9,24.1M50.4,543.8l3.0,25.1M50.9,543.5l2.7,22.8M58.9,545.2l2.8,23.4M66.7,549.8l2.9,23.9M76.2,552.8l2.7,22.2M78.7,554.3l2.6,21.6M84.8,557.4l2.4,20.1M90.9,558.2l2.5,21.1M92.3,559.6l2.6,21.8M92.9,560.3l2.3,19.2M98.9,562.7l2.2,18.4M106.1,564.6l2.3,18.8M114.1,568.0l1.9,16.0M117.0,568.2l2.5,21.0M117.7,569.3l2.2,18.0M120.7,569.9l2.0,16.8M126.6,573.2l2.0,16.4M135.8,576.5l2.0,16.7M138.3,576.8l2.3,19.0M141.9,576.8l1.9,15.7M147.0,579.1l1.7,14.2M153.0,581.9l2.0,16.9M154.0,581.7l1.8,14.9M161.7,582.7l1.9,15.9M164.4,584.5l1.6,13.7M167.1,584.5l1.7,14.2M171.6,585.8l2.0,17.0M176.4,588.4l1.7,13.9M178.2,587.4l1.9,15.9M180.2,589.2l2.2,18.3M186.4,590.1l1.7,13.8M191.8,591.2l1.7,14.2M193.6,592.2l1.6,13.3M194.7,592.9l1.8,15.4M198.8,594.5l2.0,16.5M199.5,595.0l1.5,12.8M201.4,595.5l1.7,14.3M202.6,595.7l1.9,15.6M209.4,596.9l1.4,11.6M210.6,596.0l1.5,12.5M215.8,597.7l2.1,17.3M220.4,599.8l1.7,14.1M226.8,601.3l1.6,13.3M228.2,600.8l1.7,14.6M234.9,603.0l1.7,14.1M236.7,604.1l1.5,12.9M238.2,603.9l1.6,13.5M239.7,605.5l1.2,10.4M241.0,605.6l1.3,10.9M253.6,610.6l1.5,12.2M256.6,610.5l1.9,16.1M261.4,612.0l1.5,12.8M263.4,613.0l1.9,16.2M279.5,619.3l2.0,16.7M291.5,621.6l3.1,25.4M297.5,624.9l3.9,32.4M298.1,623.2l3.9,32.5" stroke="#0a30e0" stroke-opacity="0.85" stroke-width="0.8" fill="none"/><path d="M21.9,558.2l1.2,10.0M22.8,558.9l1.3,10.9M23.5,558.3l1.2,10.4M24.5,558.5l1.3,10.5M25.4,559.9l1.3,10.5M26.2,557.8l1.2,10.1M28.7,564.5l1.5,12.3M31.4,560.5l1.3,10.5M32.9,564.3l1.5,12.4M33.2,562.2l1.3,11.1M34.4,564.6l1.4,11.8M35.8,565.2l1.5,12.6M35.5,560.7l1.2,9.8M36.6,561.9l1.2,10.2M37.3,559.5l1.1,9.2M39.0,566.0l1.5,12.6M40.3,567.2l1.6,13.2M40.7,562.7l1.2,10.3M42.1,565.3l1.4,11.5M43.0,565.7l1.4,12.1M44.2,565.3l1.4,11.8M45.2,565.7l1.4,11.8M45.3,563.6l1.3,11.0M46.5,565.9l1.3,11.0M47.3,565.1l1.3,11.0M48.3,565.1l1.3,10.9M49.5,565.2l1.3,11.1M51.6,566.6l1.3,11.1M52.2,566.9l1.4,11.3M53.4,569.0l1.4,11.8M53.7,566.2l1.3,10.7M54.8,567.2l1.4,11.3M56.8,567.9l1.4,11.3M59.2,568.2l1.4,11.6M60.1,571.6l1.5,12.6M61.2,570.6l1.4,11.6M61.7,568.5l1.3,11.0M62.7,567.2l1.2,10.3M63.4,569.9l1.4,11.5M64.5,570.5l1.4,11.4M65.4,572.1l1.4,11.7M66.9,573.3l1.5,12.3M68.0,573.6l1.4,11.7M68.2,570.5l1.2,10.0M69.5,573.7l1.3,11.2M70.4,572.6l1.3,10.8M71.3,574.7l1.4,11.7M74.7,574.5l1.3,10.9M76.8,574.1l1.2,10.1M78.9,575.0l1.3,10.5M79.4,575.9l1.3,10.8M81.3,575.9l1.2,10.2M82.7,576.0l1.2,10.3M84.5,577.1l1.2,10.1M84.7,574.7l1.0,8.5M86.2,578.2l1.3,10.8M87.3,577.6l1.1,9.5M87.5,575.8l1.1,9.2M91.8,580.8l1.2,10.4M95.0,581.4l1.2,10.3M95.2,579.5l1.1,9.0M96.2,579.6l1.1,9.3M98.3,583.2l1.3,10.7M99.1,580.5l1.0,8.5M102.7,582.8l1.1,8.8M104.1,581.5l1.1,8.8M105.9,585.2l1.2,9.9M107.4,583.6l1.1,8.8M110.8,585.0l1.1,9.3M111.6,587.0l1.1,9.5M112.4,584.3l0.9,7.8M113.0,585.3l1.0,8.7M115.8,588.8l1.2,9.6M116.9,584.6l0.9,7.9M118.4,587.4l1.0,8.7M119.5,589.2l1.2,9.9M119.8,587.3l1.0,8.5M121.4,590.1l1.1,9.4M121.8,586.8l1.0,8.2M122.7,586.7l0.9,7.9M124.0,590.5l1.1,9.2M124.6,585.8l0.9,7.2M125.8,591.0l1.1,9.6M127.2,591.2l1.2,9.6M127.5,589.0l1.0,8.4M129.4,592.4l1.1,9.2M129.9,588.1l0.9,7.4M131.6,593.9l1.2,9.8M133.6,592.9l1.1,9.3M134.3,593.3l1.1,8.9M135.1,592.9l1.1,9.1M136.0,592.2l1.0,8.0M136.8,593.6l1.0,8.5M137.8,593.2l0.9,7.9M140.6,595.9l1.1,9.0M141.7,594.3l1.0,8.0M142.5,595.8l1.0,8.7M143.7,592.5l0.9,7.4M145.1,596.7l1.1,9.1M145.2,595.8l1.0,8.4M146.3,594.1l0.9,7.3M147.6,598.0l1.1,9.1M148.3,597.6l1.0,8.2M148.7,593.3l0.8,6.7M150.3,596.2l1.0,8.0M151.1,598.3l1.0,8.4M152.2,599.5l1.0,8.7M152.6,595.8l0.8,7.0M153.9,596.1l0.9,7.1M155.0,598.8l1.0,7.9M155.8,596.6l0.8,7.0M157.0,599.7l1.0,8.2M159.2,600.4l1.0,8.6M159.9,599.5l0.9,7.6M160.9,601.4l1.1,9.1M161.3,599.6l0.9,7.5M162.7,598.5l0.9,7.2M164.8,601.2l1.0,8.0M165.1,600.1l0.9,7.2M166.0,598.3l0.8,6.5M167.2,602.6l1.0,8.2M168.5,601.8l0.9,7.8M169.9,600.2l0.8,6.7M171.4,600.7l0.8,6.6M173.7,602.8l1.0,8.0M174.6,599.0l0.7,5.9M175.5,603.1l0.9,7.5M177.3,600.6l0.7,5.8M179.8,604.9l1.0,8.0M181.3,605.9l0.9,7.9M184.5,606.1l1.0,8.2M184.9,602.9l0.8,6.6M186.6,606.6l0.9,7.9M187.0,602.7l0.7,5.6M188.1,603.9l0.8,6.5M188.9,603.8l0.7,5.8M190.0,606.3l0.9,7.3M190.5,605.2l0.8,6.8M192.8,605.8l0.7,6.2M193.5,605.4l0.8,6.7M194.1,606.8l0.8,6.5M195.2,605.5l0.8,6.3M196.5,608.3l0.9,7.2M197.7,607.7l0.8,7.0M198.2,608.4l0.9,7.5M199.5,607.5l0.8,6.5M201.0,607.8l0.7,6.0M202.3,610.3l0.9,7.3M203.2,609.7l0.8,6.7M204.4,611.3l0.9,7.3M204.8,608.8l0.8,6.7M206.6,611.3l0.9,7.9M207.3,610.3l0.8,6.7M208.2,609.8l0.8,6.6M208.6,608.8l0.7,6.2M210.7,608.4l0.7,5.4M211.9,611.8l0.8,7.1M213.6,608.9l0.7,5.8M214.4,609.4l0.6,5.1M215.5,612.2l0.8,7.0M215.9,610.7l0.7,6.2M217.9,615.0l1.0,8.2M218.4,612.0l0.8,6.5M219.2,610.2l0.7,5.6M220.2,613.6l0.9,7.3M221.6,616.8l0.9,7.8M222.1,613.9l0.8,6.6M223.5,614.8l0.9,7.1M223.5,611.6l0.6,5.4M224.5,612.3l0.7,6.0M225.5,611.6l0.7,5.4M227.7,612.4l0.6,5.1M229.9,615.4l0.8,6.9M232.0,617.1l0.9,7.3M232.1,614.5l0.7,6.2M233.6,617.3l0.8,6.7M234.7,616.0l0.8,6.5M235.2,616.8l0.7,6.2M236.6,617.1l0.8,6.6M236.9,614.9l0.6,5.3M238.3,617.0l0.7,6.1M238.8,614.7l0.6,4.7M241.6,617.6l0.7,5.7M243.4,617.1l0.6,5.1M245.0,621.6l0.9,7.2M245.6,619.5l0.8,6.4M246.8,620.8l0.8,6.6M247.5,619.5l0.7,5.6M248.6,618.2l0.6,5.3M249.1,618.8l0.7,5.5M250.8,623.0l0.8,7.0M252.0,620.7l0.7,5.5M253.4,622.7l0.7,6.1M254.3,623.9l0.8,7.0M255.1,622.8l0.7,5.7M257.2,626.2l0.8,7.1M258.5,626.6l0.9,7.6M260.2,623.9l0.7,5.9M260.9,624.8l0.7,6.0M262.9,624.8l0.7,6.0M263.7,623.9l0.6,4.7M265.4,629.2l0.9,7.6M265.5,628.9l0.8,6.9M266.7,629.5l0.9,7.1M268.6,628.7l0.8,6.3M270.8,629.6l0.8,6.4M272.5,628.4l0.7,5.8M273.9,634.1l0.9,7.9M274.5,632.9l0.9,7.9M274.9,630.7l0.7,6.0M277.5,631.9l0.8,6.9M278.8,635.7l1.0,8.5M279.5,635.3l1.0,8.3M280.0,634.3l0.9,7.7M282.8,634.3l0.8,6.9M284.2,636.1l0.9,7.3M286.1,639.0l1.0,8.7M288.0,642.7l1.3,10.8M288.3,640.3l1.1,9.3M290.4,641.4l1.2,9.7M293.0,649.5l1.5,12.9M293.3,646.0l1.3,10.9M295.5,648.8l1.4,11.8M298.0,650.3l1.6,13.0M299.0,651.1l1.5,12.7M300.2,655.2l1.7,14.5M301.4,657.2l1.8,15.2M302.0,655.7l1.8,15.3" stroke="#5088e8" stroke-opacity="0.45" stroke-width="0.8" fill="none"/><path d="M27.7,560.1l1.3,10.4M29.1,559.1l1.2,10.1M30.4,563.4l1.4,11.7M50.2,565.0l1.3,10.7M55.6,565.5l1.3,10.5M57.4,564.8l1.2,10.2M72.2,573.0l1.2,10.4M73.3,574.0l1.3,10.9M74.3,574.4l1.4,11.3M75.5,574.0l1.2,10.1M77.5,571.6l1.1,9.4M81.0,576.4l1.3,10.8M83.8,577.6l1.3,11.0M89.4,579.4l1.3,10.6M90.0,581.2l1.3,10.7M91.1,579.6l1.2,9.9M92.9,578.3l1.1,9.2M93.4,579.3l1.2,9.9M97.4,582.1l1.2,10.3M100.6,581.7l1.1,9.2M101.1,581.1l1.0,8.7M102.3,584.3l1.2,10.1M105.4,585.1l1.2,10.3M106.7,585.9l1.2,9.7M108.3,583.4l1.1,8.8M110.2,588.3l1.3,10.6M114.6,587.6l1.1,9.3M116.0,584.1l0.9,7.5M128.5,589.6l0.9,7.7M132.0,590.5l1.0,8.2M138.3,591.7l0.9,7.2M140.6,597.7l1.2,10.0M157.6,599.4l1.0,8.1M163.6,598.6l0.9,7.5M168.8,598.7l0.8,6.7M170.5,600.7l0.8,6.8M173.3,602.2l0.9,7.7M176.7,600.9l0.8,6.7M178.1,602.3l0.8,6.6M180.1,603.3l0.9,7.5M182.4,607.5l1.0,8.6M182.9,603.2l0.7,6.2M191.5,606.0l0.8,6.7M200.8,611.0l0.9,7.8M209.3,608.1l0.6,5.4M212.1,608.5l0.7,5.9M226.1,612.6l0.6,5.2M228.4,614.6l0.8,6.3M230.8,615.6l0.8,6.5M239.8,617.3l0.8,6.3M240.9,615.9l0.6,4.9M242.3,616.5l0.6,5.1M251.4,623.0l0.8,6.7M256.2,622.9l0.7,5.5M259.0,621.5l0.6,4.9M261.7,626.1l0.7,6.0M267.2,626.4l0.6,5.3M269.1,627.2l0.7,5.8M271.4,631.7l0.9,7.4M276.8,632.2l0.9,7.3M281.5,636.0l0.9,7.9M282.2,634.7l0.9,7.4M285.2,637.0l1.0,8.1M289.6,642.0l1.2,10.1M291.3,644.6l1.3,10.6M294.6,647.0l1.4,12.0M296.9,649.6l1.5,12.9M302.9,656.0l1.8,14.6" stroke="#90b8f0" stroke-opacity="0.5" stroke-width="0.8" fill="none"/>
<polygon points="19.0,690.0 55.0,696.0 100.0,711.6 145.5,725.0 180.0,732.4 210.0,737.6 233.0,750.2 240.0,754.0 256.0,763.6 270.0,772.0 275.0,776.2 288.0,787.0 288.0,839.9 275.0,826.3 270.0,818.3 256.0,796.9 240.0,780.4 233.0,773.3 210.0,762.6 180.0,757.6 145.5,745.2 100.0,737.0 55.0,724.5 19.0,717.8" fill="#1a48f0" fill-opacity="0.3"/>
<path d="M23.9,691.7l2.5,21.2M25.7,690.7l2.9,24.1M28.7,691.0l3.0,25.2M29.7,692.8l2.4,19.8M31.5,691.7l2.8,23.6M32.2,691.3l3.2,26.4M33.3,691.7l2.4,20.4M35.2,692.9l3.1,25.6M35.9,692.4l3.1,26.1M38.6,692.4l2.8,23.2M40.0,693.1l2.9,23.9M40.7,693.4l3.3,27.1M41.7,693.2l3.2,26.6M46.3,694.1l3.2,26.4M47.4,694.6l3.3,27.5M49.6,695.8l2.9,24.1M53.1,696.6l2.9,24.5M54.1,696.4l2.9,23.9M56.1,697.1l2.6,21.9M56.9,696.6l3.3,27.3M57.7,696.1l3.0,25.1M58.8,696.9l2.7,22.6M62.0,698.7l2.8,23.5M62.6,699.0l2.9,24.0M64.9,700.0l2.6,21.9M67.1,699.4l3.2,27.0M70.5,702.2l2.5,20.8M72.1,701.7l2.7,22.6M74.7,703.3l2.9,24.5M75.8,702.7l2.5,21.2M77.1,704.6l2.4,20.3M78.0,703.5l2.8,23.1M78.6,703.9l2.5,20.9M82.9,705.2l2.6,21.9M83.9,706.8l2.3,19.3M84.7,705.5l2.3,19.6M85.6,706.9l2.4,20.0M86.2,707.0l3.0,24.7M88.7,707.4l2.7,22.5M91.3,707.9l2.7,22.5M92.3,708.2l3.1,25.8M93.2,709.3l2.7,22.5M94.8,709.6l3.0,25.4M96.2,710.0l2.5,21.2M96.8,711.2l2.4,19.8M98.1,711.4l2.5,20.5M99.0,711.8l2.7,22.8M100.9,712.7l2.8,23.4M103.6,712.6l2.3,19.4M105.7,713.5l2.3,18.8M109.0,713.3l2.4,19.8M110.4,714.7l2.3,19.4M112.0,715.2l2.6,21.6M113.3,714.8l2.6,21.3M113.9,715.0l2.3,19.2M115.8,716.1l1.9,16.2M116.8,715.9l2.6,21.3M118.6,716.6l2.5,21.0M119.8,718.4l2.5,20.9M122.4,718.4l2.7,22.7M125.3,718.5l2.5,20.7M126.5,719.6l2.4,20.1M129.5,720.8l2.1,17.7M130.5,719.8l2.5,20.5M130.9,719.8l2.0,16.8M131.8,721.9l1.9,16.1M133.1,721.9l2.3,18.9M134.2,720.9l1.8,14.9M136.0,723.0l2.0,16.4M137.1,722.7l2.4,20.2M137.9,721.9l2.1,17.5M138.9,722.9l2.2,18.1M140.0,723.1l2.2,18.5M142.7,724.0l2.2,18.5M143.2,723.5l2.3,19.5M144.1,725.1l1.9,15.9M145.5,724.6l1.9,15.8M147.2,724.7l2.0,16.8M149.0,725.2l2.5,20.8M151.4,726.8l2.5,21.2M151.9,726.1l1.9,15.6M152.8,727.2l2.1,17.7M154.0,727.2l2.3,18.9M155.0,727.6l2.0,16.9M156.9,728.3l2.3,19.1M157.4,726.9l2.2,18.2M160.6,727.3l2.4,19.6M161.7,729.3l1.9,16.0M164.2,728.8l2.3,19.4M165.0,728.6l2.3,19.4M166.5,729.8l2.7,22.6M166.9,729.1l2.5,20.5M167.9,730.7l1.9,16.2M170.9,729.7l2.2,18.4M171.7,729.9l2.2,18.5M173.2,731.9l2.8,23.0M173.8,731.5l2.5,20.7M175.0,731.5l2.4,20.1M177.1,732.4l2.3,19.4M178.0,731.8l2.9,24.3M179.6,732.2l2.3,19.1M181.7,733.4l2.2,18.1M182.4,733.3l2.3,19.6M184.9,734.0l2.2,18.5M188.7,733.6l2.6,21.8M191.1,733.6l2.9,23.9M191.7,733.8l2.7,22.7M192.7,733.6l2.9,24.6M193.8,734.7l2.5,21.2M196.5,735.1l2.4,20.2M197.3,735.7l2.1,17.2M198.2,735.0l2.4,20.0M199.9,736.2l2.6,22.0M201.7,736.6l2.5,20.6M203.6,736.3l2.5,20.7M204.2,737.3l2.9,23.9M205.0,736.2l2.3,19.5M207.2,737.3l2.2,18.5M210.2,738.7l2.2,18.0M211.1,737.9l2.6,22.0M212.1,738.7l2.4,19.8M215.6,740.8l2.2,18.7M216.3,741.2l2.3,18.9M217.3,741.4l2.7,22.3M218.3,742.1l2.4,20.0M219.7,743.0l2.5,21.2M220.7,742.7l2.8,23.1M221.7,743.4l2.5,20.9M222.7,745.1l2.3,19.6M223.4,744.4l2.2,18.6M223.9,745.6l2.2,18.6M226.1,746.6l2.5,20.6M229.9,748.8l2.5,21.0M232.6,750.3l2.3,18.8M235.4,751.3l2.3,19.0M236.6,751.7l2.4,20.1M239.1,754.4l2.5,21.2M240.7,753.8l2.4,20.4M241.3,754.3l3.1,25.4M241.9,755.5l2.7,22.8M243.1,755.8l2.8,23.0M243.8,757.2l2.3,19.1M246.2,757.7l3.5,28.8M247.3,758.2l3.1,25.7M248.0,757.9l2.8,23.7M249.6,759.4l3.0,24.6M250.6,759.7l3.1,25.6M252.0,761.4l3.1,25.9M252.9,761.5l3.5,29.1M253.4,762.3l3.2,26.6M254.6,762.5l3.3,27.9M258.1,764.3l3.8,32.0M259.7,765.3l3.2,26.6M260.7,766.0l3.3,27.9M261.6,766.4l4.3,35.6M262.2,767.5l3.9,32.2M263.5,768.6l4.5,37.5M263.8,769.2l4.0,33.1M265.0,768.1l4.7,39.0M265.8,770.3l4.0,33.2M266.9,769.8l4.4,36.8M268.0,769.8l4.9,40.7M268.6,770.8l4.7,38.8M269.8,772.4l4.4,36.4M270.5,773.1l4.7,39.4M271.6,773.1l5.1,42.5M272.6,774.1l4.7,39.1M273.3,775.5l4.4,37.0M276.8,778.0l5.2,43.7M280.0,780.4l5.7,47.3M281.5,781.4l5.1,42.2M282.4,783.0l5.2,43.6M283.1,782.7l5.1,42.3M285.1,784.4l5.6,46.8M287.0,786.4l5.4,44.7" stroke="#1a48f0" stroke-opacity="0.85" stroke-width="0.8" fill="none"/><path d="M18.8,690.1l2.7,22.2M21.2,690.3l3.0,25.4M21.9,691.0l3.1,25.6M22.6,689.7l3.1,25.9M30.2,692.4l3.2,26.9M34.5,692.3l2.8,23.4M37.0,693.2l2.5,20.7M38.1,693.1l3.0,25.1M51.9,696.0l2.7,22.6M59.6,697.3l2.6,21.8M60.5,697.3l2.8,23.0M65.7,700.5l2.8,23.6M66.2,700.1l2.6,21.9M69.6,700.1l3.0,24.9M71.1,700.9l2.6,21.7M73.5,702.2l3.1,25.5M80.7,705.4l2.9,24.3M81.7,704.7l2.5,20.6M90.3,707.5l2.7,22.9M93.7,709.9l2.7,22.5M99.8,711.7l2.5,20.6M102.7,712.8l2.1,17.5M106.4,714.4l2.2,18.1M107.6,714.0l2.6,21.8M108.5,715.0l2.6,22.0M111.3,714.7l2.1,17.5M114.6,714.9l2.5,20.6M127.5,718.7l2.2,18.3M134.6,721.7l1.9,15.8M140.9,724.1l2.1,17.5M150.1,725.3l2.0,16.5M169.2,730.4l2.3,19.1M178.8,733.1l2.5,21.2M186.2,734.2l2.3,19.1M187.0,733.6l2.5,21.0M188.2,733.1l2.5,20.6M195.1,735.4l2.3,18.9M200.2,736.0l2.7,22.1M205.9,736.8l2.7,22.3M208.1,737.5l2.6,22.0M209.0,737.6l2.2,18.5M212.9,739.8l2.4,20.2M214.9,739.9l2.2,17.9M228.7,748.8l2.4,20.3M231.1,748.4l2.2,18.7M231.8,750.5l2.4,20.2M237.6,752.2l2.7,22.4M238.5,753.0l2.7,22.1M245.3,757.2l3.0,25.3M275.4,775.7l5.3,44.2M277.1,777.1l5.5,46.2M279.5,780.4l5.0,41.3M285.8,785.4l4.8,40.0" stroke="#3a78f4" stroke-opacity="0.8" stroke-width="0.8" fill="none"/><path d="M19.6,690.8l2.7,22.6M25.0,690.2l2.8,23.1M26.7,692.1l2.7,22.2M27.7,690.8l2.8,23.7M42.9,693.2l2.9,23.9M44.0,693.5l2.7,22.7M44.4,693.5l3.1,25.6M45.4,694.0l3.0,25.0M48.7,695.9l2.5,21.2M50.1,694.3l3.1,25.7M51.6,695.8l2.9,24.1M54.9,696.6l2.9,24.4M63.3,698.7l2.6,21.7M68.1,701.2l2.7,22.3M74.2,702.7l2.7,22.2M79.8,704.8l2.5,21.0M87.2,707.5l2.2,18.6M89.4,708.5l2.3,19.5M101.8,713.1l2.7,22.2M104.6,712.8l2.4,19.7M118.0,716.4l2.6,21.5M120.4,716.7l2.1,17.3M122.0,718.0l2.3,19.4M123.2,718.2l2.1,17.9M124.6,719.3l2.4,20.2M128.1,720.5l2.1,17.8M141.6,723.7l2.2,18.4M146.0,725.6l2.0,16.4M148.1,726.3l1.9,15.9M155.5,726.2l2.2,18.3M158.5,727.7l2.4,20.3M159.5,728.0l2.1,17.2M162.8,729.6l2.4,20.2M163.3,729.5l2.2,18.4M169.8,730.9l2.8,23.0M176.0,730.9l2.4,20.0M180.4,732.1l2.4,20.3M183.3,732.9l2.4,20.0M184.3,733.4l2.3,19.0M190.0,734.6l2.5,21.2M195.4,734.1l2.6,21.9M202.1,737.0l2.2,18.1M213.6,740.4l2.6,22.0M225.3,746.0l2.5,21.1M226.8,747.3l2.2,18.1M227.9,746.5l2.4,19.8M234.1,750.0l2.7,22.2M234.8,750.8l2.3,19.1M248.7,758.9l3.0,25.2M255.7,763.8l3.7,31.1M256.7,765.0l3.0,24.9M257.5,765.4l3.1,25.9M274.6,776.5l4.9,40.5M278.1,779.2l4.8,39.9M284.3,784.4l5.4,45.2M288.1,786.4l5.7,47.8" stroke="#0a30e0" stroke-opacity="0.85" stroke-width="0.8" fill="none"/><path d="M21.5,712.3l1.3,10.4M22.3,713.4l1.3,10.6M24.9,716.5l1.4,12.0M27.8,713.3l1.3,10.9M28.6,714.8l1.4,11.3M30.5,714.5l1.3,11.2M31.7,716.2l1.4,11.8M32.1,712.5l1.1,9.3M33.5,719.3l1.5,12.6M35.3,717.7l1.5,12.4M37.3,715.8l1.3,11.0M38.3,718.5l1.4,12.0M39.0,718.6l1.5,12.3M39.5,713.8l1.2,9.7M41.1,718.3l1.4,11.8M41.4,715.6l1.3,10.9M42.8,717.0l1.3,11.2M44.0,720.5l1.5,12.8M44.9,719.9l1.5,12.5M45.8,717.1l1.4,11.3M46.7,716.2l1.3,10.7M48.4,718.9l1.4,11.8M49.4,720.6l1.5,12.4M51.3,717.1l1.2,10.0M52.5,719.9l1.4,11.4M53.2,720.0l1.4,12.1M54.5,719.9l1.4,11.3M54.6,718.6l1.3,10.6M57.8,720.9l1.4,11.5M58.8,719.0l1.2,10.3M60.2,723.9l1.5,12.8M60.7,721.2l1.4,11.8M61.5,719.6l1.3,10.6M62.2,719.0l1.2,10.2M63.2,720.2l1.3,10.8M64.8,722.1l1.3,11.0M65.5,723.0l1.4,11.3M65.9,720.5l1.2,10.2M68.5,724.1l1.3,11.1M68.8,721.9l1.2,10.3M70.8,723.5l1.3,10.5M72.6,725.1l1.4,11.7M73.7,722.6l1.2,10.2M74.8,724.3l1.3,10.6M76.9,724.9l1.3,10.4M77.7,727.8l1.4,11.5M78.3,723.9l1.2,10.0M80.7,726.6l1.3,10.9M82.3,725.8l1.2,9.9M85.5,727.1l1.2,10.3M86.2,726.1l1.1,9.1M87.1,725.0l1.1,9.2M88.0,726.9l1.1,9.4M89.2,731.7l1.4,11.6M89.5,726.2l1.1,8.8M91.4,729.9l1.3,10.6M91.8,728.1l1.1,9.2M93.0,730.3l1.3,10.8M95.4,734.0l1.5,12.2M95.9,731.9l1.3,10.6M96.4,732.4l1.3,10.6M97.9,735.0l1.4,12.0M99.2,731.0l1.1,9.3M100.5,731.9l1.2,9.7M101.8,734.5l1.3,10.7M102.2,732.2l1.2,9.7M103.7,736.1l1.3,11.0M104.4,735.3l1.3,10.4M104.8,730.3l1.0,8.2M105.9,732.0l1.1,9.1M107.0,732.5l1.1,9.3M107.9,732.3l1.1,8.8M108.6,732.5l1.0,8.5M110.2,735.9l1.2,10.3M111.2,737.0l1.2,10.4M111.3,733.2l1.1,9.3M112.7,734.1l1.1,9.1M113.5,732.3l1.0,8.3M114.6,736.7l1.2,10.1M115.8,736.1l1.2,10.0M116.2,734.2l1.1,9.0M117.1,735.5l1.2,9.7M117.8,732.3l0.9,7.6M119.4,737.2l1.2,10.0M120.5,737.9l1.2,10.1M121.1,737.6l1.2,9.9M122.3,739.2l1.2,9.8M122.5,734.0l1.0,8.1M124.3,737.4l1.1,9.1M125.4,736.1l1.0,8.4M127.1,739.5l1.1,9.5M127.8,739.2l1.2,9.7M128.9,739.7l1.1,9.5M129.7,737.1l1.0,8.6M130.2,738.3l1.0,8.4M131.6,738.5l1.0,8.4M133.0,740.3l1.2,9.6M132.9,736.6l0.9,7.9M135.3,740.8l1.1,8.9M136.5,737.5l0.9,7.4M138.0,739.3l0.9,7.7M139.5,742.9l1.1,9.5M140.0,739.4l1.0,8.2M141.1,741.0l1.0,8.5M142.3,741.6l1.0,8.7M143.8,742.1l1.0,8.7M145.5,743.0l1.1,9.2M146.0,740.9l0.9,7.5M147.4,740.3l0.9,7.4M149.2,741.4l0.9,7.9M151.5,746.0l1.2,9.8M152.1,741.8l0.9,7.7M154.0,748.1l1.2,10.0M153.8,741.6l0.9,7.3M154.9,744.9l1.0,8.3M156.3,746.0l1.1,8.9M157.1,744.5l1.0,7.9M157.7,744.5l1.0,8.6M159.2,747.4l1.1,9.0M159.6,745.1l1.0,8.6M161.0,748.0l1.1,9.5M163.0,746.9l1.1,9.2M163.6,745.2l0.9,7.5M165.2,749.8l1.1,9.5M167.3,748.0l1.1,9.1M169.3,749.6l1.2,9.6M171.5,749.5l1.1,9.0M172.6,753.8l1.3,10.8M173.1,748.1l1.0,8.7M173.9,748.4l1.0,8.7M176.3,752.2l1.2,9.7M177.4,751.6l1.1,9.5M178.4,750.9l1.1,9.4M179.4,751.8l1.1,9.1M181.4,754.4l1.2,10.0M181.9,751.3l1.1,9.0M183.9,751.5l1.0,8.5M185.7,752.9l1.1,9.4M187.1,752.5l1.0,8.7M188.5,753.3l1.1,9.0M190.6,753.7l1.2,9.7M192.6,755.8l1.2,10.0M194.5,756.5l1.3,10.7M195.7,758.2l1.4,11.6M196.4,755.9l1.2,10.0M199.0,755.3l1.1,9.5M199.4,752.9l1.0,8.1M200.6,755.0l1.1,9.4M204.1,757.3l1.2,9.7M204.3,755.1l1.0,8.5M206.1,757.0l1.2,9.7M207.0,761.2l1.3,11.2M207.3,755.7l1.1,9.2M208.6,759.1l1.3,10.5M209.4,755.8l1.0,8.7M211.2,756.1l1.0,8.7M212.4,756.7l1.0,8.5M213.7,759.9l1.2,10.4M214.5,758.6l1.1,9.3M215.3,760.0l1.1,9.5M217.0,757.8l1.0,8.4M217.9,759.5l1.1,8.8M218.6,760.0l1.1,8.9M220.0,763.7l1.3,10.5M222.3,764.1l1.2,10.0M223.5,765.8l1.3,10.9M224.2,764.3l1.2,9.8M225.0,764.7l1.1,9.2M227.9,767.1l1.2,9.9M228.6,767.2l1.2,9.7M229.0,765.4l1.0,8.5M230.3,766.3l1.1,9.3M231.1,769.1l1.1,9.6M232.5,769.8l1.2,9.9M233.4,767.1l1.1,8.8M234.2,770.6l1.1,9.5M234.8,769.2l1.1,8.9M236.7,772.2l1.3,10.5M237.1,769.9l1.1,9.0M237.7,770.3l1.1,8.9M239.0,771.9l1.1,9.5M240.2,774.6l1.3,10.6M241.1,775.2l1.3,10.4M241.6,775.6l1.2,10.0M243.2,774.1l1.2,9.6M244.3,779.7l1.4,12.0M244.6,778.4l1.3,10.7M245.8,778.8l1.3,10.8M246.1,776.3l1.1,9.0M248.3,782.6l1.4,11.9M249.6,786.6l1.6,13.6M250.4,783.9l1.5,12.1M250.9,781.6l1.3,11.2M251.7,784.1l1.4,11.9M252.6,784.1l1.4,11.6M253.7,785.4l1.4,12.1M255.1,787.3l1.5,12.2M256.4,790.6l1.6,13.7M257.9,790.4l1.6,13.1M259.6,789.8l1.4,11.7M260.6,791.3l1.5,12.2M262.0,796.3l1.8,15.1M262.9,791.9l1.5,12.5M264.0,793.8l1.6,13.1M265.9,802.0l2.0,16.7M268.0,806.1l2.1,17.6M267.8,802.4l1.9,15.6M271.3,806.6l2.1,17.3M272.8,810.6l2.3,19.2M273.2,809.5l2.2,18.2M274.2,808.8l2.1,17.1M276.7,815.6l2.4,20.0M277.7,812.5l2.1,17.4M279.4,816.9l2.3,19.0M282.6,823.3l2.6,21.7M282.9,819.1l2.3,18.8M284.4,821.6l2.3,19.4M285.7,827.7l2.7,22.3M286.5,823.6l2.4,19.8M288.1,825.0l2.4,19.9M289.7,829.7l2.6,21.3M290.7,831.1l2.6,22.0M290.6,825.4l2.3,18.8M292.4,831.1l2.5,21.0M293.8,834.1l2.7,22.5" stroke="#5088e8" stroke-opacity="0.45" stroke-width="0.8" fill="none"/><path d="M24.2,715.7l1.4,12.0M25.8,715.6l1.5,12.2M26.5,712.9l1.2,10.0M29.3,714.2l1.3,10.4M34.4,715.4l1.3,11.1M35.8,712.1l1.1,9.6M47.5,719.0l1.4,12.0M50.7,722.0l1.6,12.9M56.1,721.1l1.4,11.5M57.0,720.3l1.3,11.2M67.5,721.9l1.2,10.3M70.4,726.4l1.5,12.7M73.0,723.1l1.2,9.8M76.6,727.8l1.4,12.0M79.5,724.9l1.1,9.6M81.1,724.8l1.2,9.8M83.7,729.7l1.4,11.5M84.2,725.3l1.2,9.7M93.9,730.4l1.3,10.6M98.7,731.2l1.2,10.0M125.1,741.1l1.3,10.7M133.8,738.0l0.9,7.6M136.0,735.8l0.8,7.0M143.0,741.6l1.0,8.2M144.9,742.5l1.0,8.7M148.0,742.0l0.9,7.7M150.0,742.1l0.9,7.5M161.5,745.2l1.0,8.1M165.5,747.9l1.0,8.7M166.5,748.2l1.1,9.1M169.2,752.4l1.3,10.6M169.9,746.9l0.9,7.6M176.0,755.0l1.3,10.8M180.9,756.1l1.4,11.4M182.8,752.4l1.1,9.6M184.7,752.8l1.1,9.2M186.5,752.4l1.1,9.0M189.5,754.6l1.2,9.9M191.3,755.3l1.2,10.2M194.0,757.5l1.4,11.3M197.4,754.3l1.1,8.9M198.0,755.9l1.2,10.3M202.5,758.2l1.2,10.4M202.8,758.1l1.2,10.4M210.8,759.6l1.2,10.4M216.2,762.4l1.2,10.4M220.7,762.1l1.1,9.4M225.7,763.0l1.1,8.8M226.2,764.2l1.1,8.8M256.6,788.8l1.5,12.5M259.4,794.9l1.8,14.6M266.1,799.6l1.8,15.1M269.7,807.1l2.2,18.3M269.8,803.5l1.9,15.6M275.2,812.5l2.2,18.5M277.3,813.2l2.2,18.4M280.7,820.0l2.5,20.8M282.1,821.7l2.5,20.6M287.6,826.6l2.5,20.5" stroke="#90b8f0" stroke-opacity="0.5" stroke-width="0.8" fill="none"/>
<polygon points="19.0,853.5 55.0,858.0 100.0,871.6 145.5,885.2 190.6,898.7 235.8,914.5 261.3,929.6 288.3,936.8 300.0,939.9 300.0,982.2 288.3,978.1 261.3,964.1 235.8,938.1 190.6,917.3 145.5,905.5 100.0,893.6 55.0,881.8 19.0,875.6" fill="#1a48f0" fill-opacity="0.3"/>
<path d="M18.8,852.7l2.3,19.6M20.3,854.3l2.5,20.4M23.1,853.2l2.3,19.2M23.7,853.3l2.4,20.2M25.0,854.4l2.3,19.5M26.3,854.7l2.1,17.5M29.1,854.2l2.4,20.2M32.2,856.0l2.2,18.1M33.2,854.5l2.1,17.5M33.9,854.7l2.6,21.4M35.5,855.4l2.3,19.1M36.2,855.0l2.1,17.4M37.8,855.7l2.1,17.3M39.2,856.0l2.1,17.7M49.4,857.4l2.2,18.6M50.9,858.2l2.7,22.4M52.9,858.0l2.6,21.6M54.4,857.1l2.8,23.5M55.0,858.6l2.0,16.8M56.9,858.7l2.3,19.1M59.0,859.4l2.1,17.5M59.7,860.2l2.4,20.4M61.0,859.5l2.6,22.0M62.0,859.5l2.7,22.6M62.8,859.5l2.2,18.3M64.8,861.6l2.7,22.7M65.6,862.1l2.3,18.8M66.6,862.0l2.3,18.8M67.4,861.9l2.5,20.7M68.3,862.3l2.5,20.4M69.6,862.0l2.5,20.8M72.9,862.9l2.1,17.3M74.2,863.9l2.7,22.4M74.7,863.0l2.4,20.1M77.9,864.2l2.6,21.4M79.7,865.3l1.9,15.8M80.5,865.0l2.4,20.2M87.8,867.6l2.0,16.4M89.4,867.6l2.5,20.6M92.0,869.0l2.5,20.9M95.2,870.0l2.2,18.3M95.8,870.3l2.0,16.9M96.6,871.1l1.8,14.9M97.6,871.8l2.1,17.7M98.7,871.1l2.7,22.2M100.4,872.4l1.9,15.8M101.4,871.4l2.0,16.9M102.7,872.1l2.7,22.2M104.6,873.7l2.0,16.7M106.0,872.7l2.2,18.1M108.2,875.0l2.1,17.4M109.4,875.3l2.3,18.9M110.1,873.9l2.2,18.1M110.9,873.9l2.3,19.4M114.0,876.4l2.0,17.0M114.9,875.7l2.4,19.9M115.9,877.3l2.4,20.4M116.9,876.4l2.5,20.9M119.8,877.6l2.1,17.8M124.8,878.0l2.0,16.4M125.1,879.4l2.2,18.0M126.5,878.6l2.3,18.9M127.2,879.4l2.0,16.5M127.9,880.9l1.8,14.6M129.1,880.0l2.3,19.0M130.2,880.0l2.1,17.4M132.0,880.8l2.1,17.2M134.2,882.4l1.8,15.3M135.3,881.2l1.7,14.5M135.9,881.8l1.8,15.2M139.1,883.0l1.9,16.2M139.8,883.7l1.9,15.9M140.5,882.9l2.2,18.0M142.6,885.1l1.8,15.0M143.7,885.6l2.1,17.5M144.7,885.1l2.0,16.4M145.0,885.8l2.0,16.8M146.3,886.2l1.9,16.0M148.4,885.6l1.9,15.8M154.0,887.3l1.9,15.9M155.4,887.6l2.3,19.4M158.8,889.9l2.0,16.3M163.0,890.2l1.9,15.9M165.2,891.2l2.0,16.8M166.3,890.6l2.0,17.0M167.2,891.3l2.1,17.5M168.2,891.5l2.4,20.2M170.4,893.6l1.6,13.4M170.8,893.2l1.9,15.7M171.8,893.1l2.2,17.9M173.0,894.0l2.1,17.4M174.0,894.2l2.0,16.6M175.5,894.2l1.8,14.7M178.9,894.6l2.3,19.4M180.4,895.3l1.8,15.3M182.3,896.8l1.5,12.9M184.4,896.4l1.9,16.0M185.2,898.1l2.2,18.6M187.7,897.5l1.8,14.9M189.0,897.7l1.7,13.8M190.9,899.6l1.5,12.7M191.8,898.7l2.0,16.8M193.7,899.9l2.1,17.6M197.9,900.8l2.4,19.7M198.3,900.9l2.2,18.1M199.8,901.1l2.1,17.1M200.3,901.8l2.0,16.8M201.5,902.5l1.7,14.4M203.4,904.0l1.6,13.7M204.0,902.4l1.9,15.6M206.4,903.3l2.2,18.3M207.7,904.0l1.7,14.6M209.7,906.2l1.9,15.6M212.1,905.9l2.2,18.4M213.1,906.7l2.4,20.4M213.8,907.5l2.1,17.1M214.8,906.9l1.9,15.9M215.5,908.4l1.9,16.1M216.8,907.4l2.0,16.4M217.3,908.5l2.1,17.7M218.2,908.5l2.1,17.5M219.7,908.2l2.0,16.8M221.3,909.3l2.0,16.4M222.0,909.6l2.2,18.3M223.1,909.8l2.2,18.1M224.0,910.3l2.0,16.9M226.1,911.4l2.1,17.5M229.2,912.9l2.4,20.2M230.8,912.0l2.7,22.6M231.6,912.6l2.2,18.5M232.4,912.8l2.5,20.6M235.0,914.7l2.3,18.9M236.8,914.3l2.7,22.2M237.6,915.0l2.4,20.0M238.1,915.6l2.8,23.4M239.5,917.2l2.2,18.3M240.0,917.6l2.2,18.2M242.2,918.4l2.5,20.7M243.6,919.5l2.8,23.1M244.4,919.1l2.8,23.7M244.8,920.2l2.6,21.4M245.8,920.3l2.9,24.1M247.2,922.0l3.0,25.1M248.1,921.7l3.2,26.4M249.1,923.3l2.9,24.3M253.0,925.0l3.1,26.1M253.8,925.7l3.4,28.4M255.7,926.0l3.1,25.6M257.7,927.5l2.9,24.4M258.2,928.4l3.4,28.1M259.7,928.8l3.9,32.5M261.1,928.9l3.2,26.6M262.2,929.9l3.8,31.4M263.3,930.6l3.3,27.9M264.4,930.4l3.4,28.4M264.7,931.1l3.3,27.6M270.8,931.8l4.1,34.6M271.7,932.9l3.2,26.4M272.3,932.3l3.5,29.2M274.5,933.0l3.8,31.6M275.5,933.9l4.3,35.5M276.8,933.4l3.5,29.1M277.7,933.5l3.8,31.3M278.4,934.0l4.0,32.9M281.3,934.0l4.1,34.2M283.7,935.8l4.1,34.1M287.6,936.9l4.2,35.4M288.8,937.0l4.3,36.1M291.7,936.7l3.8,31.7M292.9,938.1l4.2,34.8M293.9,937.9l4.3,35.4M295.8,938.3l4.4,36.8M296.6,939.3l4.3,36.0M297.4,938.2l4.0,33.0M299.1,939.1l4.5,37.9" stroke="#1a48f0" stroke-opacity="0.85" stroke-width="0.8" fill="none"/><path d="M22.1,853.3l2.1,17.7M27.9,854.0l2.4,19.8M41.2,856.1l2.5,21.0M46.0,857.2l2.2,18.1M50.6,857.7l2.2,18.2M56.0,858.0l2.3,19.0M70.4,862.9l2.1,17.3M70.9,863.8l2.4,19.8M75.8,865.1l2.3,19.1M77.2,865.2l2.2,18.6M83.3,866.8l2.6,21.6M86.7,868.4l2.2,18.6M88.4,867.6l2.3,18.9M90.5,869.0l2.5,20.8M91.2,868.2l2.1,17.3M93.3,870.3l2.0,16.7M99.5,872.4l2.0,16.7M112.8,875.7l2.2,18.1M118.1,877.2l2.6,21.4M131.2,880.3l2.4,19.6M132.8,881.4l2.0,16.8M136.8,883.1l2.0,17.0M137.4,881.8l2.5,20.6M147.0,886.4l1.6,13.6M149.2,886.6l2.2,18.3M150.4,887.2l1.9,15.8M151.4,887.4l2.2,18.1M155.0,887.5l2.4,19.9M162.7,890.1l2.1,17.7M168.8,892.2l2.2,18.7M175.2,893.2l1.9,15.9M176.8,894.4l1.7,14.6M177.5,894.6l2.2,18.4M179.8,896.0l1.8,14.7M189.8,899.3l1.6,13.5M193.1,900.0l1.7,14.2M194.7,900.8l1.9,15.4M196.1,901.5l1.8,15.3M196.7,900.6l2.0,17.0M207.3,903.9l2.0,17.0M209.3,904.6l2.3,19.2M211.0,905.0l1.7,14.3M224.9,911.5l2.0,16.8M227.9,911.1l2.1,17.9M235.6,914.9l2.5,20.7M241.0,918.2l2.3,19.2M266.2,930.4l4.1,34.1M269.0,932.4l3.6,30.0M270.0,932.3l3.8,31.9M280.6,934.5l3.9,32.5M282.5,934.8l4.6,38.2M283.1,935.6l3.7,30.8M285.0,935.7l4.0,33.7M286.6,936.3l3.8,31.3" stroke="#3a78f4" stroke-opacity="0.8" stroke-width="0.8" fill="none"/><path d="M20.7,852.9l2.0,16.5M25.7,854.2l2.1,17.7M28.4,855.2l2.1,17.5M30.2,854.8l1.9,16.2M31.5,856.0l2.0,16.6M36.8,855.8l2.5,20.9M39.7,856.8l2.2,18.3M41.8,855.5l2.1,17.4M42.6,856.8l2.4,20.3M43.8,857.0l2.0,16.9M45.0,857.7l2.6,21.3M46.7,857.8l2.3,19.1M47.8,856.3l2.5,20.7M48.7,856.6l2.6,21.5M52.5,857.3l2.3,18.8M57.8,859.5l2.1,17.9M63.5,860.2l2.3,18.9M71.9,862.6l2.0,17.0M79.1,864.8l2.2,18.4M81.7,866.5l2.0,16.3M83.0,867.3l2.0,16.9M84.6,866.0l2.5,21.0M85.4,868.0l2.4,19.6M94.0,869.1l1.9,15.6M103.9,873.1l2.6,22.0M105.5,873.3l2.0,16.9M107.4,873.5l2.1,17.2M111.9,875.3l2.4,20.1M118.4,877.7l2.5,20.7M120.4,877.7l2.0,16.3M121.4,877.8l1.8,15.3M122.2,878.1l1.9,15.9M123.8,879.6l2.4,19.7M141.3,883.8l2.1,17.7M152.1,886.5l1.6,13.7M152.6,888.0l2.3,18.8M156.6,888.7l2.0,16.4M157.8,888.1l2.0,16.9M159.5,888.5l2.2,18.5M160.7,890.4l2.1,17.4M161.2,889.2l1.9,15.4M164.6,890.2l2.0,17.0M181.4,896.9l1.9,16.0M183.4,897.1l1.6,12.9M186.4,898.0l1.7,14.6M187.3,897.2l2.0,16.6M202.1,902.8l1.8,15.3M204.9,904.0l2.2,18.2M220.6,909.3l2.2,18.7M227.2,911.1l2.3,19.5M230.0,912.0l2.6,21.6M233.3,913.2l2.5,21.0M250.2,922.2l3.0,24.8M250.7,924.3l2.9,24.1M251.9,924.6l2.9,24.5M255.0,926.2l3.1,25.7M256.8,927.9l3.2,26.3M260.2,929.9l3.1,26.0M267.1,930.7l3.7,31.2M268.1,931.4l3.3,27.9M273.9,933.8l3.7,31.0M279.0,933.7l4.0,33.7M285.7,936.7l4.2,34.8M289.8,937.3l4.4,36.6M290.9,938.4l4.6,38.7M294.3,938.9l3.9,32.6M298.5,938.7l4.8,39.8" stroke="#0a30e0" stroke-opacity="0.85" stroke-width="0.8" fill="none"/><path d="M21.1,872.3l1.1,9.2M22.7,874.7l1.2,9.6M25.4,872.4l1.1,9.0M26.2,873.4l1.1,9.5M27.3,873.9l1.1,9.2M27.9,871.9l1.0,8.3M28.4,872.1l1.0,8.2M30.3,873.8l1.1,9.3M30.5,872.7l1.0,8.3M31.5,874.5l1.1,9.5M34.4,874.2l1.0,8.5M35.3,872.1l1.0,8.3M36.4,876.1l1.2,10.1M37.8,874.5l1.1,9.0M39.3,876.7l1.2,9.8M41.3,873.7l1.0,8.3M41.9,875.2l1.0,8.6M43.7,877.1l1.2,9.9M45.1,877.1l1.1,9.5M45.8,873.8l1.0,7.9M47.6,879.0l1.2,10.0M48.1,875.3l1.0,8.5M49.0,876.9l1.1,9.0M50.3,877.0l1.2,9.7M51.6,876.0l1.1,8.8M52.8,875.9l1.0,8.6M53.6,880.6l1.3,10.6M54.7,876.1l1.1,8.8M57.1,875.4l0.9,7.9M58.3,877.0l1.1,8.9M59.1,877.7l1.1,9.0M59.9,877.4l1.0,8.4M62.1,880.5l1.2,9.6M63.6,881.5l1.2,10.3M64.7,882.1l1.3,10.6M65.0,877.9l1.0,8.6M67.6,884.3l1.3,10.7M67.9,880.9l1.1,8.9M69.9,882.6l1.2,9.7M70.7,882.7l1.2,9.6M72.1,882.8l1.2,9.8M72.5,880.2l1.0,8.1M73.3,883.6l1.1,9.3M76.9,886.3l1.3,10.5M79.5,883.8l1.1,8.8M80.5,885.7l1.2,10.1M81.3,883.2l1.0,8.6M82.9,885.2l1.1,9.5M83.6,882.8l0.9,7.7M85.0,884.2l1.0,7.9M87.2,887.1l1.2,9.9M89.0,887.0l1.1,8.8M89.7,884.0l0.9,7.7M91.9,888.2l1.2,9.7M93.0,889.7l1.2,9.8M95.3,887.0l0.9,7.9M95.9,884.8l0.9,7.4M97.4,888.3l1.0,8.6M98.4,886.0l0.8,7.0M99.8,889.4l1.0,8.3M106.5,895.2l1.2,10.4M106.6,890.4l0.9,7.9M108.2,890.8l1.0,8.5M109.5,890.7l1.0,8.1M111.7,894.2l1.1,8.9M112.3,892.0l1.0,8.5M113.2,893.3l1.1,9.1M114.4,895.4l1.1,9.5M115.0,893.8l1.0,8.5M116.0,893.4l1.0,8.0M117.3,895.6l1.1,9.4M118.4,897.7l1.2,9.6M119.4,897.3l1.2,9.8M120.7,898.6l1.2,10.1M124.1,894.1l0.9,7.5M126.8,894.4l0.9,7.7M127.2,897.4l1.0,8.5M129.1,895.9l0.9,7.8M129.7,895.5l0.8,6.9M131.3,899.0l1.1,8.9M132.3,897.4l1.0,8.2M134.1,898.0l1.0,8.1M134.8,898.1l0.9,7.9M136.1,897.7l0.9,7.2M137.0,895.8l0.8,6.8M137.7,896.9l0.9,7.1M138.8,900.1l1.0,8.0M139.9,902.4l1.2,9.7M141.0,899.2l0.9,7.6M141.8,899.5l0.9,7.5M142.7,900.8l1.0,8.5M143.4,901.5l1.0,8.3M145.8,903.2l1.0,8.3M146.7,901.5l0.9,7.7M147.0,902.6l0.9,7.9M148.6,900.0l0.8,6.4M150.3,901.4l0.9,7.4M153.5,905.5l1.0,8.5M153.8,900.3l0.8,6.5M155.9,903.2l0.9,7.5M157.3,907.4l1.1,9.4M157.8,907.0l1.1,9.2M158.6,905.1l0.9,7.7M159.8,905.0l1.0,8.0M160.8,906.2l0.9,7.7M163.1,904.6l0.9,7.3M164.8,907.8l1.0,8.3M166.6,907.2l1.0,8.0M168.3,907.6l1.0,8.0M170.6,911.7l1.1,9.5M171.1,910.9l1.1,8.8M172.0,907.0l0.8,6.3M172.7,908.9l0.9,7.4M175.1,911.4l1.0,8.2M176.0,910.8l0.9,7.8M177.1,909.1l0.9,7.5M177.3,908.9l0.8,6.9M178.5,908.9l0.8,6.9M179.7,913.0l1.0,8.6M181.2,913.9l1.1,9.1M181.5,910.7l0.8,6.9M182.2,910.6l0.9,7.2M183.4,913.0l0.9,7.5M183.8,909.7l0.7,6.1M184.9,910.0l0.7,6.1M186.4,912.4l0.9,7.5M187.5,916.7l1.1,8.8M189.2,913.8l0.9,7.8M189.5,912.5l0.8,7.0M191.4,912.7l0.8,6.3M192.4,912.3l0.7,6.0M193.8,915.5l0.9,7.9M195.8,917.5l1.0,8.3M196.5,916.3l0.9,7.3M197.9,916.8l0.9,7.2M198.8,917.6l1.0,8.0M200.3,920.5l1.1,9.3M200.5,919.0l1.0,8.5M201.9,918.2l1.0,8.1M202.4,918.6l0.9,7.9M203.9,918.1l0.9,7.2M205.0,917.7l0.8,6.4M208.6,921.6l1.0,8.6M209.5,918.5l0.8,6.9M211.6,923.7l1.1,9.0M214.3,924.3l1.0,8.6M215.6,927.1l1.2,9.6M215.8,924.6l1.0,8.0M216.7,922.8l0.9,7.5M218.7,923.8l0.9,7.7M219.4,926.2l1.0,8.3M220.3,926.0l1.0,8.2M221.7,925.0l1.0,7.9M222.9,928.0l1.1,8.8M225.3,927.9l1.0,8.5M227.0,928.3l0.9,7.9M228.2,928.9l1.0,8.2M229.6,930.6l1.1,9.2M230.1,929.0l1.0,8.4M231.6,933.1l1.1,9.5M233.8,931.0l1.0,8.7M235.9,934.2l1.2,9.9M237.3,933.6l1.1,8.9M238.0,935.5l1.2,9.7M239.4,936.5l1.3,10.4M240.0,935.0l1.1,9.4M240.9,939.0l1.3,11.0M241.7,935.4l1.0,8.6M242.2,935.7l1.0,8.5M243.3,937.4l1.1,9.0M244.7,939.2l1.2,9.8M246.4,942.6l1.3,10.9M247.2,942.9l1.3,11.2M248.7,944.4l1.4,11.3M250.2,947.1l1.4,11.8M251.3,948.1l1.5,12.4M253.2,947.0l1.4,11.7M257.2,954.2l1.6,13.4M258.0,951.9l1.5,12.1M258.8,951.6l1.4,12.0M260.7,951.9l1.4,11.5M261.6,956.5l1.6,13.2M263.6,961.3l1.8,15.3M263.3,955.9l1.5,12.2M264.3,955.5l1.5,12.5M266.6,958.5l1.6,13.1M267.9,958.8l1.6,13.4M270.9,961.9l1.8,14.7M271.5,959.3l1.6,13.1M272.6,962.5l1.7,14.1M274.9,966.3l2.0,16.3M274.9,959.3l1.5,12.4M275.8,961.5l1.6,13.7M277.6,964.8l1.7,14.6M278.3,964.6l1.8,14.9M280.3,962.5l1.6,13.7M281.5,964.8l1.8,14.8M285.4,968.2l1.9,16.1M287.0,972.9l2.2,18.0M286.8,966.4l1.7,14.5M287.8,969.8l1.9,16.0M289.0,969.3l1.9,15.8M289.9,971.5l2.0,16.4M290.4,967.6l1.8,14.7M291.8,972.3l2.0,16.6M293.1,973.2l2.0,17.0M294.1,973.9l2.1,17.2M295.5,977.2l2.2,18.2M298.2,973.4l2.0,16.7M298.2,971.5l1.8,15.4M300.2,975.1l2.1,17.3M300.9,975.3l2.0,16.9M301.3,971.2l1.9,15.5M303.3,978.5l2.2,18.7M303.7,977.0l2.1,17.8" stroke="#5088e8" stroke-opacity="0.45" stroke-width="0.8" fill="none"/><path d="M22.6,869.4l0.9,7.7M24.2,871.0l1.0,8.3M32.1,871.0l0.9,7.6M33.5,872.6l0.9,7.8M38.3,872.3l1.0,8.2M39.9,872.9l1.0,8.1M43.9,872.9l1.0,8.2M51.3,878.1l1.2,10.1M55.5,879.6l1.2,10.2M57.2,880.5l1.3,11.1M61.1,876.9l1.0,8.2M65.8,879.1l1.1,8.9M68.9,880.8l1.1,8.8M73.9,879.7l1.0,8.0M75.0,880.2l1.0,8.2M77.2,883.2l1.1,9.5M78.1,884.1l1.1,9.0M81.6,881.2l0.9,7.5M85.9,888.4l1.2,10.2M87.7,887.6l1.1,9.2M90.7,886.5l1.1,8.9M93.3,885.6l1.0,8.2M94.5,889.8l1.2,9.8M97.8,887.2l1.0,7.9M101.3,893.3l1.3,10.4M101.5,889.1l0.9,7.9M102.3,888.3l0.9,7.5M103.4,888.4l1.0,8.0M105.3,894.3l1.3,10.4M107.5,890.2l1.0,7.9M110.3,892.4l1.0,8.2M120.9,898.4l1.2,9.7M121.9,895.4l1.0,8.4M122.4,893.9l0.9,7.7M123.3,893.2l0.9,7.2M126.1,899.3l1.1,9.3M128.8,897.6l1.1,8.9M133.5,899.9l1.1,9.2M144.4,900.2l0.8,7.1M148.2,902.2l0.9,7.5M151.4,904.9l1.0,8.6M152.3,903.0l0.9,7.4M154.9,906.7l1.1,8.8M161.7,907.0l1.0,8.7M162.8,907.8l1.0,8.2M164.9,906.1l0.9,7.5M167.2,908.0l0.9,7.9M169.3,908.7l1.0,8.2M174.0,911.1l1.0,8.4M188.2,912.6l0.8,6.9M190.6,911.5l0.8,6.5M194.8,914.1l0.8,6.7M203.2,916.8l0.8,6.8M205.8,918.0l0.9,7.3M207.1,922.2l1.0,8.5M209.3,920.9l1.0,8.0M211.6,921.7l0.9,7.3M212.7,919.3l0.8,6.7M217.4,924.5l0.9,7.6M223.2,925.7l0.9,7.7M224.2,927.9l1.0,8.6M226.0,927.3l1.0,8.0M232.5,933.6l1.2,10.2M233.5,934.6l1.3,10.6M234.9,933.4l1.2,9.7M247.3,941.6l1.2,10.1M252.0,947.6l1.4,11.5M253.6,948.4l1.4,11.3M254.8,949.1l1.4,11.5M256.1,951.1l1.5,12.3M259.9,954.2l1.5,12.4M266.0,961.2l1.8,14.8M268.0,958.8l1.6,13.0M270.3,964.5l1.9,16.0M273.8,964.2l1.8,15.0M279.7,969.4l2.0,16.7M282.4,967.0l1.9,15.5M283.1,967.4l1.9,15.9M284.4,967.0l1.8,15.3M295.5,968.5l1.8,14.9M297.1,972.9l2.0,16.4" stroke="#90b8f0" stroke-opacity="0.5" stroke-width="0.8" fill="none"/>
<rect x="19" y="380" width="26" height="640" fill="#d7e4f8" fill-opacity="0.35"/>
<polygon points="293.0,623.0 306.0,629.6 315.5,634.5 338.0,636.7 360.6,639.0 394.5,647.4 401.0,649.0 401.0,700.0 394.5,740.6 360.6,752.0 338.0,754.0 315.5,718.0 306.0,695.0 293.0,660.0" fill="#28c4f2" fill-opacity="0.36"/>
<path d="M294.1,624.0l0.0,1.2M294.5,623.7l0.0,1.5M295.5,623.8l0.0,1.4M296.1,625.4l0.0,1.8M297.1,624.3l0.0,1.2M298.0,626.3l0.0,1.3M298.3,626.6l0.0,1.4M299.2,625.5l0.0,1.8M299.7,626.8l0.0,1.8M300.6,626.9l0.0,2.2M301.6,628.1l0.0,1.5M302.0,626.7l0.0,1.5M303.3,629.1l0.0,2.0M303.5,628.9l0.0,1.9M304.3,628.4l0.0,1.8M305.3,628.9l0.0,2.3M306.1,630.7l0.0,2.4M306.7,629.5l0.0,2.1M307.2,631.1l0.0,2.1M308.4,631.8l0.0,2.2M308.8,631.8l0.0,2.3M310.0,631.6l0.0,2.3M310.4,631.2l0.0,2.1M311.2,632.0l0.1,2.6M311.9,633.2l0.1,2.5M312.7,633.5l0.1,2.6M313.4,634.3l0.1,2.7M314.1,634.1l0.0,2.4M314.9,634.5l0.1,2.6M316.0,634.9l0.1,2.6M316.3,635.3l0.1,3.1M317.4,634.0l0.1,3.0M318.1,635.3l0.1,2.8M318.7,635.1l0.1,2.7M319.5,634.3l0.1,3.3M320.1,634.0l0.1,3.2M320.8,635.8l0.1,3.0M321.5,635.8l0.1,3.6M322.5,634.9l0.1,2.7M323.4,635.6l0.1,3.6M324.3,636.3l0.1,3.5M324.5,635.5l0.1,3.8M325.4,635.4l0.1,3.5M326.5,636.4l0.1,3.7M326.9,635.3l0.1,3.6M327.5,635.9l0.1,3.7M328.2,635.8l0.1,2.9M329.1,635.2l0.1,4.0M330.1,636.2l0.1,4.2M330.8,635.7l0.1,3.5M331.6,636.3l0.1,3.8M332.5,636.3l0.1,3.2M333.1,636.5l0.1,3.2M334.0,635.7l0.1,3.3M334.6,636.3l0.1,3.4M335.2,636.6l0.1,4.1M336.2,635.7l0.1,3.4M336.5,637.0l0.1,3.4M337.7,636.2l0.1,3.4M338.1,637.6l0.1,3.7M339.1,635.9l0.1,4.0M339.8,637.4l0.1,4.6M340.6,637.0l0.1,4.3M341.0,637.3l0.1,3.4M341.9,637.2l0.1,3.5M342.6,636.9l0.1,4.5M343.3,637.6l0.1,4.3M344.5,637.4l0.1,3.5M344.7,636.7l0.1,3.9M346.0,637.9l0.1,4.6M346.3,637.2l0.1,4.2M347.4,638.0l0.1,4.1M348.1,637.9l0.1,4.2M348.6,636.9l0.1,4.1M349.5,638.7l0.1,4.0M350.0,637.3l0.1,4.0M350.9,637.6l0.1,4.1M351.5,638.9l0.1,3.2M352.5,639.1l0.1,3.5M353.4,637.6l0.1,4.4M353.9,639.3l0.1,4.0M354.9,638.9l0.1,4.1M355.6,638.4l0.1,4.8M356.2,637.7l0.1,3.2M356.8,637.8l0.1,4.1M357.6,637.8l0.1,4.4M358.4,637.9l0.1,3.1M359.2,638.9l0.1,3.9M360.3,639.2l0.1,4.4M360.7,639.2l0.1,3.6M361.4,639.1l0.1,4.3M362.0,639.9l0.1,4.2M362.8,638.7l0.1,3.7M363.9,638.9l0.1,4.0M364.5,639.6l0.1,3.8M365.4,640.3l0.1,3.3M366.1,640.8l0.1,3.2M366.5,639.8l0.1,3.4M367.7,640.9l0.1,4.1M368.5,641.8l0.1,4.1M368.9,640.1l0.1,3.3M369.8,640.6l0.1,3.8M370.3,641.0l0.1,3.9M371.4,642.5l0.1,3.0M372.2,641.7l0.1,2.9M372.7,642.8l0.1,3.9M373.5,641.9l0.1,4.0M374.5,643.1l0.1,3.5M375.2,642.6l0.1,3.8M376.0,642.2l0.1,3.9M376.6,643.6l0.1,4.1M377.1,642.9l0.1,4.0M378.0,643.7l0.1,2.9M378.9,643.9l0.1,3.1M379.6,643.7l0.1,3.9M380.3,644.4l0.1,3.8M381.1,643.2l0.1,3.4M381.9,644.9l0.1,3.4M382.7,644.0l0.1,3.6M383.2,643.9l0.1,3.0M383.9,644.0l0.1,3.4M385.0,644.5l0.1,3.6M385.3,645.4l0.1,3.8M386.4,646.2l0.1,3.5M387.2,645.2l0.1,3.1M387.5,644.9l0.1,3.2M388.6,646.2l0.1,3.1M389.5,647.1l0.1,2.8M389.8,646.6l0.1,3.4M390.5,645.6l0.1,3.0M391.6,647.3l0.1,3.1M392.3,647.8l0.1,3.4M392.9,646.9l0.1,3.0M393.8,647.0l0.1,2.9M394.5,648.3l0.1,3.8M395.1,646.8l0.1,3.2M395.9,647.3l0.1,2.7M396.6,647.6l0.1,2.8M397.3,648.4l0.1,2.5M398.5,648.5l0.0,1.9M399.2,647.6l0.0,2.4M399.7,648.5l0.0,2.4" stroke="#2a60f0" stroke-opacity="0.8" stroke-width="0.7" fill="none"/><path d="M294.5,625.1l0.7,35.2M296.2,627.2l0.8,42.2M300.7,629.1l1.1,53.0M305.3,631.2l1.1,56.3M307.3,633.2l1.0,50.1M318.1,638.1l1.3,66.6M318.8,637.8l1.3,64.5M321.6,639.3l1.7,85.8M324.3,639.8l1.7,83.3M334.7,639.6l1.6,80.7M336.5,640.4l1.6,80.9M337.8,639.6l1.6,81.7M338.2,641.3l1.8,88.0M339.2,640.0l1.9,96.4M341.9,640.8l1.7,84.4M344.8,640.6l1.9,93.3M346.4,641.4l2.0,100.9M348.1,642.1l2.0,99.9M348.7,641.0l2.0,99.3M349.6,642.7l1.9,96.8M350.1,641.3l1.9,96.9M353.5,642.0l2.1,106.2M356.8,641.8l2.0,97.7M362.1,644.1l2.0,100.4M362.9,642.4l1.8,88.6M363.9,642.9l1.9,95.1M366.2,644.0l1.5,77.4M366.6,643.2l1.6,82.2M369.0,643.4l1.6,79.5M371.5,645.6l1.4,72.3M374.6,646.7l1.7,84.7M382.8,647.5l1.7,85.4" stroke="#2a60f0" stroke-opacity="0.5" stroke-width="0.7" fill="none"/><path d="M295.5,625.2l0.7,34.5M297.1,625.5l0.6,28.8M298.4,628.0l0.7,34.1M299.2,627.3l0.9,44.1M299.7,628.6l0.9,42.9M301.7,629.6l0.7,36.2M306.2,633.1l1.1,57.3M306.7,631.5l1.0,49.3M308.4,633.9l1.0,51.7M310.1,633.9l1.1,54.8M310.5,633.3l1.0,49.3M313.4,637.0l1.3,63.7M316.0,637.5l1.2,61.3M317.4,637.0l1.4,71.6M319.5,637.6l1.6,78.0M320.1,637.2l1.5,77.3M320.9,638.8l1.4,71.4M322.6,637.6l1.3,65.2M323.5,639.2l1.7,86.0M325.5,638.8l1.7,83.4M326.6,640.1l1.8,88.8M327.0,638.9l1.7,87.4M328.3,638.7l1.4,68.9M329.2,639.2l1.9,96.7M330.2,640.3l2.0,100.1M330.8,639.2l1.7,84.2M332.5,639.4l1.5,75.8M333.2,639.7l1.5,76.3M335.3,640.6l2.0,97.7M336.3,639.1l1.6,81.2M339.9,642.1l2.2,111.5M341.1,640.7l1.6,81.3M342.7,641.5l2.2,108.5M343.3,641.9l2.1,102.6M346.1,642.4l2.2,109.7M347.5,642.1l2.0,99.2M350.9,641.6l2.0,97.6M354.0,643.3l1.9,97.2M356.3,640.9l1.6,77.8M357.7,642.2l2.1,106.7M358.4,641.0l1.5,74.0M359.3,642.8l1.9,94.1M360.3,643.5l2.1,105.2M361.5,643.4l2.1,104.4M364.5,643.4l1.8,91.3M367.7,644.9l1.9,97.5M368.5,645.9l1.9,97.3M370.3,644.9l1.9,93.2M372.2,644.6l1.4,68.5M372.8,646.7l1.9,93.3M373.6,646.0l1.9,96.8M376.7,647.6l1.9,97.2M377.1,646.9l1.9,96.6M378.9,647.0l1.5,74.8M379.7,647.6l1.9,93.1M380.4,648.2l1.8,90.3M381.9,648.3l1.6,80.6M383.2,646.9l1.4,71.7M384.0,647.4l1.6,82.0M385.4,649.2l1.8,90.9M386.5,649.7l1.7,83.9M387.3,648.3l1.5,74.8M387.5,648.1l1.6,77.7M388.6,649.3l1.5,74.0M389.9,650.0l1.6,82.0M392.4,651.2l1.7,82.6M393.0,649.9l1.4,71.9M396.0,650.0l1.3,64.0M396.7,650.4l1.4,68.0M397.4,651.0l1.2,61.1M398.6,650.4l0.9,45.3M399.2,649.9l1.1,57.3" stroke="#28c4f2" stroke-opacity="0.7" stroke-width="0.7" fill="none"/><path d="M294.1,625.2l0.6,29.2M298.1,627.6l0.6,30.5M302.0,628.2l0.7,36.7M303.3,631.2l1.0,48.6M303.6,630.7l0.9,44.9M304.3,630.3l0.9,44.0M308.8,634.1l1.1,56.0M311.3,634.6l1.2,62.4M312.0,635.8l1.2,60.3M312.7,636.0l1.2,61.6M314.1,636.5l1.2,58.0M315.0,637.0l1.2,61.3M316.4,638.3l1.5,73.4M324.6,639.3l1.8,90.4M327.6,639.6l1.8,88.1M331.7,640.1l1.8,90.5M334.0,639.0l1.6,78.8M340.6,641.3l2.1,104.0M344.5,640.8l1.7,83.3M351.5,642.2l1.5,77.5M352.6,642.6l1.7,83.7M355.0,642.9l2.0,97.6M355.7,643.1l2.3,114.8M360.8,642.8l1.7,86.8M365.5,643.6l1.6,79.3M369.8,644.5l1.8,92.1M375.3,646.4l1.8,90.2M376.1,646.1l1.9,93.8M378.0,646.6l1.4,68.5M381.2,646.6l1.6,80.5M385.1,648.0l1.7,85.6M389.5,649.8l1.3,66.6M390.6,648.6l1.4,72.1M391.7,650.4l1.5,73.9M393.8,649.9l1.4,70.4M394.6,652.1l1.8,91.7M395.2,650.0l1.5,76.9M399.8,650.8l1.1,56.4" stroke="#60d8f8" stroke-opacity="0.6" stroke-width="0.7" fill="none"/>
<polygon points="272.0,775.0 288.0,787.4 296.5,787.9 320.8,789.2 334.4,790.0 342.5,791.8 369.6,797.8 388.6,802.0 395.0,803.4 395.0,815.0 388.6,853.8 369.6,870.0 342.5,880.8 334.4,881.8 320.8,883.6 296.5,867.3 288.0,854.4 272.0,830.0" fill="#28a8f0" fill-opacity="0.36"/>
<path d="M274.2,777.3l0.0,2.1M274.7,777.6l0.0,1.7M275.6,777.6l0.0,1.9M276.4,778.0l0.0,2.0M276.8,779.3l0.0,2.1M277.8,779.1l0.0,2.1M278.4,780.8l0.0,2.2M279.4,781.7l0.0,1.9M280.1,780.4l0.0,2.2M280.6,781.1l0.0,2.4M281.6,781.5l0.1,2.6M282.3,782.6l0.0,2.2M282.7,783.2l0.0,2.3M284.0,785.1l0.0,1.9M284.7,784.9l0.0,2.0M285.4,784.9l0.0,2.0M285.8,785.9l0.0,2.3M286.6,786.1l0.0,2.3M287.5,786.3l0.0,2.4M288.3,788.4l0.1,2.5M288.9,787.4l0.0,2.1M289.7,786.6l0.0,2.0M290.4,788.4l0.1,2.9M291.3,787.4l0.0,2.3M291.8,787.3l0.0,2.2M292.8,786.9l0.0,2.3M293.6,788.1l0.0,2.1M294.5,788.6l0.1,2.8M294.8,788.7l0.1,2.8M295.6,788.3l0.0,2.2M296.8,787.1l0.1,3.1M297.5,787.0l0.0,2.3M297.7,787.3l0.1,3.1M299.0,788.4l0.1,3.1M299.5,788.0l0.1,3.2M300.0,788.1l0.1,2.8M300.9,787.6l0.1,2.6M301.5,787.8l0.1,2.6M302.3,787.9l0.1,2.8M303.3,788.6l0.1,2.8M304.1,789.2l0.1,2.6M304.5,788.8l0.0,2.5M305.2,788.5l0.1,3.3M306.1,788.4l0.1,2.6M306.8,787.7l0.1,3.6M307.9,789.0l0.1,3.2M308.7,789.1l0.1,3.4M309.4,789.1l0.1,2.9M309.8,788.8l0.1,2.9M310.5,789.5l0.1,3.2M311.3,787.7l0.1,3.4M312.3,788.3l0.1,3.0M312.9,789.0l0.1,2.9M313.5,789.6l0.1,3.0M314.8,789.5l0.1,3.5M315.5,789.0l0.1,2.8M316.2,788.3l0.1,2.9M316.6,788.3l0.1,2.7M317.4,788.2l0.1,2.9M318.2,788.3l0.1,2.9M319.0,789.7l0.1,3.3M319.8,789.9l0.1,2.9M320.3,789.4l0.1,3.7M321.4,789.8l0.1,2.5M321.9,788.6l0.1,2.8M322.8,790.1l0.1,3.3M323.5,790.0l0.1,2.9M324.5,789.0l0.1,2.6M325.0,788.6l0.1,2.9M325.5,790.2l0.1,2.7M326.5,789.4l0.1,2.9M327.2,788.6l0.1,2.8M327.7,788.9l0.1,2.9M328.7,789.2l0.1,3.4M329.5,790.7l0.1,3.7M330.3,788.8l0.1,3.3M330.7,788.8l0.1,3.3M331.9,790.3l0.1,3.6M332.3,790.6l0.1,3.4M333.1,789.7l0.1,3.3M334.0,790.1l0.1,3.0M335.0,790.1l0.1,2.8M335.8,789.9l0.1,3.2M336.5,789.8l0.1,2.9M337.0,789.7l0.1,3.0M337.6,789.7l0.1,3.2M338.7,791.4l0.1,3.4M339.5,790.6l0.1,3.3M339.8,791.8l0.1,2.7M340.9,790.7l0.1,3.0M341.4,790.9l0.1,3.3M342.1,791.6l0.1,3.0M343.1,791.3l0.1,3.3M343.6,791.7l0.1,2.9M344.3,793.0l0.1,3.2M345.0,792.6l0.1,3.3M346.2,792.4l0.1,2.7M346.7,792.9l0.1,2.8M347.7,792.3l0.1,2.8M348.2,794.1l0.0,2.3M349.1,793.5l0.1,2.5M349.7,794.2l0.1,3.3M350.4,793.9l0.1,2.9M351.5,794.4l0.0,2.4M352.1,793.8l0.0,2.4M352.9,793.1l0.1,3.1M353.5,795.1l0.1,3.0M354.0,793.8l0.1,3.1M354.9,795.1l0.1,3.0M355.8,794.7l0.0,2.2M356.6,795.2l0.0,2.2M357.0,795.4l0.1,3.1M358.0,795.2l0.0,2.5M358.9,794.5l0.1,2.6M359.2,794.7l0.1,3.0M360.3,796.1l0.1,2.7M361.2,796.7l0.1,2.6M361.6,795.6l0.1,3.0M362.3,796.1l0.1,2.6M363.2,796.1l0.1,2.8M364.1,796.9l0.1,2.6M364.5,796.7l0.1,3.0M365.8,797.6l0.0,2.4M366.1,798.0l0.1,2.9M367.1,796.4l0.1,2.5M368.0,796.9l0.1,2.8M368.2,797.2l0.1,2.7M369.2,797.8l0.1,3.0M370.1,798.0l0.1,2.6M370.6,798.6l0.1,2.6M371.3,798.8l0.0,2.3M372.1,799.2l0.1,2.5M373.0,798.8l0.0,1.9M373.7,798.7l0.0,2.1M374.6,798.1l0.0,1.8M375.4,799.7l0.0,1.9M375.7,799.9l0.0,2.1M376.6,798.7l0.0,1.9M377.3,798.8l0.0,1.8M378.3,800.3l0.0,1.7M378.7,799.4l0.0,2.3M379.6,800.3l0.0,1.7M380.4,800.5l0.0,1.6M381.5,800.0l0.0,1.9M382.2,801.0l0.0,1.5M382.8,799.8l0.0,2.0M383.7,801.8l0.0,2.0M384.4,800.7l0.0,2.4M385.1,801.9l0.0,1.8M385.7,800.5l0.0,1.6M386.6,802.1l0.0,1.9M387.5,800.8l0.0,2.2M387.8,800.9l0.0,2.0M388.6,801.7l0.0,1.8M389.7,802.2l0.0,1.6M390.2,801.9l0.0,1.5M390.9,802.4l0.0,1.6M391.6,802.2l0.0,1.2M392.8,803.6l0.0,0.8M393.5,802.9l0.0,0.5M393.8,803.9l0.0,0.8M394.7,804.0l0.0,0.3M395.3,802.9l0.0,0.7" stroke="#2a50f0" stroke-opacity="0.8" stroke-width="0.7" fill="none"/><path d="M284.7,786.9l1.0,48.5M285.4,786.9l1.0,48.0M289.0,789.5l1.0,49.6M291.8,789.6l1.1,53.4M299.1,791.5l1.5,73.8M304.2,791.8l1.2,61.7M310.5,792.7l1.5,77.2M311.4,791.1l1.6,80.9M316.7,791.0l1.3,64.9M317.4,791.1l1.4,69.9M319.9,792.8l1.4,69.2M320.3,793.1l1.8,88.3M321.4,792.3l1.2,60.1M326.5,792.3l1.4,70.8M330.8,792.1l1.6,78.5M333.1,793.0l1.6,79.6M339.8,794.5l1.3,64.8M341.0,793.7l1.4,72.4M343.1,794.6l1.6,79.2M346.8,795.7l1.3,66.3M349.7,797.5l1.6,78.5M352.1,796.1l1.1,56.8M353.6,798.1l1.5,72.9M356.6,797.4l1.0,51.7M357.1,798.4l1.5,73.9M364.1,799.5l1.3,62.5M365.8,800.1l1.2,58.0M366.2,800.9l1.4,69.1M375.4,801.6l0.9,46.2M378.8,801.8l1.1,56.0M382.2,802.6l0.7,36.9M391.6,803.4l0.6,29.8M394.7,804.3l0.2,7.8M395.3,803.5l0.3,15.7" stroke="#2a50f0" stroke-opacity="0.5" stroke-width="0.7" fill="none"/><path d="M274.2,779.4l1.0,49.4M275.7,779.5l0.9,44.6M276.5,779.9l1.0,47.6M276.8,781.4l1.0,51.2M277.9,781.2l1.0,51.5M279.5,783.6l0.9,46.2M280.1,782.7l1.1,53.7M282.8,785.5l1.1,55.9M286.6,788.4l1.1,55.4M287.5,788.7l1.1,57.4M288.4,790.9l1.2,61.0M291.4,789.7l1.1,54.7M293.6,790.2l1.0,50.6M294.8,791.5l1.3,67.4M295.7,790.5l1.1,52.9M296.8,790.2l1.5,74.5M297.5,789.3l1.1,55.1M299.6,791.2l1.5,76.3M300.0,791.0l1.4,67.9M301.0,790.2l1.3,63.3M301.6,790.4l1.3,63.4M303.3,791.4l1.3,66.5M304.5,791.3l1.2,59.8M306.2,791.0l1.3,62.6M307.9,792.2l1.5,77.0M308.8,792.5l1.6,80.7M313.0,791.9l1.4,70.2M313.6,792.6l1.4,71.0M314.8,793.0l1.7,83.5M316.3,791.2l1.4,69.0M322.0,791.4l1.4,67.9M322.9,793.4l1.6,79.6M323.5,792.9l1.4,70.5M325.0,791.5l1.4,69.0M327.3,791.5l1.4,68.1M329.5,794.4l1.8,89.4M330.4,792.1l1.6,80.2M332.0,793.9l1.7,86.6M334.0,793.2l1.5,73.1M335.1,792.9l1.3,67.1M335.8,793.1l1.6,77.5M336.5,792.7l1.4,68.9M337.1,792.8l1.5,72.6M337.7,792.9l1.5,77.4M341.4,794.2l1.6,79.8M342.2,794.6l1.4,71.8M343.6,794.6l1.4,69.1M344.4,796.2l1.5,75.8M345.1,795.9l1.6,78.7M347.8,795.1l1.3,66.8M348.3,796.4l1.1,55.4M349.1,796.0l1.2,60.1M350.5,796.7l1.4,68.6M353.0,796.2l1.5,74.2M354.0,796.9l1.5,74.0M359.0,797.1l1.2,62.5M359.3,797.7l1.4,71.5M361.7,798.7l1.5,72.6M364.5,799.7l1.4,71.6M367.1,798.9l1.2,60.1M370.1,800.6l1.3,62.5M370.7,801.2l1.2,61.4M371.3,801.1l1.1,54.8M372.1,801.7l1.2,60.3M373.7,800.9l1.0,51.2M375.7,802.1l1.0,50.8M379.6,802.0l0.8,40.1M380.5,802.1l0.8,39.4M382.8,801.8l1.0,48.4M383.8,803.9l1.0,49.1M384.4,803.1l1.1,56.4M385.1,803.7l0.8,42.1M385.7,802.1l0.8,39.4M387.6,803.0l1.0,52.1M388.6,803.6l0.9,44.2M389.7,803.8l0.8,38.2M392.8,804.4l0.4,20.1M393.5,803.4l0.2,12.0" stroke="#28a8f0" stroke-opacity="0.7" stroke-width="0.7" fill="none"/><path d="M274.8,779.3l0.8,40.6M278.5,783.0l1.0,51.8M280.7,783.5l1.1,56.9M281.7,784.1l1.3,63.5M282.4,784.8l1.0,52.3M284.1,787.0l0.9,45.9M285.8,788.2l1.1,56.2M289.8,788.6l1.0,47.7M290.5,791.3l1.4,69.6M292.9,789.1l1.1,54.3M294.6,791.4l1.3,66.7M297.8,790.4l1.5,74.9M302.4,790.7l1.4,68.2M305.3,791.7l1.6,78.9M306.8,791.3l1.7,87.3M309.5,792.0l1.4,70.2M309.8,791.7l1.4,69.9M312.4,791.3l1.4,71.5M315.5,791.8l1.4,67.8M318.2,791.3l1.4,70.8M319.1,793.0l1.6,79.2M324.5,791.6l1.2,62.2M325.6,792.9l1.3,65.7M327.8,791.8l1.4,70.4M328.8,792.6l1.6,80.8M332.3,794.0l1.6,81.4M338.8,794.8l1.6,81.5M339.6,793.9l1.6,80.1M346.3,795.1l1.3,64.3M351.6,796.9l1.2,58.8M355.0,798.1l1.5,72.5M355.8,796.9l1.0,52.4M358.1,797.7l1.2,59.4M360.4,798.7l1.3,64.4M361.3,799.4l1.3,62.8M362.4,798.6l1.2,61.7M363.2,798.9l1.3,66.1M368.1,799.8l1.4,67.7M368.3,799.9l1.3,64.2M369.2,800.8l1.4,71.9M373.1,800.7l0.9,46.3M374.6,800.0l0.9,43.9M376.6,800.6l0.9,45.9M377.4,800.6l0.9,43.5M378.4,802.0l0.8,42.0M381.5,801.9l0.9,46.1M386.6,804.0l0.9,44.7M387.8,802.9l1.0,48.9M390.2,803.4l0.7,35.9M390.9,804.0l0.8,39.0M393.8,804.8l0.4,20.2" stroke="#40c0f8" stroke-opacity="0.6" stroke-width="0.7" fill="none"/>
<polygon points="262.0,930.0 288.3,936.9 301.9,940.4 315.4,942.2 342.5,945.9 369.6,952.0 385.9,955.7 392.0,957.1 392.0,962.0 385.9,983.8 369.6,1000.0 342.5,1006.8 315.4,1002.7 301.9,997.3 288.3,991.9 262.0,976.0" fill="#2a84f0" fill-opacity="0.36"/>
<path d="M263.9,929.8l0.0,1.9M264.5,930.7l0.0,1.4M265.5,931.6l0.0,1.6M266.3,930.9l0.0,2.1M266.8,930.5l0.0,1.4M267.8,931.3l0.0,1.9M268.6,931.6l0.0,1.5M269.4,932.3l0.0,1.5M270.1,931.7l0.0,2.1M270.5,932.2l0.0,1.4M271.7,932.2l0.0,1.7M272.5,933.6l0.0,1.6M273.1,933.9l0.0,1.9M273.5,932.9l0.0,1.8M274.3,932.7l0.0,1.5M275.3,934.2l0.0,1.6M275.9,934.4l0.0,2.1M276.6,933.8l0.0,1.9M277.4,934.2l0.0,1.8M278.4,933.4l0.0,1.8M278.9,934.2l0.0,1.5M279.6,933.9l0.0,2.0M280.3,934.5l0.0,1.4M281.1,934.7l0.0,2.0M282.0,935.2l0.0,1.9M282.9,934.8l0.0,1.4M283.5,934.7l0.0,1.5M284.1,935.5l0.0,1.5M284.9,935.4l0.0,1.6M285.9,936.7l0.0,1.7M286.2,935.9l0.0,1.6M287.5,937.6l0.0,2.1M287.8,936.1l0.0,1.7M288.8,937.6l0.0,1.6M289.7,937.2l0.0,1.6M290.5,937.2l0.0,1.6M290.8,936.8l0.0,1.8M292.0,938.1l0.0,1.8M292.8,938.3l0.0,1.6M293.4,937.6l0.0,1.9M293.9,938.1l0.0,1.5M294.8,939.4l0.0,1.6M295.5,937.8l0.0,2.1M296.1,938.8l0.0,2.0M297.0,939.7l0.0,1.7M297.9,939.4l0.0,1.8M298.6,939.5l0.0,1.8M299.2,940.6l0.0,1.7M300.0,940.8l0.0,2.3M300.5,939.5l0.0,1.7M301.3,940.7l0.0,2.2M302.1,941.3l0.0,1.9M302.8,940.4l0.0,2.1M303.9,939.7l0.0,2.0M304.6,940.8l0.0,1.5M305.0,940.4l0.0,1.6M306.0,941.8l0.0,2.3M306.8,941.5l0.0,2.1M307.2,942.0l0.0,1.8M308.0,942.0l0.0,2.1M308.9,940.6l0.0,2.2M309.5,940.8l0.0,2.1M310.5,940.9l0.0,2.3M311.4,941.8l0.0,1.9M312.2,941.7l0.0,1.8M312.9,942.8l0.0,1.7M313.4,941.7l0.0,2.1M314.1,941.4l0.0,1.7M314.9,941.6l0.0,2.0M315.6,943.2l0.0,2.2M316.4,942.1l0.0,1.9M317.1,942.5l0.0,2.0M317.7,941.6l0.0,2.2M318.9,943.0l0.0,1.8M319.8,942.1l0.0,2.1M320.5,943.2l0.0,1.9M321.0,943.7l0.0,1.9M321.9,943.5l0.0,2.3M322.3,943.8l0.0,2.0M323.2,942.3l0.0,2.0M324.1,942.5l0.0,2.4M324.9,942.9l0.0,1.8M325.5,944.0l0.0,2.1M326.0,943.2l0.0,2.3M326.7,943.3l0.0,2.0M327.8,943.8l0.0,2.3M328.8,944.9l0.0,1.9M329.2,943.6l0.0,1.7M329.8,944.2l0.1,2.5M331.0,944.7l0.0,1.7M331.2,944.4l0.0,2.2M332.1,945.2l0.0,1.7M333.3,945.1l0.0,2.4M334.0,944.9l0.0,2.1M334.3,945.5l0.0,1.7M335.3,944.3l0.0,1.7M336.1,945.9l0.0,2.2M336.9,945.0l0.0,2.1M337.8,944.5l0.0,2.2M338.5,944.9l0.0,2.3M338.8,944.7l0.0,1.7M340.0,946.6l0.0,2.3M340.4,944.8l0.0,2.2M341.4,945.6l0.0,2.0M341.7,945.4l0.1,2.6M343.0,945.4l0.0,2.2M343.8,946.9l0.1,2.5M344.5,946.3l0.0,2.4M345.2,947.2l0.0,2.4M345.8,947.0l0.0,2.0M346.5,946.9l0.0,1.6M347.3,946.6l0.0,2.0M347.8,946.2l0.0,2.0M348.8,946.4l0.0,1.9M349.7,947.5l0.0,2.0M350.1,946.7l0.0,1.9M351.1,948.7l0.0,2.1M351.9,947.4l0.0,1.9M352.8,947.9l0.0,2.2M353.1,949.2l0.0,2.1M354.1,949.4l0.0,1.8M354.5,947.7l0.0,1.8M355.6,949.9l0.0,2.1M356.4,948.1l0.0,2.0M356.8,948.2l0.0,1.9M358.0,948.8l0.0,1.6M358.2,949.4l0.0,1.5M359.5,948.8l0.0,1.6M359.7,948.9l0.0,2.2M360.7,949.6l0.0,1.9M361.4,949.7l0.0,1.4M362.5,949.5l0.0,1.7M362.9,950.0l0.0,1.7M363.9,951.2l0.0,1.7M364.4,950.6l0.0,2.1M365.1,950.2l0.0,1.5M366.2,952.3l0.0,1.8M366.9,951.3l0.0,1.6M367.6,952.3l0.0,1.9M368.3,951.5l0.0,1.9M368.8,952.6l0.0,1.8M369.8,951.5l0.0,1.7M370.5,952.9l0.0,1.5M371.0,951.8l0.0,1.7M372.2,952.5l0.0,1.3M372.8,953.0l0.0,1.4M373.4,953.1l0.0,1.7M374.4,952.5l0.0,1.5M374.7,952.4l0.0,1.4M375.5,953.8l0.0,1.4M376.4,953.7l0.0,1.3M377.2,953.2l0.0,1.6M378.0,954.6l0.0,1.1M378.5,954.2l0.0,1.1M379.4,954.3l0.0,1.2M380.0,954.4l0.0,1.1M381.3,955.6l0.0,1.3M382.0,955.1l0.0,1.4M382.4,955.7l0.0,1.3M383.3,954.9l0.0,1.0M383.7,955.4l0.0,1.3M384.8,955.6l0.0,1.1M385.5,956.0l0.0,1.0M386.2,955.3l0.0,0.9M387.0,955.2l0.0,0.7M387.8,955.2l0.0,0.9M388.5,955.4l0.0,0.7M389.5,957.5l0.0,0.5M390.0,957.6l0.0,0.6M390.5,956.5l0.0,0.5M391.7,956.3l0.0,0.2M392.3,956.8l-0.0,-0.0M393.1,958.2l-0.0,-0.0M393.8,957.3l0.0,0.3" stroke="#2040f0" stroke-opacity="0.8" stroke-width="0.7" fill="none"/><path d="M264.5,932.1l0.7,34.5M279.0,935.7l0.7,36.7M279.6,935.9l1.0,48.0M280.3,935.9l0.7,33.2M283.0,936.2l0.7,33.0M286.0,938.4l0.8,40.9M292.1,939.9l0.9,42.9M305.0,942.0l0.8,38.8M308.9,942.8l1.1,53.3M310.5,943.2l1.1,55.4M311.4,943.7l0.9,45.8M325.5,946.0l1.0,49.7M326.1,945.5l1.1,55.9M331.0,946.4l0.8,40.0M332.2,946.9l0.8,40.2M334.1,947.0l1.0,49.3M336.1,948.0l1.0,52.3M336.9,947.1l1.0,49.5M340.0,948.8l1.1,54.5M345.2,949.6l1.1,57.4M356.8,950.0l0.9,45.0M359.5,950.4l0.8,38.2M369.8,953.2l0.8,40.1M372.2,953.8l0.6,30.9M374.8,953.8l0.7,33.0M378.0,955.6l0.5,25.4M380.0,955.5l0.5,26.5M383.8,956.7l0.6,32.0M388.5,956.1l0.3,16.2" stroke="#2040f0" stroke-opacity="0.5" stroke-width="0.7" fill="none"/><path d="M263.9,931.7l0.9,46.2M266.3,933.0l1.0,50.5M266.8,931.9l0.7,33.4M267.9,933.2l0.9,46.0M268.6,933.1l0.7,36.6M270.6,933.6l0.7,33.3M271.8,933.9l0.8,41.1M274.3,934.2l0.7,35.0M275.3,935.8l0.8,38.1M276.0,936.5l1.0,50.9M276.6,935.7l0.9,46.1M277.5,935.9l0.9,43.1M282.0,937.0l0.9,44.6M286.2,937.5l0.8,39.5M287.6,939.7l1.0,50.7M287.9,937.8l0.8,39.9M290.6,938.8l0.7,37.4M293.5,939.6l0.9,46.7M293.9,939.6l0.7,36.0M294.8,940.9l0.8,37.7M296.1,940.8l0.9,47.1M297.1,941.4l0.8,40.7M297.9,941.1l0.8,42.3M298.6,941.3l0.9,43.0M299.3,942.3l0.8,41.1M300.1,943.1l1.1,55.1M302.8,942.4l1.0,49.6M303.9,941.8l1.0,49.2M306.8,943.5l1.0,49.9M309.5,942.9l1.0,49.9M312.2,943.4l0.9,43.0M312.9,944.6l0.8,41.0M314.9,943.7l1.0,48.3M316.4,944.0l0.9,46.6M317.1,944.5l1.0,48.2M317.8,943.8l1.1,52.8M318.9,944.9l0.9,44.4M320.5,945.1l0.9,45.8M321.9,945.7l1.1,54.2M323.3,944.3l1.0,48.5M324.1,944.9l1.1,57.1M324.9,944.7l0.9,43.5M326.8,945.3l1.0,48.1M327.8,946.2l1.1,55.9M329.3,945.3l0.8,39.7M329.8,946.8l1.2,60.9M331.2,946.5l1.1,52.5M333.3,947.5l1.1,57.1M334.3,947.1l0.8,39.7M338.6,947.2l1.1,55.2M338.8,946.4l0.8,40.6M341.4,947.6l1.0,48.6M341.8,947.9l1.2,61.8M343.0,947.6l1.0,52.0M347.8,948.2l0.9,47.2M348.8,948.3l0.9,46.7M350.2,948.5l0.9,44.6M351.1,950.8l1.0,50.0M351.9,949.3l0.9,45.3M353.2,951.3l1.0,49.7M356.4,950.1l1.0,48.6M358.1,950.4l0.8,37.9M358.3,950.9l0.7,36.1M361.4,951.2l0.7,34.4M363.0,951.8l0.8,41.5M364.0,952.9l0.8,39.9M366.3,954.0l0.9,42.8M367.7,954.2l0.9,46.4M368.3,953.4l0.9,46.7M370.5,954.3l0.7,35.1M371.1,953.5l0.8,41.6M372.8,954.5l0.7,34.5M373.4,954.8l0.8,40.6M374.4,954.0l0.7,36.5M378.5,955.3l0.5,27.0M381.3,956.9l0.6,30.7M382.0,956.5l0.7,33.3M382.5,957.0l0.6,32.2M384.8,956.7l0.5,26.9M385.5,956.9l0.5,23.0M386.3,956.2l0.4,22.4M387.0,955.9l0.3,16.9M390.5,957.0l0.3,12.8M391.7,956.5l0.1,4.7M393.1,958.2l-0.0,-0.1" stroke="#2a84f0" stroke-opacity="0.7" stroke-width="0.7" fill="none"/><path d="M265.5,933.1l0.8,37.6M269.5,933.8l0.7,35.8M270.2,933.8l1.0,50.9M272.5,935.2l0.7,37.2M273.1,935.8l0.9,46.3M273.5,934.7l0.9,42.6M278.4,935.1l0.8,42.1M281.1,936.6l0.9,47.4M283.6,936.2l0.7,37.1M284.1,937.0l0.7,36.8M284.9,937.1l0.8,39.3M288.9,939.2l0.8,38.1M289.7,938.7l0.8,37.7M290.8,938.7l0.9,44.3M292.8,939.9l0.8,38.5M295.6,939.9l1.0,51.1M300.5,941.2l0.8,40.0M301.3,942.9l1.1,53.6M302.1,943.2l0.9,45.0M304.6,942.3l0.7,35.4M306.0,944.0l1.1,54.0M307.3,943.8l0.9,43.1M308.0,944.0l1.0,49.4M313.5,943.8l1.0,50.7M314.1,943.0l0.8,40.1M315.7,945.4l1.0,52.3M319.8,944.2l1.0,49.5M321.0,945.6l0.9,45.9M322.3,945.8l0.9,47.2M328.8,946.8l0.9,44.7M335.3,946.0l0.8,41.0M337.8,946.7l1.1,52.7M340.4,947.0l1.0,51.9M343.8,949.4l1.2,61.1M344.5,948.7l1.2,58.6M345.8,949.0l1.0,48.3M346.5,948.5l0.8,39.2M347.4,948.6l1.0,48.4M349.8,949.5l1.0,48.3M352.8,950.1l1.1,53.8M354.1,951.2l0.9,42.5M354.6,949.5l0.9,43.0M355.7,952.0l1.0,50.9M359.8,951.1l1.0,51.9M360.7,951.5l0.9,45.5M362.5,951.2l0.8,40.4M364.4,952.7l1.0,50.7M365.1,951.7l0.7,36.3M366.9,952.9l0.8,38.8M368.8,954.4l0.8,42.0M375.6,955.2l0.7,34.4M376.4,955.0l0.6,31.8M377.2,954.7l0.8,37.9M379.4,955.4l0.6,27.8M383.3,955.9l0.5,24.0M387.8,956.2l0.4,22.1M389.5,958.0l0.2,11.8M390.0,958.2l0.3,15.1M392.3,956.8l-0.0,-0.3M393.8,957.6l0.1,7.4" stroke="#3aa0f8" stroke-opacity="0.6" stroke-width="0.7" fill="none"/>
<g fill="none" stroke="#111" stroke-width="0.55" stroke-linejoin="round"><path d="M338,470l-6,20 -6,20 -5,20 -6,20 -5,21 -4,20 -2,21 -2,21 -2,21 -1,21 -2,21 -2,21 -2,21 -1,21 -2,21 -1,21 -3,21 -2,21 -3,20 -3,21 -3,21 -3,21 -3,21 -4,20 -4,21 -4,20 -5,21M340,490l-5,21 -4,20 -4,20 -5,21 -2,20 -2,21 -1,21 -1,21 -1,21 -1,21 -2,21 -1,21 -2,21 -2,21 -2,21 -3,20 -2,21 -2,21 -3,21 -2,21 -3,20 -3,21 -3,21 -4,20 -4,21 -5,20 -4,21M338,636l-1,21 -2,21 -1,20 -1,21 -1,21 -2,21 -1,21 -2,20 -1,21 -2,21 -1,21 -2,21 -2,20 -3,21 -3,21 -3,20 -5,20 -5,21 -5,20 -4,21 -4,20M335,594l-2,21 -1,21 -1,20 -1,21 -1,21 -1,21 -2,21 -1,21 -2,20 -1,21 -2,21 -2,21 -2,21 -2,20 -3,21 -3,21 -3,20 -3,21 -5,20 -4,21 -5,20 -4,21 -4,20M331,593l-1,21 -2,21 -1,21 -1,21 -1,21 -1,21 -2,21 -1,20 -2,21 -1,21 -3,21 -2,21 -2,20 -2,21 -4,21 -3,21 -3,20 -4,21M334,490l-5,20 -4,21 -4,20 -4,20 -2,21 -1,21 -2,21 -1,21 -2,21 -2,21 -3,20 -2,21 -3,21 -2,21 -2,21 -2,21 -2,21 -1,21 -2,21 -2,20 -2,21 -3,21 -4,21 -4,20M337,511l-4,20 -3,21 -4,20 -2,21 -2,21 -1,21 -2,20 -1,21 -2,21 -1,21 -2,21 -2,21 -2,21 -2,21 -2,20 -3,21 -3,21 -3,21 -3,21 -3,20 -4,21 -3,21 -5,20 -4,21M346,491l-2,20 -3,21 -3,20 -3,21 -2,21 -2,21 -1,20 -2,21 -1,21 -1,21 -2,21 -1,21 -2,20 -1,21 -2,21 -1,21 -2,21 -2,21 -2,20 -3,21 -2,21 -3,20 -4,21 -4,20 -5,21M331,531l-4,20 -4,21 -3,20 -2,21 -1,21 -2,21 0,21 -1,21 -1,21 -1,21 -1,21 -1,21 -1,21 -3,20 -2,21 -2,21 -3,21 -3,21M341,511l-4,21 -3,20 -4,21 -3,20 -1,21 -2,21 -1,21 -1,21 -1,21 -1,20 -1,21 -1,21 -1,21 -1,21 -1,21 -2,21 -2,20 -2,21 -3,21 -3,21 -4,20 -4,21M320,592l-2,21 -2,21 -2,21 -1,21 -2,21 -1,21 -2,21 -1,21 -1,21 -2,20 -2,21 -2,21 -2,21 -2,21M315,550l-6,21 -3,20 -3,21 -2,21 -2,21 -2,21 -2,21 -1,21 -2,21 -2,21 -1,21 -2,21 -3,21 -2,20 -3,21 -3,21 -3,21 -3,21 -3,21 -4,20 -4,21 -4,20 -4,21 -5,21 -4,20M318,592l-2,21 -1,21 -2,21 -1,21 -2,21 -2,21 -1,21 -2,21 -2,20 -1,21 -3,21 -2,21 -3,21 -2,21 -3,20 -3,21 -3,21 -4,21M333,511l-5,20 -4,20 -5,20 -4,21 -2,21 -1,21 -2,21 -1,21 -2,21 -1,21 -1,21 -1,20 -1,21 -1,21 -1,21 -2,21 -2,21 -2,21 -3,21 -3,20 -3,21M319,551l-6,20 -4,20 -3,21 -3,21 -2,21 -2,21 -2,21 -2,21 -2,21 -1,21 -2,21 -1,21 -3,21 -2,21 -2,20 -3,21 -3,21 -3,21 -2,21M324,530l-6,21 -6,20 -4,20 -2,21 -2,21 -2,21 -2,21 -1,21 -1,21 -1,21 -1,21 0,21 -1,21 -2,21 -3,21 -2,21 -3,20 -3,21 -4,21 -4,21M341,615l-1,21 -1,21 -1,21 -2,21 -1,20 -1,21 -2,21 -1,21 -2,21 -1,20 -2,21 -2,21 -2,21 -2,20 -3,21 -2,21M331,573l-3,20 -2,21 -3,21 -2,21 -2,20 -1,21 -2,21 -1,21 0,21 -1,21 -1,21 -1,21 -2,21 -2,20 -2,21 -4,21 -4,20 -4,21 -4,21 -5,20 -4,21M334,594l-1,21 -2,20 -2,21 -2,21 -2,21 -2,21 -2,20 -2,21 -1,21 -2,21 -1,21 -2,21 -1,20 -1,21 -3,21 -2,21 -3,20 -3,21M326,510l-6,20 -6,20 -6,20 -5,21 -2,21 -2,21 -2,21 -2,21 -1,21 -2,21 -1,21 -1,21 -1,21 -1,21 -3,21 -3,21 -3,20 -3,21 -4,21 -3,21 -4,20 -4,21 -4,21 -4,20 -4,21 -5,21M325,551l-5,21 -3,20 -2,21 -2,21 -2,21 -2,21 -2,21 -2,21 -1,20 -2,21 -1,21 -2,21 -2,21 -2,21 -3,21 -2,21 -3,20M338,490l-3,21 -4,20 -3,21 -4,20 -2,21 -1,21 -2,20 -1,21 -1,21 -1,21 -2,21 -1,21 -2,21 -1,21 -2,21 -2,20 -3,21 -3,21 -3,21M306,654l-1,21 -1,21 -2,21 -1,21 -1,21 -1,21 -2,21 -2,21 -2,21 -3,21 -2,21 -4,20 -3,21 -3,21 -4,20 -5,21M291,653l-2,21 -2,21 -1,21 -2,21 -1,21 -1,21 -2,21 -2,21 -3,21 -3,21 -3,21 -3,21 -4,21 -4,20 -4,21 -4,21 -4,20 -4,21M309,550l-6,20 -5,20 -2,21 -3,21 -2,21 -2,21 -2,21 -1,21 -2,21 -1,21 -2,21 -1,21 -3,21 -3,21 -2,21 -3,21 -4,21 -3,21 -4,20M336,470l-7,20 -7,20 -7,20 -6,20 -7,20 -5,20 -2,21 -3,21 -2,21 -2,21 -2,21 -2,21 -1,21 -1,21 -2,21 -1,21 -3,21 -2,21 -3,21 -3,21 -3,21 -3,21 -4,20 -3,21M340,490l-4,21 -4,20 -4,20 -5,21 -3,21 -2,20 -1,21 -2,21 -1,21 -1,21 -1,21 -1,21 -2,21 -1,21 -2,21 -2,20 -2,21 -3,21 -2,21 -4,21 -3,20 -3,21 -4,21M342,470l-4,20 -4,21 -4,20 -5,20 -5,21 -3,20 -3,21 -3,21 -2,21 -2,21 -2,20 -2,21 -1,21 0,21 -1,21 -1,21 -1,21 -2,21 -2,21 -3,21 -4,20M330,614l-2,21 -1,21 -2,21 -1,21 -1,21 -2,20 -1,21 -2,21 -1,21 -2,21 -2,21 -2,20 -2,21M328,572l-2,21 -1,21 -1,21 -1,21 -1,21 -1,21 -1,20 -1,21 -1,21 -1,21 -2,21 -1,21 -2,21 -2,20 -3,21 -3,21 -3,21 -3,20 -4,21M331,552l-4,20 -3,21 -2,21 -2,21 -2,20 -2,21 -2,21 -1,21 -2,21 -2,21 -1,21 -2,21 -2,20 -2,21 -2,21 -2,21M315,530l-6,20 -6,20 -5,20 -2,21 -3,21 -2,21 -2,21 -1,21 -2,21 -2,21 -1,21 -1,21 -1,21 -3,21 -3,21 -3,21 -3,21 -3,21 -4,21 -3,20 -4,21 -4,21M333,490l-6,20 -6,20 -6,20 -6,21 -4,20 -2,21 -2,21 -3,21 -1,21 -2,21 -2,21 -2,21 -1,21 -2,21 -1,21 -3,21 -3,20 -3,21 -2,21 -4,21 -3,21 -4,20 -3,21 -5,21 -4,20 -4,21 -5,21M313,571l-3,21 -1,21 -2,20 -1,21 -1,21 -1,21 -2,21 -1,21 -1,21 -2,21 -1,21 -3,21 -3,21 -3,21 -3,20M314,655l-1,21 -1,21 -1,21 -1,21 -1,21 -1,21 0,21 -2,20 -1,21 -2,21 -2,21 -3,21 -3,20 -4,21 -4,21 -5,20 -6,21M319,634l-2,21 -1,21 -1,21 -2,21 -1,21 -2,21 -1,21 -2,21 -2,20 -2,21 -2,21 -3,21 -3,21 -3,20 -3,21 -4,21 -5,20 -5,21 -4,20 -5,21 -5,20M313,550l-6,20 -3,21 -1,21 -2,21 -2,21 -1,21 -1,21 -2,21 -2,21 -1,21 -2,21 -2,21 -3,21 -3,20 -4,21 -3,21 -4,21M302,654l-2,21 -2,21 -2,21 -2,21 -2,21 -1,21 -2,21 -2,21 -3,21 -2,20 -3,21M317,655l-2,21 -2,21 -1,21 -2,21 -1,21 -2,21 -1,21 -1,20 -2,21 -1,21 -2,21 -2,21 -3,20 -2,21 -3,21 -5,20M320,572l-3,20 -2,21 -2,21 -1,21 -2,21 -1,21 -2,21 -1,21 -2,21 -1,20 -1,21 -3,21 -2,21 -2,21 -3,21 -3,20 -3,21 -3,21 -4,21 -4,20M337,573l-3,21 -1,21 -2,20 -1,21 -1,21 -1,21 0,21 -2,21 -1,21 -1,20 -2,21 -2,21 -2,21 -2,21 -3,20 -3,21 -3,21 -3,20 -3,21 -4,20 -5,21 -4,20 -3,21 -4,20M339,636l-1,21 -1,21 -1,21 -2,20 -1,21 -1,21 -2,21 -2,21 -1,20 -2,21 -2,21 -2,21 -3,20 -2,21M341,553l-3,20 -2,21 -1,21 -1,21 -1,21 -1,20 -1,21 -1,21 -2,21 -1,21 -2,21 -1,20 -2,21 -2,21 -1,21 -2,20 -3,21 -3,21 -3,21 -3,20 -5,20 -5,21M326,551l-4,21 -4,20 -2,21 -2,21 -1,21 -2,21 -1,21 -2,21 -1,21 -1,21 -1,21 -2,20 -2,21 -2,21 -3,21 -2,21M336,573l-2,21 -2,21 -1,20 -1,21 -1,21 0,21 0,21 0,21 -1,21 -1,21 -2,20 -2,21 -3,21 -3,21 -3,20 -4,21 -3,21 -3,20M347,532l-2,21 -3,21 -1,20 -1,21 -1,21 0,21 -1,21 -1,21 -1,20 -1,21 -2,21 -2,21 -2,21 -2,20 -2,21 -2,21 -2,21 -3,20 -2,21 -3,21 -3,20 -4,20 -4,21 -4,20 -4,21 -4,20M337,470l-7,20 -7,20 -7,20 -6,20 -7,20 -4,21 -2,20 -2,21 -2,21 -1,21 -1,22 -1,21 -1,21 -1,21 -2,21 -1,21 -3,21 -3,20 -3,21 -4,21 -4,21M344,470l-3,20 -3,21 -4,20 -4,21 -4,20 -2,21 -2,21 -1,21 -2,20 -2,21 -1,21 -2,21 -2,21 -2,21 -2,21 -2,21 -2,20 -3,21 -3,21 -2,21 -4,21 -3,20 -3,21M336,552l-3,21 -2,20 -1,21 -1,21 0,21 0,21 -1,21 0,21 -2,21 -1,21 -2,20 -2,21 -3,21 -3,21 -3,20 -3,21 -3,21 -3,21 -2,20 -3,21M313,613l-1,21 -2,21 -2,21 -1,21 -2,21 -1,20 -2,21 -1,21 -2,21 -2,21 -2,21 -3,21 -2,21 -3,20M336,615l-2,21 -1,21 -1,20 -2,21 -1,21 -1,21 -1,21 -2,21 -1,20 -2,21 -1,21 -2,21 -1,20 -3,21M304,612l-3,21 -2,21 -3,21 -2,21 -2,21 -2,21 -2,21 -1,21 -1,21 -3,21 -2,20 -2,21 -2,21 -3,21 -3,21 -3,21 -3,20 -4,21 -4,20 -4,21 -5,21 -5,20M332,470l-7,20 -7,20 -6,20 -7,20 -6,20 -4,20 -2,21 -1,21 -2,21 -1,21 -2,21 -1,21 -1,21 -1,21 -2,21 -1,21 -3,21 -4,21 -3,21 -4,21 -4,21 -4,20 -4,21 -4,21 -5,21 -4,20 -5,21M335,490l-6,20 -5,21 -5,20 -5,20 -4,21 -2,20 -2,21 -2,21 -1,21 -2,21 -2,21 -1,21 -1,21 -2,21 -1,21 -3,21 -2,21 -3,21 -2,20 -3,21 -4,21 -3,21 -4,20 -4,21 -4,20 -5,21M349,512l-2,20 -2,21 -3,21 -2,20 -1,21 -1,21 -2,21 -1,21 -1,20 -2,21 -1,21 -2,21 -1,21 -2,20 -1,21 -2,21 -1,21 -2,21 -3,20 -2,21 -3,21 -3,20 -5,20 -5,21M336,573l-1,21 -1,21 -2,21 -1,20 -2,21 -2,21 -2,21 -2,21 -2,20 -2,21 -2,21 -1,21 -2,21 -2,20 -1,21 -2,21 -2,21 -3,20 -3,21 -4,20 -5,21M317,551l-5,20 -4,20 -2,21 -2,21 -1,21 -2,21 -1,21 -1,21 -1,21 -1,21 -2,21 -1,21 -2,21 -3,21 -3,21 -3,20 -4,21M328,490l-6,20 -7,20 -6,20 -6,20 -4,20 -2,21 -3,21 -2,21 -2,21 -1,21 -2,21 -2,21 -1,21 -2,21 -1,21 -3,21 -3,21 -3,21 -3,21 -3,21 -4,21 -3,20 -4,21 -4,21 -4,20 -4,21M315,571l-3,21 -2,21 -2,21 -2,20 -2,21 -1,21 -2,21 -1,21 -2,21 -1,21 -1,21 -3,21 -2,21 -3,21 -2,21 -3,20 -4,21M323,593l-1,21 -1,21 -1,20 -2,21 -1,21 -2,21 -2,21 -3,21 -2,21 -2,21 -3,20 -3,21 -2,21 -3,21 -3,21 -2,20 -3,21 -2,21 -4,20 -4,21 -3,20 -4,21 -4,20M339,511l-4,20 -5,21 -4,20 -3,21 -2,21 -2,20 -2,21 -2,21 -2,21 -1,21 -2,21 -2,21 -2,21 -1,20 -3,21 -2,21 -2,21 -2,21 -3,21 -3,20 -3,21 -4,21" stroke-opacity="0.21"/><path d="M337,594l-1,21 -1,21 -1,21 -2,20 -1,21 -1,21 -1,21 -1,21 -2,21 -1,20 -1,21 -2,21 -1,21 -2,21 -2,20 -3,21 -2,21 -3,20 -5,20M329,572l-2,21 -2,21 -1,21 -2,21 -2,21 -1,20 -2,21 -1,21 -2,21 -2,21 -1,21 -2,21 -2,20 -2,21 -3,21 -2,21 -3,20M340,470l-6,20 -5,20 -6,20 -6,21 -6,20 -4,20 -3,21 -2,21 -1,21 -2,21 -1,21 -1,21 -1,21 -1,21 -1,21 -1,21 -2,21 -3,21 -2,21 -3,20 -4,21 -4,21 -4,21 -4,20 -5,21 -5,20 -4,21 -5,21M334,470l-6,20 -6,20 -5,20 -5,20 -6,20 -3,21 -2,21 -2,21 -2,21 -3,21 -2,21 -3,21 -2,20 -2,21 -1,22 -2,21 -2,20 -2,21 -2,21 -2,21 -3,21 -3,21 -3,20 -4,21 -5,21M332,594l-1,20 -1,21 -2,21 -1,21 -1,21 -2,21 -1,21 -2,20 -1,21 -2,21 -1,21 -2,21 -2,20 -2,21M345,511l-1,21 -1,21 -2,21 -1,20 -1,21 -1,21 -2,21 -2,21 -2,20 -3,21 -2,21 -2,21 -2,20 -2,21 -1,21 -1,21 -1,21 -1,20 -1,21M312,530l-6,20 -7,20 -4,20 -2,21 -2,21 -2,21 -2,21 -1,21 -1,21 -1,21 -1,21 -1,21 -1,21 -3,21 -3,21 -2,21 -3,21 -4,21 -3,21 -4,20M327,531l-5,20 -5,20 -3,21 -2,21 -1,21 -2,21 -1,21 -2,21 -1,20 -2,21 -1,21 -1,21 -2,21 -2,21 -2,21 -3,21 -3,21 -3,20 -3,21 -4,21 -4,20M337,470l-6,20 -7,20 -7,20 -7,20 -7,20 -5,20 -3,21 -3,21 -3,21 -2,21 -1,21 -2,21 0,21 -1,21 0,21 -1,22 -2,20 -3,21 -2,21 -4,21 -4,21 -5,21 -4,20 -5,21 -4,21M300,612l-1,21 -2,21 -1,21 -1,21 -1,21 -1,21 -2,21 -2,21 -1,21 -4,21 -3,20 -3,21 -3,21 -4,21M336,594l-1,21 -2,21 -2,20 -1,21 -2,21 -1,21 -2,21 -2,21 -2,20 -1,21 -2,21 -2,21 -2,21 -3,20 -2,21 -3,21 -3,20 -4,21M340,532l-4,20 -4,21 -2,20 -2,21 -1,21 -1,21 0,21 -1,21 0,21 -1,21 -1,20 -2,21 -2,21 -2,21 -3,21 -3,20 -3,21 -3,21M330,552l-4,20 -3,21 -2,21 -2,20 -3,21 -1,21 -2,21 -2,21 -2,21 -2,21 -1,21 -2,20 -2,21 -2,21 -2,21 -2,21 -3,21 -2,20M311,634l-2,21 -1,21 -2,21 -2,20 -1,21 -2,21 -1,21 -2,21 -2,21 -2,21 -2,21 -3,21 -3,20 -3,21 -3,21 -4,20M340,573l-2,21 -1,21 -2,21 -1,21 -2,20 -1,21 -2,21 -1,21 -2,21 -2,20 -2,21 -2,21 -1,21 -2,21 -2,20 -3,21 -3,21 -2,20 -4,21M324,593l-2,21 -1,21 -2,20 -1,21 -2,21 -1,21 -2,21 -1,21 -2,21 -2,21 -2,20 -2,21 -3,21 -2,21M325,510l-6,20 -6,20 -6,20 -4,21 -2,21 -2,21 -3,21 -2,21 -2,21 -2,21 -2,21 -1,21 -2,21 -2,21 -2,20 -3,21 -3,21 -2,21 -3,21 -3,21 -4,20M337,657l-2,21 -1,20 -1,21 -2,21 -1,21 -1,21 -1,21 -1,20 -1,21 -1,21 -2,21 -3,20 -3,21 -2,21 -4,20M300,612l-3,21 -2,21 -2,21 -1,21 -2,21 -2,21 -1,21 -2,21 -1,21 -3,20 -3,21 -2,21 -3,21M312,571l-3,20 -3,21 -2,21 -3,21 -2,21 -3,21 -2,21 -1,21 -2,21 -1,21 -1,21 -2,21 -2,21 -1,21 -3,20 -3,21M309,571l-4,20 -3,21 -2,21 -3,21 -2,21 -2,21 -1,21 -2,21 -2,21 -1,21 -1,21 -3,21 -3,20 -2,21 -3,21 -3,21 -3,21 -3,20 -4,21 -4,21 -4,20M347,470l-3,21 -3,20 -4,21 -4,20 -4,20 -3,21 -2,21 -2,21 -2,21 -1,20 -2,21 -1,21 -2,21 -1,21 -1,21 -1,21 -2,21 -2,20 -2,21 -1,21 -3,21 -3,20 -3,21 -3,21 -5,20 -5,21 -5,20 -4,21 -5,20M343,470l-3,20 -4,21 -4,20 -5,20 -4,21 -3,21 -2,20 -1,21 -2,21 -2,21 -1,21 -1,21 -2,21 -1,21 -2,21 -1,20 -2,21 -3,21 -2,21 -2,21 -3,21 -3,20 -3,21M306,654l-1,21 -1,21 -1,21 -1,21 -1,21 -1,21 -1,21 -2,21 -2,21 -2,21 -3,21 -3,20M336,490l-5,20 -6,21 -5,20 -6,20 -3,21 -2,21 -2,20 -2,21 -1,21 -2,21 -1,21 -1,21 -1,21 -2,21 -1,21 -3,21 -3,21 -3,21 -2,20 -4,21 -3,21 -3,21 -4,20 -4,21 -4,21 -4,20 -4,21 -5,20M328,490l-6,20 -7,20 -5,20 -7,20 -4,21 -2,20 -2,21 -3,21 -2,21 -2,21 -3,21 -2,21 -1,21 -2,21 -2,21 -3,21 -2,21 -3,21 -3,21 -3,21M334,573l-1,21 -1,21 -1,20 -1,21 -1,21 -1,21 -2,21 -3,21 -2,20 -2,21 -3,21 -2,21 -2,21 -2,20 -2,21 -2,21 -2,21 -2,20 -2,21 -4,20 -4,21 -5,20 -4,21 -5,20M329,572l-3,21 -1,21 -2,21 -1,21 -1,21 -1,21 -1,20 -1,21 -2,21 -1,21 -2,21 -2,21 -3,20 -2,21 -3,21 -3,21 -3,20 -2,21 -4,21 -4,20 -4,21M301,570l-5,20 -3,21 -2,21 -2,21 -2,21 -1,21 -2,21 -1,21 -1,21 -1,21 -1,21 -3,21 -3,21 -3,21 -3,21M347,553l-2,21 -1,21 -1,21 -1,20 -2,21 -1,21 -1,21 -2,20 -2,21 -2,21 -1,21 -2,21 -2,20 -1,21 -2,21 -2,21 -2,20 -3,21 -2,21 -3,20M341,511l-2,21 -3,20 -3,21 -2,20 -2,21 -1,21 -1,21 -2,21 -1,21 -2,21 -1,20 -2,21 -2,21 -2,21 -2,21 -2,21 -2,20 -3,21M326,593l-1,21 -2,21 -1,21 -1,21 -2,20 -2,21 -2,21 -2,21 -2,21 -2,21 -2,20 -3,21 -2,21 -2,21 -3,21 -3,20 -2,21 -3,21 -4,20 -4,21 -4,20M346,470l-3,21 -3,20 -3,21 -3,20 -4,21 -2,20 -2,21 -2,21 -1,21 -1,21 -2,21 -1,20 -2,21 -1,21 -2,21 -1,21 -2,21 -2,20 -2,21 -2,21 -3,21 -3,21 -3,20 -4,21 -4,20M343,470l-4,20 -4,21 -5,20 -5,20 -4,21 -3,20 -2,21 -2,21 -2,21 -1,21 -1,21 -2,21 -1,21 -1,21 -2,21 -1,20 -2,21 -2,21 -3,21 -2,21 -4,20 -3,21 -3,21M337,573l-2,21 -1,21 -1,21 -2,20 -1,21 -1,21 -1,21 -2,21 -1,21 -1,20 -2,21 -2,21 -2,21 -1,21 -3,20 -2,21 -3,21 -3,20 -4,21 -5,20M342,595l-1,20 -1,21 -1,21 -1,21 -1,21 -1,20 -1,21 -2,21 -1,21 -2,21 -2,20 -1,21 -2,21 -2,21 -3,20M333,636l-2,20 -1,21 -1,21 -1,21 -2,21 -1,21 -2,20 -1,21 -2,21 -1,21 -2,21 -1,20 -3,21 -2,21 -3,21 -3,20 -4,20 -5,21 -4,20 -4,21 -4,20M348,512l-2,20 -2,21 -2,21 -1,20 -1,21 -1,21 -1,21 -1,21 -1,21 -1,20 -1,21 -2,21 -2,21 -1,21 -2,20 -2,21 -2,21 -2,21 -3,20 -3,21 -3,21 -3,20 -5,20 -5,21M309,655l-1,21 -1,21 -2,21 -1,20 -2,21 -1,21 -2,21 -3,21 -2,21 -3,21 -2,21 -4,20 -3,21 -3,21M340,470l-5,20 -6,20 -6,20 -5,21 -6,20 -4,20 -3,21 -2,21 -2,21 -2,21 -1,21 -2,21 -1,21 -1,21 -1,21 -1,21 -2,21 -3,21 -2,21 -3,20 -3,21M347,511l-2,21 -2,21 -3,20 -1,21 -1,21 -2,21 -1,21 -1,21 -1,20 -1,21 -1,21 -2,21 -1,21 -2,20 -1,21 -2,21 -2,21 -2,21 -2,20 -3,21 -3,21 -4,20 -4,20 -5,21M322,593l-1,21 -1,21 -2,20 -1,21 -1,21 -1,21 -1,21 -1,21 -1,21 -2,21 -2,21 -2,20 -2,21 -2,21 -4,21 -3,20 -3,21 -4,21 -5,20 -5,21 -5,20 -5,21M351,470l-1,21 -2,20 -3,21 -2,21 -3,20 -2,21 -2,21 -2,21 -1,21 -2,20 -1,21 -2,21 -1,21 -2,21 -2,20 -2,21 -2,21 -2,21 -2,21 -2,20 -3,21 -3,21 -3,20 -3,21 -5,20 -5,21 -4,20 -4,21 -4,20M321,572l-3,20 -2,21 -1,21 -2,21 -2,21 -2,21 -2,21 -2,21 -2,20 -2,21 -2,21 -3,21 -3,21 -2,21 -3,21 -3,20 -3,21 -3,21 -4,20 -3,21 -4,21 -4,20M350,470l-1,21 -2,20 -2,21 -3,21 -2,20 -2,21 -1,21 -2,21 -1,21 -1,20 -1,21 -2,21 -1,21 -2,21 -1,21 -2,20 -2,21 -1,21 -2,21 -2,20M343,470l-5,20 -6,21 -5,20 -5,20 -6,20 -3,21 -3,21 -2,21 -2,20 -2,21 -1,21 -1,21 -2,21 -1,21 -1,21 0,21 -2,21 -2,21 -2,21 -2,21 -3,20 -4,21 -3,21 -4,20 -4,21 -5,21 -5,20M312,655l-2,21 -1,21 -2,21 -1,21 -2,20 -1,21 -2,21 -2,21 -2,21 -2,21 -3,21 -3,20 -3,21M321,551l-5,20 -3,21 -2,21 -2,21 -1,21 -2,21 -1,20 -2,21 -1,21 -2,21 -1,21 -1,21 -3,21 -2,21 -2,21 -3,21 -3,20 -3,21M338,470l-6,20 -7,20 -5,20 -6,20 -6,20 -4,21 -2,21 -2,21 -2,21 -1,21 -2,21 -1,21 -2,21 -1,21 -2,21 -1,21 -3,21 -3,21 -3,20 -3,21 -3,21 -3,21 -4,21 -3,20 -4,21 -4,20 -5,21 -4,21 -5,20M341,511l-3,21 -4,20 -3,21 -2,20 -2,21 -1,21 -2,21 -1,21 -1,21 -1,20 -2,21 -1,21 -2,21 -1,21 -2,21 -2,21 -2,20 -2,21 -3,21 -3,21M328,614l-1,21 -1,21 -1,21 -2,21 -1,21 -2,20 -2,21 -2,21 -2,21 -3,21 -2,20 -3,21 -2,21 -3,21 -3,20 -2,21 -3,21 -4,20 -4,21M348,512l-2,20 -3,21 -3,20 -2,21 -1,21 -2,21 -1,21 -2,20 -1,21 -1,21 -2,21 -1,21 -2,20 -1,21 -2,21 -1,21 -2,21 -1,20 -3,21 -2,21 -2,21M319,510l-6,20 -6,20 -6,20 -4,20 -2,21 -2,21 -2,21 -1,21 -2,21 -1,21 -2,21 -2,21 -1,21 -2,21 -3,21 -4,21 -3,21 -3,21 -4,21 -4,20M299,591l-3,20 -3,21 -2,21 -2,21 -1,21 -1,21 -1,21 -1,21 0,22 -1,21 -2,21 -2,20 -3,21 -3,21 -4,21 -4,21 -4,20 -5,21" stroke-opacity="0.33"/><path d="M321,510l-7,20 -6,20 -7,20 -5,20 -3,21 -3,21 -2,21 -2,21 -2,21 -2,21 -2,21 -1,21 -1,21 -1,21 -2,21 -3,21 -2,21 -3,21 -3,21 -4,20 -4,21 -4,21 -4,21 -5,20 -5,21 -5,20M332,594l-1,20 -1,21 -2,21 -1,21 -1,21 -1,21 -2,21 -1,20 -2,21 -1,21 -2,21 -2,21 -2,20 -3,21 -3,21 -3,21 -3,20 -3,21M319,551l-5,20 -3,21 -2,21 -2,20 -1,21 -2,21 -1,21 -2,21 -1,21 -1,21 -2,21 -1,21 -3,21 -2,21 -3,21 -3,20 -3,21 -4,21 -4,21 -4,20M309,613l-1,21 -2,20 -1,21 -1,21 -1,21 -2,21 -1,21 -2,21 -2,21 -3,21 -3,21 -3,21 -3,20M311,655l-2,21 -1,21 -2,21 -1,21 -2,20 -1,21 -2,21 -2,21 -2,21 -3,21 -2,21 -3,20 -3,21 -3,21 -4,21 -4,20 -4,21 -5,20 -4,21 -5,20M324,530l-6,21 -5,20 -4,20 -2,21 -2,21 -2,21 -1,21 -2,21 -1,21 -2,21 -1,21 -2,21 -1,21 -3,21 -2,21 -3,21 -3,20M334,490l-5,20 -6,20 -6,21 -6,20 -4,20 -3,21 -3,21 -2,21 -2,21 -2,21 -2,21 -1,21 0,21 -1,21 -1,21 -2,21 -2,21 -2,21 -3,20M342,595l-1,20 -1,21 0,21 -1,21 -1,21 -1,21 -2,20 -2,21 -2,21 -2,21 -2,20 -2,21 -1,21 -2,21 -3,20 -2,21 -2,21 -3,20M309,613l-2,20 -1,21 -1,21 0,21 -1,21 -1,21 0,21 -1,21 -2,21 -2,21 -3,21 -3,21 -4,21 -4,20 -4,21 -4,21 -4,20 -5,21 -4,21 -4,20 -4,21 -4,20M300,654l-1,21 -2,21 -2,21 -1,21 -2,21 -1,21 -2,21 -2,21 -3,21 -2,20 -3,21 -3,21 -4,21 -3,21 -4,20 -4,21M339,532l-4,20 -4,21 -3,20 -2,21 -1,21 -2,21 -2,21 -1,20 -2,21 -1,21 -1,21 -1,21 -1,21 -2,21 -1,21 -1,20 -2,21 -3,21 -2,21 -3,20 -4,21 -5,20 -4,21 -5,20 -5,21M304,570l-4,21 -2,21 -2,21 -2,21 -2,21 -1,21 -2,21 -2,21 -1,21 -2,21 -2,21 -3,20 -3,21 -3,21 -3,21 -4,21 -4,21 -3,20 -4,21 -4,21 -4,20 -4,21M343,532l-4,21 -3,20 -3,21 -2,21 -2,20 -2,21 -2,21 -2,21 -1,21 -2,20 -1,21 -1,21 -1,21 -2,21 -1,21 -1,20 -2,21 -2,21M323,572l-3,20 -2,21 -2,21 -2,21 -1,21 -2,21 -2,21 -1,21 -2,21 -2,21 -1,20 -3,21 -2,21 -2,21 -3,21 -3,20 -3,21 -4,21 -3,21 -5,20 -4,21M349,491l-1,20 -2,21 -3,21 -2,21 -2,20 -1,21 -1,21 -1,21 -1,21 -1,20 -2,21 -1,21 -2,21 -1,21 -2,20 -2,21 -2,21 -1,21 -2,21 -3,20 -3,21 -3,21 -3,20 -5,20M327,614l-1,21 -2,21 -2,21 -2,21 -2,20 -3,21 -3,21 -2,21 -2,21 -2,20 -1,21 -1,21 -1,21 -2,21 -2,21 -2,20 -4,21M319,592l-1,21 -1,21 -1,21 -1,21 -1,21 -1,21 -2,21 -2,21 -2,21 -2,21 -3,20 -2,21 -3,21 -3,21 -3,21 -2,20 -3,21 -3,21 -4,20 -4,21 -4,20 -4,21M322,614l-1,21 -1,21 -1,20 -1,21 -2,21 -1,21 -2,21 -3,21 -2,21 -3,20 -2,21 -3,21 -2,21 -3,21 -3,20M309,634l-2,21 -1,20 -2,21 -1,21 -1,21 -1,21 -1,21 -1,21 -2,21 -2,21 -2,21 -3,21 -3,20 -4,21M346,470l-3,20 -2,21 -3,21 -3,20 -3,21 -2,20 -1,21 -2,21 -1,21 -2,21 -2,21 -2,20 -2,21 -1,21 -2,21 -2,21 -2,21 -1,21 -2,20 -2,21 -2,21 -3,21 -2,20 -4,21 -4,20 -5,21 -5,20 -5,21 -4,20M338,615l-2,21 -2,21 -3,20 -2,21 -2,21 -2,21 -2,21 -1,20 -1,21 -1,21 0,21 -1,21 -1,20 -3,21 -2,21 -3,21 -4,20 -6,20 -5,21M342,470l-4,20 -5,21 -4,20 -4,20 -5,21 -3,20 -1,21 -2,21 -2,21 -1,21 -1,21 -2,21 -1,21 -2,21 -1,20 -2,21 -2,21 -3,21 -2,21 -3,21 -3,20 -3,21 -3,21 -4,21 -5,20 -4,21 -4,20 -5,21 -4,20M320,635l-2,20 -1,21 -2,21 -1,21 -1,21 -1,21 0,21 -1,21 -2,21 -1,20 -2,21 -2,21 -3,21 -3,20 -3,21 -4,21 -5,20M312,613l-2,21 -1,21 -2,21 -1,21 -2,20 -1,21 -2,21 -2,21 -1,21 -3,21 -3,21 -3,21 -3,21 -4,20 -3,21 -4,21 -4,20 -5,21 -4,20 -5,21M337,615l-1,21 -1,21 0,21 -1,20 -1,21 -1,21 -1,21 -1,21 -2,21 -1,20 -2,21 -1,21 -2,21 -3,20 -2,21 -3,21 -4,20 -5,20 -5,21 -5,20 -4,21M341,470l-4,20 -4,21 -5,20 -4,20 -5,21 -3,20 -2,21 -1,21 -2,21 -1,21 -2,21 -1,21 -2,21 -1,20 -2,21 -1,21 -3,21 -2,21 -3,21 -3,21 -3,20 -4,21 -3,21 -4,20 -5,21 -4,21 -5,20 -5,21M320,614l-2,20 -1,21 -1,21 -2,21 -1,21 -1,21 -1,21 -1,21 -1,21 -2,21 -2,20 -2,21 -3,21 -3,21 -4,20 -3,21M339,470l-5,20 -5,20 -5,20 -5,21 -5,20 -4,21 -1,21 -2,20 -2,21 -2,21 -1,21 -2,21 -1,21 -2,21 -2,21 -1,21 -3,21 -2,21 -3,21 -3,20 -3,21 -3,21 -3,21 -4,20 -4,21 -4,20M297,611l-3,21 -2,21 -2,21 -2,21 -1,21 -2,21 -1,21 -1,21 -2,21 -2,21 -3,21 -3,21 -3,21 -3,21 -4,21 -3,20 -4,21 -4,21M308,570l-4,21 -2,21 -2,21 -2,21 -1,21 -2,21 -2,21 -2,21 -1,21 -2,21 -1,21 -3,21 -3,20 -3,21 -3,21 -4,21 -4,21 -4,20M352,470l-1,21 -1,21 -2,20 -2,21 -3,21 -1,21 -2,20 -1,21 -1,21 -1,21 -1,21 -1,20 -2,21 -1,21 -2,21 -1,21 -2,20 -1,21 -2,21 -1,21 -3,20 -2,21 -3,21 -3,20M315,550l-5,21 -3,20 -2,21 -1,21 -2,21 -1,21 -2,21 -1,21 -2,21 -2,21 -2,21 -2,21 -3,21 -3,21 -3,20 -4,21 -3,21 -3,21 -4,21 -3,20 -4,21M347,470l-3,21 -4,20 -4,20 -4,21 -4,20 -4,21 -2,21 -2,21 -2,20 -2,21 -2,21 -2,21 -1,21 -2,21 -1,21 -1,21 -1,20 -2,21 -1,21 -2,21 -2,21 -3,20M298,590l-2,21 -3,21 -2,21 -2,21 -2,21 -2,21 -2,21 -1,21 -1,21 -1,21 -3,21 -2,21 -3,21 -3,21 -3,21 -4,21 -4,20 -4,21 -4,21 -5,20 -4,21 -5,20 -5,21M322,551l-5,20 -3,21 -2,21 -2,21 -2,21 -1,21 -2,20 -2,21 -1,21 -2,21 -1,21 -2,21 -2,21 -3,21 -2,21 -3,21 -3,20 -3,21 -3,21 -4,20 -4,21M315,655l-2,21 -1,21 -2,21 -2,21 -2,21 -2,20 -2,21 -3,21 -2,21 -3,21 -3,21 -4,20 -3,21 -4,21 -4,20 -4,21M326,593l-1,21 -1,21 -2,21 -1,21 -1,20 -1,21 -2,21 -1,21 -1,21 -2,21 -1,21 -2,21 -2,20 -2,21 -3,21 -2,21 -3,20 -4,21 -4,20 -5,21 -4,20 -4,21 -5,20M312,550l-6,20 -4,21 -3,21 -2,21 -3,21 -2,21 -2,20 -1,21 -2,22 -1,21 -1,21 -1,21 -3,20 -2,21 -3,21 -2,21 -4,21 -3,21 -3,20 -4,21 -4,21 -5,20 -4,21 -5,20 -5,21M338,573l-2,21 0,21 -1,21 -1,21 -1,20 -2,21 -2,21 -2,21 -2,21 -2,20 -2,21 -2,21 -2,21 -1,21 -2,20 -2,21 -2,21M326,572l-2,21 -2,21 -2,21 -2,20 -1,21 -2,21 -1,21 -2,21 -1,21 -2,21 -1,21 -2,20 -2,21 -3,21 -2,21 -3,21M328,490l-7,20 -7,20 -7,20 -7,20 -4,20 -3,21 -3,21 -2,21 -2,21 -2,21 -2,21 -2,21 -1,21 -2,21 -1,21 -3,21 -3,21 -3,21 -3,21 -4,21 -3,20 -4,21 -3,21M327,635l-1,21 -1,21 -1,21 -1,21 -1,21 -1,20 -1,21 -1,21 -2,21 -2,21 -2,20 -3,21 -3,21 -4,21M316,655l-2,21 -2,21 -2,21 -2,21 -2,21 -1,21 -2,20 -2,21 -2,21 -2,21 -2,21 -3,21 -3,20 -3,21 -3,21 -4,20M318,592l-2,21 -3,21 -3,21 -2,21 -3,21 -2,20 -2,21 -1,21 -2,21 -1,21 -1,21 -1,21 -2,21 -1,21 -3,20 -2,21 -3,21 -4,21 -5,20 -5,21 -5,20 -6,21M300,633l-2,21 -1,21 -2,21 -1,21 -1,21 -1,21 -2,21 -1,21 -2,21 -2,21 -2,20 -3,21 -3,21 -3,21 -3,21 -4,20 -4,21 -4,20M352,491l-1,21 -2,20 -3,21 -3,21 -2,20 -1,21 -2,21 -1,21 -1,21 -1,21 -1,20 -1,21 -1,21 -1,21 -1,21 -1,20 -2,21 -1,21 -2,21 -3,20 -3,21 -3,21 -4,20 -5,20 -5,21 -5,20 -5,21M332,615l-1,20 -2,21 -1,21 -1,21 -2,21 -1,21 -2,20 -1,21 -2,21 -2,21 -1,21 -2,21 -2,20 -3,21 -3,21 -3,20 -3,21 -5,20 -4,21 -5,20 -4,21M312,592l-2,21 -2,21 -2,20 -2,21 -1,21 -2,21 -1,21 -1,21 -1,21 -1,21 -2,21 -2,21 -2,21 -3,21 -4,20M319,571l-3,21 -2,21 -2,21 -1,21 -2,21 -1,21 -1,21 -2,21 -1,20 -2,21 -1,21 -3,21 -2,21 -3,21 -3,21 -3,20 -4,21 -3,21 -4,20 -4,21 -5,21 -5,20 -4,21M339,532l-3,20 -3,21 -2,20 -2,21 -2,21 -1,21 -1,21 -2,21 -1,21 -2,20 -1,21 -2,21 -1,21 -2,21 -2,21 -2,20 -2,21 -3,21 -3,21 -3,20 -3,21M348,491l-1,20 -1,21 -2,21 -3,21 -1,20 -2,21 -1,21 -2,21 -2,20 -1,21 -2,21 -2,21 -2,21 -2,20 -2,21 -1,21 -2,21 -1,21 -2,20 -2,21 -2,21 -2,21 -3,20 -5,20 -4,21 -5,20 -4,21M329,593l-1,21 -2,21 -1,21 -1,21 -1,21 -1,21 -2,20 -1,21 -2,21 -1,21 -2,21 -2,21 -2,20 -3,21M309,613l-2,20 -3,21 -1,21 -2,21 -2,21 -2,21 -1,21 -2,21 -1,21 -3,21 -2,21 -3,21 -2,20 -3,21 -4,21M348,491l-2,20 -3,21 -3,21 -4,20 -2,21 -2,21 -1,20 -2,21 -1,21 -1,21 -1,21 -1,21 -1,21 -1,20 -2,21 -1,21 -2,21 -2,21 -2,20M334,594l-1,21 -1,20 -1,21 -1,21 -1,21 -1,21 -2,21 -1,21 -1,20 -1,21 -2,21 -1,21 -2,21 -2,20 -2,21" stroke-opacity="0.45"/></g>
<g fill="none" stroke="#111" stroke-width="0.55" stroke-linejoin="round"><path d="M310,229l5,11 4,11 3,12 2,12 1,12 2,13 0,12 1,12 1,12 0,12 0,13 0,12 0,12 0,12 0,12 0,13M310,217l7,11 7,10 5,11 4,12 3,12 2,12 2,12 1,12 1,13 1,12 1,13 0,12 0,12 1,13M297,209l7,9 6,11 5,11 4,11 4,12 1,12 2,12 2,12 1,12 2,13 1,12 0,12 1,12 0,12 0,13 0,12 -1,12 -1,12 0,13 0,12 1,12 1,12M324,275l1,13 1,12 0,12 1,12 1,12 1,12 1,12 1,13 0,12M336,260l3,12 3,12 2,12 2,13 1,12 1,12 2,13 0,12 1,13 0,12 0,13 0,12M337,247l6,11 3,12 3,13 2,12 2,12 1,13 1,13 1,12 1,13 0,12 1,13 0,12 0,13M335,248l6,11 3,12 3,12 3,12 1,13 2,12 1,13 1,12 1,13 0,12 0,13 1,13M294,200l9,8 8,9 7,10 7,11 5,11 5,11 3,12 2,12 3,13 2,12 2,12 1,13 1,12 1,12 1,13 0,12 0,13 0,12 -2,13 -1,12 -1,13M320,251l3,12 2,12 2,12 2,12 0,12 1,13 0,12 1,12 0,12 0,13 0,12 0,12M311,229l5,11 4,11 4,12 2,12 3,12 2,12 2,12 0,12 1,12 0,13 -1,12 -1,12 -1,13M296,209l7,9 6,11 6,11 4,11 4,12 3,12 2,12 2,12 1,12 1,12 1,13 0,12 0,12 0,12 -1,13 -1,12 -1,12 0,13 -1,12 0,12 2,12M339,247l6,11 4,12 3,12 3,12 2,13 1,12 2,13 1,13 1,12 0,13 0,13 0,12 0,13M294,200l10,8 9,9 7,10 8,10 5,11 5,11 3,12 3,13 2,12 2,12 1,13 1,12 1,13 0,12 0,13 0,12 0,13 0,12 -1,13 -1,12 -2,13M321,227l7,10 6,11 5,11 3,12 2,13 2,12 1,12 1,13 1,12 1,13 0,12 1,13 0,12 1,13 -1,12 0,13M321,227l8,10 6,11 5,11 3,12 3,12 2,13 2,12 1,13 1,12 0,13 1,12 0,13 0,12 0,13M297,209l9,9 7,10 6,11 4,12 3,11 1,13 1,12 1,12 1,12 0,13 0,12 0,12 0,12 1,13 0,12 1,12 0,12 0,12M321,239l5,11 5,11 2,12 3,12 3,12 1,13 1,12 1,12 0,13 0,12 0,13 -1,12 0,12 -1,13 -1,12 -1,13 0,12 1,12M315,217l7,10 7,10 5,11 4,11 3,13 2,12 3,12 2,12 2,13 2,12 1,13 1,12 0,13 0,12 -1,13M326,237l5,12 5,11 3,12 2,12 2,13 2,12 1,12 1,13 1,12 0,13 0,12 1,13 0,12 -1,12M338,272l2,12 3,13 1,12 1,12 1,13 1,12 1,13 1,12 0,12 1,13 -1,12 -1,13 -1,12M323,263l2,12 1,12 2,12 0,13 1,12 0,12 0,12 0,12 0,13 0,12 0,12 0,12 0,13 -1,12M334,260l2,13 3,12 2,12 1,12 1,13 1,12 1,12 0,13 0,12 0,13 0,12 0,13 -1,12 -1,12 0,13 -1,12 0,12M341,246l6,11 4,12 3,13 2,12 1,13 1,13 0,12 1,13 1,12 0,13 1,13M306,208l8,9 8,10 7,9 6,12 6,11 4,12 4,12 3,12 3,12 1,13 1,12 1,13 0,13 -1,12 0,13 0,13 -1,12 -1,13M304,208l9,9 9,10 7,10 6,11 5,11 3,12 3,12 2,13 1,12 1,13 0,12 1,13 0,12 0,13 1,12 0,13M340,247l6,11 4,12 3,12 3,12 2,13 1,12 1,13 1,13 1,12 0,13 0,13 1,12 -1,13 -1,12 -1,13 -2,13 -4,12M297,209l8,9 7,11 5,10 4,12 3,12 2,12 2,12 1,12 1,12 0,13 0,12 1,12 0,12 0,13 0,12 0,12 0,12 0,13M338,272l3,12 3,12 2,13 1,12 2,12 1,13 1,12 1,13 0,12 0,13 -1,12M294,200l9,8 9,9 8,10 8,10 6,11 6,11 4,12 2,12 3,13 1,12 1,13 1,12 0,13 0,12 0,13 0,12 0,13 0,12 -1,13 0,12 -1,13 -1,12M316,228l7,10 4,12 4,11 2,12 2,12 2,13 1,12 0,12 1,13 0,12 1,12 0,13 0,12 0,13M312,228l5,11 4,12 3,12 2,12 2,12 2,12 1,12 1,12 1,13 1,12 0,12 1,12 0,12 1,13 -1,12 0,12M319,239l4,11 4,12 2,12 2,12 1,13 1,12 1,12 0,12 1,13 0,12 1,12 0,12 0,13 0,12 -1,12 0,13 0,12 1,12 1,12M321,238l4,12 3,12 1,12 2,12 2,12 1,13 2,12 1,12 1,12 1,13 0,12 -1,12 0,13M324,226l8,10 6,11 6,11 3,12 3,13 3,12 2,12 1,13 1,12 1,13 1,13 0,12 0,13 0,12 0,13M325,226l8,10 6,11 7,11 3,12 3,12 3,12 2,13 1,12 1,13 1,13 1,12 0,13 0,13 1,12 -1,13 -1,12 -1,13 -2,13 -3,12" stroke-opacity="0.23"/><path d="M321,227l7,10 6,11 5,11 3,12 2,13 3,12 1,12 1,13 1,12 1,13 0,12 0,13 0,12 1,13 -1,12 -1,13 0,12 -1,13 -2,12 -1,12M294,200l9,8 9,9 8,10 8,10 5,11 5,11 3,13 3,12 2,12 2,12 1,13 1,12 1,13 0,12 0,13 0,12 0,13 -1,12 -1,13 -1,12 -1,13M291,200l8,9 8,9 7,10 6,11 5,11 4,12 2,12 3,12 2,12 1,12 1,12 1,13 1,12 0,12 0,13 0,12M303,208l9,9 8,10 7,10 6,11 5,12 3,12 2,12 2,12 2,13 0,12 1,13 1,12 0,12 1,13 0,12 0,13M313,217l9,10 8,9 5,12 6,11 3,12 2,12 3,13 1,12 1,13 0,12 1,13 1,12 0,13 0,12 1,13 0,12 -1,13 0,12 -2,13M335,260l3,12 2,12 3,13 1,12 1,12 1,13 0,12 1,13 0,12 0,13 0,12 0,13 -1,12 -1,12 0,13 -1,12M290,200l9,9 8,9 6,10 6,11 4,11 4,12 2,12 2,12 1,13 1,12 1,12 1,12 0,13 1,12 0,12 0,12 0,13 0,12 -1,12 0,13M329,237l6,11 5,11 3,12 2,13 2,12 1,12 0,13 1,12 1,13 0,12 0,13 0,12 1,13 0,12 -1,13 0,12 -1,13 -1,12 -1,12M320,239l4,11 4,12 2,12 2,12 1,12 1,13 1,12 1,12 0,12 1,13 0,12 0,12 0,13 0,12 -1,12 0,13 0,12 1,12 1,12M320,251l3,12 2,12 2,12 1,12 1,12 0,13 1,12 0,12 1,12 0,13 0,12 0,12 -1,12 0,13M341,259l3,12 3,12 2,12 2,13 1,12 1,13 0,12 1,13 0,13 0,12 0,13 -1,12 -1,13 -1,12M327,250l5,11 3,12 2,12 3,12 1,12 1,13 1,12 0,13 0,12 0,13 0,12 -1,12 0,13M316,217l8,9 8,10 6,11 6,11 3,12 3,12 3,13 2,12 1,13 1,12 1,13 0,13 0,12 0,13M304,208l9,9 7,10 6,10 5,12 5,11 2,12 2,12 2,13 1,12 1,13 1,12 1,12 0,13 1,12 0,13 1,12 -1,13 0,12M326,262l2,12 2,13 2,12 1,12 0,12 1,12 1,13 0,12 0,12 0,12 1,13 -1,12M305,208l10,9 8,9 8,10 6,11 5,11 3,13 2,12 2,12 1,13 1,12 1,13 2,12 1,13 1,12 1,13 0,13 0,12 -1,13 -2,12 -2,13 -3,12 -3,12" stroke-opacity="0.36"/><path d="M325,275l2,12 2,12 1,12 1,12 1,13 0,12 0,12 0,12 0,13 -1,12 0,12 -1,13 0,12 1,12 2,12 2,12M325,275l1,12 2,12 0,13 1,12 0,12 1,12 0,12 0,13 0,12 0,12 -1,12M336,273l3,12 2,12 1,12 1,13 0,12 1,13 0,12 0,12 0,13 0,12 -1,13 -1,12M309,208l9,8 8,10 7,10 6,11 5,11 3,12 3,13 3,12 2,12 2,13 2,12 2,13 1,12 1,13 0,13 0,12 -1,13 -2,12 -2,13 -3,13 -3,12 -3,12M321,238l4,12 4,12 2,12 2,12 2,12 1,12 1,13 1,12 1,12 0,13 0,12 0,12 0,13M325,226l8,10 5,11 6,11 3,12 3,12 3,13 2,12 2,13 2,12 2,13 1,12 1,13 0,12 1,13 -1,13 -1,12 -2,13 -3,13M324,238l5,11 4,12 3,12 2,12 2,12 2,12 0,13 1,12 1,13 0,12 1,12 0,13 0,12 -1,13 0,12 -1,12 -1,13 0,12 0,12M312,229l5,10 4,12 3,12 1,12 2,12 1,12 0,13 1,12 0,12 1,12 0,12 0,13 0,12 0,12 0,12M327,275l2,12 2,12 1,12 1,12 0,13 0,12 0,12 0,12 -1,13 0,12 -1,12 -1,13 0,12 0,12 1,12 2,12M341,272l2,12 3,12 2,12 1,13 1,12 2,13 0,12 1,13 0,12 0,13 0,12 -1,13M297,209l8,9 7,11 6,10 4,12 4,11 2,12 2,13 2,12 1,12 1,12 0,12 1,13 0,12 0,12 -1,13 0,12 0,12 -1,12 -1,13 1,12 1,12 1,12M323,238l4,11 5,12 2,12 2,12 2,13 1,12 1,12 0,13 1,12 1,12 0,13 0,12 0,12 0,13 -1,12M323,250l5,12 2,12 2,12 2,12 2,12 1,13 1,12 1,12 0,13 0,12 1,12 0,13 -1,12M298,209l7,9 6,11 6,11 3,11 4,12 2,12 2,12 2,12 1,12 1,12 1,13 1,12 -1,12 0,12 0,13 -1,12 -1,12 0,12 -1,13 1,12 2,12 2,12M340,259l3,12 2,12 3,13 1,12 1,13 0,12 1,13 1,12 0,13 0,12 0,13 0,12 -1,13 0,12M309,218l7,10 6,10 5,12 4,11 3,12 2,12 3,12 1,13 1,12 1,12 2,13 1,12 0,12 1,13M350,269l4,13 3,12 2,13 1,12 1,13 2,12 0,13 0,13 0,12 0,13 0,13 -2,12 -1,13 -2,12 -3,13M331,274l2,12 2,12 0,12 1,13 1,12 1,12 0,13 1,12 0,12 1,13 0,12 0,12 -1,13M306,218l7,10 6,11 4,11 4,12 2,12 2,12 1,13 1,12 1,12 0,12 1,13 0,12 0,12 0,12 1,13 -1,12 0,12 -1,13M298,209l8,9 7,10 5,11 4,12 4,11 2,12 2,13 1,12 1,12 1,12 0,12 1,13 0,12 0,12 0,13 0,12 0,12 -1,12 0,13 0,12 2,12M291,200l9,9 9,9 8,10 7,10 5,11 5,11 3,12 3,13 2,12 2,12 0,12 1,13 0,12 0,13 0,12 0,13 -1,12 0,13M335,273l2,12 2,12 1,13 2,12 1,12 1,13 1,12 0,12 1,13 0,12 0,13 0,12 -1,12M336,273l2,12 2,12 1,13 1,12 0,12 1,13 1,12 0,12 0,13M340,272l3,12 2,12 2,13 1,12 1,12 1,13 1,12 0,13 0,12 1,13 -1,12 0,13 -1,12M314,228l6,11 5,11 4,12 2,12 2,12 2,12 2,12 0,13 1,12 1,12 0,12 0,13 0,12M314,240l4,12 4,11 1,12 2,12 2,12 1,13 1,12 1,12 1,12 0,12 0,13 0,12 0,12 0,12 -1,13M313,228l5,11 4,12 4,11 1,13 2,12 2,12 1,12 1,12 0,12 1,13 0,12 0,12 0,13 0,12M335,248l5,11 2,12 2,13 2,12 1,12 1,13 2,12 1,13 1,12 1,13 1,12 1,13 -1,12 -1,13M322,238l4,12 4,11 3,12 2,12 2,13 2,12 1,12 1,13 1,12 0,12 1,13 0,12M322,227l7,10 5,11 4,11 3,13 2,12 2,12 1,13 1,12 1,13 2,12 1,12 1,13 0,12 1,13 -1,12 -1,13 -1,12 -2,13 -2,12M294,200l9,8 9,9 8,10 7,10 6,11 5,11 3,12 3,13 3,12 2,12 2,13 1,12 1,13 1,12 0,13 0,12 1,13 -1,12 -1,13 -1,12M333,248l4,12 2,12 2,12 3,12 1,13 1,12 1,13 2,12 1,12 0,13 1,12 1,13 -1,12 0,13 -1,12 -2,13M317,227l7,11 5,11 4,12 3,12 2,12 2,12 1,12 1,13 1,12 0,13 1,12 0,12 0,13 -1,12 0,13 -1,12 -1,12 -1,13 0,12M295,200l9,8 9,9 8,10 8,10 5,11 5,11 3,12 2,13 3,12 1,12 1,13 1,12 1,13 1,12 0,13 0,12 0,13 0,12 -1,13 -1,12 -1,13 -1,12 -2,12" stroke-opacity="0.49"/></g>
<g fill="none" stroke="#1c2438" stroke-width="0.6" stroke-linejoin="round"><path d="M349,288l4,13 2,13 1,13 1,13 0,13 0,13 -1,13 0,13 0,13 0,14 0,13 -2,12M343,263l2,13 2,12 2,13 1,13 1,13 1,13 1,13 0,13 0,13 0,13 -1,13 -1,13M350,275l3,13 3,13 1,13 2,13 1,13 2,13 0,13 0,13 0,13 0,13 -1,14 -1,13 -2,13 -3,12M353,288l3,13 1,13 2,13 2,13 1,13 1,13 1,13 0,13 0,13 -1,14 -1,13 -2,13M350,275l3,13 2,13 1,13 2,13 1,13 1,13 0,13 1,13 0,13 -1,13 -1,14 -1,13M340,250l2,13 2,13 2,13 3,12 2,13 1,13 1,13 1,13 -1,13 0,13 -1,13 -1,13 -1,13 -1,13 -1,13 -2,13M345,289l1,13 1,13 1,12 2,13 1,13 1,13 0,13 -1,13 -1,13 -2,13 -2,13 -1,13M343,263l3,13 2,12 2,13 1,13 1,13 0,13 1,13 0,13 -1,13 0,13 0,13 -1,13 -1,13 -2,13 -2,13M348,263l3,12 4,13 3,13 1,13 1,13 2,13 1,13 0,13 0,13 0,13 0,13 -1,14M338,250l2,13 2,13 2,13 3,12 1,13 0,13 0,13 0,13 0,14 -1,13 0,13 0,13 0,12" stroke-opacity="0.21"/><path d="M344,263l2,13 3,12 2,13 1,13 1,13 1,13 1,13 0,13 0,13 0,13 0,13 -1,14 -1,13 -2,12 -3,13 -2,13M341,250l2,13 2,13 3,12 2,13 1,13 1,13 1,13 0,13 0,13 0,13 0,13 0,13 -1,13 -1,14 -1,12M348,276l3,12 3,13 1,13 1,13 2,13 1,13 0,13 0,13 0,13 -1,13 -1,14 0,13M344,250l4,13 4,12 3,13 3,13 1,13 0,13 2,13 1,13 1,13 1,13 0,13 0,13 -2,14 -1,13M351,288l3,13 1,13 1,13 2,13 1,13 0,13 0,13 0,13 0,13 -1,14M343,250l3,13 3,12 3,13 3,13 1,13 2,13 2,13 1,13 1,13 0,13 0,13 0,13 -1,14 -2,13M347,276l2,12 3,13 1,13 2,13 1,13 1,13 -1,13 0,13 0,13 0,13 -1,14 -1,13 -1,12 -3,13 -3,13M345,276l3,12 2,13 1,13 1,13 1,13 0,13 0,13 0,13 0,13 0,13 -1,13 -1,14 -1,12 -3,13 -3,13M358,301l2,13 2,13 1,13 0,13 0,13 0,13 0,13 0,13 0,14 0,13 -2,13M343,250l3,13 3,12 3,13 3,13 2,13 1,13 2,13 1,13 -1,13 0,13 0,13 0,13 -1,14 -1,13 -1,13M358,301l1,13 2,13 2,13 1,13 0,13 0,13 0,13 -1,13 -1,14M343,263l2,13 3,12 2,13 1,13 1,13 1,13 1,13 0,13 0,13 -1,13 0,13 -1,13 -1,14 -2,12M349,288l2,13 1,13 1,13 1,13 1,13 0,13 0,13 1,13 0,13 -1,14 -1,13 -1,12 -3,13M350,275l3,13 2,13 1,13 1,13 1,13 1,13 0,13 1,13 0,13 0,13 -1,14M346,276l3,12 3,13 2,13 1,13 2,13 2,13 0,13 0,13 0,13 -1,13 -1,14 -2,13M357,301l1,13 1,13 1,13 1,13 1,13 1,13 1,13 0,13 -1,14 -2,13 -2,13 -4,12 -4,13M343,250l3,13 2,13 3,12 3,13 1,13 1,13 2,13 1,13 0,13 0,13 0,13 -1,13 -1,14 -1,13 -1,13M348,276l2,12 3,13 2,13 1,13 2,13 1,13 0,13 1,13 0,13 -1,13 -1,14 -1,13 -2,13M349,275l3,13 2,13 2,13 1,13 1,13 1,13 0,13 0,13 1,13 -1,13 -1,14 -1,13 -1,13 -3,12" stroke-opacity="0.33"/><path d="M347,263l3,12 3,13 3,13 1,13 2,13 1,13 1,13 0,13 0,13 1,13 -1,13 -1,14M343,250l3,13 2,13 2,12 3,13 1,13 1,13 1,13 1,13 0,13 1,13 0,13 0,13 -1,14M341,250l2,13 3,13 3,12 2,13 1,13 1,13 1,13 0,13 0,13 0,13 0,13 0,13 0,14M340,250l2,13 2,13 2,13 2,12 1,13 1,13 1,13 0,13 0,13 0,13 0,13 -1,13 0,13M349,301l1,13 1,13 0,13 1,13 0,13 0,13 1,13 -1,13 -1,13 -1,14 -2,12M344,276l1,13 2,12 1,13 0,13 1,13 1,13 0,13 0,13 0,13 -1,13 0,13 -1,13 -2,13 -2,13 -3,13M349,275l3,13 2,13 2,13 1,13 1,13 1,13 -1,13 0,13 0,13 0,13 -1,14 -1,13 -2,12 -3,13 -3,13M343,263l2,13 2,12 2,13 1,13 0,13 1,13 0,13 0,13 0,13 0,13 0,13 -1,13 0,13 -2,13M344,289l2,13 1,13 0,12 1,13 1,13 0,13 -1,13 0,14 0,13 -1,12M355,288l3,13 1,13 2,13 1,13 1,13 0,13 1,13 0,13 0,13 -1,14M341,250l2,13 3,13 2,12 2,13 1,13 1,13 0,13 1,13 0,13 0,13 -1,13 0,13 -1,13 -1,13 -2,13 -3,13 -2,13M356,288l3,13 1,13 1,13 1,13 1,13 0,13 -1,13 0,13 0,13 -1,14 0,13 -1,13M345,289l3,12 1,13 1,13 1,13 1,13 -1,13 0,13 0,13 -1,13 -1,13 -1,13 -1,13 -2,13M346,263l2,13 3,12 3,13 1,13 2,13 2,13 1,13 1,13 0,13 0,13 0,13 -1,14M344,276l2,13 1,12 1,13 1,13 1,13 1,13 0,13 0,13 0,13 -1,13 -1,13M347,276l3,12 2,13 2,13 1,13 2,13 1,13 0,13 0,13 0,13 0,13 -1,14 -1,13" stroke-opacity="0.45"/></g>
<g fill="none" stroke="#111" stroke-width="0.5" stroke-linejoin="round"><path d="M130,252l9-9 9-10 10-7 11-6 12-5 13-3 13-4 13-1 13-1 13-1 13,1 13,1 12,3 13,4 12,4M158,214l11-7 12-6 12-3 12-4 13-1 13-1 13,0 13,2 13,1 13,4 12,4 12,5 9,8 10,9 6,11 6,10M194,209l12-4 13-1 13-2 13,0 13,1 13,1 13,3M181,215l13-3 13-4 13-1 13-2 13,0 13,0 13,1 12,3 13,4 12,4 10,9 9,8 7,12M158,215l11-6 12-5 12-4 13-3 13-2 12-1 13-1 13,2 13,1 13,3 12,4 12,5M194,206l12-4 13-1 13-1 13,0 13,1 13,2 13,2 12,4 12,4 10,9M169,208l12-5 12-4 13-3 12-2 13-1 13-1 13,1 13,2 12,3 13,4M148,233l10-8 11-6 12-6 13-4 12-3 13-2 13-1 13-1 13,2 14,1 12,3 13,4M181,215l13-3 13-3 13-1 13-2 13,0 13,1 13,1 13,4M148,227l10-8 11-6 12-6 12-4 13-4 13-1 13-2 13-1 13,1 12,1 13,4 12,4 12,5 10,9 9,9M130,241l9-11 8-9 11-7 11-6 12-5 12-3 13-3 12-2 13-2 13-2 13,0 13,1 12,4M181,214l13-4 12-3 13-2 14-1 13-1 13,1 13,2 12,3M158,224l11-7 12-5 13-4 12-3 13-2 13-1 13,0 13,1 13,1 13,4 12,4 13,4 9,9 10,9 6,11 7,11M194,207l12-3 13-2 13-2 13-1 13,1 13,1 13,4 12,4 12,4M130,242l9-9 8-9 11-8 11-7 12-6 12-4 12-4 13-2 13-2 13-1 13,1 13,1 12,3 12,5M130,254l9-10 9-10 10-8 11-7 12-5 13-4 12-3 13-2 14-1 13,0 13,1 13,2 12,4 13,4 12,5 10,8 10,9 6,12M169,210l12-5 12-4 13-4 13-1 12-2 13-1 13,1 13,1 13,3 12,5 12,4 9,9M158,227l11-7 12-5 13-4 13-3 13-2 13-1 13-1 13,1 13,1 12,4M139,242l9-9 10-8 11-7 12-5 13-3 12-4 13-1 13-2 13,0 14,1 13,1 12,4 13,4 12,4 10,9 9,8 7,12" stroke-opacity="0.18"/><path d="M148,229l10-7 11-6 12-5 13-3 12-5 13-2 13-2 13-1 13,1 13,1 13,5 12,5 12,5 10,9M148,229l10-6 11-6 12-5 13-4 12-5 13-2 13-2 13-1 13,1 13,2 13,4 12,5M130,244l9-10 8-9 11-8 11-7 12-5 12-4 13-4 13-1 12-2 13,0 13,1 13,1 13,3 12,5 12,5 10,8M169,208l12-5 12-4 12-4 13-1 13-2 13,0 13,1 13,1 12,3 13,4M194,208l12-3 13-2 13-1 13-1 13,1 13,2 13,3 12,4 12,5 10,8 10,9 6,11M193,204l13-3 13-2 13-1 13,0 13,1 13,2 12,3M194,206l12-3 13-2 13-1 13,0 13,1 13,2 13,4 12,4M181,203l12-4 12-4 13-2 13-1 13-1 13,2 13,1 13,4 12,5 12,5M139,241l9-10 10-7 11-6 12-4 13-3 13-3 13-2 13-2 13-1 13,1 12,0 13,3 12,4 12,4 10,8 10,9 6,12M147,224l11-8 11-7 12-5 12-4 13-3 13-1 13-1 12,0 13,1 13,0 13,3 12,4 12,5 9,8M181,216l13-4 13-4 13-2 13-2 13,0 13,1 13,1 12,4 13,4 12,5 10,9 10,10 7,12 6,11M139,239l9-10 10-7 11-6 12-6 13-3 12-4 13-1 13-1 13-1 13,1 13,1 13,3 12,4 12,4 10,9 9,9 7,11M158,221l11-7 12-5 13-4 12-3 13-2 13-2 13,0 13,0 13,1 12,3 12,4 12,5 10,9 10,8 6,12M193,202l13-3 13-2 13-2 12-1 13,1 13,1 13,3 12,5 12,4 10,9 9,9M169,213l12-6 12-3 13-4 13-1 13-2 13,0 13,1 13,1 12,4 13,4 12,5 9,8 10,9M130,245l9-10 8-10 11-7 11-7 12-5 12-4 13-4 13-1 13-2 12,0 13,1 13,1 13,3 12,5 12,5 10,8M158,224l11-7 12-6 13-4 12-3 13-2 13-2 13,0 13,1 13,1 13,4 12,4 12,5 10,9 10,9 6,12" stroke-opacity="0.29"/><path d="M148,236l10-8 12-7 11-5 13-4 13-3 13-1 13-2 13,0 13,2 13,1 13,3M139,238l9-9 10-8 11-7 12-6 12-4 13-5 13-2 13-2 13,0 13,2 13,2 12,4M194,211l13-3 13-1 13-2 13,0 13,0 13,1 12,3 13,3 12,5 10,9 9,9 7,12 7,12M139,236l8-10 11-8 11-6 12-5 12-4 13-3 13-1 13-1 13,0 13,1 13,1 12,3 12,3 12,5 10,8 9,8M169,213l12-5 12-4 13-3 13-1 13-2 13,0 13,2 13,1 13,4 12,4 12,5 10,8 9,9 7,11 6,11M193,202l13-4 13-1 12-2 13-1 13,0 13,1 12,2M181,204l12-4 13-3 12-2 13-2 13-1 13,1 13,1 12,3 13,4 11,5 10,8 9,9 7,11 6,12M169,218l12-5 13-5 12-4 13-1 13-2 13-1 13,1 13,2 13,3 12,4 12,5 10,9 10,10 6,11M130,245l9-11 8-9 11-8 11-6 12-5 12-3 13-3 13-1 13-2 13-1 13,0 12,1 13,3 12,4 12,5 10,9 10,10 6,11" stroke-opacity="0.39"/></g>
<g fill="none" stroke="#111" stroke-width="0.55" stroke-linejoin="round"><path d="M171,353l12,8 11,9 12,8 12,9 11,8 12,8 12,9 12,8 11,8 12,8 12,9 12,8M149,329l12,10 11,9 11,9 12,8 12,9 11,8 12,7 12,8 12,8 11,9 12,8 12,9 12,9 11,9 11,8 12,9M185,347l11,9 12,8 12,8 12,8 11,8 12,8 12,9 12,8 11,9 12,8 11,10 11,9M183,361l11,9 12,8 12,7 12,8 11,8 12,8 12,8 12,9M127,304l11,8 12,9 11,9 12,8 12,8 11,8 12,8 12,8 12,8 12,9 11,8 12,9 12,8 11,9 12,8 11,9 11,8 11,9M172,347l12,9 11,9 12,8 12,8 11,7 12,8 12,8 12,8 11,9M162,326l12,8 11,8 12,8 12,8 12,8 11,8 12,8 12,9 12,8 11,9 12,8 11,9 11,9 11,9 11,9M172,350l11,9 12,8 11,8 12,8 12,8 12,9 11,8 12,8M127,308l11,9 12,9 11,8 12,9 11,9 12,8 11,9 12,8 12,8 12,8 11,9 12,8 12,8 12,8 11,8M115,306l11,9 12,9 11,9 11,9 12,8 11,9 12,9 11,8 12,9 12,8 11,9 12,8 12,8 12,8 11,9M115,305l11,10 12,9 11,9 11,9 12,8 11,8 12,7 12,8 11,9 12,9 12,9 11,9 12,9M173,340l12,8 11,8 12,9 12,8 11,9 12,8 12,9 11,8 12,8 12,9 12,8 11,9M115,295l12,8 11,8 12,8 12,8 11,8 12,9 12,8 11,8 12,9 12,8 12,9 11,8 12,8 12,9 12,8M115,299l12,8 11,9 12,8 11,8 12,8 11,9 12,8 12,8 12,9 11,8 12,9 12,9 11,8 12,9 12,8 11,9 12,9 11,9 11,9M162,324l12,8 12,8 11,8 12,8 12,8 12,7 12,8 11,8 12,9M138,314l12,9 11,9 12,9 11,9 12,8 12,8 12,7 11,8 12,8 12,8 12,9 11,9 12,9 11,8 12,9 11,9M115,299l12,9 11,9 11,9 12,9 11,9 12,8 12,9 11,8 12,8 12,7 12,8 12,8 11,8 12,8 12,8 11,9 12,9M115,294l12,9 11,8 12,9 12,9 11,8 12,9 12,8 11,8 12,8 12,8 12,8 11,8 12,8 12,8 12,9 11,9 11,9M138,318l11,9 12,8 12,8 11,8 12,8 12,8 11,8 12,8 12,9 11,8 12,9 12,9 12,8 11,9 11,9 12,9M150,324l11,8 12,9 11,9 12,9 11,10 12,8 12,9 11,8 12,8 12,7M126,314l12,9 11,9 11,9 12,8 11,9 12,8 12,9 11,8 12,8 12,9 11,8 12,8M115,295l12,8 11,9 12,9 11,9 12,8 12,8 11,8 12,8 12,8 12,8 12,8 11,9 12,8 12,9 11,8 12,9 11,9 11,9M127,299l12,8 11,8 12,9 12,9 11,9 12,8 12,9 11,8 12,9 12,8 12,8 11,8 12,8 12,8 12,8 10,9 11,9" stroke-opacity="0.22"/><path d="M174,332l11,9 12,9 12,8 12,9 11,8 12,7 12,8 12,8 12,8 11,8M138,314l12,9 11,9 12,8 11,9 12,8 12,8 12,8 11,8 12,8 12,8 12,7 12,8 11,8M183,360l12,9 11,8 12,8 12,7 12,8 11,8 12,8M115,306l11,9 12,8 11,9 11,9 12,8 11,9 12,9 11,8 12,9 12,9 11,8 12,9 12,8 12,9 11,8 12,9 12,9M161,332l12,8 12,8 11,9 12,9 11,8 12,9 12,8 12,8 11,9 12,8 12,7 12,9M115,305l11,9 12,9 11,9 11,8 12,9 11,8 12,9 12,8 11,9 12,8 12,9 11,8 12,8 12,9 12,8 11,8 12,8 11,9 12,8M150,318l12,8 12,9 11,8 12,8 12,8 11,9 12,8 12,8 12,9 11,8 12,8 12,8M160,342l12,9 11,9 12,8 11,9 12,8 12,8 12,7 11,9 12,8 12,8M161,330l12,9 12,8 11,8 12,8 12,9 12,8 11,9 12,8 12,9M171,353l12,8 12,8 11,8 12,8 12,8 11,9 12,9 12,8M184,356l11,8 12,9 12,8 11,8 12,9 12,8 11,8 12,9M126,314l12,9 11,8 11,9 12,8 11,9 12,8 12,9 11,8 12,9 12,8 11,9 12,8M115,303l11,8 12,8 11,9 12,8 11,8 12,9 11,9 12,9 12,8 11,9 12,9 12,8 12,8 11,8 12,8 12,7 11,9M150,316l12,8 12,8 12,8 11,8 12,9 12,8 12,8 11,8 12,8 12,8 12,8 11,9 12,8 11,10M185,346l12,8 11,8 12,8 12,8 12,8 11,9 12,9M160,345l11,8 12,9 11,9 12,8 12,8 11,8 12,8 12,8 12,8 11,8 12,8 12,9 12,8 11,9 12,9M161,331l12,9 12,8 11,9 12,8 12,9 11,8 12,9 12,8 12,8 11,8 12,8 12,8M184,356l11,9 12,8 12,8 11,7 12,7 12,8 12,8 12,8 11,9M149,334l11,9 12,8 11,9 12,9 11,8 12,8 12,9 11,8 12,8 12,8 12,8 11,8M185,343l12,8 12,8 11,8 12,9 12,9 11,9 12,9 12,9 12,8 11,8 11,8M127,300l12,8 11,9 12,8 12,9 11,8 12,8 12,9 12,8 11,8 12,8 12,7 12,8 12,8 11,8 12,8M172,350l11,9 12,9 11,8 12,9 12,9 11,8 12,9 12,8M162,321l12,9 12,8 11,8 12,8 12,7 12,8 12,7 12,8 12,8 11,8" stroke-opacity="0.34"/><path d="M173,341l11,9 12,9 12,8 11,9 12,9 12,8 11,9 12,8 12,8 12,8M174,333l11,8 12,8 12,8 12,8 11,9 12,8 12,8 12,8 12,8M126,316l12,8 11,8 11,8 12,9 11,9 12,10 11,9 12,9 11,9 12,7 12,8 12,7M185,343l12,9 12,8 11,8 12,8 12,8 12,8 11,9 12,8 12,8 11,9 11,9 11,9M183,359l12,9 11,9 12,8 12,9 11,8 12,9 12,8 11,8 12,9 12,8 12,8 11,9M184,355l11,9 12,9 11,9 12,8 12,9 11,9 12,8 12,8 12,8 11,8 12,8 12,8 11,8M184,350l12,8 12,7 12,8 12,7 11,8 12,9 12,9M127,300l12,9 11,9 12,9 11,9 12,9 12,8 11,8 12,8 12,7 12,8 12,7 12,8 11,8 12,9M183,359l12,9 11,8 12,9 12,8 11,8 12,9 12,8 12,8 11,8 12,8 12,9 11,8M138,323l11,8 11,8 12,9 11,9 12,9 11,10 12,9 12,8 11,8 12,7 12,7M162,323l12,8 12,8 11,9 12,8 12,8 12,9 11,8 12,9 12,9 11,8 12,9 11,9M138,325l11,9 11,8 12,9 11,9 12,8 11,9 12,8 12,8 11,9 12,8 12,8 12,8 11,9 12,8 12,8 11,9M126,313l12,9 11,9 11,9 12,8 11,9 12,8 12,9 11,8 12,8 12,9 11,8 12,8M174,334l11,8 12,9 12,8 11,8 12,8 12,8 12,8 12,9M162,321l12,9 12,8 12,8 11,8 12,9 12,8 12,8 11,8 12,9 12,8 12,8 11,9 11,10M174,328l12,8 12,9 11,8 12,8 12,8 12,8 12,8 11,9 12,8 12,8 11,8 11,10M127,302l11,9 12,8 12,9 11,8 12,9 12,8 11,7 12,8 12,8 12,9 12,8 11,9 12,8M161,332l12,8 11,9 12,9 12,9 11,9 12,8 12,9 11,8 12,8 12,7 12,8 12,8 11,9 11,8M184,353l11,9 12,9 12,8 11,9 12,8 12,8 12,8 12,8 11,8 12,8 11,9" stroke-opacity="0.47"/></g>
<defs><filter id="blur1" x="-10%" y="-10%" width="120%" height="120%"><feGaussianBlur stdDeviation="2"/></filter></defs>
<g fill="none" stroke="#111" stroke-width="0.5" stroke-linejoin="round"><path d="M175,468l13,8 13,8 13,8 13,8 13,9 14,9 13,9 13,10 12,8 12,10 12,9M201,478l13,9 13,9 13,9 14,8 13,9 13,10 12,9 12,10 12,10 11,10 13,9M188,471l13,9 13,8 13,8 13,8 14,7 13,8 13,9 12,8 12,10 12,11 11,10M188,469l13,9 13,10 13,8 13,9 14,8 13,8 13,8 12,9 12,10 12,11 11,11M175,463l13,9 13,9 13,8 13,9 13,8 14,8 13,8 13,9 12,9 12,10 12,11 11,10 13,10M188,477l13,8 13,9 13,9 13,9 14,8 13,8 13,8 12,9 12,10 12,12M175,469l13,9 13,9 13,9 13,8 13,8 14,9 13,8 13,9 12,9 12,10 12,11 11,10 13,9M188,477l13,9 13,9 13,10 13,8 14,7 13,8 13,8 12,10 12,11 12,11 11,10M201,479l13,9 13,8 13,8 14,9 13,8 13,9 12,9 12,10 12,11M188,471l13,10 13,11 13,9 13,7 14,6 13,8 13,9 12,10 12,12 12,11 11,9M188,474l13,8 13,9 13,9 13,9 14,9 13,7 13,9 12,8 12,10 12,12 11,11 13,9M201,479l13,9 13,8 13,8 14,8 13,9 13,9 12,9 12,10 12,11 11,10M188,468l13,8 13,9 13,9 13,8 14,8 13,9 13,9 12,9 12,11 12,10M201,484l13,10 13,9 13,8 14,8 13,8 13,9 12,8 12,10 12,10 11,11 13,10M201,479l13,9 13,9 13,9 14,8 13,9 13,9 12,9 12,10 12,10 11,10 13,9" stroke-opacity="0.21"/><path d="M201,482l13,8 13,9 13,8 14,9 13,8 13,9 12,9 12,9 12,11M175,468l13,8 13,9 13,9 13,9 13,8 14,8 13,8 13,9 12,9 12,10 12,11 11,10M201,479l13,9 13,8 13,8 14,7 13,8 13,9 12,10 12,11 12,11M188,478l13,9 13,9 13,8 13,7 14,8 13,7 13,9 12,8 12,10 12,11M201,490l13,8 13,8 13,8 14,9 13,9 13,9 12,9 12,10 12,10 11,10M201,484l13,7 13,8 13,7 14,9 13,10 13,10 12,10 12,10 12,10 11,9 13,8M175,467l13,8 13,9 13,9 13,9 13,8 14,8 13,9 13,8 12,9 12,10 12,10M188,473l13,8 13,8 13,8 13,8 14,9 13,9 13,10 12,9 12,10 12,10M188,479l13,9 13,8 13,8 13,7 14,8 13,9 13,8 12,9 12,11 12,11 11,10M175,461l13,9 13,8 13,9 13,9 13,9 14,8 13,8 13,8 12,9 12,10 12,11 11,11 13,9M201,479l13,8 13,8 13,8 14,8 13,9 13,9 12,9 12,10 12,11 11,10M201,488l13,9 13,9 13,8 14,8 13,8 13,9 12,9 12,10 12,10 11,10" stroke-opacity="0.33"/><path d="M175,465l13,9 13,9 13,9 13,8 13,8 14,8 13,9 13,9 12,9 12,10 12,10 11,10M188,477l13,9 13,9 13,8 13,9 14,8 13,8 13,9 12,9 12,10 12,10 11,11M188,469l13,9 13,8 13,7 13,8 14,9 13,9 13,9 12,10 12,9 12,10M175,468l13,9 13,10 13,9 13,9 13,8 14,7 13,7 13,9 12,10 12,11 12,11M188,474l13,8 13,9 13,8 13,8 14,7 13,8 13,9 12,9 12,10 12,10M201,483l13,9 13,9 13,8 14,9 13,8 13,9 12,9 12,9 12,10M201,480l13,9 13,8 13,8 14,8 13,9 13,9 12,9 12,10 12,10 11,11M175,469l13,8 13,7 13,8 13,8 13,9 14,9 13,10 13,9 12,9 12,9 12,9 11,10 13,10M201,484l13,9 13,9 13,8 14,9 13,8 13,9 12,9 12,9 12,11M188,468l13,9 13,9 13,9 13,7 14,8 13,9 13,8 12,10 12,10 12,11 11,10M188,473l13,9 13,8 13,9 13,8 14,8 13,9 13,9 12,9 12,10 12,10 11,10 13,10M175,463l13,9 13,9 13,9 13,8 13,9 14,8 13,8 13,9 12,9 12,10 12,11 11,10M188,480l13,10 13,10 13,9 13,8 14,7 13,7 13,8 12,10 12,11 12,12 11,11" stroke-opacity="0.45"/></g>
<g filter="url(#blur1)" opacity="0.9"><polygon points="168.0,441.6 186.6,445.2 186.6,446.0 168.0,442.1" fill="#28cef0"/><polygon points="186.0,445.2 204.6,448.7 204.6,450.0 186.0,446.0" fill="#28cfef"/><polygon points="204.0,448.7 222.6,452.4 222.6,454.0 204.0,450.0" fill="#28cfef"/><polygon points="222.0,452.4 240.6,456.3 240.6,458.1 222.0,454.0" fill="#28cfee"/><polygon points="240.0,456.3 258.6,460.2 258.6,462.3 240.0,458.1" fill="#28d0ed"/><polygon points="258.0,460.2 276.6,464.1 276.6,466.6 258.0,462.3" fill="#28d0ec"/><polygon points="276.0,464.1 294.6,468.0 294.6,470.9 276.0,466.6" fill="#28d1eb"/><polygon points="294.0,468.0 312.6,471.9 312.6,475.3 294.0,470.9" fill="#28d1eb"/><polygon points="312.0,471.9 330.6,475.8 330.6,479.7 312.0,475.3" fill="#28d1eb"/><polygon points="330.0,475.8 348.6,479.4 348.6,483.7 330.0,479.7" fill="#28d1eb"/><polygon points="348.0,479.4 366.6,479.0 366.6,482.5 348.0,483.7" fill="#28d1eb"/><polygon points="168.0,442.1 186.6,446.0 186.6,446.9 168.0,442.6" fill="#28d2e7"/><polygon points="186.0,446.0 204.6,450.0 204.6,451.2 186.0,446.9" fill="#28d3e5"/><polygon points="204.0,450.0 222.6,454.0 222.6,455.6 204.0,451.2" fill="#28d4e3"/><polygon points="222.0,454.0 240.6,458.1 240.6,460.0 222.0,455.6" fill="#28d5e0"/><polygon points="240.0,458.1 258.6,462.3 258.6,464.5 240.0,460.0" fill="#28d6de"/><polygon points="258.0,462.3 276.6,466.6 276.6,469.1 258.0,464.5" fill="#28d8dc"/><polygon points="276.0,466.6 294.6,470.9 294.6,473.8 276.0,469.1" fill="#28d9d9"/><polygon points="294.0,470.9 312.6,475.3 312.6,478.7 294.0,473.8" fill="#28d9d8"/><polygon points="312.0,475.3 330.6,479.7 330.6,483.6 312.0,478.7" fill="#28d9d8"/><polygon points="330.0,479.7 348.6,483.7 348.6,487.9 330.0,483.6" fill="#28d9d8"/><polygon points="348.0,483.7 366.6,482.5 366.6,485.9 348.0,487.9" fill="#28d9d8"/><polygon points="168.0,442.6 186.6,446.9 186.6,447.8 168.0,443.1" fill="#28d6df"/><polygon points="186.0,446.9 204.6,451.2 204.6,452.5 186.0,447.8" fill="#28d8db"/><polygon points="204.0,451.2 222.6,455.6 222.6,457.2 204.0,452.5" fill="#28dad7"/><polygon points="222.0,455.6 240.6,460.0 240.6,461.9 222.0,457.2" fill="#28dbd3"/><polygon points="240.0,460.0 258.6,464.5 258.6,466.7 240.0,461.9" fill="#28ddcf"/><polygon points="258.0,464.5 276.6,469.1 276.6,471.7 258.0,466.7" fill="#28dfcb"/><polygon points="276.0,469.1 294.6,473.8 294.6,476.7 276.0,471.7" fill="#28e1c7"/><polygon points="294.0,473.8 312.6,478.7 312.6,482.1 294.0,476.7" fill="#28e1c4"/><polygon points="312.0,478.7 330.6,483.6 330.6,487.5 312.0,482.1" fill="#28e1c4"/><polygon points="330.0,483.6 348.6,487.9 348.6,492.2 330.0,487.5" fill="#28e1c4"/><polygon points="348.0,487.9 366.6,485.9 366.6,489.4 348.0,492.2" fill="#28e1c4"/><polygon points="168.0,443.1 186.6,447.8 186.6,448.7 168.0,443.6" fill="#28dad6"/><polygon points="186.0,447.8 204.6,452.5 204.6,453.7 186.0,448.7" fill="#28ddd0"/><polygon points="204.0,452.5 222.6,457.2 222.6,458.8 204.0,453.7" fill="#28dfcb"/><polygon points="222.0,457.2 240.6,461.9 240.6,463.8 222.0,458.8" fill="#28e1c4"/><polygon points="240.0,461.9 258.6,466.7 258.6,468.9 240.0,463.8" fill="#2ae2bb"/><polygon points="258.0,466.7 276.6,471.7 276.6,474.2 258.0,468.9" fill="#2be2b3"/><polygon points="276.0,471.7 294.6,476.7 294.6,479.6 276.0,474.2" fill="#2de3aa"/><polygon points="294.0,476.7 312.6,482.1 312.6,485.5 294.0,479.6" fill="#2ee4a6"/><polygon points="312.0,482.1 330.6,487.5 330.6,491.5 312.0,485.5" fill="#2ee4a6"/><polygon points="330.0,487.5 348.6,492.2 348.6,496.5 330.0,491.5" fill="#2ee4a6"/><polygon points="348.0,492.2 366.6,489.4 366.6,492.8 348.0,496.5" fill="#2ee4a6"/><polygon points="168.0,443.6 186.6,448.7 186.6,449.6 168.0,444.2" fill="#28decd"/><polygon points="186.0,448.7 204.6,453.7 204.6,455.0 186.0,449.6" fill="#28e1c5"/><polygon points="204.0,453.7 222.6,458.8 222.6,460.4 204.0,455.0" fill="#2ae2ba"/><polygon points="222.0,458.8 240.6,463.8 240.6,465.7 222.0,460.4" fill="#2ce3ae"/><polygon points="240.0,463.8 258.6,468.9 258.6,471.1 240.0,465.7" fill="#2ee4a3"/><polygon points="258.0,468.9 276.6,474.2 276.6,476.8 258.0,471.1" fill="#30e598"/><polygon points="276.0,474.2 294.6,479.6 294.6,482.5 276.0,476.8" fill="#32e68c"/><polygon points="294.0,479.6 312.6,485.5 312.6,488.9 294.0,482.5" fill="#33e687"/><polygon points="312.0,485.5 330.6,491.5 330.6,495.4 312.0,488.9" fill="#33e687"/><polygon points="330.0,491.5 348.6,496.5 348.6,500.7 330.0,495.4" fill="#33e687"/><polygon points="348.0,496.5 366.6,492.8 366.6,496.3 348.0,500.7" fill="#33e687"/><polygon points="168.0,444.2 186.6,449.6 186.6,450.5 168.0,444.7" fill="#28e1c2"/><polygon points="186.0,449.6 204.6,455.0 204.6,456.2 186.0,450.5" fill="#2be2b4"/><polygon points="204.0,455.0 222.6,460.4 222.6,462.0 204.0,456.2" fill="#2ee4a6"/><polygon points="222.0,460.4 240.6,465.7 240.6,467.6 222.0,462.0" fill="#30e599"/><polygon points="240.0,465.7 258.6,471.1 258.6,473.2 240.0,467.6" fill="#33e68b"/><polygon points="258.0,471.1 276.6,476.8 276.6,479.3 258.0,473.2" fill="#35e77d"/><polygon points="276.0,476.8 294.6,482.5 294.6,485.4 276.0,479.3" fill="#38e96f"/><polygon points="294.0,482.5 312.6,488.9 312.6,492.3 294.0,485.4" fill="#39e969"/><polygon points="312.0,488.9 330.6,495.4 330.6,499.3 312.0,492.3" fill="#39e969"/><polygon points="330.0,495.4 348.6,500.7 348.6,505.0 330.0,499.3" fill="#39e969"/><polygon points="348.0,500.7 366.6,496.3 366.6,499.8 348.0,505.0" fill="#39e969"/><polygon points="168.0,444.7 186.6,450.5 186.6,451.4 168.0,445.2" fill="#2be2b4"/><polygon points="186.0,450.5 204.6,456.2 204.6,457.5 186.0,451.4" fill="#2ee4a3"/><polygon points="204.0,456.2 222.6,462.0 222.6,463.6 204.0,457.5" fill="#31e593"/><polygon points="222.0,462.0 240.6,467.6 240.6,469.5 222.0,463.6" fill="#34e783"/><polygon points="240.0,467.6 258.6,473.2 258.6,475.4 240.0,469.5" fill="#37e872"/><polygon points="258.0,473.2 276.6,479.3 276.6,481.8 258.0,475.4" fill="#3aea62"/><polygon points="276.0,479.3 294.6,485.4 294.6,488.3 276.0,481.8" fill="#42eb56"/><polygon points="294.0,485.4 312.6,492.3 312.6,495.7 294.0,488.3" fill="#48eb53"/><polygon points="312.0,492.3 330.6,499.3 330.6,503.2 312.0,495.7" fill="#48eb53"/><polygon points="330.0,499.3 348.6,505.0 348.6,509.3 330.0,503.2" fill="#48eb53"/><polygon points="348.0,505.0 366.6,499.8 366.6,503.2 348.0,509.3" fill="#48eb53"/><polygon points="168.0,445.2 186.6,451.4 186.6,452.3 168.0,445.7" fill="#2ee4a6"/><polygon points="186.0,451.4 204.6,457.5 204.6,458.8 186.0,452.3" fill="#31e593"/><polygon points="204.0,457.5 222.6,463.6 222.6,465.2 204.0,458.8" fill="#35e780"/><polygon points="222.0,463.6 240.6,469.5 240.6,471.4 222.0,465.2" fill="#38e96d"/><polygon points="240.0,469.5 258.6,475.4 258.6,477.6 240.0,471.4" fill="#3bea5a"/><polygon points="258.0,475.4 276.6,481.8 276.6,484.4 258.0,477.6" fill="#4beb51"/><polygon points="276.0,481.8 294.6,488.3 294.6,491.2 276.0,484.4" fill="#5aec48"/><polygon points="294.0,488.3 312.6,495.7 312.6,499.1 294.0,491.2" fill="#61ed45"/><polygon points="312.0,495.7 330.6,503.2 330.6,507.1 312.0,499.1" fill="#61ed45"/><polygon points="330.0,503.2 348.6,509.3 348.6,513.6 330.0,507.1" fill="#61ed45"/><polygon points="348.0,509.3 366.6,503.2 366.6,506.7 348.0,513.6" fill="#61ed45"/><polygon points="168.0,445.7 186.6,452.3 186.6,453.2 168.0,446.2" fill="#30e597"/><polygon points="186.0,452.3 204.6,458.8 204.6,460.0 186.0,453.2" fill="#34e782"/><polygon points="204.0,458.8 222.6,465.2 222.6,466.8 204.0,460.0" fill="#38e96c"/><polygon points="222.0,465.2 240.6,471.4 240.6,473.3 222.0,466.8" fill="#3eeb58"/><polygon points="240.0,471.4 258.6,477.6 258.6,479.8 240.0,473.3" fill="#4fec4f"/><polygon points="258.0,477.6 276.6,484.4 276.6,486.9 258.0,479.8" fill="#61ed45"/><polygon points="276.0,484.4 294.6,491.2 294.6,494.1 276.0,486.9" fill="#72ee3b"/><polygon points="294.0,491.2 312.6,499.1 312.6,502.5 294.0,494.1" fill="#7aee37"/><polygon points="312.0,499.1 330.6,507.1 330.6,511.0 312.0,502.5" fill="#7aee37"/><polygon points="330.0,507.1 348.6,513.6 348.6,517.8 330.0,511.0" fill="#7aee37"/><polygon points="348.0,513.6 366.6,506.7 366.6,510.1 348.0,517.8" fill="#7aee37"/><polygon points="168.0,446.2 186.6,453.2 186.6,454.1 168.0,446.7" fill="#33e689"/><polygon points="186.0,453.2 204.6,460.0 204.6,461.3 186.0,454.1" fill="#37e871"/><polygon points="204.0,460.0 222.6,466.8 222.6,468.4 204.0,461.3" fill="#3ceb59"/><polygon points="222.0,466.8 240.6,473.3 240.6,475.2 222.0,468.4" fill="#50ec4e"/><polygon points="240.0,473.3 258.6,479.8 258.6,482.0 240.0,475.2" fill="#63ed43"/><polygon points="258.0,479.8 276.6,486.9 276.6,489.5 258.0,482.0" fill="#77ee39"/><polygon points="276.0,486.9 294.6,494.1 294.6,497.0 276.0,489.5" fill="#8aef2e"/><polygon points="294.0,494.1 312.6,502.5 312.6,505.9 294.0,497.0" fill="#93ef29"/><polygon points="312.0,502.5 330.6,511.0 330.6,514.9 312.0,505.9" fill="#93ef29"/><polygon points="330.0,511.0 348.6,517.8 348.6,522.1 330.0,514.9" fill="#93ef29"/><polygon points="348.0,517.8 366.6,510.1 366.6,513.6 348.0,522.1" fill="#93ef29"/><polygon points="168.0,446.7 186.6,454.1 186.6,455.0 168.0,447.3" fill="#35e77b"/><polygon points="186.0,454.1 204.6,461.3 204.6,462.5 186.0,455.0" fill="#3aea60"/><polygon points="204.0,461.3 222.6,468.4 222.6,470.0 204.0,462.5" fill="#4ceb50"/><polygon points="222.0,468.4 240.6,475.2 240.6,477.1 222.0,470.0" fill="#61ed44"/><polygon points="240.0,475.2 258.6,482.0 258.6,484.2 240.0,477.1" fill="#77ee38"/><polygon points="258.0,482.0 276.6,489.5 276.6,492.0 258.0,484.2" fill="#8def2c"/><polygon points="276.0,489.5 294.6,497.0 294.6,499.9 276.0,492.0" fill="#a0f026"/><polygon points="294.0,497.0 312.6,505.9 312.6,509.2 294.0,499.9" fill="#a8f025"/><polygon points="312.0,505.9 330.6,514.9 330.6,518.8 312.0,509.2" fill="#a8f025"/><polygon points="330.0,514.9 348.6,522.1 348.6,526.4 330.0,518.8" fill="#a8f025"/><polygon points="348.0,522.1 366.6,513.6 366.6,517.0 348.0,526.4" fill="#a8f025"/><polygon points="168.0,447.3 186.6,455.0 186.6,455.9 168.0,447.8" fill="#38e96c"/><polygon points="186.0,455.0 204.6,462.5 204.6,463.8 186.0,455.9" fill="#44eb55"/><polygon points="204.0,462.5 222.6,470.0 222.6,471.6 204.0,463.8" fill="#5cec48"/><polygon points="222.0,470.0 240.6,477.1 240.6,479.0 222.0,471.6" fill="#73ee3a"/><polygon points="240.0,477.1 258.6,484.2 258.6,486.3 240.0,479.0" fill="#8bef2d"/><polygon points="258.0,484.2 276.6,492.0 276.6,494.5 258.0,486.3" fill="#a1f026"/><polygon points="276.0,492.0 294.6,499.9 294.6,502.8 276.0,494.5" fill="#b4f023"/><polygon points="294.0,499.9 312.6,509.2 312.6,512.6 294.0,502.8" fill="#bdf022"/><polygon points="312.0,509.2 330.6,518.8 330.6,522.7 312.0,512.6" fill="#bdf022"/><polygon points="330.0,518.8 348.6,526.4 348.6,530.6 330.0,522.7" fill="#bdf022"/><polygon points="348.0,526.4 366.6,517.0 366.6,520.5 348.0,530.6" fill="#bdf022"/><polygon points="168.0,447.8 186.6,455.9 186.6,456.8 168.0,448.3" fill="#3bea5e"/><polygon points="186.0,455.9 204.6,463.8 204.6,465.0 186.0,456.8" fill="#52ec4d"/><polygon points="204.0,463.8 222.6,471.6 222.6,473.2 204.0,465.0" fill="#6bed3f"/><polygon points="222.0,471.6 240.6,479.0 240.6,480.9 222.0,473.2" fill="#85ef31"/><polygon points="240.0,479.0 258.6,486.3 258.6,488.5 240.0,480.9" fill="#9df026"/><polygon points="258.0,486.3 276.6,494.5 276.6,497.1 258.0,488.5" fill="#b3f024"/><polygon points="276.0,494.5 294.6,502.8 294.6,505.7 276.0,497.1" fill="#c8f021"/><polygon points="294.0,502.8 312.6,512.6 312.6,516.0 294.0,505.7" fill="#d2f01f"/><polygon points="312.0,512.6 330.6,522.7 330.6,526.7 312.0,516.0" fill="#d2f01f"/><polygon points="330.0,522.7 348.6,530.6 348.6,534.9 330.0,526.7" fill="#d2f01f"/><polygon points="348.0,530.6 366.6,520.5 366.6,524.0 348.0,534.9" fill="#d2f01f"/><polygon points="168.0,448.3 186.6,456.8 186.6,457.6 168.0,448.8" fill="#44eb55"/><polygon points="186.0,456.8 204.6,465.0 204.6,466.3 186.0,457.6" fill="#5fec46"/><polygon points="204.0,465.0 222.6,473.2 222.6,474.8 204.0,466.3" fill="#7bee36"/><polygon points="222.0,473.2 240.6,480.9 240.6,482.7 222.0,474.8" fill="#97f027"/><polygon points="240.0,480.9 258.6,488.5 258.6,490.7 240.0,482.7" fill="#aef024"/><polygon points="258.0,488.5 276.6,497.1 276.6,499.6 258.0,490.7" fill="#c5f021"/><polygon points="276.0,497.1 294.6,505.7 294.6,508.6 276.0,499.6" fill="#dcf01e"/><polygon points="294.0,505.7 312.6,516.0 312.6,519.4 294.0,508.6" fill="#e3ed1e"/><polygon points="312.0,516.0 330.6,526.7 330.6,530.6 312.0,519.4" fill="#e3ed1e"/><polygon points="330.0,526.7 348.6,534.9 348.6,539.2 330.0,530.6" fill="#e3ed1e"/><polygon points="348.0,534.9 366.6,524.0 366.6,527.4 348.0,539.2" fill="#e3ed1e"/><polygon points="168.0,448.8 186.6,457.6 186.6,458.5 168.0,449.3" fill="#4fec4f"/><polygon points="186.0,457.6 204.6,466.3 204.6,467.5 186.0,458.5" fill="#6ded3e"/><polygon points="204.0,466.3 222.6,474.8 222.6,476.4 204.0,467.5" fill="#8bef2d"/><polygon points="222.0,474.8 240.6,482.7 240.6,484.6 222.0,476.4" fill="#a6f025"/><polygon points="240.0,482.7 258.6,490.7 258.6,492.9 240.0,484.6" fill="#bff022"/><polygon points="258.0,490.7 276.6,499.6 276.6,502.2 258.0,492.9" fill="#d8f01f"/><polygon points="276.0,499.6 294.6,508.6 294.6,511.5 276.0,502.2" fill="#e7e91e"/><polygon points="294.0,508.6 312.6,519.4 312.6,522.8 294.0,511.5" fill="#ebe51e"/><polygon points="312.0,519.4 330.6,530.6 330.6,534.5 312.0,522.8" fill="#ebe51e"/><polygon points="330.0,530.6 348.6,539.2 348.6,543.4 330.0,534.5" fill="#ebe51e"/><polygon points="348.0,539.2 366.6,527.4 366.6,530.9 348.0,543.4" fill="#ebe51e"/><polygon points="168.0,449.3 186.6,458.5 186.6,459.4 168.0,449.8" fill="#5bec48"/><polygon points="186.0,458.5 204.6,467.5 204.6,468.8 186.0,459.4" fill="#7bee36"/><polygon points="204.0,467.5 222.6,476.4 222.6,478.0 204.0,468.8" fill="#9af027"/><polygon points="222.0,476.4 240.6,484.6 240.6,486.5 222.0,478.0" fill="#b5f023"/><polygon points="240.0,484.6 258.6,492.9 258.6,495.1 240.0,486.5" fill="#cff020"/><polygon points="258.0,492.9 276.6,502.2 276.6,504.7 258.0,495.1" fill="#e4ec1e"/><polygon points="276.0,502.2 294.6,511.5 294.6,514.4 276.0,504.7" fill="#eee21e"/><polygon points="294.0,511.5 312.6,522.8 312.6,526.2 294.0,514.4" fill="#f3dd1e"/><polygon points="312.0,522.8 330.6,534.5 330.6,538.4 312.0,526.2" fill="#f3dd1e"/><polygon points="330.0,534.5 348.6,543.4 348.6,547.7 330.0,538.4" fill="#f3dd1e"/><polygon points="348.0,543.4 366.6,530.9 366.6,534.3 348.0,547.7" fill="#f3dd1e"/><polygon points="168.0,449.8 186.6,459.4 186.6,460.3 168.0,450.4" fill="#67ed42"/><polygon points="186.0,459.4 204.6,468.8 204.6,470.0 186.0,460.3" fill="#89ef2f"/><polygon points="204.0,468.8 222.6,478.0 222.6,479.6 204.0,470.0" fill="#a7f025"/><polygon points="222.0,478.0 240.6,486.5 240.6,488.4 222.0,479.6" fill="#c4f021"/><polygon points="240.0,486.5 258.6,495.1 258.6,497.2 240.0,488.4" fill="#e0f01e"/><polygon points="258.0,495.1 276.6,504.7 276.6,507.2 258.0,497.2" fill="#ebe51e"/><polygon points="276.0,504.7 294.6,514.4 294.6,517.3 276.0,507.2" fill="#f6da1e"/><polygon points="294.0,514.4 312.6,526.2 312.6,529.6 294.0,517.3" fill="#f9d21e"/><polygon points="312.0,526.2 330.6,538.4 330.6,542.3 312.0,529.6" fill="#f9d21e"/><polygon points="330.0,538.4 348.6,547.7 348.6,552.0 330.0,542.3" fill="#f9d21e"/><polygon points="348.0,547.7 366.6,534.3 366.6,537.8 348.0,552.0" fill="#f9d21e"/><polygon points="168.0,450.4 186.6,460.3 186.6,461.2 168.0,450.9" fill="#72ee3b"/><polygon points="186.0,460.3 204.6,470.0 204.6,471.3 186.0,461.2" fill="#96f027"/><polygon points="204.0,470.0 222.6,479.6 222.6,481.2 204.0,471.3" fill="#b4f023"/><polygon points="222.0,479.6 240.6,488.4 240.6,490.3 222.0,481.2" fill="#d2f01f"/><polygon points="240.0,488.4 258.6,497.2 258.6,499.4 240.0,490.3" fill="#e7e91e"/><polygon points="258.0,497.2 276.6,507.2 276.6,509.8 258.0,499.4" fill="#f2de1e"/><polygon points="276.0,507.2 294.6,517.3 294.6,520.2 276.0,509.8" fill="#f9ca1e"/><polygon points="294.0,517.3 312.6,529.6 312.6,533.0 294.0,520.2" fill="#f9bc1e"/><polygon points="312.0,529.6 330.6,542.3 330.6,546.2 312.0,533.0" fill="#f9bc1e"/><polygon points="330.0,542.3 348.6,552.0 348.6,556.3 330.0,546.2" fill="#f9bc1e"/><polygon points="348.0,552.0 366.6,537.8 366.6,541.2 348.0,556.3" fill="#f9bc1e"/><polygon points="168.0,450.9 186.6,461.2 186.6,462.1 168.0,451.4" fill="#7eee34"/><polygon points="186.0,461.2 204.6,471.3 204.6,472.5 186.0,462.1" fill="#a2f026"/><polygon points="204.0,471.3 222.6,481.2 222.6,482.8 204.0,472.5" fill="#c2f022"/><polygon points="222.0,481.2 240.6,490.3 240.6,492.2 222.0,482.8" fill="#e1ef1e"/><polygon points="240.0,490.3 258.6,499.4 258.6,501.6 240.0,492.2" fill="#ede31e"/><polygon points="258.0,499.4 276.6,509.8 276.6,512.3 258.0,501.6" fill="#f9d71e"/><polygon points="276.0,509.8 294.6,520.2 294.6,523.1 276.0,512.3" fill="#f8b51e"/><polygon points="294.0,520.2 312.6,533.0 312.6,536.4 294.0,523.1" fill="#f8a51e"/><polygon points="312.0,533.0 330.6,546.2 330.6,550.1 312.0,536.4" fill="#f8a51e"/><polygon points="330.0,546.2 348.6,556.3 348.6,560.5 330.0,550.1" fill="#f8a51e"/><polygon points="348.0,556.3 366.6,541.2 366.6,544.7 348.0,560.5" fill="#f8a51e"/><polygon points="168.0,451.4 186.6,462.1 186.6,463.0 168.0,451.9" fill="#8aef2e"/><polygon points="186.0,462.1 204.6,472.5 204.6,473.8 186.0,463.0" fill="#adf024"/><polygon points="204.0,472.5 222.6,482.8 222.6,484.4 204.0,473.8" fill="#cff020"/><polygon points="222.0,482.8 240.6,492.2 240.6,494.1 222.0,484.4" fill="#e7e91e"/><polygon points="240.0,492.2 258.6,501.6 258.6,503.8 240.0,494.1" fill="#f3dd1e"/><polygon points="258.0,501.6 276.6,512.3 276.6,514.9 258.0,503.8" fill="#f9c31e"/><polygon points="276.0,512.3 294.6,523.1 294.6,526.0 276.0,514.9" fill="#f89f1e"/><polygon points="294.0,523.1 312.6,536.4 312.6,539.8 294.0,526.0" fill="#f78f1d"/><polygon points="312.0,536.4 330.6,550.1 330.6,554.0 312.0,539.8" fill="#f78f1d"/><polygon points="330.0,550.1 348.6,560.5 348.6,564.8 330.0,554.0" fill="#f78f1d"/><polygon points="348.0,560.5 366.6,544.7 366.6,548.2 348.0,564.8" fill="#f78f1d"/><polygon points="168.0,451.9 186.6,463.0 186.6,463.9 168.0,452.4" fill="#96f027"/><polygon points="186.0,463.0 204.6,473.8 204.6,475.0 186.0,463.9" fill="#b9f023"/><polygon points="204.0,473.8 222.6,484.4 222.6,486.0 204.0,475.0" fill="#dcf01e"/><polygon points="222.0,484.4 240.6,494.1 240.6,496.0 222.0,486.0" fill="#ece41e"/><polygon points="240.0,494.1 258.6,503.8 258.6,506.0 240.0,496.0" fill="#f9d51e"/><polygon points="258.0,503.8 276.6,514.9 276.6,517.4 258.0,506.0" fill="#f8af1e"/><polygon points="276.0,514.9 294.6,526.0 294.6,528.9 276.0,517.4" fill="#f68a1d"/><polygon points="294.0,526.0 312.6,539.8 312.6,543.2 294.0,528.9" fill="#f47a1b"/><polygon points="312.0,539.8 330.6,554.0 330.6,558.0 312.0,543.2" fill="#f47a1b"/><polygon points="330.0,554.0 348.6,564.8 348.6,569.1 330.0,558.0" fill="#f47a1b"/><polygon points="348.0,564.8 366.6,548.2 366.6,551.6 348.0,569.1" fill="#f47a1b"/><polygon points="168.0,452.4 186.6,463.9 186.6,464.8 168.0,452.9" fill="#9ff026"/><polygon points="186.0,463.9 204.6,475.0 204.6,476.3 186.0,464.8" fill="#c4f021"/><polygon points="204.0,475.0 222.6,486.0 222.6,487.6 204.0,476.3" fill="#e4ec1e"/><polygon points="222.0,486.0 240.6,496.0 240.6,497.9 222.0,487.6" fill="#f2de1e"/><polygon points="240.0,496.0 258.6,506.0 258.6,508.2 240.0,497.9" fill="#f9c31e"/><polygon points="258.0,506.0 276.6,517.4 276.6,519.9 258.0,508.2" fill="#f89b1e"/><polygon points="276.0,517.4 294.6,528.9 294.6,531.8 276.0,519.9" fill="#f3761b"/><polygon points="294.0,528.9 312.6,543.2 312.6,546.6 294.0,531.8" fill="#f1661a"/><polygon points="312.0,543.2 330.6,558.0 330.6,561.9 312.0,546.6" fill="#f1661a"/><polygon points="330.0,558.0 348.6,569.1 348.6,573.3 330.0,561.9" fill="#f1661a"/><polygon points="348.0,569.1 366.6,551.6 366.6,555.1 348.0,573.3" fill="#f1661a"/><polygon points="168.0,452.9 186.6,464.8 186.6,465.7 168.0,453.4" fill="#a9f025"/><polygon points="186.0,464.8 204.6,476.3 204.6,477.6 186.0,465.7" fill="#d0f020"/><polygon points="204.0,476.3 222.6,487.6 222.6,489.2 204.0,477.6" fill="#e9e71e"/><polygon points="222.0,487.6 240.6,497.9 240.6,499.8 222.0,489.2" fill="#f8d81e"/><polygon points="240.0,497.9 258.6,508.2 258.6,510.3 240.0,499.8" fill="#f8b11e"/><polygon points="258.0,508.2 276.6,519.9 276.6,522.5 258.0,510.3" fill="#f6891c"/><polygon points="276.0,519.9 294.6,531.8 294.6,534.7 276.0,522.5" fill="#f16219"/><polygon points="294.0,531.8 312.6,546.6 312.6,550.0 294.0,534.7" fill="#ea5017"/><polygon points="312.0,546.6 330.6,561.9 330.6,565.8 312.0,550.0" fill="#ea5017"/><polygon points="330.0,561.9 348.6,573.3 348.6,577.6 330.0,565.8" fill="#ea5017"/><polygon points="348.0,573.3 366.6,555.1 366.6,558.5 348.0,577.6" fill="#ea5017"/><polygon points="168.0,453.4 186.6,465.7 186.6,466.6 168.0,454.0" fill="#b3f024"/><polygon points="186.0,465.7 204.6,477.6 204.6,478.8 186.0,466.6" fill="#dbf01e"/><polygon points="204.0,477.6 222.6,489.2 222.6,490.8 204.0,478.8" fill="#eee21e"/><polygon points="222.0,489.2 240.6,499.8 240.6,501.7 222.0,490.8" fill="#f9cb1e"/><polygon points="240.0,499.8 258.6,510.3 258.6,512.5 240.0,501.7" fill="#f89f1e"/><polygon points="258.0,510.3 276.6,522.5 276.6,525.0 258.0,512.5" fill="#f3761b"/><polygon points="276.0,522.5 294.6,534.7 294.6,537.6 276.0,525.0" fill="#e84c17"/><polygon points="294.0,534.7 312.6,550.0 312.6,553.4 294.0,537.6" fill="#dd3815"/><polygon points="312.0,550.0 330.6,565.8 330.6,569.7 312.0,553.4" fill="#dd3815"/><polygon points="330.0,565.8 348.6,577.6 348.6,581.9 330.0,569.7" fill="#dd3815"/><polygon points="348.0,577.6 366.6,558.5 366.6,562.0 348.0,581.9" fill="#dd3815"/></g>
<polygon points="160,440 205,449 205,479 170,456" fill="#40c8d8" opacity="0.5" filter="url(#blur1)"/>
<path d="M196.0,457.7L232.6,471.9" stroke="#57ec4a" stroke-width="0.6" stroke-opacity="0.75" fill="none"/>
<path d="M224.4,462.8L293.9,485.4M230.4,474.6L295.2,502.6M204.7,478.2L262.4,513.6M247.7,496.0L333.1,551.6M218.5,484.5L286.9,525.2M181.3,444.6L226.3,454.1M310.2,537.8L364.0,550.9M192.8,451.2L225.1,460.5M201.5,471.2L255.3,500.4M209.8,478.2L260.7,507.0M304.6,485.7L341.3,498.2M279.3,488.8L322.7,508.4M231.0,483.8L316.4,532.4M288.9,468.2L328.1,477.2M231.6,455.0L317.6,474.2M236.0,459.3L266.4,467.0M215.4,452.5L299.7,472.4M258.6,510.8L319.8,557.2M247.8,460.2L334.8,481.2M264.4,482.2L349.4,517.4M219.5,488.6L248.6,506.0M206.1,466.3L259.3,489.7M220.0,454.6L307.2,476.3M279.8,487.2L364.0,509.9M231.9,496.1L314.6,554.6M272.2,515.9L299.2,533.6M295.3,486.1L345.6,504.8M212.0,482.8L237.0,498.0M189.3,468.5L230.2,495.3M316.3,491.0L364.0,497.8M195.3,448.5L277.3,468.0M238.8,476.7L317.7,512.6M167.7,444.5L222.1,461.8M310.1,537.3L349.0,563.3M248.1,459.4L278.9,466.5M275.3,521.6L360.4,568.8M214.7,464.6L254.1,479.1M281.7,479.7L340.4,500.4M266.0,479.7L330.8,505.8M297.6,533.7L327.9,559.8M264.6,509.7L300.7,533.2M293.4,529.5L364.0,556.4M245.6,467.6L305.3,486.8M269.5,493.4L355.4,532.3M265.5,471.4L310.9,485.5M309.6,530.5L336.4,549.0M246.1,482.0L330.0,524.0M242.5,462.2L296.9,476.9M286.0,521.8L357.8,562.7M175.4,455.6L238.0,490.1M271.5,519.8L317.7,555.7M264.6,471.9L324.8,491.6M267.7,514.5L304.6,540.1M271.3,481.1L342.0,508.9M205.4,467.1L286.2,505.0M280.5,515.9L362.6,551.4M202.0,472.7L252.5,501.1M265.6,464.9L302.5,473.9M201.9,471.3L236.7,490.5M271.8,509.8L328.6,549.3M248.1,492.7L301.7,522.6" stroke="#383838" stroke-width="0.6" stroke-opacity="0.75" fill="none"/>
<path d="M225.2,467.9L294.5,494.2" stroke="#77ee39" stroke-width="0.6" stroke-opacity="0.75" fill="none"/>
<path d="M217.5,482.5L304.1,534.6M318.8,529.7L364.0,535.8M248.0,495.2L317.0,538.3M245.9,493.4L289.1,517.5" stroke="#f6881c" stroke-width="0.6" stroke-opacity="0.75" fill="none"/>
<path d="M227.4,472.5L269.9,490.0M234.4,468.3L291.9,488.6" stroke="#8aef2e" stroke-width="0.6" stroke-opacity="0.75" fill="none"/>
<path d="M247.8,505.9L302.9,544.1M276.7,517.8L315.9,546.4M273.8,514.5L326.0,552.7M257.6,506.5L296.8,531.6M286.7,530.6L325.0,562.9M315.3,556.4L344.1,579.4M270.8,518.3L308.7,546.1" stroke="#d72d14" stroke-width="0.6" stroke-opacity="0.75" fill="none"/>
<path d="M220.4,489.0L259.4,512.2" stroke="#f1661a" stroke-width="0.6" stroke-opacity="0.75" fill="none"/>
<path d="M257.3,501.2L346.2,559.7" stroke="#dd3715" stroke-width="0.6" stroke-opacity="0.75" fill="none"/>
<path d="M168.6,442.2L224.4,454.3M230.9,454.6L309.7,471.9" stroke="#29e1bd" stroke-width="0.6" stroke-opacity="0.75" fill="none"/>
<path d="M178.3,451.2L223.5,469.3" stroke="#3deb59" stroke-width="0.6" stroke-opacity="0.75" fill="none"/>
<path d="M196.1,460.9L272.3,494.2M244.5,475.6L306.8,501.0" stroke="#94ef28" stroke-width="0.6" stroke-opacity="0.75" fill="none"/>
<path d="M227.6,464.0L302.3,489.0M213.6,463.4L254.0,478.0" stroke="#54ec4c" stroke-width="0.6" stroke-opacity="0.75" fill="none"/>
<path d="M185.3,464.5L266.4,514.0" stroke="#f9b81e" stroke-width="0.6" stroke-opacity="0.75" fill="none"/>
<path d="M228.3,478.6L259.6,492.7M222.2,468.5L283.4,492.6" stroke="#c9f021" stroke-width="0.6" stroke-opacity="0.75" fill="none"/>
<path d="M187.6,449.4L226.0,460.3" stroke="#32e68d" stroke-width="0.6" stroke-opacity="0.75" fill="none"/>
<path d="M296.1,524.8L328.8,550.0" stroke="#e24216" stroke-width="0.6" stroke-opacity="0.75" fill="none"/>
<path d="M209.6,452.2L272.7,467.6" stroke="#28d9d8" stroke-width="0.6" stroke-opacity="0.75" fill="none"/>
<path d="M292.5,495.1L343.4,518.6" stroke="#bef022" stroke-width="0.6" stroke-opacity="0.75" fill="none"/>
<path d="M301.3,476.4L364.0,487.1" stroke="#3aea63" stroke-width="0.6" stroke-opacity="0.75" fill="none"/>
<path d="M213.3,465.9L280.8,493.2" stroke="#b4f023" stroke-width="0.6" stroke-opacity="0.75" fill="none"/>
<path d="M210.9,458.4L284.8,482.2" stroke="#37e874" stroke-width="0.6" stroke-opacity="0.75" fill="none"/>
<path d="M267.0,485.3L331.7,514.9M302.2,498.3L332.8,512.9" stroke="#b6f023" stroke-width="0.6" stroke-opacity="0.75" fill="none"/>
<path d="M318.0,525.1L364.0,531.6" stroke="#f9d01e" stroke-width="0.6" stroke-opacity="0.75" fill="none"/>
<path d="M268.1,473.4L304.2,484.9M309.7,494.5L361.2,505.9" stroke="#63ed44" stroke-width="0.6" stroke-opacity="0.75" fill="none"/>
<path d="M299.3,522.9L339.3,550.9" stroke="#f05c19" stroke-width="0.6" stroke-opacity="0.75" fill="none"/>
<path d="M182.4,452.3L242.0,475.1M185.5,452.3L270.1,482.6" stroke="#40eb57" stroke-width="0.6" stroke-opacity="0.75" fill="none"/>
<path d="M280.9,507.7L316.7,530.0" stroke="#f6871c" stroke-width="0.6" stroke-opacity="0.75" fill="none"/>
<path d="M281.0,478.2L354.1,499.8" stroke="#59ec49" stroke-width="0.6" stroke-opacity="0.75" fill="none"/>
<path d="M262.9,495.1L337.6,537.9M287.9,516.7L352.4,555.0M273.0,502.6L336.0,540.8" stroke="#f8a41e" stroke-width="0.6" stroke-opacity="0.75" fill="none"/>
<path d="M282.3,484.3L364.0,504.7M289.8,495.3L322.4,511.3" stroke="#b0f024" stroke-width="0.6" stroke-opacity="0.75" fill="none"/>
<path d="M236.4,463.1L269.8,472.7" stroke="#30e598" stroke-width="0.6" stroke-opacity="0.75" fill="none"/>
<path d="M207.4,457.3L269.6,477.2M285.8,486.0L364.0,505.3M197.8,458.8L225.0,469.5" stroke="#6aed40" stroke-width="0.6" stroke-opacity="0.75" fill="none"/>
<path d="M191.3,457.6L221.1,470.3M213.6,463.6L241.5,473.8M194.6,455.6L237.0,470.7" stroke="#67ed41" stroke-width="0.6" stroke-opacity="0.75" fill="none"/>
<path d="M216.1,451.7L273.2,464.4M222.3,454.5L289.3,470.5" stroke="#28dad7" stroke-width="0.6" stroke-opacity="0.75" fill="none"/>
<path d="M247.6,485.4L313.8,519.4M211.3,476.3L243.7,493.5M316.6,525.1L364.0,532.6" stroke="#f5db1e" stroke-width="0.6" stroke-opacity="0.75" fill="none"/>
<path d="M256.2,468.3L284.2,476.6" stroke="#2fe49d" stroke-width="0.6" stroke-opacity="0.75" fill="none"/>
<path d="M282.1,480.1L317.4,492.7" stroke="#64ed43" stroke-width="0.6" stroke-opacity="0.75" fill="none"/>
<path d="M251.8,477.0L289.6,491.7M302.1,499.6L351.4,519.9" stroke="#a7f025" stroke-width="0.6" stroke-opacity="0.75" fill="none"/>
<path d="M291.4,512.0L321.7,531.7" stroke="#f89c1e" stroke-width="0.6" stroke-opacity="0.75" fill="none"/>
<path d="M188.3,464.2L218.9,482.4M277.5,500.4L302.7,513.6M242.4,485.4L303.7,516.7M172.5,457.4L208.9,482.1" stroke="#e8e81e" stroke-width="0.6" stroke-opacity="0.75" fill="none"/>
<path d="M300.0,481.4L364.0,493.5" stroke="#53ec4c" stroke-width="0.6" stroke-opacity="0.75" fill="none"/>
<path d="M217.7,473.9L246.1,486.8M311.3,508.4L338.0,521.7M316.3,502.1L364.0,509.1" stroke="#c7f021" stroke-width="0.6" stroke-opacity="0.75" fill="none"/>
<path d="M166.9,449.9L216.4,477.5M197.4,464.2L250.2,489.2" stroke="#bcf022" stroke-width="0.6" stroke-opacity="0.75" fill="none"/>
<path d="M291.7,473.0L364.0,486.0" stroke="#3bea5b" stroke-width="0.6" stroke-opacity="0.75" fill="none"/>
<path d="M311.3,484.6L364.0,492.9M263.2,477.1L309.6,494.3" stroke="#66ed42" stroke-width="0.6" stroke-opacity="0.75" fill="none"/>
<path d="M231.3,459.6L261.0,467.4" stroke="#2fe49f" stroke-width="0.6" stroke-opacity="0.75" fill="none"/>
<path d="M216.9,462.8L263.1,478.6M253.8,471.0L292.3,483.6" stroke="#85ef31" stroke-width="0.6" stroke-opacity="0.75" fill="none"/>
<path d="M259.6,503.7L320.2,544.8M302.5,539.8L337.2,568.5" stroke="#e54716" stroke-width="0.6" stroke-opacity="0.75" fill="none"/>
<path d="M246.2,468.5L335.7,499.0" stroke="#48eb53" stroke-width="0.6" stroke-opacity="0.75" fill="none"/>
<path d="M252.9,467.3L306.2,483.3" stroke="#44eb55" stroke-width="0.6" stroke-opacity="0.75" fill="none"/>
<path d="M254.9,472.5L307.9,491.0M212.3,460.6L250.5,473.4" stroke="#3bea5d" stroke-width="0.6" stroke-opacity="0.75" fill="none"/>
<path d="M310.2,511.9L364.0,522.8M262.6,487.6L326.6,519.7" stroke="#d0f020" stroke-width="0.6" stroke-opacity="0.75" fill="none"/>
<path d="M289.1,480.5L322.8,492.3" stroke="#77ee38" stroke-width="0.6" stroke-opacity="0.75" fill="none"/>
<path d="M204.8,474.5L272.1,512.9M193.2,467.6L264.5,508.4" stroke="#f8b31e" stroke-width="0.6" stroke-opacity="0.75" fill="none"/>
<path d="M249.2,500.9L289.5,525.7M254.8,504.3L336.7,562.5" stroke="#f26c1a" stroke-width="0.6" stroke-opacity="0.75" fill="none"/>
<path d="M246.3,477.8L276.0,489.7" stroke="#9af027" stroke-width="0.6" stroke-opacity="0.75" fill="none"/>
<path d="M194.3,455.3L270.9,482.5" stroke="#3ceb59" stroke-width="0.6" stroke-opacity="0.75" fill="none"/>
<path d="M194.4,448.4L222.6,454.9" stroke="#28dcd2" stroke-width="0.6" stroke-opacity="0.75" fill="none"/>
<path d="M204.5,476.8L267.0,514.4" stroke="#f9b71e" stroke-width="0.6" stroke-opacity="0.75" fill="none"/>
<path d="M218.4,455.8L252.7,464.7" stroke="#2ce3b0" stroke-width="0.6" stroke-opacity="0.75" fill="none"/>
<path d="M223.8,485.4L272.2,512.6" stroke="#f9be1e" stroke-width="0.6" stroke-opacity="0.75" fill="none"/>
<path d="M285.9,501.6L312.3,515.9M249.7,487.2L304.4,514.9" stroke="#e5eb1e" stroke-width="0.6" stroke-opacity="0.75" fill="none"/>
<path d="M282.9,505.5L312.5,522.8M247.9,487.3L329.5,532.4" stroke="#eee21e" stroke-width="0.6" stroke-opacity="0.75" fill="none"/>
<path d="M272.2,489.0L360.5,520.1M186.1,460.0L242.5,488.8" stroke="#ccf020" stroke-width="0.6" stroke-opacity="0.75" fill="none"/>
<path d="M284.0,522.6L364.0,555.2M250.0,505.0L309.7,546.9" stroke="#ed5518" stroke-width="0.6" stroke-opacity="0.75" fill="none"/>
<path d="M207.4,475.0L248.2,497.3" stroke="#f9c61e" stroke-width="0.6" stroke-opacity="0.75" fill="none"/>
<path d="M180.9,450.3L262.8,479.0M287.2,487.0L364.0,505.9" stroke="#5fec46" stroke-width="0.6" stroke-opacity="0.75" fill="none"/>
<path d="M233.9,474.0L260.0,484.2" stroke="#bbf023" stroke-width="0.6" stroke-opacity="0.75" fill="none"/>
<path d="M175.6,455.8L260.7,502.3" stroke="#e6ea1e" stroke-width="0.6" stroke-opacity="0.75" fill="none"/>
<path d="M178.2,461.2L204.5,479.0" stroke="#ece41e" stroke-width="0.6" stroke-opacity="0.75" fill="none"/>
<path d="M194.8,469.0L277.2,517.4" stroke="#f8b21e" stroke-width="0.6" stroke-opacity="0.75" fill="none"/>
<path d="M272.1,511.6L362.0,553.6" stroke="#e34316" stroke-width="0.6" stroke-opacity="0.75" fill="none"/>
<path d="M281.5,518.8L331.6,555.8M229.8,492.4L297.9,535.0" stroke="#f3771b" stroke-width="0.6" stroke-opacity="0.75" fill="none"/>
<path d="M203.8,464.5L292.9,504.1" stroke="#aff024" stroke-width="0.6" stroke-opacity="0.75" fill="none"/>
<path d="M281.0,473.0L359.9,490.9M185.7,449.1L239.0,464.5" stroke="#31e591" stroke-width="0.6" stroke-opacity="0.75" fill="none"/>
<path d="M216.0,456.5L249.4,465.6M255.8,466.1L330.2,487.6" stroke="#33e68a" stroke-width="0.6" stroke-opacity="0.75" fill="none"/>
<path d="M175.9,453.1L237.1,482.3" stroke="#b8f023" stroke-width="0.6" stroke-opacity="0.75" fill="none"/>
<path d="M286.7,488.7L337.7,510.4M236.3,476.2L301.8,504.8M175.9,455.9L209.8,475.0" stroke="#c6f021" stroke-width="0.6" stroke-opacity="0.75" fill="none"/>
<path d="M251.0,467.2L317.7,488.0" stroke="#33e688" stroke-width="0.6" stroke-opacity="0.75" fill="none"/>
<path d="M294.8,469.9L339.2,480.1" stroke="#28dfcb" stroke-width="0.6" stroke-opacity="0.75" fill="none"/>
<path d="M203.8,468.1L264.0,497.3M165.3,451.1L195.6,471.8M183.7,462.4L225.3,487.7" stroke="#d8f01f" stroke-width="0.6" stroke-opacity="0.75" fill="none"/>
<path d="M290.7,525.1L356.5,563.7" stroke="#df3c15" stroke-width="0.6" stroke-opacity="0.75" fill="none"/>
<path d="M168.2,448.3L232.6,477.4M247.5,471.7L312.4,495.4" stroke="#7bee36" stroke-width="0.6" stroke-opacity="0.75" fill="none"/>
<path d="M216.0,457.3L303.1,483.0" stroke="#46eb54" stroke-width="0.6" stroke-opacity="0.75" fill="none"/>
<path d="M268.5,479.4L315.8,497.6" stroke="#6fed3d" stroke-width="0.6" stroke-opacity="0.75" fill="none"/>
<path d="M179.3,447.0L229.7,461.3" stroke="#36e875" stroke-width="0.6" stroke-opacity="0.75" fill="none"/>
<path d="M185.1,465.6L273.2,521.9" stroke="#f7941d" stroke-width="0.6" stroke-opacity="0.75" fill="none"/>
<path d="M303.9,496.3L343.8,513.4M208.0,464.4L287.6,497.4" stroke="#bbf022" stroke-width="0.6" stroke-opacity="0.75" fill="none"/>
<path d="M309.5,529.1L363.8,542.3" stroke="#f47b1b" stroke-width="0.6" stroke-opacity="0.75" fill="none"/>
<path d="M276.3,494.5L315.4,514.3" stroke="#caf020" stroke-width="0.6" stroke-opacity="0.75" fill="none"/>
<path d="M209.7,467.9L274.3,496.7" stroke="#e0f01e" stroke-width="0.6" stroke-opacity="0.75" fill="none"/>
<path d="M173.8,443.2L200.9,449.0" stroke="#28d5e1" stroke-width="0.6" stroke-opacity="0.75" fill="none"/>
<path d="M282.8,489.4L357.4,516.0" stroke="#a4f026" stroke-width="0.6" stroke-opacity="0.75" fill="none"/>
<path d="M196.1,461.3L248.1,484.0" stroke="#b5f023" stroke-width="0.6" stroke-opacity="0.75" fill="none"/>
<path d="M200.9,468.2L284.7,511.7" stroke="#f9d21e" stroke-width="0.6" stroke-opacity="0.75" fill="none"/>
<path d="M246.9,458.6L286.4,467.5" stroke="#28d9d9" stroke-width="0.6" stroke-opacity="0.75" fill="none"/>
<path d="M252.9,468.0L322.8,490.1" stroke="#33e689" stroke-width="0.6" stroke-opacity="0.75" fill="none"/>
<path d="M188.8,460.9L276.0,504.8" stroke="#d3f01f" stroke-width="0.6" stroke-opacity="0.75" fill="none"/>
<path d="M317.7,532.0L364.0,538.8M207.5,476.1L275.8,515.2" stroke="#f8991e" stroke-width="0.6" stroke-opacity="0.75" fill="none"/>
<path d="M175.0,446.4L214.5,458.4" stroke="#34e784" stroke-width="0.6" stroke-opacity="0.75" fill="none"/>
<path d="M193.6,455.2L265.7,480.9M272.8,478.1L348.6,504.8" stroke="#41eb56" stroke-width="0.6" stroke-opacity="0.75" fill="none"/>
<path d="M313.9,495.3L364.0,503.1" stroke="#5dec47" stroke-width="0.6" stroke-opacity="0.75" fill="none"/>
<path d="M240.5,487.7L304.2,522.3" stroke="#f9bc1e" stroke-width="0.6" stroke-opacity="0.75" fill="none"/>
<path d="M240.0,491.6L327.7,547.6" stroke="#ec5218" stroke-width="0.6" stroke-opacity="0.75" fill="none"/>
<path d="M240.9,462.0L290.7,475.5" stroke="#45eb54" stroke-width="0.6" stroke-opacity="0.75" fill="none"/>
<path d="M248.9,479.2L322.9,512.6" stroke="#e9e71e" stroke-width="0.6" stroke-opacity="0.75" fill="none"/>
<path d="M194.3,461.7L281.3,502.6M175.7,458.4L216.8,484.9M185.6,461.9L243.9,494.4" stroke="#e3ed1e" stroke-width="0.6" stroke-opacity="0.75" fill="none"/>
<path d="M258.5,471.8L297.0,484.2" stroke="#5cec47" stroke-width="0.6" stroke-opacity="0.75" fill="none"/>
<path d="M291.3,486.7L340.3,505.8" stroke="#65ed42" stroke-width="0.6" stroke-opacity="0.75" fill="none"/>
<path d="M211.7,461.6L278.6,485.4M280.5,485.5L334.6,507.8" stroke="#83ee32" stroke-width="0.6" stroke-opacity="0.75" fill="none"/>
<path d="M222.8,452.7L271.5,463.3" stroke="#28d8db" stroke-width="0.6" stroke-opacity="0.75" fill="none"/>
<path d="M280.3,485.1L364.0,506.9M269.0,484.7L351.1,518.4" stroke="#caf021" stroke-width="0.6" stroke-opacity="0.75" fill="none"/>
<path d="M200.8,465.3L245.8,486.3M180.0,460.1L220.7,485.1" stroke="#def01e" stroke-width="0.6" stroke-opacity="0.75" fill="none"/>
<path d="M239.7,460.2L316.0,480.2" stroke="#36e876" stroke-width="0.6" stroke-opacity="0.75" fill="none"/>
<path d="M289.5,504.3L340.2,532.6M288.6,504.5L350.4,536.5M220.5,477.4L284.9,509.7" stroke="#f9c01e" stroke-width="0.6" stroke-opacity="0.75" fill="none"/>
<path d="M318.0,476.0L364.0,481.9" stroke="#28d5e0" stroke-width="0.6" stroke-opacity="0.75" fill="none"/>
<path d="M205.1,459.8L250.6,476.1" stroke="#52ec4d" stroke-width="0.6" stroke-opacity="0.75" fill="none"/>
<path d="M182.5,453.0L246.4,478.3" stroke="#8eef2c" stroke-width="0.6" stroke-opacity="0.75" fill="none"/>
<path d="M271.3,500.4L316.9,527.1" stroke="#f9c41e" stroke-width="0.6" stroke-opacity="0.75" fill="none"/>
<path d="M208.5,466.1L296.1,504.4M268.7,484.5L348.2,518.6" stroke="#e4ec1e" stroke-width="0.6" stroke-opacity="0.75" fill="none"/>
<path d="M318.3,488.3L361.0,495.3" stroke="#74ee3a" stroke-width="0.6" stroke-opacity="0.75" fill="none"/>
<path d="M167.4,442.5L198.1,449.9" stroke="#28d7dd" stroke-width="0.6" stroke-opacity="0.75" fill="none"/>
<path d="M307.7,527.7L364.0,541.9" stroke="#f26a1a" stroke-width="0.6" stroke-opacity="0.75" fill="none"/>
<path d="M224.7,459.8L252.8,467.8" stroke="#30e59b" stroke-width="0.6" stroke-opacity="0.75" fill="none"/>
<path d="M308.1,507.5L356.2,525.3" stroke="#eae61e" stroke-width="0.6" stroke-opacity="0.75" fill="none"/>
<path d="M171.6,446.8L210.7,460.3" stroke="#33e686" stroke-width="0.6" stroke-opacity="0.75" fill="none"/>
<path d="M196.3,467.0L232.4,486.6" stroke="#dff01e" stroke-width="0.6" stroke-opacity="0.75" fill="none"/>
<path d="M280.3,504.1L364.0,532.9" stroke="#f9bf1e" stroke-width="0.6" stroke-opacity="0.75" fill="none"/>
<path d="M316.0,537.7L364.0,546.0" stroke="#e44516" stroke-width="0.6" stroke-opacity="0.75" fill="none"/>
<path d="M243.9,466.4L285.3,479.0" stroke="#35e77f" stroke-width="0.6" stroke-opacity="0.75" fill="none"/>
<path d="M219.1,480.9L299.5,525.8" stroke="#f5841c" stroke-width="0.6" stroke-opacity="0.75" fill="none"/>
<path d="M197.5,465.6L240.6,487.1M222.1,475.0L269.6,496.7" stroke="#c0f022" stroke-width="0.6" stroke-opacity="0.75" fill="none"/>
<path d="M290.0,474.0L360.4,488.7" stroke="#2be2b4" stroke-width="0.6" stroke-opacity="0.75" fill="none"/>
<path d="M311.3,492.6L364.0,501.4" stroke="#5aec49" stroke-width="0.6" stroke-opacity="0.75" fill="none"/>
<path d="M281.8,525.0L347.2,575.2" stroke="#d93214" stroke-width="0.6" stroke-opacity="0.75" fill="none"/>
<path d="M168.8,443.7L227.0,459.7" stroke="#2ee4a6" stroke-width="0.6" stroke-opacity="0.75" fill="none"/>
<path d="M268.1,487.1L354.3,522.7" stroke="#cef020" stroke-width="0.6" stroke-opacity="0.75" fill="none"/>
<path d="M240.4,480.0L265.6,490.9" stroke="#acf024" stroke-width="0.6" stroke-opacity="0.75" fill="none"/>
<path d="M183.5,457.7L219.0,475.7" stroke="#9bf027" stroke-width="0.6" stroke-opacity="0.75" fill="none"/>
<path d="M256.4,468.9L286.8,478.1" stroke="#34e782" stroke-width="0.6" stroke-opacity="0.75" fill="none"/>
<path d="M278.4,499.4L341.5,533.9" stroke="#f9b61e" stroke-width="0.6" stroke-opacity="0.75" fill="none"/>
<path d="M234.5,486.8L307.8,528.5" stroke="#f9ce1e" stroke-width="0.6" stroke-opacity="0.75" fill="none"/>
<path d="M222.9,462.4L272.6,478.3" stroke="#37e873" stroke-width="0.6" stroke-opacity="0.75" fill="none"/>
<path d="M167.9,446.6L207.5,462.4" stroke="#3bea5e" stroke-width="0.6" stroke-opacity="0.75" fill="none"/>
<path d="M229.0,484.9L280.2,512.5" stroke="#f8a71e" stroke-width="0.6" stroke-opacity="0.75" fill="none"/>
<path d="M213.9,451.0L259.7,461.1M217.5,452.4L250.0,459.7" stroke="#28d6df" stroke-width="0.6" stroke-opacity="0.75" fill="none"/>
<path d="M297.2,501.6L364.0,519.3" stroke="#e2ee1e" stroke-width="0.6" stroke-opacity="0.75" fill="none"/>
<path d="M254.9,484.0L327.4,519.6" stroke="#c1f022" stroke-width="0.6" stroke-opacity="0.75" fill="none"/>
<path d="M247.2,462.0L286.2,472.0" stroke="#36e87a" stroke-width="0.6" stroke-opacity="0.75" fill="none"/>
<path d="M204.4,473.5L289.0,521.6M218.5,478.0L262.7,500.0" stroke="#f9d71e" stroke-width="0.6" stroke-opacity="0.75" fill="none"/>
<path d="M218.8,461.2L296.4,486.7" stroke="#50ec4e" stroke-width="0.6" stroke-opacity="0.75" fill="none"/>
<path d="M179.9,459.8L237.4,493.7" stroke="#ede31e" stroke-width="0.6" stroke-opacity="0.75" fill="none"/>
<path d="M290.5,519.0L350.9,556.6" stroke="#f5801c" stroke-width="0.6" stroke-opacity="0.75" fill="none"/>
<path d="M305.0,509.0L360.1,526.9" stroke="#d9f01e" stroke-width="0.6" stroke-opacity="0.75" fill="none"/>
<path d="M198.0,459.2L277.2,490.8" stroke="#9ef026" stroke-width="0.6" stroke-opacity="0.75" fill="none"/>
<path d="M218.4,484.0L272.5,515.2" stroke="#f9bb1e" stroke-width="0.6" stroke-opacity="0.75" fill="none"/>
<path d="M224.5,482.3L278.4,510.9" stroke="#f3dd1e" stroke-width="0.6" stroke-opacity="0.75" fill="none"/>
<path d="M204.3,459.0L244.9,473.4" stroke="#4eec4f" stroke-width="0.6" stroke-opacity="0.75" fill="none"/>
<path d="M173.0,444.5L219.2,456.6" stroke="#32e68e" stroke-width="0.6" stroke-opacity="0.75" fill="none"/>
<path d="M222.5,462.5L282.4,482.0" stroke="#73ee3a" stroke-width="0.6" stroke-opacity="0.75" fill="none"/>
<path d="M275.8,514.0L317.0,542.9" stroke="#f05f19" stroke-width="0.6" stroke-opacity="0.75" fill="none"/>
<path d="M227.4,458.6L281.5,473.2" stroke="#31e595" stroke-width="0.6" stroke-opacity="0.75" fill="none"/>
<path d="M241.1,468.4L327.5,499.4" stroke="#84ef31" stroke-width="0.6" stroke-opacity="0.75" fill="none"/>
<path d="M273.3,507.1L334.1,546.7" stroke="#f7931d" stroke-width="0.6" stroke-opacity="0.75" fill="none"/>
<path d="M313.2,476.3L364.0,483.4" stroke="#28decd" stroke-width="0.6" stroke-opacity="0.75" fill="none"/>
<path d="M184.0,462.0L220.4,483.9" stroke="#cff020" stroke-width="0.6" stroke-opacity="0.75" fill="none"/>
<path d="M173.3,449.7L234.8,475.1M304.4,486.9L364.0,498.1" stroke="#78ee38" stroke-width="0.6" stroke-opacity="0.75" fill="none"/>
<path d="M170.3,450.5L199.2,464.6" stroke="#81ee33" stroke-width="0.6" stroke-opacity="0.75" fill="none"/>
<path d="M183.7,447.1L219.9,456.4" stroke="#32e68f" stroke-width="0.6" stroke-opacity="0.75" fill="none"/>
<path d="M165.9,448.4L226.9,479.9" stroke="#baf023" stroke-width="0.6" stroke-opacity="0.75" fill="none"/>
<path d="M306.5,493.5L364.0,504.6" stroke="#9ff026" stroke-width="0.6" stroke-opacity="0.75" fill="none"/>
<path d="M310.3,486.4L364.0,495.1" stroke="#35e780" stroke-width="0.6" stroke-opacity="0.75" fill="none"/>
<path d="M214.7,467.5L279.3,494.4" stroke="#d6f01f" stroke-width="0.6" stroke-opacity="0.75" fill="none"/>
<path d="M307.2,509.3L343.2,528.0" stroke="#f8d81e" stroke-width="0.6" stroke-opacity="0.75" fill="none"/>
<path d="M257.5,466.2L302.6,478.6" stroke="#29e1bf" stroke-width="0.6" stroke-opacity="0.75" fill="none"/>
<path d="M263.1,468.0L316.6,483.4" stroke="#2ee4a4" stroke-width="0.6" stroke-opacity="0.75" fill="none"/>
<path d="M268.9,510.6L345.1,563.6" stroke="#f5831c" stroke-width="0.6" stroke-opacity="0.75" fill="none"/>
<path d="M317.6,506.6L364.0,513.1" stroke="#b2f024" stroke-width="0.6" stroke-opacity="0.75" fill="none"/>
<path d="M250.6,504.6L283.1,525.4" stroke="#ee5618" stroke-width="0.6" stroke-opacity="0.75" fill="none"/>
<path d="M166.6,448.1L194.2,461.9" stroke="#6eed3d" stroke-width="0.6" stroke-opacity="0.75" fill="none"/>
<path d="M167.2,447.4L228.5,474.5" stroke="#71ed3c" stroke-width="0.6" stroke-opacity="0.75" fill="none"/>
<path d="M251.6,460.1L336.1,479.6" stroke="#2ce3af" stroke-width="0.6" stroke-opacity="0.75" fill="none"/>
<path d="M219.3,455.3L298.8,475.9" stroke="#28e1c7" stroke-width="0.6" stroke-opacity="0.75" fill="none"/>
<path d="M230.0,491.7L287.8,527.0" stroke="#f3741b" stroke-width="0.6" stroke-opacity="0.75" fill="none"/>
<path d="M171.3,452.3L238.8,487.6" stroke="#a6f025" stroke-width="0.6" stroke-opacity="0.75" fill="none"/>
<path d="M284.0,486.4L322.4,502.4" stroke="#95ef28" stroke-width="0.6" stroke-opacity="0.75" fill="none"/>
<path d="M240.2,498.5L281.1,523.9" stroke="#f26f1a" stroke-width="0.6" stroke-opacity="0.75" fill="none"/>
<path d="M292.3,469.1L364.0,480.9" stroke="#28dad5" stroke-width="0.6" stroke-opacity="0.75" fill="none"/>
<path d="M236.2,491.3L274.1,512.7" stroke="#f8a91e" stroke-width="0.6" stroke-opacity="0.75" fill="none"/>
<path d="M222.7,460.5L277.2,477.0" stroke="#32e68b" stroke-width="0.6" stroke-opacity="0.75" fill="none"/>
<path d="M233.2,491.5L283.1,520.8" stroke="#f8a11e" stroke-width="0.6" stroke-opacity="0.75" fill="none"/>
<polygon points="335.0,478.0 350.0,470.0 365.0,462.0 380.0,456.0 404.0,455.0 404.0,494.0 380.0,494.0 365.0,498.0 350.0,500.0 335.0,492.0" fill="#30c0f0" fill-opacity="0.5"/>
<path d="M336.7,477.5l-3.3,16.3M338.0,475.8l-3.9,19.5M339.2,475.8l-3.7,18.5M339.8,474.5l-3.9,19.3M341.1,473.9l-4.6,23.1M341.8,473.8l-3.8,19.0M343.4,474.0l-4.9,24.7M344.1,472.2l-4.7,23.6M345.0,471.9l-5.6,28.1M345.9,471.5l-5.6,28.2M346.7,472.6l-5.1,25.3M348.0,470.7l-5.6,28.1M348.7,469.7l-6.4,31.8M349.8,470.7l-5.5,27.5M351.4,470.1l-6.3,31.3M352.2,469.0l-6.4,32.1M352.7,468.5l-6.6,33.1M353.8,468.8l-6.6,33.0M354.9,467.1l-6.4,31.9M355.9,467.8l-6.1,30.7M356.6,465.7l-7.0,34.8M358.4,465.5l-6.7,33.3M359.0,465.7l-6.3,31.5M360.1,464.7l-6.9,34.7M360.7,463.6l-6.8,34.0M362.3,463.1l-7.2,35.8M362.8,462.4l-6.7,33.3M364.3,463.0l-6.9,34.4M365.1,462.3l-7.6,38.1M366.4,461.3l-7.9,39.3M367.4,461.2l-7.7,38.4M368.0,460.6l-7.0,35.1M369.3,459.6l-6.9,34.7M370.2,460.5l-7.2,36.1M371.3,458.6l-7.3,36.3M371.8,459.1l-7.0,35.1M372.7,458.6l-7.9,39.7M374.4,458.7l-7.3,36.6M374.8,459.0l-7.3,36.5M376.2,456.6l-7.3,36.7M377.3,457.7l-7.9,39.3M378.1,456.6l-7.7,38.4M379.3,455.9l-7.7,38.5M379.8,456.6l-6.9,34.5M381.1,456.9l-6.9,34.3M382.1,456.2l-8.0,39.9M383.1,455.4l-7.6,38.0M384.4,456.6l-7.0,35.2M384.7,455.0l-7.2,36.2M386.0,455.0l-8.2,41.2M387.1,455.0l-7.9,39.3M387.9,455.7l-7.3,36.7M388.7,455.0l-7.7,38.3M390.2,455.7l-7.1,35.6M391.2,456.3l-7.9,39.4M392.2,454.5l-7.9,39.3M392.7,456.0l-7.2,36.1M394.2,454.9l-8.1,40.3M394.9,454.5l-7.8,38.9M395.8,456.1l-7.3,36.6M397.0,455.4l-8.3,41.3M397.7,455.5l-7.7,38.6M399.2,456.1l-7.3,36.7M400.2,455.2l-7.8,39.2M400.7,455.8l-8.2,41.1M401.9,454.7l-8.4,42.2M402.7,454.2l-7.4,37.2M404.3,455.5l-7.6,38.2" stroke="#28b8f0" stroke-opacity="0.8" stroke-width="0.8" fill="none"/>
<path d="M372.7,470.6l0.0,31.6M373.5,469.8l0.0,29.6M376.5,468.5l0.0,29.3M378.5,468.4l0.0,30.8M380.0,468.0l0.0,32.7M382.9,468.5l0.0,32.1M385.0,467.4l0.0,33.5M387.6,468.3l0.0,31.4M390.4,467.3l0.0,33.0M391.6,467.6l0.0,32.1M393.7,466.4l0.0,32.1M396.6,467.1l0.0,31.1M398.7,466.0l0.0,30.4M400.3,467.1l0.0,29.3M402.1,465.4l0.0,29.9" stroke="#3050d8" stroke-opacity="0.6" stroke-width="0.7" fill="none"/>
<path d="M205.5,447.5l0.3,2.9M206.8,447.9l0.3,3.4M207.8,448.4l0.8,7.6M208.6,449.9l0.3,3.0M210.3,450.2l0.5,5.2M211.9,450.1l0.2,1.9M213.2,450.1l0.4,3.7M213.8,450.8l0.5,4.8M215.9,451.1l0.7,7.2M216.8,451.2l0.5,5.3M217.7,451.9l0.3,3.0M219.6,452.3l0.5,5.0M220.2,452.2l0.5,5.4M221.6,451.0l0.6,6.1M222.7,453.0l0.4,4.2M224.5,452.3l0.6,6.1M226.2,452.5l0.5,4.6M227.2,452.7l0.6,6.0M228.4,453.3l0.6,6.2M229.7,452.9l0.9,8.8M230.8,453.8l0.5,4.6M232.7,455.3l0.4,4.2M233.5,453.7l0.8,8.2M234.6,454.9l0.4,4.0M236.0,454.8l0.3,3.4M237.0,455.4l0.7,6.7M239.0,455.2l0.7,6.8M239.6,455.7l0.7,7.1M241.8,456.3l0.7,7.1M242.7,456.7l0.5,5.4M244.5,457.5l0.4,4.3M245.5,457.5l0.4,3.8M246.9,458.2l0.5,4.9M248.4,456.9l0.6,5.9M249.3,457.8l0.3,3.3M250.7,458.3l0.4,3.6M251.3,459.5l0.3,3.1M252.7,458.3l0.4,4.0M254.8,458.7l0.4,4.2M255.3,459.4l0.3,3.2M256.8,460.3l0.7,6.9M258.6,459.3l0.5,5.0M260.0,459.6l0.4,4.0M260.9,460.5l0.7,6.5M262.4,461.0l0.3,3.3M263.2,460.8l0.3,2.6M265.0,460.9l0.8,7.8M266.3,461.0l0.6,5.6M267.5,461.3l0.6,5.6M268.2,462.9l0.1,1.2M270.1,463.8l0.6,5.8M271.0,463.1l0.2,2.5M272.4,464.0l0.6,5.9M273.4,463.3l0.6,5.8M274.9,464.5l0.6,6.4M276.6,464.0l0.7,7.0M277.8,463.9l0.4,3.9M278.7,465.4l0.4,4.0M280.6,465.8l0.7,6.8M281.4,465.1l0.7,7.0M283.3,465.5l0.6,5.7M284.0,465.2l0.3,2.5M285.5,465.7l0.5,5.2M287.4,466.0l0.6,5.6M288.6,467.2l0.4,4.5M289.8,466.3l0.8,8.2M291.0,468.1l0.6,5.8M291.7,466.8l0.3,3.4M293.4,468.9l0.6,6.1M294.6,468.5l0.6,5.7M295.8,469.5l0.6,6.2M297.5,469.7l0.6,5.5M298.8,468.8l0.4,3.6M299.6,468.5l0.8,8.0M301.0,468.7l0.4,4.4M302.1,469.8l0.4,3.6M303.5,470.1l0.4,4.1M304.9,471.1l0.3,2.8M306.4,471.6l0.7,6.5M307.6,470.1l0.8,8.2M309.0,470.8l0.3,2.9M310.0,471.2l0.3,2.8M311.1,472.8l0.5,5.5M312.5,472.1l0.6,6.4M314.2,471.6l0.4,4.5M315.4,473.5l0.4,4.2M316.8,473.3l0.2,1.6M318.3,473.9l0.5,5.0M319.3,473.1l0.2,2.1M320.3,473.1l0.5,5.0M322.3,473.6l0.5,5.0M323.4,474.7l0.1,1.5M325.0,474.9l0.3,3.2M325.6,475.3l0.7,6.8M327.0,475.0l0.5,5.1M328.2,475.2l0.7,7.3M329.9,476.4l0.2,2.5M331.5,476.6l0.2,2.3M332.4,476.6l0.5,4.5M333.8,476.0l0.5,5.3M334.8,477.3l0.3,3.0M336.8,477.2l0.3,2.5M337.5,476.5l0.6,6.5M338.4,477.6l0.3,2.9M340.5,477.0l0.6,6.0M341.7,477.5l0.2,2.5M342.7,478.5l0.2,2.4M343.6,478.2l0.6,6.1M345.0,479.5l0.3,3.2" stroke="#2850e0" stroke-opacity="0.8" stroke-width="0.8" fill="none"/>
</g>
<rect x="19.3" y="92" width="14.7" height="191" fill="#d8e8fc"/>
<rect x="49.8" y="113" width="33.4" height="214" fill="#fdc896"/>
<polygon points="37.9,92 52.3,92 52.3,101.9 49.8,113.4 49.9,238.5 37.9,239.4" fill="#fdc896"/>
<polygon points="34,92 37.9,92 37.9,240.4 49.9,249 64.8,248.1 64.8,303.8 34,281.7" fill="#4f3022"/>
<polygon points="52.3,101.9 82.8,109.6 49.8,113.4" fill="#4f3022"/>
<polygon points="52.3,101.9 81.5,98.5 82.8,109.6" fill="#b8cff0"/>
<polygon points="49.8,113.4 82.8,109.6 83.2,121.4" fill="#dcb597"/>
<polygon points="37.9,239.4 49.9,238.5 49.9,249" fill="#f4a77c"/>
<polygon points="19.6,282.7 34,281.7 64.8,303.8 49.4,305.3" fill="#f4a77a"/>
<polygon points="19,282.7 49.4,305.3 49.4,318.3 19,321.2" fill="#ffffff"/>
<polygon points="19.6,321.2 49.4,318.3 49.4,328.8" fill="#e49a70"/>
<path d="M49.4,305.3 V328.8 M19.6,321.2 L49.4,318.3 M49.8,113.4 L49.9,238.5 M19.6,282.7 L49.4,305.3 L64.8,303.8 M83.2,121 V327 M49.4,328.8 L83.2,326" stroke="#a07a66" stroke-width="0.6" fill="none"/>
<path d="M345.9,136.6 V100" stroke="#0000e0" stroke-width="2"/>
<polygon points="345.9,91 350.2,102.5 341.6,102.5" fill="#0000e0"/>
<path d="M345.9,136.6 L318,139.3" stroke="#e00000" stroke-width="2.6"/>
<polygon points="310.5,139.8 320,135.3 320.5,143" fill="#e00000"/>
<path d="M345.9,136.6 L362,140.2" stroke="#005500" stroke-width="2.4"/>
<ellipse cx="364.5" cy="141.2" rx="4" ry="3.4" fill="#0a7a14"/>
<defs><radialGradient id="cyb" cx="0.4" cy="0.35" r="0.65"><stop offset="0" stop-color="#b0ffff"/><stop offset="0.5" stop-color="#20e8f0"/><stop offset="1" stop-color="#10a8c0"/></radialGradient></defs>
<circle cx="339.2" cy="118.5" r="4.2" fill="url(#cyb)"/>
<g font-family="Liberation Serif, Times New Roman, serif" font-size="25.5"><text x="341.6" y="86.8" fill="#0000ee">Z</text><text x="297.5" y="143.3" fill="#ee0000">X</text><text x="370" y="146.9" fill="#66a032">Y</text></g>
<g font-family="Liberation Serif, Times New Roman, serif" font-weight="bold" font-size="33" text-anchor="middle" fill="#000">
<text x="475.5" y="388.3">Below</text><text x="475.7" y="428.5">meniscus</text>
<text x="474.8" y="478.4">0.4 m</text><text x="474.8" y="644.6">0.6 m</text>
<text x="474.9" y="801.8">0.8 m</text><text x="471.3" y="954.2">1.0 m</text></g>
<path d="M412.4,485.5 H538.5" stroke="#000" stroke-width="3.4" stroke-dasharray="6,3.1"/>
<path d="M411.3,649.9 H538.5" stroke="#000" stroke-width="3.4" stroke-dasharray="6,3.1"/>
<path d="M412.5,807.2 H538.5" stroke="#000" stroke-width="3.4" stroke-dasharray="6,3.1"/>
<path d="M411.3,959.6 H538.5" stroke="#000" stroke-width="3.4" stroke-dasharray="6,3.1"/>
<g font-family="Liberation Serif, Times New Roman, serif" font-weight="bold" font-size="27.5" fill="#2e5398">
<text x="425.5" y="568.6">0.975 m/s</text><text x="438.5" y="726.6">0.427 m/s</text>
<text x="439" y="872.3">0.348 m/s</text><text x="435.5" y="1000.7">0.201 m/s</text></g>
<g font-family="Liberation Serif, Times New Roman, serif" font-weight="bold" font-size="21.5" fill="#2e5398">
<text x="311" y="566.7">Max.</text><text x="332.5" y="727">Max.</text>
<text x="311" y="870.3">Max.</text><text x="309.8" y="997.8">Max.</text></g>
<path d="M364,561.3 H406" stroke="#2e5398" stroke-width="3.2"/>
<polygon points="421,561.3 402,554.3 402,568.3" fill="#2e5398"/>
<path d="M379,720.3 H421.2" stroke="#2e5398" stroke-width="3.2"/>
<polygon points="436.2,720.3 417.2,713.3 417.2,727.3" fill="#2e5398"/>
<path d="M357,862.5 H418.3" stroke="#2e5398" stroke-width="3.2"/>
<polygon points="433.3,862.5 414.3,855.5 414.3,869.5" fill="#2e5398"/>
<path d="M355,990.9 H419" stroke="#2e5398" stroke-width="3.2"/>
<polygon points="434,990.9 415,983.9 415,997.9" fill="#2e5398"/>
<defs><linearGradient id="cb" x1="0" x2="1" y1="0" y2="0"><stop offset="0" stop-color="#0000e6"/><stop offset="0.125" stop-color="#0080ff"/><stop offset="0.25" stop-color="#00ffff"/><stop offset="0.375" stop-color="#00ff80"/><stop offset="0.5" stop-color="#00e000"/><stop offset="0.625" stop-color="#a0ff00"/><stop offset="0.75" stop-color="#ffff00"/><stop offset="0.875" stop-color="#ff9900"/><stop offset="1" stop-color="#ff0000"/></linearGradient></defs>
<rect x="45.6" y="1115.5" width="341.7" height="24" fill="url(#cb)"/>
<path d="M45.6,1111.5 V1115.5" stroke="#c0c0c0" stroke-width="1"/>
<path d="M131,1111.5 V1115.5" stroke="#c0c0c0" stroke-width="1"/>
<path d="M216.5,1111.5 V1115.5" stroke="#c0c0c0" stroke-width="1"/>
<path d="M301.9,1111.5 V1115.5" stroke="#c0c0c0" stroke-width="1"/>
<path d="M387.3,1111.5 V1115.5" stroke="#c0c0c0" stroke-width="1"/>
<g font-family="Liberation Sans, Arial, sans-serif" font-size="16.5" fill="#1a1a1a"><text transform="translate(39.4,1110) rotate(45)" text-anchor="end">0.00</text><text transform="translate(124.8,1110) rotate(45)" text-anchor="end">0.24</text><text transform="translate(210.3,1110) rotate(45)" text-anchor="end">0.49</text><text transform="translate(295.7,1110) rotate(45)" text-anchor="end">0.73</text><text transform="translate(381.1,1110) rotate(45)" text-anchor="end">0.98</text></g>
<text x="386.8" y="1161" text-anchor="end" font-family="Liberation Serif, Times New Roman, serif" font-size="17.5">[m s^-1]</text>
<text x="3" y="1185.3" font-family="Liberation Sans, Arial, sans-serif" font-weight="bold" font-size="27">(a)</text>
<path d="M633,207.4 H812.1 V692" fill="none" stroke="#4a5aa8" stroke-width="2" stroke-dasharray="11,9"/>
<path d="M633,45 H1056 V692 H633 Z M633,368.5 H1056" fill="none" stroke="#000" stroke-width="2"/>
<path d="M651,45 V54 M651,692 V683 M687.9,45 V50 M687.9,692 V687 M724.7,45 V54 M724.7,692 V683 M761.5,45 V50 M761.5,692 V687 M798.4,45 V54 M798.4,692 V683 M835.2,45 V50 M835.2,692 V687 M872.1,45 V54 M872.1,692 V683 M909,45 V50 M909,692 V687 M945.8,45 V54 M945.8,692 V683 M982.7,45 V50 M982.7,692 V687 M1019.5,45 V54 M1019.5,692 V683 M1056.3,45 V50 M1056.3,692 V687 M633,336.1 H642 M633,303.8 H638 M633,271.4 H642 M633,239.1 H638 M633,206.8 H642 M633,174.4 H638 M633,142.1 H642 M633,109.7 H638 M633,77.3 H642 M633,664.9 H642 M633,637.9 H638 M633,611 H642 M633,584 H638 M633,557.1 H642 M633,530.1 H638 M633,503.2 H642 M633,476.2 H638 M633,449.3 H642 M633,422.3 H638 M633,395.4 H642" stroke="#000" stroke-width="2" fill="none"/>
<g font-family="Liberation Sans, Arial, sans-serif" font-weight="bold" font-size="18" text-anchor="middle"><text x="651" y="32.1">0.0</text><text x="651" y="714.8">0.0</text><text x="724.7" y="32.1">0.2</text><text x="724.7" y="714.8">0.2</text><text x="798.4" y="32.1">0.4</text><text x="798.4" y="714.8">0.4</text><text x="872.1" y="32.1">0.6</text><text x="872.1" y="714.8">0.6</text><text x="945.8" y="32.1">0.8</text><text x="945.8" y="714.8">0.8</text><text x="1019.5" y="32.1">1.0</text><text x="1019.5" y="714.8">1.0</text></g>
<g font-family="Liberation Sans, Arial, sans-serif" font-weight="bold" font-size="18" text-anchor="end"><text x="624" y="82.5">0.2</text><text x="624" y="147.2">0.1</text><text x="624" y="211.9">0.0</text><text x="624" y="276.6">-0.1</text><text x="624" y="341.3">-0.2</text><text x="624" y="400.6">0.25</text><text x="624" y="454.5">0.20</text><text x="624" y="508.4">0.15</text><text x="624" y="562.3">0.10</text><text x="624" y="616.2">0.05</text><text x="624" y="670.1">0.00</text></g>
<text transform="translate(580,192.8) rotate(-90)" text-anchor="middle" font-family="Liberation Sans, Arial, sans-serif" font-size="21.5">Vz, m/s</text>
<text transform="translate(576.5,513.5) rotate(-90)" text-anchor="middle" font-family="Liberation Sans, Arial, sans-serif" font-size="21.5">V-magnitude, m/s</text>
<text x="714" y="748.7" font-family="Liberation Sans, Arial, sans-serif" font-size="21.7">Distance from meniscus, m</text>
<text x="579" y="746" font-family="Liberation Sans, Arial, sans-serif" font-weight="bold" font-size="27">(b)</text>
<path d="M654.1,199.1C655.7,196.5 660.4,188.5 663.5,183.5C666.6,178.5 670.5,172.2 672.9,169C675.3,165.8 676.4,165.1 678,164C679.6,162.9 680.9,162.3 682.3,162.4C683.7,162.5 685.1,163.1 686.5,164.5C687.9,165.9 689.6,168.9 690.8,170.9C692,172.9 692.1,177.2 693.6,176.5C695.1,175.8 697.3,170.4 700,167C702.7,163.6 706.9,158.3 709.6,155.9C712.3,153.5 714.1,153.2 716,152.5C717.9,151.8 719.1,151.4 721,151.5C722.9,151.6 725.9,154.8 727.1,153C728.3,151.2 727.8,144.1 728.4,140.8C729,137.5 730.1,135.2 731,133C731.9,130.8 733.2,128.6 734,127.6C734.8,126.6 735.4,126.6 736,127C736.6,127.4 736.8,130.2 737.5,130C738.2,129.8 738.7,128 740,126C741.3,124 743.2,120.2 745.4,118.2C747.5,116.2 750.8,114.8 752.9,114.1C755,113.4 756.4,113.7 758,114C759.6,114.3 760.6,114.7 762.3,116C764,117.3 766.4,120.1 768,122C769.6,123.9 770.4,125.3 771.7,127.6C773,129.9 774.5,133 776,136C777.5,139 779.5,145.5 780.7,145.5C781.9,145.5 782.3,139 783,136C783.7,133 784.2,129.9 784.9,127.6C785.6,125.3 786.2,123.2 787,122C787.8,120.8 788.9,120.6 789.6,120.5C790.4,120.4 790.9,120.9 791.5,121.5C792.1,122.1 792.7,121.3 793.3,123.9C793.9,126.5 794.6,131.1 795.2,137C795.8,142.9 796.5,154.7 797.1,159.6C797.7,164.5 797.7,162 799,166.2C800.3,170.4 803,178.2 805,185C807,191.8 809.1,199.3 811.2,206.7C813.3,214.1 815.3,220.2 817.8,229.6C820.3,239 823,251.1 826,263C829,274.9 832.7,291 835.9,301.3C839.1,311.6 841.9,318.3 845,325C848.1,331.7 851.4,337.2 854.4,341.4C857.4,345.6 860,348 863,350C866,352 869.3,353 872.5,353.3C875.7,353.6 878.9,352.8 882,352C885.1,351.2 886.5,350.7 891,348.8C895.5,346.9 902.7,343.4 908.9,340.4C915.1,337.4 924,333.7 928.2,331C932.4,328.3 932.3,326.9 934,324C935.7,321.1 937.3,317.7 938.5,313.7C939.7,309.7 940.2,306.2 941,300C941.8,293.8 942.8,285.8 943.5,276.6C944.2,267.4 945,253.7 945.5,245C946,236.3 946.1,228.5 946.5,224.6C946.9,220.7 947.2,222.2 948,221.5C948.8,220.8 948.2,220.8 951,220.7C953.8,220.6 947.5,220.7 965,220.7C982.5,220.7 1040.8,220.7 1056,220.7" fill="none" stroke="#0000ff" stroke-width="2.3" stroke-linejoin="round"/>
<path d="M654.1,192.7 L655.7,196.9 L660.2,197.1 L656.7,199.9 L657.9,204.3 L654.1,201.8 L650.3,204.3 L651.5,199.9 L648,197.1 L652.5,196.9Z M672.9,162.6 L674.5,166.8 L679,167 L675.5,169.8 L676.7,174.2 L672.9,171.8 L669.1,174.2 L670.3,169.8 L666.8,167 L671.3,166.8Z M690.8,164.5 L692.4,168.7 L696.9,168.9 L693.4,171.7 L694.6,176.1 L690.8,173.7 L687,176.1 L688.2,171.7 L684.7,168.9 L689.2,168.7Z M709.6,149.5 L711.2,153.7 L715.7,153.9 L712.2,156.7 L713.4,161.1 L709.6,158.7 L705.8,161.1 L707,156.7 L703.5,153.9 L708,153.7Z M727.1,146.6 L728.7,150.8 L733.2,151 L729.7,153.8 L730.9,158.2 L727.1,155.8 L723.3,158.2 L724.5,153.8 L721,151 L725.5,150.8Z M745.4,111.8 L747,116 L751.5,116.2 L748,119 L749.2,123.4 L745.4,121 L741.6,123.4 L742.8,119 L739.3,116.2 L743.8,116Z M762.3,109.6 L763.9,113.8 L768.4,114 L764.9,116.8 L766.1,121.2 L762.3,118.8 L758.5,121.2 L759.7,116.8 L756.2,114 L760.7,113.8Z M780.7,139.1 L782.3,143.3 L786.8,143.5 L783.3,146.3 L784.5,150.7 L780.7,148.2 L776.9,150.7 L778.1,146.3 L774.6,143.5 L779.1,143.3Z M799,159.8 L800.6,164 L805.1,164.2 L801.6,167 L802.8,171.4 L799,168.9 L795.2,171.4 L796.4,167 L792.9,164.2 L797.4,164Z M817.8,223.2 L819.4,227.4 L823.9,227.6 L820.4,230.4 L821.6,234.8 L817.8,232.3 L814,234.8 L815.2,230.4 L811.7,227.6 L816.2,227.4Z M835.9,294.9 L837.5,299.1 L842,299.3 L838.5,302.1 L839.7,306.5 L835.9,304.1 L832.1,306.5 L833.3,302.1 L829.8,299.3 L834.3,299.1Z M854.4,335 L856,339.2 L860.5,339.4 L857,342.2 L858.2,346.6 L854.4,344.1 L850.6,346.6 L851.8,342.2 L848.3,339.4 L852.8,339.2Z M872.5,346.9 L874.1,351.1 L878.6,351.3 L875.1,354.1 L876.3,358.5 L872.5,356.1 L868.7,358.5 L869.9,354.1 L866.4,351.3 L870.9,351.1Z M891,342.4 L892.6,346.6 L897.1,346.8 L893.6,349.6 L894.8,354 L891,351.6 L887.2,354 L888.4,349.6 L884.9,346.8 L889.4,346.6Z M908.9,334 L910.5,338.2 L915,338.4 L911.5,341.2 L912.7,345.6 L908.9,343.1 L905.1,345.6 L906.3,341.2 L902.8,338.4 L907.3,338.2Z M928.2,324.6 L929.8,328.8 L934.3,329 L930.8,331.8 L932,336.2 L928.2,333.8 L924.4,336.2 L925.6,331.8 L922.1,329 L926.6,328.8Z M946.5,218.2 L948.1,222.4 L952.6,222.6 L949.1,225.4 L950.3,229.8 L946.5,227.3 L942.7,229.8 L943.9,225.4 L940.4,222.6 L944.9,222.4Z M965,214.5 L966.6,218.7 L971.1,218.9 L967.6,221.7 L968.8,226.1 L965,223.7 L961.2,226.1 L962.4,221.7 L958.9,218.9 L963.4,218.7Z M983.1,214.5 L984.7,218.7 L989.2,218.9 L985.7,221.7 L986.9,226.1 L983.1,223.7 L979.3,226.1 L980.5,221.7 L977,218.9 L981.5,218.7Z M1001.6,214.5 L1003.2,218.7 L1007.7,218.9 L1004.2,221.7 L1005.4,226.1 L1001.6,223.7 L997.8,226.1 L999,221.7 L995.5,218.9 L1000,218.7Z M1019.7,214.5 L1021.3,218.7 L1025.8,218.9 L1022.3,221.7 L1023.5,226.1 L1019.7,223.7 L1015.9,226.1 L1017.1,221.7 L1013.6,218.9 L1018.1,218.7Z M1038,214.5 L1039.6,218.7 L1044.1,218.9 L1040.6,221.7 L1041.8,226.1 L1038,223.7 L1034.2,226.1 L1035.4,221.7 L1031.9,218.9 L1036.4,218.7Z M1056,214.5 L1057.6,218.7 L1062.1,218.9 L1058.6,221.7 L1059.8,226.1 L1056,223.7 L1052.2,226.1 L1053.4,221.7 L1049.9,218.9 L1054.4,218.7Z" fill="#0000ff"/>
<path d="M650.9,643.1C651.2,643.9 651.9,646.5 652.5,648C653.1,649.5 652.7,655.9 654.5,652.1C656.3,648.3 660.4,633.3 663.5,625C666.6,616.7 670.5,607.3 672.9,602.1C675.3,596.9 676.4,595.8 678,594C679.6,592.2 680.9,591.6 682.3,591.4C683.7,591.2 685,591.9 686.5,593C688,594.1 689.5,599.2 691.2,597.9C693,596.6 695,589.3 697,585C699,580.7 700.9,576.3 703,572C705.1,567.7 707.8,562.2 709.6,559.4C711.4,556.6 712.4,556.1 714,555C715.6,553.9 717.5,553.2 719,552.8C720.5,552.4 721.6,552.5 723,552.5C724.4,552.5 726.5,553.5 727.5,552.8C728.5,552 728.5,549.6 729,548C729.5,546.4 729.8,545.2 730.3,543.4C730.8,541.6 731.4,539.2 732,537C732.6,534.8 733,533.5 734,530.2C735,526.9 736.6,521 737.8,517C739,513 739.7,509.4 741,506C742.3,502.6 744.1,499 745.4,496.7C746.7,494.4 747.8,493.1 749,492C750.2,490.9 751.6,490.2 752.9,489.8C754.2,489.4 755.4,489.1 757,489.5C758.6,489.9 760.6,490.8 762.3,492.2C764,493.6 765.4,495.4 767,498C768.6,500.6 770.2,503.8 771.7,507.6C773.2,511.4 774.5,515.5 776,521C777.5,526.5 779.5,538.8 780.7,540.6C781.9,542.4 782.1,534.7 783,532C783.9,529.3 785,526.5 785.8,524.6C786.6,522.7 787.2,521.4 788,520.5C788.8,519.6 789.6,519.4 790.5,519.3C791.4,519.2 792.6,517.3 793.3,519.9C794,522.5 794,528.3 794.5,535C795,541.7 795.5,553.7 796.2,560.3C797,566.9 797.4,567.3 799,574.4C800.6,581.5 803.8,593.4 806,603C808.2,612.6 810.7,628 812.2,631.8C813.7,635.6 814.1,628.1 815,626C815.9,623.9 815.6,630 817.4,619C819.2,608 823,578.7 826,560C829,541.3 832.5,522.5 835.7,506.7C838.9,490.9 841.9,476.2 845,465C848.1,453.8 851.6,445.7 854.6,439.2C857.6,432.7 860,428.9 863,426C866,423.1 869.5,421.9 872.7,421.6C875.9,421.3 878.9,422.9 882,424C885.1,425.1 888.1,426.4 891.1,428.1C894.1,429.8 896.9,431.8 900,434C903.1,436.2 906.6,438.8 909.8,441.1C913,443.4 916,445.3 919,448C922,450.7 925.6,454.4 927.9,457.4C930.2,460.4 931.5,463 933,466C934.5,469 935.7,468.7 937,475.5C938.3,482.3 939.8,494.9 940.9,506.6C942,518.3 942.9,530.4 943.5,545.5C944.1,560.6 944.4,582.7 944.8,597.4C945.2,612.1 945.6,626.7 946.1,633.6C946.6,640.5 947.2,637.7 948,639C948.8,640.3 948.2,641 951,641.5C953.8,642 947.2,641.9 964.7,642C982.2,642.1 1040.8,642 1056,642" fill="none" stroke="#ff0000" stroke-width="2.3" stroke-linejoin="round"/>
<defs><radialGradient id="ball" cx="0.38" cy="0.32" r="0.7"><stop offset="0" stop-color="#fff"/><stop offset="0.18" stop-color="#ffd0d0"/><stop offset="0.4" stop-color="#ff1010"/><stop offset="1" stop-color="#d00000"/></radialGradient></defs>
<g fill="url(#ball)"><circle cx="654.5" cy="652.1" r="5.3"/><circle cx="672.9" cy="602.1" r="5.3"/><circle cx="691.2" cy="597.9" r="5.3"/><circle cx="709.6" cy="559.4" r="5.3"/><circle cx="727.5" cy="552.8" r="5.3"/><circle cx="745.4" cy="496.7" r="5.3"/><circle cx="762.3" cy="492.2" r="5.3"/><circle cx="780.7" cy="540.6" r="5.3"/><circle cx="799" cy="574.4" r="5.3"/><circle cx="817.4" cy="619" r="5.3"/><circle cx="835.8" cy="506.7" r="5.3"/><circle cx="854.6" cy="439.2" r="5.3"/><circle cx="872.7" cy="421.6" r="5.3"/><circle cx="891.1" cy="428.1" r="5.3"/><circle cx="909.8" cy="441.1" r="5.3"/><circle cx="927.9" cy="457.4" r="5.3"/><circle cx="946.1" cy="633.6" r="5.3"/><circle cx="964.7" cy="642" r="5.3"/><circle cx="983.1" cy="642" r="5.3"/><circle cx="1001.8" cy="642" r="5.3"/><circle cx="1020" cy="642" r="5.3"/><circle cx="1038.1" cy="642" r="5.3"/><circle cx="1055.7" cy="642" r="5.3"/></g>
<path d="M639,800.6 H1060 V1139.4 H639 Z" fill="none" stroke="#000" stroke-width="2"/>
<path d="M646,1139.4 V1132.4 M683,1139.4 V1135.4 M720.1,1139.4 V1132.4 M757.1,1139.4 V1135.4 M794.2,1139.4 V1132.4 M831.2,1139.4 V1135.4 M868.3,1139.4 V1132.4 M905.3,1139.4 V1135.4 M942.4,1139.4 V1132.4 M979.5,1139.4 V1135.4 M1016.5,1139.4 V1132.4 M1053.5,1139.4 V1135.4 M639,1105.5 H643 M639,1071.6 H646 M639,1037.8 H643 M639,1003.9 H646 M639,970 H643 M639,936.1 H646 M639,902.2 H643 M639,868.4 H646 M639,834.5 H643" stroke="#000" stroke-width="2" fill="none"/>
<g font-family="Liberation Sans, Arial, sans-serif" font-weight="bold" font-size="18" text-anchor="middle"><text x="646" y="1161">0.0</text><text x="720.1" y="1161">0.5</text><text x="794.2" y="1161">1.0</text><text x="868.3" y="1161">1.5</text><text x="942.4" y="1161">2.0</text><text x="1016.5" y="1161">2.5</text></g>
<g font-family="Liberation Sans, Arial, sans-serif" font-weight="bold" font-size="18" text-anchor="end"><text x="631.2" y="805.8">0.2</text><text x="631.2" y="873.6">0.0</text><text x="631.2" y="941.3">-0.2</text><text x="631.2" y="1009.1">-0.4</text><text x="631.2" y="1076.8">-0.6</text><text x="631.2" y="1144.6">-0.8</text></g>
<text transform="translate(594,970.5) rotate(-90)" text-anchor="middle" font-family="Liberation Sans, Arial, sans-serif" font-weight="bold" font-size="19.5">Vz, m/s</text>
<text x="707" y="1191.9" font-family="Liberation Sans, Arial, sans-serif" font-weight="bold" font-size="19.3">Distance from the meniscus, m</text>
<text x="579.5" y="1185.3" font-family="Liberation Sans, Arial, sans-serif" font-weight="bold" font-size="27">(c)</text>
<path d="M641,875.2 H1059" stroke="#000" stroke-width="1.6" stroke-dasharray="6.5,5"/>
<path d="M688.3,864.9C688.4,863.6 688.4,859.5 688.8,857C689.2,854.5 689.5,852.5 690.5,850C691.5,847.5 693.1,844.5 695,842C696.9,839.5 699.5,836.9 702,835C704.5,833.1 707,832.4 710,830.5C713,828.6 716.5,825.5 720,823.5C723.5,821.5 727.5,820 731,818.8C734.5,817.5 737.4,816.6 741,816C744.6,815.4 748.8,815.3 752.5,815.4C756.2,815.5 759.4,816 763,816.5C766.6,817 770.3,817.6 774,818.6C777.7,819.6 781.5,821 785,822.5C788.5,824 791.7,825.5 795.2,827.3C798.7,829 802.4,831.1 806,833C809.6,834.9 813.1,836.6 816.6,838.5C820.1,840.4 823.4,842.5 827,844.5C830.6,846.5 834.5,848.5 838.2,850.2C841.9,852 845.4,853.5 849,855C852.6,856.5 856.3,857.9 859.8,859C863.3,860.1 866.5,860.8 870,861.5C873.5,862.2 877.4,862.4 880.9,863C884.4,863.6 887.5,864.4 891,865C894.5,865.6 898.5,866 902.2,866.6C905.9,867.2 909.4,867.9 913,868.5C916.6,869.1 920.1,869.5 923.6,870C927.1,870.5 930.5,870.9 934,871.3C937.5,871.7 939.5,872 944.9,872.2C950.3,872.5 959.3,872.6 966.5,872.8C973.7,873 980.9,873.1 988.1,873.2C995.3,873.3 1002.4,873.5 1009.5,873.6C1016.6,873.7 1023.8,873.8 1030.9,873.9C1038,874 1047.5,874 1052.3,874.1C1057.1,874.2 1058.7,874.2 1060,874.2" fill="none" stroke="#000" stroke-width="1.45"/>
<path d="M684.8,861.4 h7 v7 h-7Z M706.5,827 h7 v7 h-7Z M727.5,815.3 h7 v7 h-7Z M749,811.9 h7 v7 h-7Z M770.5,815.1 h7 v7 h-7Z M791.7,823.8 h7 v7 h-7Z M813.1,835 h7 v7 h-7Z M834.7,846.7 h7 v7 h-7Z M856.3,855.5 h7 v7 h-7Z M877.4,859.5 h7 v7 h-7Z M898.7,863.1 h7 v7 h-7Z M920.1,866.5 h7 v7 h-7Z M941.4,868.7 h7 v7 h-7Z M963,869.3 h7 v7 h-7Z M984.6,869.7 h7 v7 h-7Z M1006,870.1 h7 v7 h-7Z M1027.4,870.4 h7 v7 h-7Z M1048.8,870.6 h7 v7 h-7Z" fill="#000"/>
<path d="M645.4,865.4C647.2,867.5 652.5,874.1 656,878C659.5,881.9 664,887.2 666.7,888.8C669.4,890.4 670.5,888 672,887.5C673.5,887 675,886.3 675.9,886C676.8,885.7 677,885 677.5,885.5C678,886 678.2,882.4 678.7,889C679.2,895.6 679.7,904.8 680.5,925C681.3,945.2 682.5,983.3 683.5,1010C684.5,1036.7 685.6,1069.8 686.2,1085C686.9,1100.2 687,1101.7 687.4,1100.9C687.8,1100.1 688.1,1096.8 688.6,1080C689.1,1063.2 689.7,1026.7 690.2,1000C690.7,973.3 691.1,941.2 691.4,920C691.7,898.8 692,883 692.2,873C692.4,863 692.6,863.4 692.8,860C693,856.6 693,854.2 693.5,852.5C694,850.8 694.4,850.6 695.5,850C696.6,849.4 697.8,849.5 700,848.8C702.2,848.1 705.7,847.3 709,846C712.3,844.7 716.4,842.5 720,841C723.6,839.5 727.2,838.1 730.7,837C734.2,835.9 737.5,835.1 741,834.3C744.5,833.5 748.4,832.8 751.9,832.3C755.4,831.8 758.4,831.3 762,831C765.6,830.7 769.7,830.2 773.4,830.5C777.1,830.8 780.4,831.6 784,832.5C787.6,833.4 791.3,834.8 794.8,836.1C798.3,837.4 801.4,838.9 805,840.5C808.6,842.1 812.6,844.2 816.3,846C820,847.8 823.5,849.6 827,851.5C830.5,853.4 834.1,855.9 837.6,857.4C841.1,858.9 844.4,859.8 848,860.8C851.6,861.8 855.3,862.6 859,863.4C862.7,864.1 866.4,864.7 870,865.3C873.6,865.9 877,866.2 880.5,866.8C884,867.4 887.5,868.1 891,868.7C894.5,869.3 898.3,870 901.8,870.5C905.3,871 908.4,871.2 912,871.5C915.6,871.8 917.8,871.9 923.2,872.2C928.6,872.5 937.5,873.2 944.6,873.5C951.7,873.8 958.9,873.9 966,874C973.1,874.1 980.3,874.3 987.5,874.4C994.7,874.5 1001.9,874.6 1009,874.7C1016.1,874.8 1023.2,874.8 1030.4,874.8C1037.6,874.8 1047.1,874.9 1052,874.9C1056.9,874.9 1058.7,874.9 1060,874.9" fill="none" stroke="#ff0000" stroke-width="1.45"/>
<g fill="#ff0000"><circle cx="666.7" cy="888.8" r="4.4"/><circle cx="687.4" cy="1100.9" r="4.4"/><circle cx="709" cy="846" r="4.4"/><circle cx="730.7" cy="837" r="4.4"/><circle cx="751.9" cy="832.3" r="4.4"/><circle cx="773.4" cy="830.5" r="4.4"/><circle cx="794.8" cy="836.1" r="4.4"/><circle cx="816.3" cy="846" r="4.4"/><circle cx="837.6" cy="857.4" r="4.4"/><circle cx="859" cy="863.4" r="4.4"/><circle cx="880.5" cy="866.8" r="4.4"/><circle cx="901.8" cy="870.5" r="4.4"/><circle cx="923.2" cy="872.2" r="4.4"/><circle cx="944.6" cy="873.5" r="4.4"/><circle cx="966" cy="874" r="4.4"/><circle cx="987.5" cy="874.4" r="4.4"/><circle cx="1009" cy="874.7" r="4.4"/><circle cx="1030.4" cy="874.8" r="4.4"/><circle cx="1051.8" cy="874.9" r="4.4"/></g>
<path d="M645.4,865.4C647.2,867 652.4,871.9 656,875C659.6,878.1 663.9,881.8 667,884C670.1,886.2 672.6,887.5 674.8,888.3C677,889.1 678.5,888.6 680,889C681.5,889.4 682.9,889.5 684,890.5C685.1,891.5 685.8,892.6 686.5,895C687.2,897.4 687.8,898.3 688.5,905C689.2,911.7 690.1,921.7 691,935C691.9,948.3 693.1,972.2 694,985C694.9,997.8 695.7,1006 696.5,1012C697.3,1018 698,1021.6 698.7,1021.3C699.4,1021 700.1,1017.7 700.8,1010C701.5,1002.3 702.2,989.2 703,975C703.8,960.8 704.8,940 705.5,925C706.2,910 706.9,895.8 707.5,885C708.1,874.2 708.2,865.2 709.1,860C710,854.8 711.2,855.5 713,853.5C714.8,851.5 717,849.8 720,848C723,846.2 727.5,844 731,842.7C734.5,841.4 737.5,840.8 741,840.4C744.5,840 748.3,840.1 752,840.4C755.7,840.7 759.4,841.1 763,842C766.6,842.9 769.9,844.1 773.4,845.5C776.9,846.9 780.4,848.7 784,850.5C787.6,852.3 791.3,854.3 794.8,856.2C798.3,858.1 801.4,860.1 805,862C808.6,863.9 812.8,866.3 816.3,867.5C819.8,868.7 822.5,868.9 826,869.4C829.5,869.9 833.9,870.1 837.6,870.5C841.3,870.9 844.4,871.5 848,872C851.6,872.5 853.6,872.9 859,873.2C864.4,873.5 873.3,873.6 880.5,873.8C887.7,874 894.8,874.2 902,874.3C909.2,874.4 916.3,874.5 923.5,874.6C930.7,874.7 922.2,874.7 945,874.8C967.8,874.9 1040.8,875 1060,875" fill="none" stroke="#0000ff" stroke-width="1.45"/>
<path d="M645.4,859.7 L650.6,869.3 L640.2,869.3Z M667,878.3 L672.2,887.9 L661.8,887.9Z M688,894.3 L693.2,903.9 L682.8,903.9Z M709.1,854.3 L714.3,863.9 L703.9,863.9Z M731,837 L736.2,846.6 L725.8,846.6Z M752,834.7 L757.2,844.3 L746.8,844.3Z M773.4,839.8 L778.6,849.4 L768.2,849.4Z M794.8,850.5 L800,860.1 L789.6,860.1Z M816.3,861.8 L821.5,871.4 L811.1,871.4Z M837.6,864.8 L842.8,874.4 L832.4,874.4Z M859,867.5 L864.2,877.1 L853.8,877.1Z M880.5,868.1 L885.7,877.7 L875.3,877.7Z M902,868.6 L907.2,878.2 L896.8,878.2Z M923.5,868.9 L928.7,878.5 L918.3,878.5Z M945,869.1 L950.2,878.7 L939.8,878.7Z M966.5,869.2 L971.7,878.8 L961.3,878.8Z M988,869.3 L993.2,878.9 L982.8,878.9Z M1009.5,869.3 L1014.7,878.9 L1004.3,878.9Z M1031,869.3 L1036.2,878.9 L1025.8,878.9Z M1052.3,869.3 L1057.5,878.9 L1047.1,878.9Z" fill="#0000ff"/>
<path d="M645.4,865.4C646.3,864 648.9,859.2 651,857C653.1,854.8 655.3,853.1 658,852C660.7,850.9 663.8,849.6 667,850.6C670.2,851.6 673.5,854.6 677,858C680.5,861.4 685.2,865.7 688,871C690.8,876.3 692.2,882.7 694,890C695.8,897.3 697.4,906.3 699,915C700.6,923.7 702.2,934.8 703.5,942C704.8,949.2 706.1,954.8 707,958C707.9,961.2 708.4,962.4 709.1,961.1C709.9,959.8 710.5,956.5 711.5,950C712.5,943.5 713.8,931.2 715,922C716.2,912.8 717.6,902.7 719,895C720.4,887.3 722.2,880.2 723.5,876C724.8,871.8 725.9,870.7 727,869.5C728.1,868.3 728.8,868.7 730.3,869C731.8,869.3 733.9,869.8 736,871.5C738.1,873.2 740.3,875.5 743,879C745.7,882.5 748.8,887.7 752,892.5C755.2,897.3 758.4,903.8 762,908C765.6,912.2 769.6,915.8 773.4,917.5C777.2,919.2 781.4,918.9 785,918.5C788.6,918.1 791.5,916.3 794.8,915C798.1,913.7 801.4,912.1 805,910.5C808.6,908.9 812.6,906.9 816.3,905.1C820,903.4 823.5,901.6 827,900C830.5,898.4 834.1,896.9 837.6,895.4C841.1,893.9 844.4,892.5 848,891.2C851.6,889.9 855.3,888.8 859,887.8C862.7,886.8 866.4,886 870,885.2C873.6,884.4 877,883.6 880.5,883.1C884,882.6 887.5,882.3 891,882C894.5,881.7 898.3,881.6 901.8,881.3C905.3,881 908.4,880.4 912,880C915.6,879.6 917.7,879.1 923.2,878.8C928.7,878.4 937.7,878.2 944.9,877.9C952.1,877.6 959.3,877.3 966.5,877C973.7,876.7 980.9,876.4 988.1,876.2C995.3,876 1002.4,875.9 1009.5,875.8C1016.6,875.7 1023.8,875.6 1030.9,875.5C1038,875.4 1047.5,875.3 1052.3,875.2C1057.1,875.1 1058.7,875.1 1060,875.1" fill="none" stroke="#ff00ff" stroke-width="1.45"/>
<path d="M645.4,871.1 L650.6,861.5 L640.2,861.5Z M667,856.3 L672.2,846.7 L661.8,846.7Z M688,876.7 L693.2,867.1 L682.8,867.1Z M709.1,966.8 L714.3,957.2 L703.9,957.2Z M730.3,874.7 L735.5,865.1 L725.1,865.1Z M752,898.2 L757.2,888.6 L746.8,888.6Z M773.4,923.7 L778.6,914.1 L768.2,914.1Z M794.8,920.7 L800,911.1 L789.6,911.1Z M816.3,910.8 L821.5,901.2 L811.1,901.2Z M837.6,901.1 L842.8,891.5 L832.4,891.5Z M859,893.5 L864.2,883.9 L853.8,883.9Z M880.5,888.8 L885.7,879.2 L875.3,879.2Z M901.8,887 L907,877.4 L896.6,877.4Z M923.2,884.5 L928.4,874.9 L918,874.9Z M944.9,883.6 L950.1,874 L939.7,874Z M966.5,882.7 L971.7,873.1 L961.3,873.1Z M988.1,881.9 L993.3,872.3 L982.9,872.3Z M1009.5,881.5 L1014.7,871.9 L1004.3,871.9Z M1030.9,881.2 L1036.1,871.6 L1025.7,871.6Z M1052.3,880.9 L1057.5,871.3 L1047.1,871.3Z" fill="#ff00ff"/>
<text x="748.5" y="876.5" font-family="Liberation Sans, Arial, sans-serif" font-weight="bold" font-size="16.5" fill="#8000ff">V<tspan font-size="11.5" dy="6">z</tspan><tspan dy="-6">=V</tspan><tspan font-size="11.5" dy="6">cast</tspan></text>
<text x="773" y="995.6" font-family="Liberation Sans, Arial, sans-serif" font-weight="bold" font-size="17.6" fill="#0000ee">Distance from center</text>
<path d="M811.4,1010.7 H851.8" stroke="#000" stroke-width="1.6"/>
<rect x="828.2" y="1007.2" width="7" height="7" fill="#000"/>
<text x="856.5" y="1016.9" font-family="Liberation Sans, Arial, sans-serif" font-size="17.6">0</text>
<path d="M811.4,1032.8 H851.8" stroke="#ff0000" stroke-width="1.6"/>
<circle cx="831.7" cy="1032.8" r="4.2" fill="#ff0000"/>
<text x="856.5" y="1039" font-family="Liberation Sans, Arial, sans-serif" font-size="17.6">191 mm</text>
<path d="M811.4,1054.8 H851.8" stroke="#0000ff" stroke-width="1.6"/>
<path d="M831.7,1049.3 L836.7,1058.5 L826.7,1058.5Z" fill="#0000ff"/>
<text x="856.5" y="1061" font-family="Liberation Sans, Arial, sans-serif" font-size="17.6">382 mm</text>
<path d="M811.4,1076.3 H851.8" stroke="#ff00ff" stroke-width="1.6"/>
<path d="M831.7,1081.8 L836.7,1072.5 L826.7,1072.5Z" fill="#ff00ff"/>
<text x="856.5" y="1082.5" font-family="Liberation Sans, Arial, sans-serif" font-size="17.6">574 mm</text>
</svg>
</body></html>
